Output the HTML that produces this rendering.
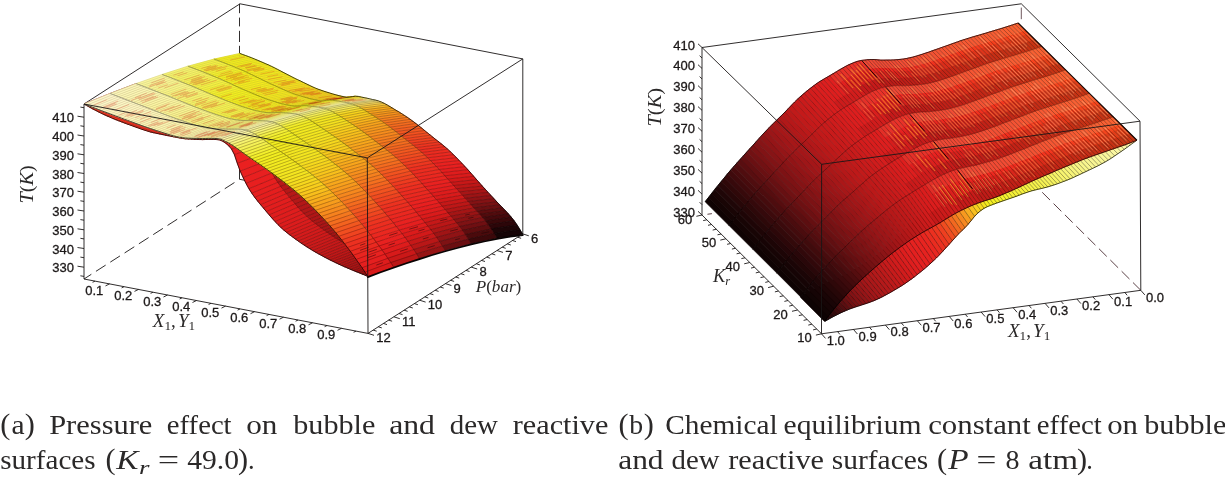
<!DOCTYPE html>
<html><head><meta charset="utf-8"><title>Reactive bubble and dew surfaces</title>
<style>
html,body{margin:0;padding:0;background:#fff}
body{width:1225px;height:479px;overflow:hidden}
svg{display:block}
.s{font-family:"Liberation Sans",sans-serif;font-size:13px;fill:#1c1818;stroke:#1c1818;stroke-width:.3px}
.m{font-family:"Liberation Serif",serif;font-style:italic;fill:#2b2929}
.r{font-family:"Liberation Serif",serif;fill:#2b2929}
</style></head><body>
<svg width="1225" height="479" viewBox="0 0 1225 479">
<g stroke="#1a1616" stroke-width=".9" fill="none">
<line x1="239.5" y1="179.3" x2="239.5" y2="168.8"/>
<line x1="239.5" y1="3.8" x2="239.5" y2="60.0" stroke-dasharray="9.4 4.4 8.8 4.4 11.2 3.8 12"/>
<line x1="239.5" y1="179.3" x2="84.0" y2="279.0" stroke-dasharray="0 6 11.5 5.5 11.5 5.5 11.5 5.5 11.5 5.5 11.5 5.5 11.5 5.5 11.5 5.5 11.5 5.5 11.5 5.5 11.5 5.5 11.5 5.5"/>
<line x1="239.5" y1="179.3" x2="522.8" y2="233.9" stroke-dasharray="7 5.5 19 5.5"/>
<line x1="84.0" y1="104.0" x2="240.0" y2="3.8"/>
<line x1="240.0" y1="3.8" x2="522.8" y2="58.9"/>
<line x1="522.8" y1="58.9" x2="522.8" y2="233.9"/>
<line x1="1021.3" y1="7.6" x2="1021.3" y2="19.2" stroke="#4a2c32" stroke-width=".8"/>
<g stroke="#4a2c32">
<line x1="1140.8" y1="290.3" x2="1021.3" y2="171.5" stroke-dasharray="11 5"/>
<line x1="702.0" y1="215.0" x2="1021.3" y2="171.5" stroke-dasharray="0 5.5 4.5 400"/>
</g>
<line x1="702.0" y1="47.5" x2="1021.3" y2="3.8"/>
<line x1="1021.3" y1="3.8" x2="1140.0" y2="121.2"/>
<line x1="1140.0" y1="121.2" x2="1140.8" y2="290.3"/>
</g>
<g fill="currentColor" stroke="currentColor" stroke-width=".7" stroke-linejoin="round">
<polygon points="110.0,93.5 112.9,95.1 138.9,85.2 136.0,83.6" color="#c02d1a"/>
<polygon points="112.9,95.1 115.8,96.7 141.8,86.8 138.9,85.2" color="#c02c1a"/>
<polygon points="115.8,96.7 118.7,98.3 144.7,88.3 141.8,86.8" color="#c02c1a"/>
<polygon points="118.7,98.3 121.6,99.8 147.5,89.9 144.7,88.3" color="#c02c1a"/>
<polygon points="121.6,99.8 124.4,101.3 150.4,91.3 147.5,89.9" color="#c02b1a"/>
<polygon points="124.4,101.3 127.3,102.7 153.3,92.7 150.4,91.3" color="#c02b1a"/>
<polygon points="127.3,102.7 130.2,104.1 156.2,94.1 153.3,92.7" color="#c02b1a"/>
<polygon points="130.2,104.1 133.1,105.4 159.1,95.4 156.2,94.1" color="#c02b1a"/>
<polygon points="133.1,105.4 136.0,106.7 162.0,96.7 159.1,95.4" color="#c02a1a"/>
<polygon points="136.0,106.7 138.9,107.9 164.9,98.0 162.0,96.7" color="#c02a1a"/>
<polygon points="138.9,107.9 141.8,109.1 167.8,99.2 164.9,98.0" color="#c02a1a"/>
<polygon points="141.8,109.1 144.7,110.3 170.7,100.5 167.8,99.2" color="#c0291a"/>
<polygon points="144.7,110.3 147.6,111.5 173.5,101.7 170.7,100.5" color="#c0291a"/>
<polygon points="147.6,111.5 150.5,112.7 176.4,102.9 173.5,101.7" color="#c0291a"/>
<polygon points="150.5,112.7 153.4,113.8 179.3,104.1 176.4,102.9" color="#bf291a"/>
<polygon points="153.4,113.8 156.2,114.9 182.2,105.3 179.3,104.1" color="#bf281a"/>
<polygon points="156.2,114.9 159.1,116.0 185.1,106.4 182.2,105.3" color="#bf281a"/>
<polygon points="159.1,116.0 162.0,117.1 188.0,107.6 185.1,106.4" color="#bf281a"/>
<polygon points="162.0,117.1 164.9,118.2 190.9,108.7 188.0,107.6" color="#bf271a"/>
<polygon points="164.9,118.2 167.8,119.2 193.8,109.8 190.9,108.7" color="#bf271a"/>
<polygon points="167.8,119.2 170.7,120.2 196.7,110.9 193.8,109.8" color="#bf271a"/>
<polygon points="170.7,120.2 173.6,121.2 199.6,111.9 196.7,110.9" color="#bf271a"/>
<polygon points="173.6,121.2 176.5,122.1 202.4,112.9 199.6,111.9" color="#bf261a"/>
<polygon points="176.5,122.1 179.4,122.9 205.3,113.7 202.4,112.9" color="#bf261a"/>
<polygon points="179.4,122.9 182.3,123.6 208.2,114.5 205.3,113.7" color="#bf261a"/>
<polygon points="182.3,123.6 185.2,124.2 211.1,115.2 208.2,114.5" color="#bf251a"/>
<polygon points="185.2,124.2 188.0,124.9 214.0,115.9 211.1,115.2" color="#bf251a"/>
<polygon points="188.0,124.9 190.9,125.5 216.9,116.6 214.0,115.9" color="#bf251a"/>
<polygon points="190.9,125.5 193.8,126.1 219.8,117.2 216.9,116.6" color="#bf251a"/>
<polygon points="193.8,126.1 196.7,126.7 222.7,117.8 219.8,117.2" color="#bf241a"/>
<polygon points="196.7,126.7 199.6,127.3 225.6,118.4 222.7,117.8" color="#bf241a"/>
<polygon points="199.6,127.3 202.5,127.9 228.5,119.0 225.6,118.4" color="#bf241a"/>
<polygon points="202.5,127.9 205.4,128.4 231.3,119.6 228.5,119.0" color="#bf231a"/>
<polygon points="205.4,128.4 208.3,129.0 234.2,120.2 231.3,119.6" color="#bf231a"/>
<polygon points="208.3,129.0 211.2,129.4 237.1,120.6 234.2,120.2" color="#bf231a"/>
<polygon points="211.2,129.4 214.1,129.6 240.0,121.0 237.1,120.6" color="#bf221a"/>
<polygon points="214.1,129.6 216.9,129.8 242.9,121.2 240.0,121.0" color="#bf221a"/>
<polygon points="216.9,129.8 219.8,129.9 245.8,121.3 242.9,121.2" color="#bf221a"/>
<polygon points="219.8,129.9 222.7,130.0 248.7,121.3 245.8,121.3" color="#bf221a"/>
<polygon points="222.7,130.0 225.6,130.0 251.6,121.3 248.7,121.3" color="#bf211a"/>
<polygon points="225.6,130.0 228.5,130.1 254.5,121.4 251.6,121.3" color="#bf211a"/>
<polygon points="228.5,130.1 231.4,130.2 257.4,121.5 254.5,121.4" color="#be211a"/>
<polygon points="231.4,130.2 234.3,130.2 260.2,121.6 257.4,121.5" color="#be201a"/>
<polygon points="234.3,130.2 237.2,130.2 263.1,121.7 260.2,121.6" color="#be201a"/>
<polygon points="237.2,130.2 240.1,130.3 266.0,121.9 263.1,121.7" color="#be201a"/>
<polygon points="240.1,130.3 243.0,130.6 268.9,122.2 266.0,121.9" color="#be1f1a"/>
<polygon points="243.0,130.6 245.9,131.0 271.8,122.7 268.9,122.2" color="#be1e1a"/>
<polygon points="245.9,131.0 248.7,132.2 274.7,123.9 271.8,122.7" color="#bd1e1a"/>
<polygon points="248.7,132.2 251.6,134.0 277.6,125.6 274.7,123.9" color="#bd1d1a"/>
<polygon points="251.6,134.0 254.5,136.5 280.5,128.0 277.6,125.6" color="#bd1c1a"/>
<polygon points="254.5,136.5 257.4,139.8 283.4,131.2 280.5,128.0" color="#bc1c1a"/>
<polygon points="257.4,139.8 260.3,145.2 286.3,136.4 283.4,131.2" color="#bc1b1a"/>
<polygon points="260.3,145.2 263.2,153.6 289.2,144.5 286.3,136.4" color="#bc1b1a"/>
<polygon points="263.2,153.6 266.1,161.1 292.1,151.7 289.2,144.5" color="#bb1a1a"/>
<polygon points="266.1,161.1 269.0,167.2 295.0,157.7 292.1,151.7" color="#bb1919"/>
<polygon points="269.0,167.2 271.9,173.0 297.9,163.2 295.0,157.7" color="#ba1919"/>
<polygon points="271.9,173.0 274.8,178.0 300.8,168.1 297.9,163.2" color="#b91919"/>
<polygon points="274.8,178.0 277.7,182.4 303.7,172.4 300.8,168.1" color="#b81919"/>
<polygon points="277.7,182.4 280.6,186.4 306.5,176.3 303.7,172.4" color="#b81919"/>
<polygon points="280.6,186.4 283.5,190.1 309.4,179.9 306.5,176.3" color="#b71818"/>
<polygon points="283.5,190.1 286.4,193.6 312.3,183.4 309.4,179.9" color="#b61818"/>
<polygon points="286.4,193.6 289.3,197.1 315.2,186.8 312.3,183.4" color="#b51818"/>
<polygon points="289.3,197.1 292.2,200.5 318.1,190.2 315.2,186.8" color="#b51818"/>
<polygon points="292.2,200.5 295.1,203.9 321.0,193.6 318.1,190.2" color="#b41818"/>
<polygon points="295.1,203.9 298.0,207.2 323.9,196.9 321.0,193.6" color="#b31717"/>
<polygon points="298.0,207.2 300.9,210.5 326.8,200.1 323.9,196.9" color="#b21717"/>
<polygon points="300.9,210.5 303.8,213.5 329.7,203.2 326.8,200.1" color="#b21717"/>
<polygon points="303.8,213.5 306.7,216.3 332.6,205.9 329.7,203.2" color="#b11717"/>
<polygon points="306.7,216.3 309.6,218.9 335.5,208.5 332.6,205.9" color="#b01616"/>
<polygon points="309.6,218.9 312.5,221.3 338.4,210.9 335.5,208.5" color="#af1616"/>
<polygon points="312.5,221.3 315.4,223.6 341.3,213.2 338.4,210.9" color="#ad1616"/>
<polygon points="315.4,223.6 318.3,225.8 344.2,215.5 341.3,213.2" color="#ac1616"/>
<polygon points="318.3,225.8 321.2,228.0 347.1,217.7 344.2,215.5" color="#aa1616"/>
<polygon points="321.2,228.0 324.1,230.1 350.0,219.8 347.1,217.7" color="#a91515"/>
<polygon points="324.1,230.1 327.0,232.2 352.9,222.0 350.0,219.8" color="#a71515"/>
<polygon points="327.0,232.2 329.9,234.2 355.8,224.1 352.9,222.0" color="#a51515"/>
<polygon points="329.9,234.2 332.8,236.2 358.7,226.1 355.8,224.1" color="#a41515"/>
<polygon points="332.8,236.2 335.7,238.1 361.6,228.1 358.7,226.1" color="#a21414"/>
<polygon points="335.7,238.1 338.6,239.9 364.5,230.0 361.6,228.1" color="#a11414"/>
<polygon points="338.6,239.9 341.5,241.7 367.4,231.9 364.5,230.0" color="#9f1414"/>
<polygon points="341.5,241.7 344.4,243.4 370.3,233.8 367.4,231.9" color="#9e1414"/>
<polygon points="344.4,243.4 347.3,245.1 373.2,235.5 370.3,233.8" color="#9c1414"/>
<polygon points="347.3,245.1 350.2,246.7 376.1,237.3 373.2,235.5" color="#9b1313"/>
<polygon points="350.2,246.7 353.1,248.3 378.9,238.9 376.1,237.3" color="#991313"/>
<polygon points="353.1,248.3 356.0,249.9 381.8,240.5 378.9,238.9" color="#971313"/>
<polygon points="356.0,249.9 358.9,251.4 384.7,242.1 381.8,240.5" color="#951212"/>
<polygon points="358.9,251.4 361.8,252.8 387.6,243.6 384.7,242.1" color="#931212"/>
<polygon points="361.8,252.8 364.7,254.2 390.5,245.0 387.6,243.6" color="#901111"/>
<polygon points="364.7,254.2 367.6,255.6 393.4,246.4 390.5,245.0" color="#8e1111"/>
<polygon points="367.6,255.6 370.5,256.9 396.3,247.7 393.4,246.4" color="#8c1111"/>
<polygon points="370.5,256.9 373.4,258.1 399.2,248.9 396.3,247.7" color="#8a1010"/>
<polygon points="373.4,258.1 376.3,259.4 402.1,250.1 399.2,248.9" color="#881010"/>
<polygon points="376.3,259.4 379.1,260.6 405.0,251.3 402.1,250.1" color="#860f0f"/>
<polygon points="379.1,260.6 382.0,261.8 407.9,252.6 405.0,251.3" color="#830f0f"/>
<polygon points="382.0,261.8 384.9,263.0 410.8,253.8 407.9,252.6" color="#810e0e"/>
<polygon points="384.9,263.0 387.8,264.3 413.7,255.2 410.8,253.8" color="#7f0e0e"/>
<polygon points="387.8,264.3 390.7,265.5 416.6,256.7 413.7,255.2" color="#7d0d0d"/>
<polygon points="390.7,265.5 393.6,267.1 419.5,258.5 416.6,256.7" color="#7b0d0d"/>
</g>
<path d="M110.0,93.5L136.0,83.6M112.9,95.1L138.9,85.2M115.8,96.7L141.8,86.8M118.7,98.3L144.7,88.3M121.6,99.8L147.5,89.9M124.4,101.3L150.4,91.3M127.3,102.7L153.3,92.7M130.2,104.1L156.2,94.1M133.1,105.4L159.1,95.4M136.0,106.7L162.0,96.7M138.9,107.9L164.9,98.0M141.8,109.1L167.8,99.2M144.7,110.3L170.7,100.5M147.6,111.5L173.5,101.7M150.5,112.7L176.4,102.9M153.4,113.8L179.3,104.1M156.2,114.9L182.2,105.3M159.1,116.0L185.1,106.4M162.0,117.1L188.0,107.6M164.9,118.2L190.9,108.7M167.8,119.2L193.8,109.8M170.7,120.2L196.7,110.9M173.6,121.2L199.6,111.9M176.5,122.1L202.4,112.9M179.4,122.9L205.3,113.7M182.3,123.6L208.2,114.5M185.2,124.2L211.1,115.2M188.0,124.9L214.0,115.9M190.9,125.5L216.9,116.6M193.8,126.1L219.8,117.2M196.7,126.7L222.7,117.8M199.6,127.3L225.6,118.4M202.5,127.9L228.5,119.0M205.4,128.4L231.3,119.6M208.3,129.0L234.2,120.2M211.2,129.4L237.1,120.6M214.1,129.6L240.0,121.0M216.9,129.8L242.9,121.2M219.8,129.9L245.8,121.3M222.7,130.0L248.7,121.3M225.6,130.0L251.6,121.3M228.5,130.1L254.5,121.4M231.4,130.2L257.4,121.5M234.3,130.2L260.2,121.6M237.2,130.2L263.1,121.7M240.1,130.3L266.0,121.9M243.0,130.6L268.9,122.2M245.9,131.0L271.8,122.7M248.7,132.2L274.7,123.9M251.6,134.0L277.6,125.6M254.5,136.5L280.5,128.0M257.4,139.8L283.4,131.2M260.3,145.2L286.3,136.4M263.2,153.6L289.2,144.5M266.1,161.1L292.1,151.7M269.0,167.2L295.0,157.7M271.9,173.0L297.9,163.2M274.8,178.0L300.8,168.1M277.7,182.4L303.7,172.4M280.6,186.4L306.5,176.3M283.5,190.1L309.4,179.9M286.4,193.6L312.3,183.4M289.3,197.1L315.2,186.8M292.2,200.5L318.1,190.2M295.1,203.9L321.0,193.6M298.0,207.2L323.9,196.9M300.9,210.5L326.8,200.1M303.8,213.5L329.7,203.2M306.7,216.3L332.6,205.9M309.6,218.9L335.5,208.5M312.5,221.3L338.4,210.9M315.4,223.6L341.3,213.2M318.3,225.8L344.2,215.5M321.2,228.0L347.1,217.7M324.1,230.1L350.0,219.8M327.0,232.2L352.9,222.0M329.9,234.2L355.8,224.1M332.8,236.2L358.7,226.1M335.7,238.1L361.6,228.1M338.6,239.9L364.5,230.0M341.5,241.7L367.4,231.9M344.4,243.4L370.3,233.8M347.3,245.1L373.2,235.5M350.2,246.7L376.1,237.3M353.1,248.3L378.9,238.9M356.0,249.9L381.8,240.5M358.9,251.4L384.7,242.1M361.8,252.8L387.6,243.6M364.7,254.2L390.5,245.0M367.6,255.6L393.4,246.4M370.5,256.9L396.3,247.7M373.4,258.1L399.2,248.9M376.3,259.4L402.1,250.1M379.1,260.6L405.0,251.3M382.0,261.8L407.9,252.6M384.9,263.0L410.8,253.8M387.8,264.3L413.7,255.2M390.7,265.5L416.6,256.7M393.6,267.1L419.5,258.5" fill="none" stroke="#000" stroke-opacity="0.60" stroke-width="0.40"/>
<path d="M136.0,83.6L138.9,85.2L141.8,86.8L144.7,88.3L147.5,89.9L150.4,91.3L153.3,92.7L156.2,94.1L159.1,95.4L162.0,96.7L164.9,98.0L167.8,99.2L170.7,100.5L173.5,101.7L176.4,102.9L179.3,104.1L182.2,105.3L185.1,106.4L188.0,107.6L190.9,108.7L193.8,109.8L196.7,110.9L199.6,111.9L202.4,112.9L205.3,113.7L208.2,114.5L211.1,115.2L214.0,115.9L216.9,116.6L219.8,117.2L222.7,117.8L225.6,118.4L228.5,119.0L231.3,119.6L234.2,120.2L237.1,120.6L240.0,121.0L242.9,121.2L245.8,121.3L248.7,121.3L251.6,121.3L254.5,121.4L257.4,121.5L260.2,121.6L263.1,121.7L266.0,121.9L268.9,122.2L271.8,122.7L274.7,123.9L277.6,125.6L280.5,128.0L283.4,131.2L286.3,136.4L289.2,144.5L292.1,151.7L295.0,157.7L297.9,163.2L300.8,168.1L303.7,172.4L306.5,176.3L309.4,179.9L312.3,183.4L315.2,186.8L318.1,190.2L321.0,193.6L323.9,196.9L326.8,200.1L329.7,203.2L332.6,205.9L335.5,208.5L338.4,210.9L341.3,213.2L344.2,215.5L347.1,217.7L350.0,219.8L352.9,222.0L355.8,224.1L358.7,226.1L361.6,228.1L364.5,230.0L367.4,231.9L370.3,233.8L373.2,235.5L376.1,237.3L378.9,238.9L381.8,240.5L384.7,242.1L387.6,243.6L390.5,245.0L393.4,246.4L396.3,247.7L399.2,248.9L402.1,250.1L405.0,251.3L407.9,252.6L410.8,253.8L413.7,255.2L416.6,256.7L419.5,258.5" fill="none" stroke="#000" stroke-opacity="0.85" stroke-width="0.85"/>
<path d="M110.0,93.5L112.9,95.1L115.8,96.7L118.7,98.3L121.6,99.8L124.4,101.3L127.3,102.7L130.2,104.1L133.1,105.4L136.0,106.7L138.9,107.9L141.8,109.1L144.7,110.3L147.6,111.5L150.5,112.7L153.4,113.8L156.2,114.9L159.1,116.0L162.0,117.1L164.9,118.2L167.8,119.2L170.7,120.2L173.6,121.2L176.5,122.1L179.4,122.9L182.3,123.6L185.2,124.2L188.0,124.9L190.9,125.5L193.8,126.1L196.7,126.7L199.6,127.3L202.5,127.9L205.4,128.4L208.3,129.0L211.2,129.4L214.1,129.6L216.9,129.8L219.8,129.9L222.7,130.0L225.6,130.0L228.5,130.1L231.4,130.2L234.3,130.2L237.2,130.2L240.1,130.3L243.0,130.6L245.9,131.0L248.7,132.2L251.6,134.0L254.5,136.5L257.4,139.8L260.3,145.2L263.2,153.6L266.1,161.1L269.0,167.2L271.9,173.0L274.8,178.0L277.7,182.4L280.6,186.4L283.5,190.1L286.4,193.6L289.3,197.1L292.2,200.5L295.1,203.9L298.0,207.2L300.9,210.5L303.8,213.5L306.7,216.3L309.6,218.9L312.5,221.3L315.4,223.6L318.3,225.8L321.2,228.0L324.1,230.1L327.0,232.2L329.9,234.2L332.8,236.2L335.7,238.1L338.6,239.9L341.5,241.7L344.4,243.4L347.3,245.1L350.2,246.7L353.1,248.3L356.0,249.9L358.9,251.4L361.8,252.8L364.7,254.2L367.6,255.6L370.5,256.9L373.4,258.1L376.3,259.4L379.1,260.6L382.0,261.8L384.9,263.0L387.8,264.3L390.7,265.5L393.6,267.1" fill="none" stroke="#000" stroke-opacity="0.65" stroke-width="0.45"/>
<g fill="currentColor" stroke="currentColor" stroke-width=".7" stroke-linejoin="round">
<polygon points="84.0,104.0 86.9,105.7 112.9,95.1 110.0,93.5" color="#f03820"/>
<polygon points="86.9,105.7 89.8,107.3 115.8,96.7 112.9,95.1" color="#f03720"/>
<polygon points="89.8,107.3 92.7,108.9 118.7,98.3 115.8,96.7" color="#f03720"/>
<polygon points="92.7,108.9 95.6,110.4 121.6,99.8 118.7,98.3" color="#f03720"/>
<polygon points="95.6,110.4 98.5,111.9 124.4,101.3 121.6,99.8" color="#f03620"/>
<polygon points="98.5,111.9 101.3,113.3 127.3,102.7 124.4,101.3" color="#f03620"/>
<polygon points="101.3,113.3 104.2,114.7 130.2,104.1 127.3,102.7" color="#f03620"/>
<polygon points="104.2,114.7 107.1,116.0 133.1,105.4 130.2,104.1" color="#f03520"/>
<polygon points="107.1,116.0 110.0,117.2 136.0,106.7 133.1,105.4" color="#f03520"/>
<polygon points="110.0,117.2 112.9,118.5 138.9,107.9 136.0,106.7" color="#f03520"/>
<polygon points="112.9,118.5 115.8,119.7 141.8,109.1 138.9,107.9" color="#f03420"/>
<polygon points="115.8,119.7 118.7,120.8 144.7,110.3 141.8,109.1" color="#ef3420"/>
<polygon points="118.7,120.8 121.6,121.9 147.6,111.5 144.7,110.3" color="#ef3320"/>
<polygon points="121.6,121.9 124.5,123.0 150.5,112.7 147.6,111.5" color="#ef3320"/>
<polygon points="124.5,123.0 127.4,124.1 153.4,113.8 150.5,112.7" color="#ef3320"/>
<polygon points="127.4,124.1 130.3,125.1 156.2,114.9 153.4,113.8" color="#ef3220"/>
<polygon points="130.3,125.1 133.2,126.2 159.1,116.0 156.2,114.9" color="#ef3220"/>
<polygon points="133.2,126.2 136.0,127.2 162.0,117.1 159.1,116.0" color="#ef3220"/>
<polygon points="136.0,127.2 138.9,128.2 164.9,118.2 162.0,117.1" color="#ef3120"/>
<polygon points="138.9,128.2 141.8,129.3 167.8,119.2 164.9,118.2" color="#ef3120"/>
<polygon points="141.8,129.3 144.7,130.2 170.7,120.2 167.8,119.2" color="#ef3120"/>
<polygon points="144.7,130.2 147.6,131.1 173.6,121.2 170.7,120.2" color="#ef3020"/>
<polygon points="147.6,131.1 150.5,132.0 176.5,122.1 173.6,121.2" color="#ef3020"/>
<polygon points="150.5,132.0 153.4,132.7 179.4,122.9 176.5,122.1" color="#ef2f20"/>
<polygon points="153.4,132.7 156.3,133.3 182.3,123.6 179.4,122.9" color="#ef2f20"/>
<polygon points="156.3,133.3 159.2,133.9 185.2,124.2 182.3,123.6" color="#ef2f20"/>
<polygon points="159.2,133.9 162.1,134.5 188.0,124.9 185.2,124.2" color="#ef2e20"/>
<polygon points="162.1,134.5 165.0,135.1 190.9,125.5 188.0,124.9" color="#ef2e20"/>
<polygon points="165.0,135.1 167.9,135.7 193.8,126.1 190.9,125.5" color="#ef2e20"/>
<polygon points="167.9,135.7 170.7,136.2 196.7,126.7 193.8,126.1" color="#ef2d20"/>
<polygon points="170.7,136.2 173.6,136.8 199.6,127.3 196.7,126.7" color="#ef2d20"/>
<polygon points="173.6,136.8 176.5,137.4 202.5,127.9 199.6,127.3" color="#ef2d20"/>
<polygon points="176.5,137.4 179.4,137.9 205.4,128.4 202.5,127.9" color="#ef2c20"/>
<polygon points="179.4,137.9 182.3,138.4 208.3,129.0 205.4,128.4" color="#ee2c20"/>
<polygon points="182.3,138.4 185.2,138.8 211.2,129.4 208.3,129.0" color="#ee2b20"/>
<polygon points="185.2,138.8 188.1,139.0 214.1,129.6 211.2,129.4" color="#ee2b20"/>
<polygon points="188.1,139.0 191.0,139.1 216.9,129.8 214.1,129.6" color="#ee2b20"/>
<polygon points="191.0,139.1 193.9,139.3 219.8,129.9 216.9,129.8" color="#ee2a20"/>
<polygon points="193.9,139.3 196.8,139.4 222.7,130.0 219.8,129.9" color="#ee2a20"/>
<polygon points="196.8,139.4 199.7,139.5 225.6,130.0 222.7,130.0" color="#ee2a20"/>
<polygon points="199.7,139.5 202.5,139.6 228.5,130.1 225.6,130.0" color="#ee2920"/>
<polygon points="202.5,139.6 205.4,139.5 231.4,130.2 228.5,130.1" color="#ee2920"/>
<polygon points="205.4,139.5 208.3,139.4 234.3,130.2 231.4,130.2" color="#ee2920"/>
<polygon points="208.3,139.4 211.2,139.4 237.2,130.2 234.3,130.2" color="#ee2820"/>
<polygon points="211.2,139.4 214.1,139.4 240.1,130.3 237.2,130.2" color="#ee2820"/>
<polygon points="214.1,139.4 217.0,139.6 243.0,130.6 240.1,130.3" color="#ed2720"/>
<polygon points="217.0,139.6 219.9,140.0 245.9,131.0 243.0,130.6" color="#ed2620"/>
<polygon points="219.9,140.0 222.8,141.3 248.7,132.2 245.9,131.0" color="#ed2520"/>
<polygon points="222.8,141.3 225.7,143.2 251.6,134.0 248.7,132.2" color="#ec2420"/>
<polygon points="225.7,143.2 228.6,145.7 254.5,136.5 251.6,134.0" color="#ec2420"/>
<polygon points="228.6,145.7 231.5,149.0 257.4,139.8 254.5,136.5" color="#eb2320"/>
<polygon points="231.5,149.0 234.4,154.6 260.3,145.2 257.4,139.8" color="#eb2220"/>
<polygon points="234.4,154.6 237.3,163.3 263.2,153.6 260.3,145.2" color="#eb2120"/>
<polygon points="237.3,163.3 240.2,171.1 266.1,161.1 263.2,153.6" color="#ea2020"/>
<polygon points="240.2,171.1 243.1,177.5 269.0,167.2 266.1,161.1" color="#e92020"/>
<polygon points="243.1,177.5 246.0,183.4 271.9,173.0 269.0,167.2" color="#e82020"/>
<polygon points="246.0,183.4 248.9,188.7 274.8,178.0 271.9,173.0" color="#e81f1f"/>
<polygon points="248.9,188.7 251.8,193.2 277.7,182.4 274.8,178.0" color="#e71f1f"/>
<polygon points="251.8,193.2 254.7,197.3 280.6,186.4 277.7,182.4" color="#e61f1f"/>
<polygon points="254.7,197.3 257.6,201.0 283.5,190.1 280.6,186.4" color="#e51e1e"/>
<polygon points="257.6,201.0 260.5,204.6 286.4,193.6 283.5,190.1" color="#e41e1e"/>
<polygon points="260.5,204.6 263.4,208.0 289.3,197.1 286.4,193.6" color="#e31e1e"/>
<polygon points="263.4,208.0 266.3,211.5 292.2,200.5 289.3,197.1" color="#e21e1e"/>
<polygon points="266.3,211.5 269.2,214.9 295.1,203.9 292.2,200.5" color="#e11d1d"/>
<polygon points="269.2,214.9 272.1,218.3 298.0,207.2 295.1,203.9" color="#e01d1d"/>
<polygon points="272.1,218.3 275.0,221.5 300.9,210.5 298.0,207.2" color="#df1d1d"/>
<polygon points="275.0,221.5 277.9,224.6 303.8,213.5 300.9,210.5" color="#de1d1d"/>
<polygon points="277.9,224.6 280.8,227.4 306.7,216.3 303.8,213.5" color="#dd1c1c"/>
<polygon points="280.8,227.4 283.7,230.0 309.6,218.9 306.7,216.3" color="#dc1c1c"/>
<polygon points="283.7,230.0 286.6,232.4 312.5,221.3 309.6,218.9" color="#da1c1c"/>
<polygon points="286.6,232.4 289.5,234.7 315.4,223.6 312.5,221.3" color="#d81b1b"/>
<polygon points="289.5,234.7 292.4,236.8 318.3,225.8 315.4,223.6" color="#d61b1b"/>
<polygon points="292.4,236.8 295.3,239.0 321.2,228.0 318.3,225.8" color="#d51b1b"/>
<polygon points="295.3,239.0 298.2,241.0 324.1,230.1 321.2,228.0" color="#d31b1b"/>
<polygon points="298.2,241.0 301.1,243.1 327.0,232.2 324.1,230.1" color="#d11a1a"/>
<polygon points="301.1,243.1 304.0,245.0 329.9,234.2 327.0,232.2" color="#cf1a1a"/>
<polygon points="304.0,245.0 306.9,246.9 332.8,236.2 329.9,234.2" color="#cd1a1a"/>
<polygon points="306.9,246.9 309.8,248.7 335.7,238.1 332.8,236.2" color="#cb1a1a"/>
<polygon points="309.8,248.7 312.7,250.5 338.6,239.9 335.7,238.1" color="#c91919"/>
<polygon points="312.7,250.5 315.6,252.2 341.5,241.7 338.6,239.9" color="#c71919"/>
<polygon points="315.6,252.2 318.5,253.8 344.4,243.4 341.5,241.7" color="#c51919"/>
<polygon points="318.5,253.8 321.4,255.4 347.3,245.1 344.4,243.4" color="#c31818"/>
<polygon points="321.4,255.4 324.3,257.0 350.2,246.7 347.3,245.1" color="#c21818"/>
<polygon points="324.3,257.0 327.2,258.5 353.1,248.3 350.2,246.7" color="#bf1818"/>
<polygon points="327.2,258.5 330.1,260.0 356.0,249.9 353.1,248.3" color="#bd1717"/>
<polygon points="330.1,260.0 333.0,261.4 358.9,251.4 356.0,249.9" color="#ba1717"/>
<polygon points="333.0,261.4 335.9,262.8 361.8,252.8 358.9,251.4" color="#b71616"/>
<polygon points="335.9,262.8 338.8,264.2 364.7,254.2 361.8,252.8" color="#b51616"/>
<polygon points="338.8,264.2 341.7,265.5 367.6,255.6 364.7,254.2" color="#b21515"/>
<polygon points="341.7,265.5 344.6,266.8 370.5,256.9 367.6,255.6" color="#af1515"/>
<polygon points="344.6,266.8 347.5,268.0 373.4,258.1 370.5,256.9" color="#ac1414"/>
<polygon points="347.5,268.0 350.4,269.3 376.3,259.4 373.4,258.1" color="#aa1414"/>
<polygon points="350.4,269.3 353.3,270.5 379.1,260.6 376.3,259.4" color="#a71313"/>
<polygon points="353.3,270.5 356.2,271.7 382.0,261.8 379.1,260.6" color="#a41212"/>
<polygon points="356.2,271.7 359.1,272.8 384.9,263.0 382.0,261.8" color="#a21212"/>
<polygon points="359.1,272.8 362.0,274.0 387.8,264.3 384.9,263.0" color="#9f1111"/>
<polygon points="362.0,274.0 364.9,275.1 390.7,265.5 387.8,264.3" color="#9c1111"/>
<polygon points="364.9,275.1 367.8,276.5 393.6,267.1 390.7,265.5" color="#991010"/>
</g>
<path d="M84.0,104.0L110.0,93.5M86.9,105.7L112.9,95.1M89.8,107.3L115.8,96.7M92.7,108.9L118.7,98.3M95.6,110.4L121.6,99.8M98.5,111.9L124.4,101.3M101.3,113.3L127.3,102.7M104.2,114.7L130.2,104.1M107.1,116.0L133.1,105.4M110.0,117.2L136.0,106.7M112.9,118.5L138.9,107.9M115.8,119.7L141.8,109.1M118.7,120.8L144.7,110.3M121.6,121.9L147.6,111.5M124.5,123.0L150.5,112.7M127.4,124.1L153.4,113.8M130.3,125.1L156.2,114.9M133.2,126.2L159.1,116.0M136.0,127.2L162.0,117.1M138.9,128.2L164.9,118.2M141.8,129.3L167.8,119.2M144.7,130.2L170.7,120.2M147.6,131.1L173.6,121.2M150.5,132.0L176.5,122.1M153.4,132.7L179.4,122.9M156.3,133.3L182.3,123.6M159.2,133.9L185.2,124.2M162.1,134.5L188.0,124.9M165.0,135.1L190.9,125.5M167.9,135.7L193.8,126.1M170.7,136.2L196.7,126.7M173.6,136.8L199.6,127.3M176.5,137.4L202.5,127.9M179.4,137.9L205.4,128.4M182.3,138.4L208.3,129.0M185.2,138.8L211.2,129.4M188.1,139.0L214.1,129.6M191.0,139.1L216.9,129.8M193.9,139.3L219.8,129.9M196.8,139.4L222.7,130.0M199.7,139.5L225.6,130.0M202.5,139.6L228.5,130.1M205.4,139.5L231.4,130.2M208.3,139.4L234.3,130.2M211.2,139.4L237.2,130.2M214.1,139.4L240.1,130.3M217.0,139.6L243.0,130.6M219.9,140.0L245.9,131.0M222.8,141.3L248.7,132.2M225.7,143.2L251.6,134.0M228.6,145.7L254.5,136.5M231.5,149.0L257.4,139.8M234.4,154.6L260.3,145.2M237.3,163.3L263.2,153.6M240.2,171.1L266.1,161.1M243.1,177.5L269.0,167.2M246.0,183.4L271.9,173.0M248.9,188.7L274.8,178.0M251.8,193.2L277.7,182.4M254.7,197.3L280.6,186.4M257.6,201.0L283.5,190.1M260.5,204.6L286.4,193.6M263.4,208.0L289.3,197.1M266.3,211.5L292.2,200.5M269.2,214.9L295.1,203.9M272.1,218.3L298.0,207.2M275.0,221.5L300.9,210.5M277.9,224.6L303.8,213.5M280.8,227.4L306.7,216.3M283.7,230.0L309.6,218.9M286.6,232.4L312.5,221.3M289.5,234.7L315.4,223.6M292.4,236.8L318.3,225.8M295.3,239.0L321.2,228.0M298.2,241.0L324.1,230.1M301.1,243.1L327.0,232.2M304.0,245.0L329.9,234.2M306.9,246.9L332.8,236.2M309.8,248.7L335.7,238.1M312.7,250.5L338.6,239.9M315.6,252.2L341.5,241.7M318.5,253.8L344.4,243.4M321.4,255.4L347.3,245.1M324.3,257.0L350.2,246.7M327.2,258.5L353.1,248.3M330.1,260.0L356.0,249.9M333.0,261.4L358.9,251.4M335.9,262.8L361.8,252.8M338.8,264.2L364.7,254.2M341.7,265.5L367.6,255.6M344.6,266.8L370.5,256.9M347.5,268.0L373.4,258.1M350.4,269.3L376.3,259.4M353.3,270.5L379.1,260.6M356.2,271.7L382.0,261.8M359.1,272.8L384.9,263.0M362.0,274.0L387.8,264.3M364.9,275.1L390.7,265.5M367.8,276.5L393.6,267.1" fill="none" stroke="#000" stroke-opacity="0.60" stroke-width="0.40"/>
<path d="M110.0,93.5L112.9,95.1L115.8,96.7L118.7,98.3L121.6,99.8L124.4,101.3L127.3,102.7L130.2,104.1L133.1,105.4L136.0,106.7L138.9,107.9L141.8,109.1L144.7,110.3L147.6,111.5L150.5,112.7L153.4,113.8L156.2,114.9L159.1,116.0L162.0,117.1L164.9,118.2L167.8,119.2L170.7,120.2L173.6,121.2L176.5,122.1L179.4,122.9L182.3,123.6L185.2,124.2L188.0,124.9L190.9,125.5L193.8,126.1L196.7,126.7L199.6,127.3L202.5,127.9L205.4,128.4L208.3,129.0L211.2,129.4L214.1,129.6L216.9,129.8L219.8,129.9L222.7,130.0L225.6,130.0L228.5,130.1L231.4,130.2L234.3,130.2L237.2,130.2L240.1,130.3L243.0,130.6L245.9,131.0L248.7,132.2L251.6,134.0L254.5,136.5L257.4,139.8L260.3,145.2L263.2,153.6L266.1,161.1L269.0,167.2L271.9,173.0L274.8,178.0L277.7,182.4L280.6,186.4L283.5,190.1L286.4,193.6L289.3,197.1L292.2,200.5L295.1,203.9L298.0,207.2L300.9,210.5L303.8,213.5L306.7,216.3L309.6,218.9L312.5,221.3L315.4,223.6L318.3,225.8L321.2,228.0L324.1,230.1L327.0,232.2L329.9,234.2L332.8,236.2L335.7,238.1L338.6,239.9L341.5,241.7L344.4,243.4L347.3,245.1L350.2,246.7L353.1,248.3L356.0,249.9L358.9,251.4L361.8,252.8L364.7,254.2L367.6,255.6L370.5,256.9L373.4,258.1L376.3,259.4L379.1,260.6L382.0,261.8L384.9,263.0L387.8,264.3L390.7,265.5L393.6,267.1" fill="none" stroke="#000" stroke-opacity="0.65" stroke-width="0.45"/>
<path d="M84.0,104.0L86.9,105.7L89.8,107.3L92.7,108.9L95.6,110.4L98.5,111.9L101.3,113.3L104.2,114.7L107.1,116.0L110.0,117.2L112.9,118.5L115.8,119.7L118.7,120.8L121.6,121.9L124.5,123.0L127.4,124.1L130.3,125.1L133.2,126.2L136.0,127.2L138.9,128.2L141.8,129.3L144.7,130.2L147.6,131.1L150.5,132.0L153.4,132.7L156.3,133.3L159.2,133.9L162.1,134.5L165.0,135.1L167.9,135.7L170.7,136.2L173.6,136.8L176.5,137.4L179.4,137.9L182.3,138.4L185.2,138.8L188.1,139.0L191.0,139.1L193.9,139.3L196.8,139.4L199.7,139.5L202.5,139.6L205.4,139.5L208.3,139.4L211.2,139.4L214.1,139.4L217.0,139.6L219.9,140.0L222.8,141.3L225.7,143.2L228.6,145.7L231.5,149.0L234.4,154.6L237.3,163.3L240.2,171.1L243.1,177.5L246.0,183.4L248.9,188.7L251.8,193.2L254.7,197.3L257.6,201.0L260.5,204.6L263.4,208.0L266.3,211.5L269.2,214.9L272.1,218.3L275.0,221.5L277.9,224.6L280.8,227.4L283.7,230.0L286.6,232.4L289.5,234.7L292.4,236.8L295.3,239.0L298.2,241.0L301.1,243.1L304.0,245.0L306.9,246.9L309.8,248.7L312.7,250.5L315.6,252.2L318.5,253.8L321.4,255.4L324.3,257.0L327.2,258.5L330.1,260.0L333.0,261.4L335.9,262.8L338.8,264.2L341.7,265.5L344.6,266.8L347.5,268.0L350.4,269.3L353.3,270.5L356.2,271.7L359.1,272.8L362.0,274.0L364.9,275.1L367.8,276.5" fill="none" stroke="#000" stroke-opacity="0.85" stroke-width="0.85"/>
<g fill="currentColor" stroke="currentColor" stroke-width=".7" stroke-linejoin="round">
<polygon points="213.9,59.1 216.8,60.1 242.7,54.5 239.9,53.4" color="#f2ed20"/>
<polygon points="216.8,60.1 219.7,61.2 245.6,55.5 242.7,54.5" color="#f2ed20"/>
<polygon points="219.7,61.2 222.6,62.3 248.5,56.6 245.6,55.5" color="#f2ed20"/>
<polygon points="222.6,62.3 225.5,63.4 251.4,57.7 248.5,56.6" color="#f2ec20"/>
<polygon points="225.5,63.4 228.3,64.6 254.3,58.9 251.4,57.7" color="#f2ec20"/>
<polygon points="228.3,64.6 231.2,65.7 257.2,60.1 254.3,58.9" color="#f2ec20"/>
<polygon points="231.2,65.7 234.1,66.9 260.1,61.3 257.2,60.1" color="#f3eb20"/>
<polygon points="234.1,66.9 237.0,68.1 262.9,62.5 260.1,61.3" color="#f3eb20"/>
<polygon points="237.0,68.1 239.9,69.3 265.8,63.8 262.9,62.5" color="#f3ea20"/>
<polygon points="239.9,69.3 242.8,70.5 268.7,65.0 265.8,63.8" color="#f3ea20"/>
<polygon points="242.8,70.5 245.7,71.8 271.6,66.4 268.7,65.0" color="#f3e920"/>
<polygon points="245.7,71.8 248.5,73.2 274.5,67.8 271.6,66.4" color="#f3e920"/>
<polygon points="248.5,73.2 251.4,74.6 277.4,69.3 274.5,67.8" color="#f3e820"/>
<polygon points="251.4,74.6 254.3,76.0 280.3,70.8 277.4,69.3" color="#f3e820"/>
<polygon points="254.3,76.0 257.2,77.4 283.1,72.3 280.3,70.8" color="#f3e720"/>
<polygon points="257.2,77.4 260.1,78.8 286.0,73.8 283.1,72.3" color="#f3e720"/>
<polygon points="260.1,78.8 263.0,80.2 288.9,75.3 286.0,73.8" color="#f4e620"/>
<polygon points="263.0,80.2 265.9,81.6 291.8,76.8 288.9,75.3" color="#f4e520"/>
<polygon points="265.9,81.6 268.8,83.0 294.7,78.3 291.8,76.8" color="#f4e520"/>
<polygon points="268.8,83.0 271.6,84.3 297.6,79.7 294.7,78.3" color="#f4e420"/>
<polygon points="271.6,84.3 274.5,85.6 300.5,81.0 297.6,79.7" color="#f4e320"/>
<polygon points="274.5,85.6 277.4,86.9 303.3,82.4 300.5,81.0" color="#f5e11f"/>
<polygon points="277.4,86.9 280.3,88.2 306.2,83.8 303.3,82.4" color="#f5df1f"/>
<polygon points="280.3,88.2 283.2,89.5 309.1,85.2 306.2,83.8" color="#f5dd1f"/>
<polygon points="283.2,89.5 286.1,90.8 312.0,86.6 309.1,85.2" color="#f5db1f"/>
<polygon points="286.1,90.8 289.0,92.0 314.9,87.9 312.0,86.6" color="#f6d91e"/>
<polygon points="289.0,92.0 291.8,93.1 317.8,89.1 314.9,87.9" color="#f6d81e"/>
<polygon points="291.8,93.1 294.7,94.2 320.7,90.1 317.8,89.1" color="#f6d61e"/>
<polygon points="294.7,94.2 297.6,95.1 323.5,91.1 320.7,90.1" color="#f7d51d"/>
<polygon points="297.6,95.1 300.5,96.0 326.4,92.0 323.5,91.1" color="#f7d41d"/>
<polygon points="300.5,96.0 303.4,96.9 329.3,92.9 326.4,92.0" color="#f7d31d"/>
<polygon points="303.4,96.9 306.3,97.7 332.2,93.8 329.3,92.9" color="#f7d21d"/>
<polygon points="306.3,97.7 309.2,98.5 335.1,94.6 332.2,93.8" color="#f7d21d"/>
<polygon points="309.2,98.5 312.1,99.2 338.0,95.4 335.1,94.6" color="#f7d11d"/>
<polygon points="312.1,99.2 315.0,99.8 340.9,96.1 338.0,95.4" color="#f7d11d"/>
<polygon points="315.0,99.8 317.8,100.4 343.8,96.7 340.9,96.1" color="#f7d11d"/>
<polygon points="317.8,100.4 320.7,100.8 346.6,97.2 343.8,96.7" color="#f7d11d"/>
<polygon points="320.7,100.8 323.6,100.7 349.5,97.0 346.6,97.2" color="#f7d21d"/>
<polygon points="323.6,100.7 326.5,100.3 352.4,96.6 349.5,97.0" color="#f7d41d"/>
<polygon points="326.5,100.3 329.4,100.1 355.3,96.2 352.4,96.6" color="#f6d61e"/>
<polygon points="329.4,100.1 332.3,100.2 358.2,96.4 355.3,96.2" color="#f6d81e"/>
<polygon points="332.3,100.2 335.2,100.7 361.1,97.0 358.2,96.4" color="#f6da26"/>
<polygon points="335.2,100.7 338.1,101.1 364.0,97.6 361.1,97.0" color="#f7df3e"/>
<polygon points="338.1,101.1 341.0,101.6 366.9,98.2 364.0,97.6" color="#f8e456"/>
<polygon points="341.0,101.6 343.8,102.1 369.7,98.8 366.9,98.2" color="#f9e86e"/>
<polygon points="343.8,102.1 346.7,102.6 372.6,99.5 369.7,98.8" color="#faec86"/>
<polygon points="346.7,102.6 349.6,103.2 375.5,100.1 372.6,99.5" color="#fbf19e"/>
<polygon points="349.6,103.2 352.5,104.1 378.4,100.9 375.5,100.1" color="#faeb88"/>
<polygon points="352.5,104.1 355.4,105.2 381.3,102.0 378.4,100.9" color="#fae270"/>
<polygon points="355.4,105.2 358.3,106.6 384.2,103.3 381.3,102.0" color="#f9d757"/>
<polygon points="358.3,106.6 361.2,108.2 387.1,104.9 384.2,103.3" color="#f9ca3f"/>
<polygon points="361.2,108.2 364.1,109.9 390.0,106.6 387.1,104.9" color="#f8b927"/>
<polygon points="364.1,109.9 366.9,111.7 392.8,108.3 390.0,106.6" color="#f8ac1c"/>
<polygon points="366.9,111.7 369.8,113.6 395.7,110.1 392.8,108.3" color="#f8a31c"/>
<polygon points="369.8,113.6 372.7,115.3 398.6,111.7 395.7,110.1" color="#f79b1d"/>
<polygon points="372.7,115.3 375.6,117.2 401.5,113.5 398.6,111.7" color="#f7931d"/>
<polygon points="375.6,117.2 378.5,119.1 404.4,115.4 401.5,113.5" color="#f78b1d"/>
<polygon points="378.5,119.1 381.4,121.0 407.3,117.3 404.4,115.4" color="#f6831e"/>
<polygon points="381.4,121.0 384.3,123.0 410.2,119.3 407.3,117.3" color="#f5791e"/>
<polygon points="384.3,123.0 387.2,125.1 413.1,121.4 410.2,119.3" color="#f5721f"/>
<polygon points="387.2,125.1 390.0,127.2 415.9,123.5 413.1,121.4" color="#f46c1f"/>
<polygon points="390.0,127.2 392.9,129.4 418.8,125.8 415.9,123.5" color="#f4661f"/>
<polygon points="392.9,129.4 395.8,131.6 421.7,128.1 418.8,125.8" color="#f35f1f"/>
<polygon points="395.8,131.6 398.7,134.0 424.6,130.5 421.7,128.1" color="#f25820"/>
<polygon points="398.7,134.0 401.6,136.3 427.5,132.9 424.6,130.5" color="#f25220"/>
<polygon points="401.6,136.3 404.5,138.6 430.4,135.2 427.5,132.9" color="#f14c20"/>
<polygon points="404.5,138.6 407.4,140.8 433.3,137.5 430.4,135.2" color="#f04720"/>
<polygon points="407.4,140.8 410.3,143.1 436.1,139.8 433.3,137.5" color="#ef4120"/>
<polygon points="410.3,143.1 413.2,145.3 439.0,142.0 436.1,139.8" color="#ee3c20"/>
<polygon points="413.2,145.3 416.0,147.6 441.9,144.3 439.0,142.0" color="#ed3620"/>
<polygon points="416.0,147.6 418.9,150.0 444.8,146.7 441.9,144.3" color="#ec3120"/>
<polygon points="418.9,150.0 421.8,152.5 447.7,149.2 444.8,146.7" color="#ec2e20"/>
<polygon points="421.8,152.5 424.7,155.1 450.6,151.9 447.7,149.2" color="#eb2c20"/>
<polygon points="424.7,155.1 427.6,157.8 453.5,154.7 450.6,151.9" color="#ea2a20"/>
<polygon points="427.6,157.8 430.5,160.6 456.4,157.6 453.5,154.7" color="#ea2720"/>
<polygon points="430.5,160.6 433.4,163.5 459.2,160.5 456.4,157.6" color="#e92520"/>
<polygon points="433.4,163.5 436.3,166.5 462.1,163.5 459.2,160.5" color="#e92220"/>
<polygon points="436.3,166.5 439.2,169.5 465.0,166.6 462.1,163.5" color="#e82020"/>
<polygon points="439.2,169.5 442.0,172.6 467.9,169.7 465.0,166.6" color="#e31e1e"/>
<polygon points="442.0,172.6 444.9,175.8 470.8,173.0 467.9,169.7" color="#df1d1d"/>
<polygon points="444.9,175.8 447.8,179.0 473.7,176.3 470.8,173.0" color="#da1b1b"/>
<polygon points="447.8,179.0 450.7,182.3 476.6,179.6 473.7,176.3" color="#d31919"/>
<polygon points="450.7,182.3 453.6,185.5 479.5,182.9 476.6,179.6" color="#c81818"/>
<polygon points="453.6,185.5 456.5,188.7 482.3,186.1 479.5,182.9" color="#be1717"/>
<polygon points="456.5,188.7 459.4,191.9 485.2,189.2 482.3,186.1" color="#b41616"/>
<polygon points="459.4,191.9 462.3,195.1 488.1,192.4 485.2,189.2" color="#a81516"/>
<polygon points="462.3,195.1 465.2,198.3 491.0,195.5 488.1,192.4" color="#9c1415"/>
<polygon points="465.2,198.3 468.1,201.5 493.9,198.6 491.0,195.5" color="#901315"/>
<polygon points="468.1,201.5 471.0,204.7 496.8,201.8 493.9,198.6" color="#841214"/>
<polygon points="471.0,204.7 473.8,207.9 499.7,204.8 496.8,201.8" color="#771113"/>
<polygon points="473.8,207.9 476.7,211.1 502.6,207.8 499.7,204.8" color="#6a0f11"/>
<polygon points="476.7,211.1 479.6,214.2 505.5,210.7 502.6,207.8" color="#5e0d0f"/>
<polygon points="479.6,214.2 482.5,217.5 508.3,213.8 505.5,210.7" color="#510b0d"/>
<polygon points="482.5,217.5 485.4,221.0 511.2,217.1 508.3,213.8" color="#45090c"/>
<polygon points="485.4,221.0 488.3,224.7 514.1,220.7 511.2,217.1" color="#39080a"/>
<polygon points="488.3,224.7 491.2,228.9 517.0,224.9 514.1,220.7" color="#2c0609"/>
<polygon points="491.2,228.9 494.1,233.5 519.9,229.5 517.0,224.9" color="#1d0507"/>
<polygon points="494.1,233.5 497.0,238.3 522.8,234.5 519.9,229.5" color="#160406"/>
</g>
<path d="M230.3,60.0L244.7,56.9M237.3,66.6L252.0,63.3M240.5,66.8L251.0,64.4M245.1,67.6L255.4,65.3M245.8,68.4L256.9,65.9M246.9,70.0L261.5,66.9M246.7,71.1L260.4,68.0M253.0,70.6L264.3,68.2M254.1,71.4L264.4,69.2M260.4,74.1L274.4,71.3M267.3,76.7L278.2,74.6M268.1,79.6L282.3,76.9M273.6,82.5L286.3,80.1M281.6,82.8L295.2,80.5M278.0,84.4L294.1,81.5M281.5,84.7L296.1,82.1M280.6,85.8L290.1,84.0M288.6,90.7L305.0,87.9M294.9,90.4L309.9,88.1M292.3,91.8L302.5,90.0M299.5,91.3L313.9,89.2M301.8,93.3L318.2,90.8M299.9,94.3L314.5,92.0M303.1,94.5L313.1,92.8M306.5,94.6L319.8,92.5M310.3,94.6L320.3,93.1M310.6,95.2L321.8,93.5M318.5,97.8L332.3,95.8M325.4,98.9L335.4,97.4M322.6,99.8L337.1,97.7M325.8,99.7L342.3,97.5M327.5,99.8L342.0,97.8M326.2,100.2L338.5,98.3M328.5,99.9L342.1,97.9M328.3,100.0L344.4,97.5M335.2,99.2L347.6,97.2M342.2,100.6L354.0,98.9M344.4,100.8L353.8,99.4M344.8,101.2L355.7,99.6M347.4,101.3L363.1,99.2M352.3,101.5L366.4,99.8" fill="none" stroke="#d82c18" stroke-opacity="0.90" stroke-width="0.30"/>
<path d="M213.9,59.1L239.9,53.4M216.8,60.1L242.7,54.5M219.7,61.2L245.6,55.5M222.6,62.3L248.5,56.6M225.5,63.4L251.4,57.7M228.3,64.6L254.3,58.9M231.2,65.7L257.2,60.1M234.1,66.9L260.1,61.3M237.0,68.1L262.9,62.5M239.9,69.3L265.8,63.8M242.8,70.5L268.7,65.0M245.7,71.8L271.6,66.4M248.5,73.2L274.5,67.8M251.4,74.6L277.4,69.3M254.3,76.0L280.3,70.8M257.2,77.4L283.1,72.3M260.1,78.8L286.0,73.8M263.0,80.2L288.9,75.3M265.9,81.6L291.8,76.8M268.8,83.0L294.7,78.3M271.6,84.3L297.6,79.7M274.5,85.6L300.5,81.0M277.4,86.9L303.3,82.4M280.3,88.2L306.2,83.8M283.2,89.5L309.1,85.2M286.1,90.8L312.0,86.6M289.0,92.0L314.9,87.9M291.8,93.1L317.8,89.1M294.7,94.2L320.7,90.1M297.6,95.1L323.5,91.1M300.5,96.0L326.4,92.0M303.4,96.9L329.3,92.9M306.3,97.7L332.2,93.8M309.2,98.5L335.1,94.6M312.1,99.2L338.0,95.4M315.0,99.8L340.9,96.1M317.8,100.4L343.8,96.7M320.7,100.8L346.6,97.2M323.6,100.7L349.5,97.0M326.5,100.3L352.4,96.6M329.4,100.1L355.3,96.2M332.3,100.2L358.2,96.4M335.2,100.7L361.1,97.0M338.1,101.1L364.0,97.6M341.0,101.6L366.9,98.2M343.8,102.1L369.7,98.8M346.7,102.6L372.6,99.5" fill="none" stroke="#000" stroke-opacity="0.30" stroke-width="0.30"/>
<path d="M349.6,103.2L375.5,100.1M352.5,104.1L378.4,100.9M355.4,105.2L381.3,102.0M358.3,106.6L384.2,103.3M361.2,108.2L387.1,104.9M364.1,109.9L390.0,106.6M366.9,111.7L392.8,108.3M369.8,113.6L395.7,110.1M372.7,115.3L398.6,111.7M375.6,117.2L401.5,113.5M378.5,119.1L404.4,115.4M381.4,121.0L407.3,117.3M384.3,123.0L410.2,119.3M387.2,125.1L413.1,121.4M390.0,127.2L415.9,123.5M392.9,129.4L418.8,125.8M395.8,131.6L421.7,128.1M398.7,134.0L424.6,130.5M401.6,136.3L427.5,132.9M404.5,138.6L430.4,135.2M407.4,140.8L433.3,137.5M410.3,143.1L436.1,139.8M413.2,145.3L439.0,142.0M416.0,147.6L441.9,144.3M418.9,150.0L444.8,146.7M421.8,152.5L447.7,149.2M424.7,155.1L450.6,151.9M427.6,157.8L453.5,154.7M430.5,160.6L456.4,157.6M433.4,163.5L459.2,160.5M436.3,166.5L462.1,163.5M439.2,169.5L465.0,166.6M442.0,172.6L467.9,169.7M444.9,175.8L470.8,173.0M447.8,179.0L473.7,176.3M450.7,182.3L476.6,179.6M453.6,185.5L479.5,182.9M456.5,188.7L482.3,186.1M459.4,191.9L485.2,189.2M462.3,195.1L488.1,192.4M465.2,198.3L491.0,195.5M468.1,201.5L493.9,198.6M471.0,204.7L496.8,201.8M473.8,207.9L499.7,204.8M476.7,211.1L502.6,207.8M479.6,214.2L505.5,210.7M482.5,217.5L508.3,213.8M485.4,221.0L511.2,217.1M488.3,224.7L514.1,220.7M491.2,228.9L517.0,224.9M494.1,233.5L519.9,229.5M497.0,238.3L522.8,234.5" fill="none" stroke="#000" stroke-opacity="0.60" stroke-width="0.40"/>
<path d="M239.9,53.4L242.7,54.5L245.6,55.5L248.5,56.6L251.4,57.7L254.3,58.9L257.2,60.1L260.1,61.3L262.9,62.5L265.8,63.8L268.7,65.0L271.6,66.4L274.5,67.8L277.4,69.3L280.3,70.8L283.1,72.3L286.0,73.8L288.9,75.3L291.8,76.8L294.7,78.3L297.6,79.7L300.5,81.0L303.3,82.4L306.2,83.8L309.1,85.2L312.0,86.6L314.9,87.9L317.8,89.1L320.7,90.1L323.5,91.1L326.4,92.0L329.3,92.9L332.2,93.8L335.1,94.6L338.0,95.4L340.9,96.1L343.8,96.7L346.6,97.2L349.5,97.0L352.4,96.6L355.3,96.2L358.2,96.4L361.1,97.0L364.0,97.6L366.9,98.2L369.7,98.8L372.6,99.5L375.5,100.1L378.4,100.9L381.3,102.0L384.2,103.3L387.1,104.9L390.0,106.6L392.8,108.3L395.7,110.1L398.6,111.7L401.5,113.5L404.4,115.4L407.3,117.3L410.2,119.3L413.1,121.4L415.9,123.5L418.8,125.8L421.7,128.1L424.6,130.5L427.5,132.9L430.4,135.2L433.3,137.5L436.1,139.8L439.0,142.0L441.9,144.3L444.8,146.7L447.7,149.2L450.6,151.9L453.5,154.7L456.4,157.6L459.2,160.5L462.1,163.5L465.0,166.6L467.9,169.7L470.8,173.0L473.7,176.3L476.6,179.6L479.5,182.9L482.3,186.1L485.2,189.2L488.1,192.4L491.0,195.5L493.9,198.6L496.8,201.8L499.7,204.8L502.6,207.8L505.5,210.7L508.3,213.8L511.2,217.1L514.1,220.7L517.0,224.9L519.9,229.5L522.8,234.5" fill="none" stroke="#000" stroke-opacity="0.85" stroke-width="0.85"/>
<path d="M213.9,59.1L216.8,60.1L219.7,61.2L222.6,62.3L225.5,63.4L228.3,64.6L231.2,65.7L234.1,66.9L237.0,68.1L239.9,69.3L242.8,70.5L245.7,71.8L248.5,73.2L251.4,74.6L254.3,76.0L257.2,77.4L260.1,78.8L263.0,80.2L265.9,81.6L268.8,83.0L271.6,84.3L274.5,85.6L277.4,86.9L280.3,88.2L283.2,89.5L286.1,90.8L289.0,92.0L291.8,93.1L294.7,94.2L297.6,95.1L300.5,96.0L303.4,96.9L306.3,97.7L309.2,98.5L312.1,99.2L315.0,99.8L317.8,100.4L320.7,100.8L323.6,100.7L326.5,100.3L329.4,100.1L332.3,100.2L335.2,100.7L338.1,101.1L341.0,101.6L343.8,102.1L346.7,102.6L349.6,103.2L352.5,104.1L355.4,105.2L358.3,106.6L361.2,108.2L364.1,109.9L366.9,111.7L369.8,113.6L372.7,115.3L375.6,117.2L378.5,119.1L381.4,121.0L384.3,123.0L387.2,125.1L390.0,127.2L392.9,129.4L395.8,131.6L398.7,134.0L401.6,136.3L404.5,138.6L407.4,140.8L410.3,143.1L413.2,145.3L416.0,147.6L418.9,150.0L421.8,152.5L424.7,155.1L427.6,157.8L430.5,160.6L433.4,163.5L436.3,166.5L439.2,169.5L442.0,172.6L444.9,175.8L447.8,179.0L450.7,182.3L453.6,185.5L456.5,188.7L459.4,191.9L462.3,195.1L465.2,198.3L468.1,201.5L471.0,204.7L473.8,207.9L476.7,211.1L479.6,214.2L482.5,217.5L485.4,221.0L488.3,224.7L491.2,228.9L494.1,233.5L497.0,238.3" fill="none" stroke="#000" stroke-opacity="0.65" stroke-width="0.45"/>
<g fill="currentColor" stroke="currentColor" stroke-width=".7" stroke-linejoin="round">
<polygon points="187.9,66.2 190.8,67.3 216.8,60.1 213.9,59.1" color="#f4f04a"/>
<polygon points="190.8,67.3 193.7,68.4 219.7,61.2 216.8,60.1" color="#f4f047"/>
<polygon points="193.7,68.4 196.6,69.5 222.6,62.3 219.7,61.2" color="#f4f044"/>
<polygon points="196.6,69.5 199.5,70.6 225.5,63.4 222.6,62.3" color="#f4f040"/>
<polygon points="199.5,70.6 202.4,71.7 228.3,64.6 225.5,63.4" color="#f4f03d"/>
<polygon points="202.4,71.7 205.3,72.9 231.2,65.7 228.3,64.6" color="#f3ef39"/>
<polygon points="205.3,72.9 208.2,74.0 234.1,66.9 231.2,65.7" color="#f3ef35"/>
<polygon points="208.2,74.0 211.0,75.2 237.0,68.1 234.1,66.9" color="#f3ef31"/>
<polygon points="211.0,75.2 213.9,76.4 239.9,69.3 237.0,68.1" color="#f3ef2d"/>
<polygon points="213.9,76.4 216.8,77.6 242.8,70.5 239.9,69.3" color="#f2ee29"/>
<polygon points="216.8,77.6 219.7,78.8 245.7,71.8 242.8,70.5" color="#f2ee24"/>
<polygon points="219.7,78.8 222.6,80.1 248.5,73.2 245.7,71.8" color="#f2ee20"/>
<polygon points="222.6,80.1 225.5,81.4 251.4,74.6 248.5,73.2" color="#f2ed20"/>
<polygon points="225.5,81.4 228.4,82.7 254.3,76.0 251.4,74.6" color="#f2ed20"/>
<polygon points="228.4,82.7 231.3,84.0 257.2,77.4 254.3,76.0" color="#f2ec20"/>
<polygon points="231.3,84.0 234.1,85.4 260.1,78.8 257.2,77.4" color="#f2ec20"/>
<polygon points="234.1,85.4 237.0,86.7 263.0,80.2 260.1,78.8" color="#f3eb20"/>
<polygon points="237.0,86.7 239.9,88.0 265.9,81.6 263.0,80.2" color="#f3eb20"/>
<polygon points="239.9,88.0 242.8,89.3 268.8,83.0 265.9,81.6" color="#f3ea20"/>
<polygon points="242.8,89.3 245.7,90.5 271.6,84.3 268.8,83.0" color="#f3ea20"/>
<polygon points="245.7,90.5 248.6,91.8 274.5,85.6 271.6,84.3" color="#f3e920"/>
<polygon points="248.6,91.8 251.5,93.0 277.4,86.9 274.5,85.6" color="#f3e920"/>
<polygon points="251.5,93.0 254.4,94.2 280.3,88.2 277.4,86.9" color="#f3e820"/>
<polygon points="254.4,94.2 257.2,95.4 283.2,89.5 280.3,88.2" color="#f3e820"/>
<polygon points="257.2,95.4 260.1,96.6 286.1,90.8 283.2,89.5" color="#f3e720"/>
<polygon points="260.1,96.6 263.0,97.8 289.0,92.0 286.1,90.8" color="#f3e720"/>
<polygon points="263.0,97.8 265.9,98.9 291.8,93.1 289.0,92.0" color="#f3e720"/>
<polygon points="265.9,98.9 268.8,99.9 294.7,94.2 291.8,93.1" color="#f4e620"/>
<polygon points="268.8,99.9 271.7,100.8 297.6,95.1 294.7,94.2" color="#f4e620"/>
<polygon points="271.7,100.8 274.6,101.7 300.5,96.0 297.6,95.1" color="#f4e620"/>
<polygon points="274.6,101.7 277.5,102.6 303.4,96.9 300.5,96.0" color="#f4e620"/>
<polygon points="277.5,102.6 280.4,103.4 306.3,97.7 303.4,96.9" color="#f4e520"/>
<polygon points="280.4,103.4 283.2,104.1 309.2,98.5 306.3,97.7" color="#f4e520"/>
<polygon points="283.2,104.1 286.1,104.8 312.1,99.2 309.2,98.5" color="#f4e520"/>
<polygon points="286.1,104.8 289.0,105.3 315.0,99.8 312.1,99.2" color="#f4e520"/>
<polygon points="289.0,105.3 291.9,105.8 317.8,100.4 315.0,99.8" color="#f4e520"/>
<polygon points="291.9,105.8 294.8,106.1 320.7,100.8 317.8,100.4" color="#f4e520"/>
<polygon points="294.8,106.1 297.7,106.0 323.6,100.7 320.7,100.8" color="#f4e520"/>
<polygon points="297.7,106.0 300.6,105.8 326.5,100.3 323.6,100.7" color="#f4e620"/>
<polygon points="300.6,105.8 303.5,105.6 329.4,100.1 326.5,100.3" color="#f4e620"/>
<polygon points="303.5,105.6 306.4,105.7 332.3,100.2 329.4,100.1" color="#f3e720"/>
<polygon points="306.4,105.7 309.2,106.1 335.2,100.7 332.3,100.2" color="#f4e828"/>
<polygon points="309.2,106.1 312.1,106.4 338.1,101.1 335.2,100.7" color="#f5eb40"/>
<polygon points="312.1,106.4 315.0,106.7 341.0,101.6 338.1,101.1" color="#f6ed58"/>
<polygon points="315.0,106.7 317.9,107.1 343.8,102.1 341.0,101.6" color="#f8f06f"/>
<polygon points="317.9,107.1 320.8,107.6 346.7,102.6 343.8,102.1" color="#f9f287"/>
<polygon points="320.8,107.6 323.7,108.1 349.6,103.2 346.7,102.6" color="#faf59f"/>
<polygon points="323.7,108.1 326.6,109.0 352.5,104.1 349.6,103.2" color="#f9f289"/>
<polygon points="326.6,109.0 329.5,110.2 355.4,105.2 352.5,104.1" color="#f8ef72"/>
<polygon points="329.5,110.2 332.4,111.7 358.3,106.6 355.4,105.2" color="#f7ea5a"/>
<polygon points="332.4,111.7 335.2,113.3 361.2,108.2 358.3,106.6" color="#f7e341"/>
<polygon points="335.2,113.3 338.1,115.1 364.1,109.9 361.2,108.2" color="#f6da29"/>
<polygon points="338.1,115.1 341.0,116.9 366.9,111.7 364.1,109.9" color="#f7d31d"/>
<polygon points="341.0,116.9 343.9,118.8 369.8,113.6 366.9,111.7" color="#f8cd1c"/>
<polygon points="343.9,118.8 346.8,120.7 372.7,115.3 369.8,113.6" color="#f8c61c"/>
<polygon points="346.8,120.7 349.7,122.6 375.6,117.2 372.7,115.3" color="#f8bd1c"/>
<polygon points="349.7,122.6 352.6,124.5 378.5,119.1 375.6,117.2" color="#f8b51c"/>
<polygon points="352.6,124.5 355.5,126.5 381.4,121.0 378.5,119.1" color="#f8ac1c"/>
<polygon points="355.5,126.5 358.4,128.4 384.3,123.0 381.4,121.0" color="#f8a41c"/>
<polygon points="358.4,128.4 361.2,130.5 387.2,125.1 384.3,123.0" color="#f79e1d"/>
<polygon points="361.2,130.5 364.1,132.5 390.0,127.2 387.2,125.1" color="#f7991d"/>
<polygon points="364.1,132.5 367.0,134.7 392.9,129.4 390.0,127.2" color="#f7931d"/>
<polygon points="367.0,134.7 369.9,136.9 395.8,131.6 392.9,129.4" color="#f78d1d"/>
<polygon points="369.9,136.9 372.8,139.2 398.7,134.0 395.8,131.6" color="#f6871e"/>
<polygon points="372.8,139.2 375.7,141.4 401.6,136.3 398.7,134.0" color="#f6811e"/>
<polygon points="375.7,141.4 378.6,143.7 404.5,138.6 401.6,136.3" color="#f57a1e"/>
<polygon points="378.6,143.7 381.5,145.9 407.4,140.8 404.5,138.6" color="#f5741f"/>
<polygon points="381.5,145.9 384.4,148.2 410.3,143.1 407.4,140.8" color="#f46d1f"/>
<polygon points="384.4,148.2 387.3,150.4 413.2,145.3 410.3,143.1" color="#f4661f"/>
<polygon points="387.3,150.4 390.2,152.7 416.0,147.6 413.2,145.3" color="#f3601f"/>
<polygon points="390.2,152.7 393.0,155.1 418.9,150.0 416.0,147.6" color="#f25920"/>
<polygon points="393.0,155.1 395.9,157.5 421.8,152.5 418.9,150.0" color="#f25220"/>
<polygon points="395.9,157.5 398.8,160.1 424.7,155.1 421.8,152.5" color="#f14c20"/>
<polygon points="398.8,160.1 401.7,162.8 427.6,157.8 424.7,155.1" color="#f04520"/>
<polygon points="401.7,162.8 404.6,165.5 430.5,160.6 427.6,157.8" color="#ee3e20"/>
<polygon points="404.6,165.5 407.5,168.3 433.4,163.5 430.5,160.6" color="#ed3720"/>
<polygon points="407.5,168.3 410.4,171.2 436.3,166.5 433.4,163.5" color="#ec3020"/>
<polygon points="410.4,171.2 413.3,174.2 439.2,169.5 436.3,166.5" color="#eb2d20"/>
<polygon points="413.3,174.2 416.2,177.3 442.0,172.6 439.2,169.5" color="#eb2b20"/>
<polygon points="416.2,177.3 419.1,180.4 444.9,175.8 442.0,172.6" color="#ea2820"/>
<polygon points="419.1,180.4 422.0,183.6 447.8,179.0 444.9,175.8" color="#e92520"/>
<polygon points="422.0,183.6 424.9,186.8 450.7,182.3 447.8,179.0" color="#e92220"/>
<polygon points="424.9,186.8 427.7,190.0 453.6,185.5 450.7,182.3" color="#e72020"/>
<polygon points="427.7,190.0 430.6,193.2 456.5,188.7 453.6,185.5" color="#e31e1e"/>
<polygon points="430.6,193.2 433.5,196.4 459.4,191.9 456.5,188.7" color="#de1c1c"/>
<polygon points="433.5,196.4 436.4,199.6 462.3,195.1 459.4,191.9" color="#da1b1b"/>
<polygon points="436.4,199.6 439.3,202.9 465.2,198.3 462.3,195.1" color="#d11919"/>
<polygon points="439.3,202.9 442.2,206.2 468.1,201.5 465.2,198.3" color="#c71818"/>
<polygon points="442.2,206.2 445.1,209.5 471.0,204.7 468.1,201.5" color="#bd1717"/>
<polygon points="445.1,209.5 448.0,212.9 473.8,207.9 471.0,204.7" color="#b21616"/>
<polygon points="448.0,212.9 450.9,216.2 476.7,211.1 473.8,207.9" color="#a51515"/>
<polygon points="450.9,216.2 453.8,219.5 479.6,214.2 476.7,211.1" color="#991415"/>
<polygon points="453.8,219.5 456.7,222.9 482.5,217.5 479.6,214.2" color="#8c1314"/>
<polygon points="456.7,222.9 459.6,226.5 485.4,221.0 482.5,217.5" color="#7f1214"/>
<polygon points="459.6,226.5 462.5,230.4 488.3,224.7 485.4,221.0" color="#6f0f12"/>
<polygon points="462.5,230.4 465.4,234.6 491.2,228.9 488.3,224.7" color="#5e0d0f"/>
<polygon points="465.4,234.6 468.3,239.1 494.1,233.5 491.2,228.9" color="#4b0a0c"/>
<polygon points="468.3,239.1 471.2,243.8 497.0,238.3 494.1,233.5" color="#3b080a"/>
</g>
<path d="M201.4,68.5L210.9,65.8M206.6,68.0L216.3,65.3M203.7,69.8L217.9,65.9M204.3,70.6L216.3,67.2M205.9,71.1L221.8,66.7M211.5,70.5L227.4,66.2M215.8,71.3L225.9,68.5M220.4,74.0L231.6,70.9M218.2,76.6L233.0,72.5M226.1,76.5L241.6,72.3M226.2,77.5L241.8,73.3M230.0,77.5L243.2,74.0M226.0,79.6L236.9,76.6M233.0,78.7L247.6,75.0M230.7,80.4L244.3,76.8M234.7,80.4L249.0,76.7M237.8,81.7L252.1,78.1M234.0,83.8L244.7,81.0M238.3,83.7L250.0,80.7M251.0,89.6L261.0,87.2M256.5,90.2L265.7,88.0M256.2,91.3L266.9,88.7M257.8,91.9L273.9,88.1M260.8,92.1L273.1,89.3M262.6,93.6L278.2,90.1M264.5,95.1L277.5,92.1M279.8,99.3L291.4,96.7M281.0,99.8L293.0,97.1M284.0,99.9L298.1,96.8M286.1,100.1L296.6,97.9M280.2,102.3L296.9,98.5M282.1,102.6L291.5,100.4M284.7,102.7L296.4,100.0M285.7,103.2L300.8,99.8M286.3,103.7L296.9,101.3M292.0,103.1L304.3,100.4M301.5,104.4L316.4,101.4M308.0,104.0L317.6,102.0M308.8,104.0L321.6,101.3M308.9,104.2L318.8,102.0M311.5,104.3L321.4,102.1M312.7,105.5L324.3,103.0M320.3,104.3L330.2,102.3M319.0,106.6L330.6,104.2" fill="none" stroke="#d82c18" stroke-opacity="0.90" stroke-width="0.30"/>
<path d="M465.2,215.1L469.7,214.2M468.3,218.3L473.5,217.3M481.5,233.4L489.2,231.8" fill="none" stroke="#120404" stroke-opacity="0.80" stroke-width="0.60"/>
<path d="M187.9,66.2L213.9,59.1M190.8,67.3L216.8,60.1M193.7,68.4L219.7,61.2M196.6,69.5L222.6,62.3M199.5,70.6L225.5,63.4M202.4,71.7L228.3,64.6M205.3,72.9L231.2,65.7M208.2,74.0L234.1,66.9M211.0,75.2L237.0,68.1M213.9,76.4L239.9,69.3M216.8,77.6L242.8,70.5M219.7,78.8L245.7,71.8M222.6,80.1L248.5,73.2M225.5,81.4L251.4,74.6M228.4,82.7L254.3,76.0M231.3,84.0L257.2,77.4M234.1,85.4L260.1,78.8M237.0,86.7L263.0,80.2M239.9,88.0L265.9,81.6M242.8,89.3L268.8,83.0M245.7,90.5L271.6,84.3M248.6,91.8L274.5,85.6M251.5,93.0L277.4,86.9M254.4,94.2L280.3,88.2M257.2,95.4L283.2,89.5M260.1,96.6L286.1,90.8M263.0,97.8L289.0,92.0M265.9,98.9L291.8,93.1M268.8,99.9L294.7,94.2M271.7,100.8L297.6,95.1M274.6,101.7L300.5,96.0M277.5,102.6L303.4,96.9M280.4,103.4L306.3,97.7M283.2,104.1L309.2,98.5M286.1,104.8L312.1,99.2M289.0,105.3L315.0,99.8M291.9,105.8L317.8,100.4M294.8,106.1L320.7,100.8M297.7,106.0L323.6,100.7M300.6,105.8L326.5,100.3M303.5,105.6L329.4,100.1M306.4,105.7L332.3,100.2M309.2,106.1L335.2,100.7M312.1,106.4L338.1,101.1M315.0,106.7L341.0,101.6M317.9,107.1L343.8,102.1M320.8,107.6L346.7,102.6" fill="none" stroke="#000" stroke-opacity="0.30" stroke-width="0.30"/>
<path d="M323.7,108.1L349.6,103.2M326.6,109.0L352.5,104.1M329.5,110.2L355.4,105.2M332.4,111.7L358.3,106.6M335.2,113.3L361.2,108.2M338.1,115.1L364.1,109.9M341.0,116.9L366.9,111.7M343.9,118.8L369.8,113.6M346.8,120.7L372.7,115.3M349.7,122.6L375.6,117.2M352.6,124.5L378.5,119.1M355.5,126.5L381.4,121.0M358.4,128.4L384.3,123.0M361.2,130.5L387.2,125.1M364.1,132.5L390.0,127.2M367.0,134.7L392.9,129.4M369.9,136.9L395.8,131.6M372.8,139.2L398.7,134.0M375.7,141.4L401.6,136.3M378.6,143.7L404.5,138.6M381.5,145.9L407.4,140.8M384.4,148.2L410.3,143.1M387.3,150.4L413.2,145.3M390.2,152.7L416.0,147.6M393.0,155.1L418.9,150.0M395.9,157.5L421.8,152.5M398.8,160.1L424.7,155.1M401.7,162.8L427.6,157.8M404.6,165.5L430.5,160.6M407.5,168.3L433.4,163.5M410.4,171.2L436.3,166.5M413.3,174.2L439.2,169.5M416.2,177.3L442.0,172.6M419.1,180.4L444.9,175.8M422.0,183.6L447.8,179.0M424.9,186.8L450.7,182.3M427.7,190.0L453.6,185.5M430.6,193.2L456.5,188.7M433.5,196.4L459.4,191.9M436.4,199.6L462.3,195.1M439.3,202.9L465.2,198.3M442.2,206.2L468.1,201.5M445.1,209.5L471.0,204.7M448.0,212.9L473.8,207.9M450.9,216.2L476.7,211.1M453.8,219.5L479.6,214.2M456.7,222.9L482.5,217.5M459.6,226.5L485.4,221.0M462.5,230.4L488.3,224.7M465.4,234.6L491.2,228.9M468.3,239.1L494.1,233.5M471.2,243.8L497.0,238.3" fill="none" stroke="#000" stroke-opacity="0.60" stroke-width="0.40"/>
<path d="M213.9,59.1L216.8,60.1L219.7,61.2L222.6,62.3L225.5,63.4L228.3,64.6L231.2,65.7L234.1,66.9L237.0,68.1L239.9,69.3L242.8,70.5L245.7,71.8L248.5,73.2L251.4,74.6L254.3,76.0L257.2,77.4L260.1,78.8L263.0,80.2L265.9,81.6L268.8,83.0L271.6,84.3L274.5,85.6L277.4,86.9L280.3,88.2L283.2,89.5L286.1,90.8L289.0,92.0L291.8,93.1L294.7,94.2L297.6,95.1L300.5,96.0L303.4,96.9L306.3,97.7L309.2,98.5L312.1,99.2L315.0,99.8L317.8,100.4L320.7,100.8L323.6,100.7L326.5,100.3L329.4,100.1L332.3,100.2L335.2,100.7L338.1,101.1L341.0,101.6L343.8,102.1L346.7,102.6L349.6,103.2L352.5,104.1L355.4,105.2L358.3,106.6L361.2,108.2L364.1,109.9L366.9,111.7L369.8,113.6L372.7,115.3L375.6,117.2L378.5,119.1L381.4,121.0L384.3,123.0L387.2,125.1L390.0,127.2L392.9,129.4L395.8,131.6L398.7,134.0L401.6,136.3L404.5,138.6L407.4,140.8L410.3,143.1L413.2,145.3L416.0,147.6L418.9,150.0L421.8,152.5L424.7,155.1L427.6,157.8L430.5,160.6L433.4,163.5L436.3,166.5L439.2,169.5L442.0,172.6L444.9,175.8L447.8,179.0L450.7,182.3L453.6,185.5L456.5,188.7L459.4,191.9L462.3,195.1L465.2,198.3L468.1,201.5L471.0,204.7L473.8,207.9L476.7,211.1L479.6,214.2L482.5,217.5L485.4,221.0L488.3,224.7L491.2,228.9L494.1,233.5L497.0,238.3" fill="none" stroke="#000" stroke-opacity="0.65" stroke-width="0.45"/>
<path d="M187.9,66.2L190.8,67.3L193.7,68.4L196.6,69.5L199.5,70.6L202.4,71.7L205.3,72.9L208.2,74.0L211.0,75.2L213.9,76.4L216.8,77.6L219.7,78.8L222.6,80.1L225.5,81.4L228.4,82.7L231.3,84.0L234.1,85.4L237.0,86.7L239.9,88.0L242.8,89.3L245.7,90.5L248.6,91.8L251.5,93.0L254.4,94.2L257.2,95.4L260.1,96.6L263.0,97.8L265.9,98.9L268.8,99.9L271.7,100.8L274.6,101.7L277.5,102.6L280.4,103.4L283.2,104.1L286.1,104.8L289.0,105.3L291.9,105.8L294.8,106.1L297.7,106.0L300.6,105.8L303.5,105.6L306.4,105.7L309.2,106.1L312.1,106.4L315.0,106.7L317.9,107.1L320.8,107.6L323.7,108.1L326.6,109.0L329.5,110.2L332.4,111.7L335.2,113.3L338.1,115.1L341.0,116.9L343.9,118.8L346.8,120.7L349.7,122.6L352.6,124.5L355.5,126.5L358.4,128.4L361.2,130.5L364.1,132.5L367.0,134.7L369.9,136.9L372.8,139.2L375.7,141.4L378.6,143.7L381.5,145.9L384.4,148.2L387.3,150.4L390.2,152.7L393.0,155.1L395.9,157.5L398.8,160.1L401.7,162.8L404.6,165.5L407.5,168.3L410.4,171.2L413.3,174.2L416.2,177.3L419.1,180.4L422.0,183.6L424.9,186.8L427.7,190.0L430.6,193.2L433.5,196.4L436.4,199.6L439.3,202.9L442.2,206.2L445.1,209.5L448.0,212.9L450.9,216.2L453.8,219.5L456.7,222.9L459.6,226.5L462.5,230.4L465.4,234.6L468.3,239.1L471.2,243.8" fill="none" stroke="#000" stroke-opacity="0.65" stroke-width="0.45"/>
<g fill="currentColor" stroke="currentColor" stroke-width=".7" stroke-linejoin="round">
<polygon points="162.0,74.5 164.9,75.6 190.8,67.3 187.9,66.2" color="#f7f371"/>
<polygon points="164.9,75.6 167.7,76.6 193.7,68.4 190.8,67.3" color="#f6f26e"/>
<polygon points="167.7,76.6 170.6,77.7 196.6,69.5 193.7,68.4" color="#f6f26a"/>
<polygon points="170.6,77.7 173.5,78.9 199.5,70.6 196.6,69.5" color="#f6f267"/>
<polygon points="173.5,78.9 176.4,80.0 202.4,71.7 199.5,70.6" color="#f6f264"/>
<polygon points="176.4,80.0 179.3,81.1 205.3,72.9 202.4,71.7" color="#f6f260"/>
<polygon points="179.3,81.1 182.2,82.3 208.2,74.0 205.3,72.9" color="#f5f15c"/>
<polygon points="182.2,82.3 185.1,83.4 211.0,75.2 208.2,74.0" color="#f5f158"/>
<polygon points="185.1,83.4 188.0,84.6 213.9,76.4 211.0,75.2" color="#f5f154"/>
<polygon points="188.0,84.6 190.9,85.7 216.8,77.6 213.9,76.4" color="#f5f150"/>
<polygon points="190.9,85.7 193.7,86.9 219.7,78.8 216.8,77.6" color="#f4f04c"/>
<polygon points="193.7,86.9 196.6,88.1 222.6,80.1 219.7,78.8" color="#f4f048"/>
<polygon points="196.6,88.1 199.5,89.4 225.5,81.4 222.6,80.1" color="#f4f044"/>
<polygon points="199.5,89.4 202.4,90.6 228.4,82.7 225.5,81.4" color="#f4f03f"/>
<polygon points="202.4,90.6 205.3,91.9 231.3,84.0 228.4,82.7" color="#f3ef3a"/>
<polygon points="205.3,91.9 208.2,93.1 234.1,85.4 231.3,84.0" color="#f3ef36"/>
<polygon points="208.2,93.1 211.1,94.4 237.0,86.7 234.1,85.4" color="#f3ef31"/>
<polygon points="211.1,94.4 214.0,95.6 239.9,88.0 237.0,86.7" color="#f3ef2c"/>
<polygon points="214.0,95.6 216.9,96.8 242.8,89.3 239.9,88.0" color="#f2ee28"/>
<polygon points="216.9,96.8 219.7,98.0 245.7,90.5 242.8,89.3" color="#f2ee23"/>
<polygon points="219.7,98.0 222.6,99.2 248.6,91.8 245.7,90.5" color="#f2ee20"/>
<polygon points="222.6,99.2 225.5,100.4 251.5,93.0 248.6,91.8" color="#f2ee20"/>
<polygon points="225.5,100.4 228.4,101.5 254.4,94.2 251.5,93.0" color="#f2ed20"/>
<polygon points="228.4,101.5 231.3,102.6 257.2,95.4 254.4,94.2" color="#f2ed20"/>
<polygon points="231.3,102.6 234.2,103.7 260.1,96.6 257.2,95.4" color="#f2ec20"/>
<polygon points="234.2,103.7 237.1,104.8 263.0,97.8 260.1,96.6" color="#f2ec20"/>
<polygon points="237.1,104.8 240.0,105.9 265.9,98.9 263.0,97.8" color="#f2ec20"/>
<polygon points="240.0,105.9 242.9,106.9 268.8,99.9 265.9,98.9" color="#f3eb20"/>
<polygon points="242.9,106.9 245.7,107.8 271.7,100.8 268.8,99.9" color="#f3eb20"/>
<polygon points="245.7,107.8 248.6,108.7 274.6,101.7 271.7,100.8" color="#f3eb20"/>
<polygon points="248.6,108.7 251.5,109.5 277.5,102.6 274.6,101.7" color="#f3ea20"/>
<polygon points="251.5,109.5 254.4,110.3 280.4,103.4 277.5,102.6" color="#f3ea20"/>
<polygon points="254.4,110.3 257.3,111.0 283.2,104.1 280.4,103.4" color="#f3ea20"/>
<polygon points="257.3,111.0 260.2,111.6 286.1,104.8 283.2,104.1" color="#f3ea20"/>
<polygon points="260.2,111.6 263.1,112.1 289.0,105.3 286.1,104.8" color="#f3ea20"/>
<polygon points="263.1,112.1 266.0,112.5 291.9,105.8 289.0,105.3" color="#f3ea20"/>
<polygon points="266.0,112.5 268.9,112.7 294.8,106.1 291.9,105.8" color="#f3ea20"/>
<polygon points="268.9,112.7 271.8,112.7 297.7,106.0 294.8,106.1" color="#f3eb20"/>
<polygon points="271.8,112.7 274.6,112.6 300.6,105.8 297.7,106.0" color="#f3eb20"/>
<polygon points="274.6,112.6 277.5,112.5 303.5,105.6 300.6,105.8" color="#f2ec20"/>
<polygon points="277.5,112.5 280.4,112.6 306.4,105.7 303.5,105.6" color="#f2ec20"/>
<polygon points="280.4,112.6 283.3,112.8 309.2,106.1 306.4,105.7" color="#f3ed28"/>
<polygon points="283.3,112.8 286.2,113.0 312.1,106.4 309.2,106.1" color="#f4ef40"/>
<polygon points="286.2,113.0 289.1,113.2 315.0,106.7 312.1,106.4" color="#f6f158"/>
<polygon points="289.1,113.2 292.0,113.5 317.9,107.1 315.0,106.7" color="#f7f36f"/>
<polygon points="292.0,113.5 294.9,113.9 320.8,107.6 317.9,107.1" color="#f9f487"/>
<polygon points="294.9,113.9 297.8,114.4 323.7,108.1 320.8,107.6" color="#faf69f"/>
<polygon points="297.8,114.4 300.6,115.4 326.6,109.0 323.7,108.1" color="#f9f489"/>
<polygon points="300.6,115.4 303.5,116.6 329.5,110.2 326.6,109.0" color="#f7f272"/>
<polygon points="303.5,116.6 306.4,118.1 332.4,111.7 329.5,110.2" color="#f6ef5a"/>
<polygon points="306.4,118.1 309.3,119.7 335.2,113.3 332.4,111.7" color="#f5ec42"/>
<polygon points="309.3,119.7 312.2,121.5 338.1,115.1 335.2,113.3" color="#f4e82a"/>
<polygon points="312.2,121.5 315.1,123.4 341.0,116.9 338.1,115.1" color="#f4e620"/>
<polygon points="315.1,123.4 318.0,125.4 343.9,118.8 341.0,116.9" color="#f4e420"/>
<polygon points="318.0,125.4 320.9,127.3 346.8,120.7 343.9,118.8" color="#f5e11f"/>
<polygon points="320.9,127.3 323.8,129.3 349.7,122.6 346.8,120.7" color="#f5dc1f"/>
<polygon points="323.8,129.3 326.7,131.2 352.6,124.5 349.7,122.6" color="#f6d61e"/>
<polygon points="326.7,131.2 329.5,133.2 355.5,126.5 352.6,124.5" color="#f7d11d"/>
<polygon points="329.5,133.2 332.4,135.2 358.4,128.4 355.5,126.5" color="#f8cc1c"/>
<polygon points="332.4,135.2 335.3,137.2 361.2,130.5 358.4,128.4" color="#f8c51c"/>
<polygon points="335.3,137.2 338.2,139.2 364.1,132.5 361.2,130.5" color="#f8c01c"/>
<polygon points="338.2,139.2 341.1,141.4 367.0,134.7 364.1,132.5" color="#f8ba1c"/>
<polygon points="341.1,141.4 344.0,143.5 369.9,136.9 367.0,134.7" color="#f8b31c"/>
<polygon points="344.0,143.5 346.9,145.7 372.8,139.2 369.9,136.9" color="#f8ad1c"/>
<polygon points="346.9,145.7 349.8,147.9 375.7,141.4 372.8,139.2" color="#f8a71c"/>
<polygon points="349.8,147.9 352.7,150.2 378.6,143.7 375.7,141.4" color="#f8a11c"/>
<polygon points="352.7,150.2 355.6,152.4 381.5,145.9 378.6,143.7" color="#f79b1d"/>
<polygon points="355.6,152.4 358.5,154.6 384.4,148.2 381.5,145.9" color="#f7951d"/>
<polygon points="358.5,154.6 361.4,156.9 387.3,150.4 384.4,148.2" color="#f78f1d"/>
<polygon points="361.4,156.9 364.2,159.1 390.2,152.7 387.3,150.4" color="#f6891e"/>
<polygon points="364.2,159.1 367.1,161.5 393.0,155.1 390.2,152.7" color="#f6831e"/>
<polygon points="367.1,161.5 370.0,163.9 395.9,157.5 393.0,155.1" color="#f67c1e"/>
<polygon points="370.0,163.9 372.9,166.4 398.8,160.1 395.9,157.5" color="#f5741f"/>
<polygon points="372.9,166.4 375.8,169.0 401.7,162.8 398.8,160.1" color="#f46c1f"/>
<polygon points="375.8,169.0 378.7,171.7 404.6,165.5 401.7,162.8" color="#f3641f"/>
<polygon points="378.7,171.7 381.6,174.5 407.5,168.3 404.6,165.5" color="#f35b20"/>
<polygon points="381.6,174.5 384.5,177.4 410.4,171.2 407.5,168.3" color="#f25320"/>
<polygon points="384.5,177.4 387.4,180.3 413.3,174.2 410.4,171.2" color="#f14b20"/>
<polygon points="387.4,180.3 390.3,183.3 416.2,177.3 413.3,174.2" color="#ef4320"/>
<polygon points="390.3,183.3 393.2,186.4 419.1,180.4 416.2,177.3" color="#ee3b20"/>
<polygon points="393.2,186.4 396.1,189.5 422.0,183.6 419.1,180.4" color="#ed3320"/>
<polygon points="396.1,189.5 399.0,192.7 424.9,186.8 422.0,183.6" color="#ec2e20"/>
<polygon points="399.0,192.7 401.9,195.9 427.7,190.0 424.9,186.8" color="#eb2b20"/>
<polygon points="401.9,195.9 404.8,199.1 430.6,193.2 427.7,190.0" color="#ea2920"/>
<polygon points="404.8,199.1 407.7,202.3 433.5,196.4 430.6,193.2" color="#e92620"/>
<polygon points="407.7,202.3 410.6,205.5 436.4,199.6 433.5,196.4" color="#e92320"/>
<polygon points="410.6,205.5 413.5,208.9 439.3,202.9 436.4,199.6" color="#e82020"/>
<polygon points="413.5,208.9 416.3,212.2 442.2,206.2 439.3,202.9" color="#e31e1e"/>
<polygon points="416.3,212.2 419.2,215.7 445.1,209.5 442.2,206.2" color="#df1d1d"/>
<polygon points="419.2,215.7 422.1,219.1 448.0,212.9 445.1,209.5" color="#da1b1b"/>
<polygon points="422.1,219.1 425.0,222.6 450.9,216.2 448.0,212.9" color="#d11919"/>
<polygon points="425.0,222.6 427.9,226.1 453.8,219.5 450.9,216.2" color="#c61818"/>
<polygon points="427.9,226.1 430.8,229.7 456.7,222.9 453.8,219.5" color="#bb1717"/>
<polygon points="430.8,229.7 433.7,233.4 459.6,226.5 456.7,222.9" color="#af1616"/>
<polygon points="433.7,233.4 436.6,237.3 462.5,230.4 459.6,226.5" color="#a01415"/>
<polygon points="436.6,237.3 439.5,241.5 465.4,234.6 462.5,230.4" color="#901315"/>
<polygon points="439.5,241.5 442.4,246.0 468.3,239.1 465.4,234.6" color="#7e1214"/>
<polygon points="442.4,246.0 445.3,250.6 471.2,243.8 468.3,239.1" color="#6a0e11"/>
</g>
<path d="M173.4,75.3L183.5,72.0M177.6,75.9L187.3,72.8M184.2,80.0L199.6,75.1M191.2,79.8L201.6,76.5M191.2,80.8L204.9,76.5M190.5,82.1L201.7,78.5M189.5,83.5L202.7,79.3M193.3,83.3L208.0,78.7M192.5,84.7L204.8,80.7M195.2,84.8L210.3,80.0M201.0,85.1L216.6,80.3M210.2,89.8L224.5,85.4M216.0,90.1L230.3,85.9M216.9,90.9L231.8,86.6M218.5,91.5L231.6,87.7M221.1,97.1L231.8,93.9M232.3,99.8L245.0,96.2M238.8,100.9L248.6,98.2M239.6,103.6L254.3,99.5M243.5,103.4L256.6,99.9M248.0,103.1L262.1,99.4M250.6,104.2L265.0,100.4M251.8,104.8L264.8,101.3M248.1,106.7L258.6,103.8M252.0,107.3L265.1,103.7M258.2,106.4L272.2,102.7M259.5,106.9L269.8,104.1M254.8,109.0L271.0,104.6M261.4,110.2L270.7,107.7M264.5,110.1L279.9,106.0M266.8,110.1L282.7,105.9M270.8,109.7L284.3,106.2M271.7,110.0L286.6,106.2M271.1,111.4L285.7,107.5M272.4,111.5L283.6,108.6M277.9,110.5L291.1,107.1M275.5,111.5L288.3,108.2M279.4,111.8L291.7,108.4M287.3,110.0L301.1,106.4M287.2,110.4L299.7,107.1M292.4,111.5L302.2,109.0M296.2,111.1L311.2,107.3M299.9,111.7L310.0,109.2" fill="none" stroke="#d82c18" stroke-opacity="0.90" stroke-width="0.30"/>
<path d="M440.2,220.7L447.3,219.0M450.1,231.2L457.9,229.2M455.1,239.8L459.8,238.6" fill="none" stroke="#120404" stroke-opacity="0.80" stroke-width="0.60"/>
<path d="M162.0,74.5L187.9,66.2M164.9,75.6L190.8,67.3M167.7,76.6L193.7,68.4M170.6,77.7L196.6,69.5M173.5,78.9L199.5,70.6M176.4,80.0L202.4,71.7M179.3,81.1L205.3,72.9M182.2,82.3L208.2,74.0M185.1,83.4L211.0,75.2M188.0,84.6L213.9,76.4M190.9,85.7L216.8,77.6M193.7,86.9L219.7,78.8M196.6,88.1L222.6,80.1M199.5,89.4L225.5,81.4M202.4,90.6L228.4,82.7M205.3,91.9L231.3,84.0M208.2,93.1L234.1,85.4M211.1,94.4L237.0,86.7M214.0,95.6L239.9,88.0M216.9,96.8L242.8,89.3M219.7,98.0L245.7,90.5M222.6,99.2L248.6,91.8M225.5,100.4L251.5,93.0M228.4,101.5L254.4,94.2M231.3,102.6L257.2,95.4M234.2,103.7L260.1,96.6M237.1,104.8L263.0,97.8M240.0,105.9L265.9,98.9M242.9,106.9L268.8,99.9M245.7,107.8L271.7,100.8M248.6,108.7L274.6,101.7M251.5,109.5L277.5,102.6M254.4,110.3L280.4,103.4M257.3,111.0L283.2,104.1M260.2,111.6L286.1,104.8M263.1,112.1L289.0,105.3M266.0,112.5L291.9,105.8M268.9,112.7L294.8,106.1M271.8,112.7L297.7,106.0M274.6,112.6L300.6,105.8M277.5,112.5L303.5,105.6M280.4,112.6L306.4,105.7M283.3,112.8L309.2,106.1M286.2,113.0L312.1,106.4M289.1,113.2L315.0,106.7M292.0,113.5L317.9,107.1M294.9,113.9L320.8,107.6" fill="none" stroke="#000" stroke-opacity="0.30" stroke-width="0.30"/>
<path d="M297.8,114.4L323.7,108.1M300.6,115.4L326.6,109.0M303.5,116.6L329.5,110.2M306.4,118.1L332.4,111.7M309.3,119.7L335.2,113.3M312.2,121.5L338.1,115.1M315.1,123.4L341.0,116.9M318.0,125.4L343.9,118.8M320.9,127.3L346.8,120.7M323.8,129.3L349.7,122.6M326.7,131.2L352.6,124.5M329.5,133.2L355.5,126.5M332.4,135.2L358.4,128.4M335.3,137.2L361.2,130.5M338.2,139.2L364.1,132.5M341.1,141.4L367.0,134.7M344.0,143.5L369.9,136.9M346.9,145.7L372.8,139.2M349.8,147.9L375.7,141.4M352.7,150.2L378.6,143.7M355.6,152.4L381.5,145.9M358.5,154.6L384.4,148.2M361.4,156.9L387.3,150.4M364.2,159.1L390.2,152.7M367.1,161.5L393.0,155.1M370.0,163.9L395.9,157.5M372.9,166.4L398.8,160.1M375.8,169.0L401.7,162.8M378.7,171.7L404.6,165.5M381.6,174.5L407.5,168.3M384.5,177.4L410.4,171.2M387.4,180.3L413.3,174.2M390.3,183.3L416.2,177.3M393.2,186.4L419.1,180.4M396.1,189.5L422.0,183.6M399.0,192.7L424.9,186.8M401.9,195.9L427.7,190.0M404.8,199.1L430.6,193.2M407.7,202.3L433.5,196.4M410.6,205.5L436.4,199.6M413.5,208.9L439.3,202.9M416.3,212.2L442.2,206.2M419.2,215.7L445.1,209.5M422.1,219.1L448.0,212.9M425.0,222.6L450.9,216.2M427.9,226.1L453.8,219.5M430.8,229.7L456.7,222.9M433.7,233.4L459.6,226.5M436.6,237.3L462.5,230.4M439.5,241.5L465.4,234.6M442.4,246.0L468.3,239.1M445.3,250.6L471.2,243.8" fill="none" stroke="#000" stroke-opacity="0.60" stroke-width="0.40"/>
<path d="M187.9,66.2L190.8,67.3L193.7,68.4L196.6,69.5L199.5,70.6L202.4,71.7L205.3,72.9L208.2,74.0L211.0,75.2L213.9,76.4L216.8,77.6L219.7,78.8L222.6,80.1L225.5,81.4L228.4,82.7L231.3,84.0L234.1,85.4L237.0,86.7L239.9,88.0L242.8,89.3L245.7,90.5L248.6,91.8L251.5,93.0L254.4,94.2L257.2,95.4L260.1,96.6L263.0,97.8L265.9,98.9L268.8,99.9L271.7,100.8L274.6,101.7L277.5,102.6L280.4,103.4L283.2,104.1L286.1,104.8L289.0,105.3L291.9,105.8L294.8,106.1L297.7,106.0L300.6,105.8L303.5,105.6L306.4,105.7L309.2,106.1L312.1,106.4L315.0,106.7L317.9,107.1L320.8,107.6L323.7,108.1L326.6,109.0L329.5,110.2L332.4,111.7L335.2,113.3L338.1,115.1L341.0,116.9L343.9,118.8L346.8,120.7L349.7,122.6L352.6,124.5L355.5,126.5L358.4,128.4L361.2,130.5L364.1,132.5L367.0,134.7L369.9,136.9L372.8,139.2L375.7,141.4L378.6,143.7L381.5,145.9L384.4,148.2L387.3,150.4L390.2,152.7L393.0,155.1L395.9,157.5L398.8,160.1L401.7,162.8L404.6,165.5L407.5,168.3L410.4,171.2L413.3,174.2L416.2,177.3L419.1,180.4L422.0,183.6L424.9,186.8L427.7,190.0L430.6,193.2L433.5,196.4L436.4,199.6L439.3,202.9L442.2,206.2L445.1,209.5L448.0,212.9L450.9,216.2L453.8,219.5L456.7,222.9L459.6,226.5L462.5,230.4L465.4,234.6L468.3,239.1L471.2,243.8" fill="none" stroke="#000" stroke-opacity="0.65" stroke-width="0.45"/>
<path d="M162.0,74.5L164.9,75.6L167.7,76.6L170.6,77.7L173.5,78.9L176.4,80.0L179.3,81.1L182.2,82.3L185.1,83.4L188.0,84.6L190.9,85.7L193.7,86.9L196.6,88.1L199.5,89.4L202.4,90.6L205.3,91.9L208.2,93.1L211.1,94.4L214.0,95.6L216.9,96.8L219.7,98.0L222.6,99.2L225.5,100.4L228.4,101.5L231.3,102.6L234.2,103.7L237.1,104.8L240.0,105.9L242.9,106.9L245.7,107.8L248.6,108.7L251.5,109.5L254.4,110.3L257.3,111.0L260.2,111.6L263.1,112.1L266.0,112.5L268.9,112.7L271.8,112.7L274.6,112.6L277.5,112.5L280.4,112.6L283.3,112.8L286.2,113.0L289.1,113.2L292.0,113.5L294.9,113.9L297.8,114.4L300.6,115.4L303.5,116.6L306.4,118.1L309.3,119.7L312.2,121.5L315.1,123.4L318.0,125.4L320.9,127.3L323.8,129.3L326.7,131.2L329.5,133.2L332.4,135.2L335.3,137.2L338.2,139.2L341.1,141.4L344.0,143.5L346.9,145.7L349.8,147.9L352.7,150.2L355.6,152.4L358.5,154.6L361.4,156.9L364.2,159.1L367.1,161.5L370.0,163.9L372.9,166.4L375.8,169.0L378.7,171.7L381.6,174.5L384.5,177.4L387.4,180.3L390.3,183.3L393.2,186.4L396.1,189.5L399.0,192.7L401.9,195.9L404.8,199.1L407.7,202.3L410.6,205.5L413.5,208.9L416.3,212.2L419.2,215.7L422.1,219.1L425.0,222.6L427.9,226.1L430.8,229.7L433.7,233.4L436.6,237.3L439.5,241.5L442.4,246.0L445.3,250.6" fill="none" stroke="#000" stroke-opacity="0.65" stroke-width="0.45"/>
<g fill="currentColor" stroke="currentColor" stroke-width=".7" stroke-linejoin="round">
<polygon points="136.0,83.6 138.9,84.7 164.9,75.6 162.0,74.5" color="#faf59c"/>
<polygon points="138.9,84.7 141.8,85.8 167.7,76.6 164.9,75.6" color="#f9f599"/>
<polygon points="141.8,85.8 144.7,86.9 170.6,77.7 167.7,76.6" color="#f9f597"/>
<polygon points="144.7,86.9 147.5,88.0 173.5,78.9 170.6,77.7" color="#f9f494"/>
<polygon points="147.5,88.0 150.4,89.2 176.4,80.0 173.5,78.9" color="#f9f491"/>
<polygon points="150.4,89.2 153.3,90.3 179.3,81.1 176.4,80.0" color="#f9f48e"/>
<polygon points="153.3,90.3 156.2,91.4 182.2,82.3 179.3,81.1" color="#f8f48c"/>
<polygon points="156.2,91.4 159.1,92.5 185.1,83.4 182.2,82.3" color="#f8f489"/>
<polygon points="159.1,92.5 162.0,93.7 188.0,84.6 185.1,83.4" color="#f8f386"/>
<polygon points="162.0,93.7 164.9,94.8 190.9,85.7 188.0,84.6" color="#f8f383"/>
<polygon points="164.9,94.8 167.8,95.9 193.7,86.9 190.9,85.7" color="#f8f380"/>
<polygon points="167.8,95.9 170.7,97.1 196.6,88.1 193.7,86.9" color="#f7f37d"/>
<polygon points="170.7,97.1 173.5,98.3 199.5,89.4 196.6,88.1" color="#f7f37a"/>
<polygon points="173.5,98.3 176.4,99.5 202.4,90.6 199.5,89.4" color="#f7f276"/>
<polygon points="176.4,99.5 179.3,100.6 205.3,91.9 202.4,90.6" color="#f7f273"/>
<polygon points="179.3,100.6 182.2,101.8 208.2,93.1 205.3,91.9" color="#f7f26f"/>
<polygon points="182.2,101.8 185.1,103.0 211.1,94.4 208.2,93.1" color="#f6f26c"/>
<polygon points="185.1,103.0 188.0,104.2 214.0,95.6 211.1,94.4" color="#f6f269"/>
<polygon points="188.0,104.2 190.9,105.3 216.9,96.8 214.0,95.6" color="#f6f165"/>
<polygon points="190.9,105.3 193.8,106.5 219.7,98.0 216.9,96.8" color="#f6f162"/>
<polygon points="193.8,106.5 196.7,107.6 222.6,99.2 219.7,98.0" color="#f6f15f"/>
<polygon points="196.7,107.6 199.6,108.7 225.5,100.4 222.6,99.2" color="#f6f15c"/>
<polygon points="199.6,108.7 202.4,109.8 228.4,101.5 225.5,100.4" color="#f5f159"/>
<polygon points="202.4,109.8 205.3,110.8 231.3,102.6 228.4,101.5" color="#f5f156"/>
<polygon points="205.3,110.8 208.2,111.9 234.2,103.7 231.3,102.6" color="#f5f053"/>
<polygon points="208.2,111.9 211.1,112.9 237.1,104.8 234.2,103.7" color="#f5f050"/>
<polygon points="211.1,112.9 214.0,113.9 240.0,105.9 237.1,104.8" color="#f5f04e"/>
<polygon points="214.0,113.9 216.9,114.9 242.9,106.9 240.0,105.9" color="#f5f04b"/>
<polygon points="216.9,114.9 219.8,115.8 245.7,107.8 242.9,106.9" color="#f4f049"/>
<polygon points="219.8,115.8 222.7,116.7 248.6,108.7 245.7,107.8" color="#f4f048"/>
<polygon points="222.7,116.7 225.6,117.5 251.5,109.5 248.6,108.7" color="#f4f046"/>
<polygon points="225.6,117.5 228.5,118.3 254.4,110.3 251.5,109.5" color="#f4f045"/>
<polygon points="228.5,118.3 231.3,119.0 257.3,111.0 254.4,110.3" color="#f4f044"/>
<polygon points="231.3,119.0 234.2,119.5 260.2,111.6 257.3,111.0" color="#f4f043"/>
<polygon points="234.2,119.5 237.1,120.0 263.1,112.1 260.2,111.6" color="#f4f043"/>
<polygon points="237.1,120.0 240.0,120.3 266.0,112.5 263.1,112.1" color="#f4f044"/>
<polygon points="240.0,120.3 242.9,120.5 268.9,112.7 266.0,112.5" color="#f4f046"/>
<polygon points="242.9,120.5 245.8,120.5 271.8,112.7 268.9,112.7" color="#f4f048"/>
<polygon points="245.8,120.5 248.7,120.4 274.6,112.6 271.8,112.7" color="#f5f04a"/>
<polygon points="248.7,120.4 251.6,120.4 277.5,112.5 274.6,112.6" color="#f4f04a"/>
<polygon points="251.6,120.4 254.5,120.5 280.4,112.6 277.5,112.5" color="#f4f049"/>
<polygon points="254.5,120.5 257.4,120.6 283.3,112.8 280.4,112.6" color="#f5f04e"/>
<polygon points="257.4,120.6 260.2,120.7 286.2,113.0 283.3,112.8" color="#f6f25f"/>
<polygon points="260.2,120.7 263.1,120.8 289.1,113.2 286.2,113.0" color="#f7f370"/>
<polygon points="263.1,120.8 266.0,121.0 292.0,113.5 289.1,113.2" color="#f8f481"/>
<polygon points="266.0,121.0 268.9,121.3 294.9,113.9 292.0,113.5" color="#f9f692"/>
<polygon points="268.9,121.3 271.8,121.8 297.8,114.4 294.9,113.9" color="#faf7a4"/>
<polygon points="271.8,121.8 274.7,122.8 300.6,115.4 297.8,114.4" color="#f9f691"/>
<polygon points="274.7,122.8 277.6,124.1 303.5,116.6 300.6,115.4" color="#f8f479"/>
<polygon points="277.6,124.1 280.5,125.6 306.4,118.1 303.5,116.6" color="#f6f25e"/>
<polygon points="280.5,125.6 283.4,127.3 309.3,119.7 306.4,118.1" color="#f4f042"/>
<polygon points="283.4,127.3 286.3,129.1 312.2,121.5 309.3,119.7" color="#f3ed2a"/>
<polygon points="286.3,129.1 289.2,131.0 315.1,123.4 312.2,121.5" color="#f3eb20"/>
<polygon points="289.2,131.0 292.0,133.0 318.0,125.4 315.1,123.4" color="#f3ea20"/>
<polygon points="292.0,133.0 294.9,135.0 320.9,127.3 318.0,125.4" color="#f3e920"/>
<polygon points="294.9,135.0 297.8,137.0 323.8,129.3 320.9,127.3" color="#f3e820"/>
<polygon points="297.8,137.0 300.7,139.0 326.7,131.2 323.8,129.3" color="#f4e620"/>
<polygon points="300.7,139.0 303.6,141.0 329.5,133.2 326.7,131.2" color="#f4e520"/>
<polygon points="303.6,141.0 306.5,143.0 332.4,135.2 329.5,133.2" color="#f4e320"/>
<polygon points="306.5,143.0 309.4,145.0 335.3,137.2 332.4,135.2" color="#f5df1f"/>
<polygon points="309.4,145.0 312.3,147.0 338.2,139.2 335.3,137.2" color="#f5dc1f"/>
<polygon points="312.3,147.0 315.2,149.1 341.1,141.4 338.2,139.2" color="#f6d81e"/>
<polygon points="315.2,149.1 318.1,151.2 344.0,143.5 341.1,141.4" color="#f7d41d"/>
<polygon points="318.1,151.2 321.0,153.3 346.9,145.7 344.0,143.5" color="#f7d01d"/>
<polygon points="321.0,153.3 323.9,155.5 349.8,147.9 346.9,145.7" color="#f8cb1c"/>
<polygon points="323.9,155.5 326.8,157.7 352.7,150.2 349.8,147.9" color="#f8c51c"/>
<polygon points="326.8,157.7 329.7,159.9 355.6,152.4 352.7,150.2" color="#f8be1c"/>
<polygon points="329.7,159.9 332.5,162.1 358.5,154.6 355.6,152.4" color="#f8b81c"/>
<polygon points="332.5,162.1 335.4,164.4 361.4,156.9 358.5,154.6" color="#f8b21c"/>
<polygon points="335.4,164.4 338.3,166.6 364.2,159.1 361.4,156.9" color="#f8ab1c"/>
<polygon points="338.3,166.6 341.2,169.0 367.1,161.5 364.2,159.1" color="#f8a51c"/>
<polygon points="341.2,169.0 344.1,171.4 370.0,163.9 367.1,161.5" color="#f89e1c"/>
<polygon points="344.1,171.4 347.0,173.9 372.9,166.4 370.0,163.9" color="#f7971d"/>
<polygon points="347.0,173.9 349.9,176.4 375.8,169.0 372.9,166.4" color="#f7901d"/>
<polygon points="349.9,176.4 352.8,179.1 378.7,171.7 375.8,169.0" color="#f6891e"/>
<polygon points="352.8,179.1 355.7,181.8 381.6,174.5 378.7,171.7" color="#f6811e"/>
<polygon points="355.7,181.8 358.6,184.6 384.5,177.4 381.6,174.5" color="#f5791e"/>
<polygon points="358.6,184.6 361.5,187.5 387.4,180.3 384.5,177.4" color="#f5701f"/>
<polygon points="361.5,187.5 364.4,190.5 390.3,183.3 387.4,180.3" color="#f4661f"/>
<polygon points="364.4,190.5 367.3,193.5 393.2,186.4 390.3,183.3" color="#f35d20"/>
<polygon points="367.3,193.5 370.2,196.6 396.1,189.5 393.2,186.4" color="#f25320"/>
<polygon points="370.2,196.6 373.1,199.8 399.0,192.7 396.1,189.5" color="#f04b20"/>
<polygon points="373.1,199.8 376.0,202.9 401.9,195.9 399.0,192.7" color="#ef4320"/>
<polygon points="376.0,202.9 378.9,206.1 404.8,199.1 401.9,195.9" color="#ee3a20"/>
<polygon points="378.9,206.1 381.8,209.3 407.7,202.3 404.8,199.1" color="#ec3220"/>
<polygon points="381.8,209.3 384.7,212.6 410.6,205.5 407.7,202.3" color="#eb2e20"/>
<polygon points="384.7,212.6 387.6,216.0 413.5,208.9 410.6,205.5" color="#eb2b20"/>
<polygon points="387.6,216.0 390.5,219.4 416.3,212.2 413.5,208.9" color="#ea2820"/>
<polygon points="390.5,219.4 393.4,222.9 419.2,215.7 416.3,212.2" color="#e92520"/>
<polygon points="393.4,222.9 396.3,226.5 422.1,219.1 419.2,215.7" color="#e82220"/>
<polygon points="396.3,226.5 399.2,230.1 425.0,222.6 422.1,219.1" color="#e51f1f"/>
<polygon points="399.2,230.1 402.1,233.7 427.9,226.1 425.0,222.6" color="#e01d1d"/>
<polygon points="402.1,233.7 405.0,237.4 430.8,229.7 427.9,226.1" color="#db1b1b"/>
<polygon points="405.0,237.4 407.9,241.3 433.7,233.4 430.8,229.7" color="#d31919"/>
<polygon points="407.9,241.3 410.8,245.3 436.6,237.3 433.7,233.4" color="#c61818"/>
<polygon points="410.8,245.3 413.7,249.5 439.5,241.5 436.6,237.3" color="#b91717"/>
<polygon points="413.7,249.5 416.6,253.9 442.4,246.0 439.5,241.5" color="#a81516"/>
<polygon points="416.6,253.9 419.5,258.5 445.3,250.6 442.4,246.0" color="#961415"/>
</g>
<path d="M151.2,83.0L164.7,78.2M149.7,85.6L165.1,80.2M148.7,87.1L163.8,81.7M156.2,85.4L166.4,81.8M158.3,87.9L167.7,84.6M164.4,87.9L178.4,83.0M170.9,94.3L186.3,88.9M171.8,96.2L185.7,91.3M174.8,96.2L188.1,91.6M179.9,95.5L189.5,92.2M182.9,95.5L195.0,91.4M177.5,98.5L187.3,95.1M185.3,96.9L197.6,92.7M186.2,97.7L197.9,93.7M192.3,101.1L202.1,97.8M196.0,102.0L208.8,97.8M195.0,104.4L207.2,100.4M194.8,105.6L205.9,101.9M201.2,105.5L216.5,100.6M202.5,107.2L218.9,101.9M201.8,108.4L217.4,103.4M204.7,108.5L216.9,104.6M210.7,107.6L225.1,103.0M221.6,112.9L234.6,108.9M224.6,112.9L235.6,109.5M227.2,113.0L237.6,109.8M230.8,116.3L244.0,112.2M230.8,117.1L243.4,113.2M233.1,117.2L244.7,113.6M235.4,117.3L250.1,112.8M239.8,117.4L255.3,112.7M238.4,118.6L248.3,115.5M246.2,118.1L261.9,113.4M248.6,118.9L264.2,114.3M254.0,117.7L265.0,114.5M248.6,119.8L258.3,116.8M253.7,118.6L267.4,114.5M256.7,119.0L272.4,114.2M258.1,119.0L274.9,113.9M259.0,119.3L271.4,115.5M265.8,117.7L279.5,113.6M266.5,118.0L280.9,113.7" fill="none" stroke="#d82c18" stroke-opacity="0.90" stroke-width="0.30"/>
<path d="M409.3,229.2L418.0,226.7M418.4,231.0L424.6,229.2M422.9,239.0L428.6,237.3M427.5,247.8L434.7,245.6" fill="none" stroke="#120404" stroke-opacity="0.80" stroke-width="0.60"/>
<path d="M136.0,83.6L162.0,74.5M138.9,84.7L164.9,75.6M141.8,85.8L167.7,76.6M144.7,86.9L170.6,77.7M147.5,88.0L173.5,78.9M150.4,89.2L176.4,80.0M153.3,90.3L179.3,81.1M156.2,91.4L182.2,82.3M159.1,92.5L185.1,83.4M162.0,93.7L188.0,84.6M164.9,94.8L190.9,85.7M167.8,95.9L193.7,86.9M170.7,97.1L196.6,88.1M173.5,98.3L199.5,89.4M176.4,99.5L202.4,90.6M179.3,100.6L205.3,91.9M182.2,101.8L208.2,93.1M185.1,103.0L211.1,94.4M188.0,104.2L214.0,95.6M190.9,105.3L216.9,96.8M193.8,106.5L219.7,98.0M196.7,107.6L222.6,99.2M199.6,108.7L225.5,100.4M202.4,109.8L228.4,101.5M205.3,110.8L231.3,102.6M208.2,111.9L234.2,103.7M211.1,112.9L237.1,104.8M214.0,113.9L240.0,105.9M216.9,114.9L242.9,106.9M219.8,115.8L245.7,107.8M222.7,116.7L248.6,108.7M225.6,117.5L251.5,109.5M228.5,118.3L254.4,110.3M231.3,119.0L257.3,111.0M234.2,119.5L260.2,111.6M237.1,120.0L263.1,112.1M240.0,120.3L266.0,112.5M242.9,120.5L268.9,112.7M245.8,120.5L271.8,112.7M248.7,120.4L274.6,112.6M251.6,120.4L277.5,112.5M254.5,120.5L280.4,112.6M257.4,120.6L283.3,112.8M260.2,120.7L286.2,113.0M263.1,120.8L289.1,113.2M266.0,121.0L292.0,113.5M268.9,121.3L294.9,113.9" fill="none" stroke="#000" stroke-opacity="0.30" stroke-width="0.30"/>
<path d="M271.8,121.8L297.8,114.4M274.7,122.8L300.6,115.4M277.6,124.1L303.5,116.6M280.5,125.6L306.4,118.1M283.4,127.3L309.3,119.7M286.3,129.1L312.2,121.5M289.2,131.0L315.1,123.4M292.0,133.0L318.0,125.4M294.9,135.0L320.9,127.3M297.8,137.0L323.8,129.3M300.7,139.0L326.7,131.2M303.6,141.0L329.5,133.2M306.5,143.0L332.4,135.2M309.4,145.0L335.3,137.2M312.3,147.0L338.2,139.2M315.2,149.1L341.1,141.4M318.1,151.2L344.0,143.5M321.0,153.3L346.9,145.7M323.9,155.5L349.8,147.9M326.8,157.7L352.7,150.2M329.7,159.9L355.6,152.4M332.5,162.1L358.5,154.6M335.4,164.4L361.4,156.9M338.3,166.6L364.2,159.1M341.2,169.0L367.1,161.5M344.1,171.4L370.0,163.9M347.0,173.9L372.9,166.4M349.9,176.4L375.8,169.0M352.8,179.1L378.7,171.7M355.7,181.8L381.6,174.5M358.6,184.6L384.5,177.4M361.5,187.5L387.4,180.3M364.4,190.5L390.3,183.3M367.3,193.5L393.2,186.4M370.2,196.6L396.1,189.5M373.1,199.8L399.0,192.7M376.0,202.9L401.9,195.9M378.9,206.1L404.8,199.1M381.8,209.3L407.7,202.3M384.7,212.6L410.6,205.5M387.6,216.0L413.5,208.9M390.5,219.4L416.3,212.2M393.4,222.9L419.2,215.7M396.3,226.5L422.1,219.1M399.2,230.1L425.0,222.6M402.1,233.7L427.9,226.1M405.0,237.4L430.8,229.7M407.9,241.3L433.7,233.4M410.8,245.3L436.6,237.3M413.7,249.5L439.5,241.5M416.6,253.9L442.4,246.0M419.5,258.5L445.3,250.6" fill="none" stroke="#000" stroke-opacity="0.60" stroke-width="0.40"/>
<path d="M162.0,74.5L164.9,75.6L167.7,76.6L170.6,77.7L173.5,78.9L176.4,80.0L179.3,81.1L182.2,82.3L185.1,83.4L188.0,84.6L190.9,85.7L193.7,86.9L196.6,88.1L199.5,89.4L202.4,90.6L205.3,91.9L208.2,93.1L211.1,94.4L214.0,95.6L216.9,96.8L219.7,98.0L222.6,99.2L225.5,100.4L228.4,101.5L231.3,102.6L234.2,103.7L237.1,104.8L240.0,105.9L242.9,106.9L245.7,107.8L248.6,108.7L251.5,109.5L254.4,110.3L257.3,111.0L260.2,111.6L263.1,112.1L266.0,112.5L268.9,112.7L271.8,112.7L274.6,112.6L277.5,112.5L280.4,112.6L283.3,112.8L286.2,113.0L289.1,113.2L292.0,113.5L294.9,113.9L297.8,114.4L300.6,115.4L303.5,116.6L306.4,118.1L309.3,119.7L312.2,121.5L315.1,123.4L318.0,125.4L320.9,127.3L323.8,129.3L326.7,131.2L329.5,133.2L332.4,135.2L335.3,137.2L338.2,139.2L341.1,141.4L344.0,143.5L346.9,145.7L349.8,147.9L352.7,150.2L355.6,152.4L358.5,154.6L361.4,156.9L364.2,159.1L367.1,161.5L370.0,163.9L372.9,166.4L375.8,169.0L378.7,171.7L381.6,174.5L384.5,177.4L387.4,180.3L390.3,183.3L393.2,186.4L396.1,189.5L399.0,192.7L401.9,195.9L404.8,199.1L407.7,202.3L410.6,205.5L413.5,208.9L416.3,212.2L419.2,215.7L422.1,219.1L425.0,222.6L427.9,226.1L430.8,229.7L433.7,233.4L436.6,237.3L439.5,241.5L442.4,246.0L445.3,250.6" fill="none" stroke="#000" stroke-opacity="0.65" stroke-width="0.45"/>
<path d="M136.0,83.6L138.9,84.7L141.8,85.8L144.7,86.9L147.5,88.0L150.4,89.2L153.3,90.3L156.2,91.4L159.1,92.5L162.0,93.7L164.9,94.8L167.8,95.9L170.7,97.1L173.5,98.3L176.4,99.5L179.3,100.6L182.2,101.8L185.1,103.0L188.0,104.2L190.9,105.3L193.8,106.5L196.7,107.6L199.6,108.7L202.4,109.8L205.3,110.8L208.2,111.9L211.1,112.9L214.0,113.9L216.9,114.9L219.8,115.8L222.7,116.7L225.6,117.5L228.5,118.3L231.3,119.0L234.2,119.5L237.1,120.0L240.0,120.3L242.9,120.5L245.8,120.5L248.7,120.4L251.6,120.4L254.5,120.5L257.4,120.6L260.2,120.7L263.1,120.8L266.0,121.0L268.9,121.3L271.8,121.8L274.7,122.8L277.6,124.1L280.5,125.6L283.4,127.3L286.3,129.1L289.2,131.0L292.0,133.0L294.9,135.0L297.8,137.0L300.7,139.0L303.6,141.0L306.5,143.0L309.4,145.0L312.3,147.0L315.2,149.1L318.1,151.2L321.0,153.3L323.9,155.5L326.8,157.7L329.7,159.9L332.5,162.1L335.4,164.4L338.3,166.6L341.2,169.0L344.1,171.4L347.0,173.9L349.9,176.4L352.8,179.1L355.7,181.8L358.6,184.6L361.5,187.5L364.4,190.5L367.3,193.5L370.2,196.6L373.1,199.8L376.0,202.9L378.9,206.1L381.8,209.3L384.7,212.6L387.6,216.0L390.5,219.4L393.4,222.9L396.3,226.5L399.2,230.1L402.1,233.7L405.0,237.4L407.9,241.3L410.8,245.3L413.7,249.5L416.6,253.9L419.5,258.5" fill="none" stroke="#000" stroke-opacity="0.65" stroke-width="0.45"/>
<g fill="currentColor" stroke="currentColor" stroke-width=".7" stroke-linejoin="round">
<polygon points="110.0,93.5 112.9,94.6 138.9,84.7 136.0,83.6" color="#fbf6b9"/>
<polygon points="112.9,94.6 115.8,95.7 141.8,85.8 138.9,84.7" color="#fbf6b8"/>
<polygon points="115.8,95.7 118.7,96.8 144.7,86.9 141.8,85.8" color="#fbf6b6"/>
<polygon points="118.7,96.8 121.6,97.9 147.5,88.0 144.7,86.9" color="#fbf6b5"/>
<polygon points="121.6,97.9 124.4,99.1 150.4,89.2 147.5,88.0" color="#fbf6b3"/>
<polygon points="124.4,99.1 127.3,100.2 153.3,90.3 150.4,89.2" color="#fbf6b1"/>
<polygon points="127.3,100.2 130.2,101.3 156.2,91.4 153.3,90.3" color="#fbf6af"/>
<polygon points="130.2,101.3 133.1,102.4 159.1,92.5 156.2,91.4" color="#fbf5ad"/>
<polygon points="133.1,102.4 136.0,103.5 162.0,93.7 159.1,92.5" color="#faf5ab"/>
<polygon points="136.0,103.5 138.9,104.6 164.9,94.8 162.0,93.7" color="#faf5a9"/>
<polygon points="138.9,104.6 141.8,105.7 167.8,95.9 164.9,94.8" color="#faf5a7"/>
<polygon points="141.8,105.7 144.7,106.8 170.7,97.1 167.8,95.9" color="#faf5a5"/>
<polygon points="144.7,106.8 147.6,107.9 173.5,98.3 170.7,97.1" color="#faf5a3"/>
<polygon points="147.6,107.9 150.5,109.1 176.4,99.5 173.5,98.3" color="#faf5a1"/>
<polygon points="150.5,109.1 153.4,110.2 179.3,100.6 176.4,99.5" color="#faf49f"/>
<polygon points="153.4,110.2 156.2,111.3 182.2,101.8 179.3,100.6" color="#f9f49d"/>
<polygon points="156.2,111.3 159.1,112.4 185.1,103.0 182.2,101.8" color="#f9f49a"/>
<polygon points="159.1,112.4 162.0,113.5 188.0,104.2 185.1,103.0" color="#f9f498"/>
<polygon points="162.0,113.5 164.9,114.6 190.9,105.3 188.0,104.2" color="#f9f496"/>
<polygon points="164.9,114.6 167.8,115.7 193.8,106.5 190.9,105.3" color="#f9f494"/>
<polygon points="167.8,115.7 170.7,116.8 196.7,107.6 193.8,106.5" color="#f9f492"/>
<polygon points="170.7,116.8 173.6,117.8 199.6,108.7 196.7,107.6" color="#f9f390"/>
<polygon points="173.6,117.8 176.5,118.9 202.4,109.8 199.6,108.7" color="#f9f38e"/>
<polygon points="176.5,118.9 179.4,119.9 205.3,110.8 202.4,109.8" color="#f8f38c"/>
<polygon points="179.4,119.9 182.3,120.8 208.2,111.9 205.3,110.8" color="#f8f38b"/>
<polygon points="182.3,120.8 185.1,121.8 211.1,112.9 208.2,111.9" color="#f8f389"/>
<polygon points="185.1,121.8 188.0,122.8 214.0,113.9 211.1,112.9" color="#f8f387"/>
<polygon points="188.0,122.8 190.9,123.8 216.9,114.9 214.0,113.9" color="#f8f386"/>
<polygon points="190.9,123.8 193.8,124.7 219.8,115.8 216.9,114.9" color="#f8f384"/>
<polygon points="193.8,124.7 196.7,125.6 222.7,116.7 219.8,115.8" color="#f8f383"/>
<polygon points="196.7,125.6 199.6,126.4 225.6,117.5 222.7,116.7" color="#f8f382"/>
<polygon points="199.6,126.4 202.5,127.1 228.5,118.3 225.6,117.5" color="#f8f381"/>
<polygon points="202.5,127.1 205.4,127.8 231.3,119.0 228.5,118.3" color="#f8f380"/>
<polygon points="205.4,127.8 208.3,128.3 234.2,119.5 231.3,119.0" color="#f8f380"/>
<polygon points="208.3,128.3 211.2,128.6 237.1,120.0 234.2,119.5" color="#f8f380"/>
<polygon points="211.2,128.6 214.1,128.9 240.0,120.3 237.1,120.0" color="#f8f381"/>
<polygon points="214.1,128.9 216.9,129.0 242.9,120.5 240.0,120.3" color="#f8f382"/>
<polygon points="216.9,129.0 219.8,129.1 245.8,120.5 242.9,120.5" color="#f8f384"/>
<polygon points="219.8,129.1 222.7,129.0 248.7,120.4 245.8,120.5" color="#f8f384"/>
<polygon points="222.7,129.0 225.6,129.1 251.6,120.4 248.7,120.4" color="#f8f380"/>
<polygon points="225.6,129.1 228.5,129.2 254.5,120.5 251.6,120.4" color="#f7f37c"/>
<polygon points="228.5,129.2 231.4,129.2 257.4,120.6 254.5,120.5" color="#f7f37b"/>
<polygon points="231.4,129.2 234.3,129.2 260.2,120.7 257.4,120.6" color="#f8f483"/>
<polygon points="234.3,129.2 237.2,129.2 263.1,120.8 260.2,120.7" color="#f8f58c"/>
<polygon points="237.2,129.2 240.1,129.3 266.0,121.0 263.1,120.8" color="#f9f696"/>
<polygon points="240.1,129.3 243.0,129.6 268.9,121.3 266.0,121.0" color="#faf6a0"/>
<polygon points="243.0,129.6 245.9,130.1 271.8,121.8 268.9,121.3" color="#fbf7ad"/>
<polygon points="245.9,130.1 248.7,131.1 274.7,122.8 271.8,121.8" color="#faf69f"/>
<polygon points="248.7,131.1 251.6,132.4 277.6,124.1 274.7,122.8" color="#f9f58e"/>
<polygon points="251.6,132.4 254.5,133.9 280.5,125.6 277.6,124.1" color="#f7f47a"/>
<polygon points="254.5,133.9 257.4,135.6 283.4,127.3 280.5,125.6" color="#f6f263"/>
<polygon points="257.4,135.6 260.3,137.5 286.3,129.1 283.4,127.3" color="#f4f049"/>
<polygon points="260.3,137.5 263.2,139.5 289.2,131.0 286.3,129.1" color="#f3ef36"/>
<polygon points="263.2,139.5 266.1,141.5 292.0,133.0 289.2,131.0" color="#f3ef2b"/>
<polygon points="266.1,141.5 269.0,143.6 294.9,135.0 292.0,133.0" color="#f2ee20"/>
<polygon points="269.0,143.6 271.9,145.6 297.8,137.0 294.9,135.0" color="#f2ed20"/>
<polygon points="271.9,145.6 274.8,147.6 300.7,139.0 297.8,137.0" color="#f2ec20"/>
<polygon points="274.8,147.6 277.7,149.6 303.6,141.0 300.7,139.0" color="#f3ea20"/>
<polygon points="277.7,149.6 280.6,151.6 306.5,143.0 303.6,141.0" color="#f3e920"/>
<polygon points="280.6,151.6 283.5,153.6 309.4,145.0 306.5,143.0" color="#f3e820"/>
<polygon points="283.5,153.6 286.4,155.6 312.3,147.0 309.4,145.0" color="#f3e720"/>
<polygon points="286.4,155.6 289.2,157.6 315.2,149.1 312.3,147.0" color="#f4e620"/>
<polygon points="289.2,157.6 292.1,159.7 318.1,151.2 315.2,149.1" color="#f4e520"/>
<polygon points="292.1,159.7 295.0,161.8 321.0,153.3 318.1,151.2" color="#f4e420"/>
<polygon points="295.0,161.8 297.9,163.9 323.9,155.5 321.0,153.3" color="#f4e120"/>
<polygon points="297.9,163.9 300.8,166.1 326.8,157.7 323.9,155.5" color="#f5dd1f"/>
<polygon points="300.8,166.1 303.7,168.3 329.7,159.9 326.8,157.7" color="#f6d91e"/>
<polygon points="303.7,168.3 306.6,170.5 332.5,162.1 329.7,159.9" color="#f7d51d"/>
<polygon points="306.6,170.5 309.5,172.7 335.4,164.4 332.5,162.1" color="#f7d01d"/>
<polygon points="309.5,172.7 312.4,175.0 338.3,166.6 335.4,164.4" color="#f8cc1c"/>
<polygon points="312.4,175.0 315.3,177.3 341.2,169.0 338.3,166.6" color="#f8c61c"/>
<polygon points="315.3,177.3 318.2,179.7 344.1,171.4 341.2,169.0" color="#f8bf1c"/>
<polygon points="318.2,179.7 321.1,182.1 347.0,173.9 344.1,171.4" color="#f8b71c"/>
<polygon points="321.1,182.1 324.0,184.7 349.9,176.4 347.0,173.9" color="#f8b01c"/>
<polygon points="324.0,184.7 326.9,187.3 352.8,179.1 349.9,176.4" color="#f8a81c"/>
<polygon points="326.9,187.3 329.8,190.0 355.7,181.8 352.8,179.1" color="#f8a11c"/>
<polygon points="329.8,190.0 332.7,192.8 358.6,184.6 355.7,181.8" color="#f7991d"/>
<polygon points="332.7,192.8 335.6,195.6 361.5,187.5 358.6,184.6" color="#f7911d"/>
<polygon points="335.6,195.6 338.5,198.5 364.4,190.5 361.5,187.5" color="#f6881e"/>
<polygon points="338.5,198.5 341.4,201.5 367.3,193.5 364.4,190.5" color="#f6801e"/>
<polygon points="341.4,201.5 344.3,204.6 370.2,196.6 367.3,193.5" color="#f5761e"/>
<polygon points="344.3,204.6 347.2,207.7 373.1,199.8 370.2,196.6" color="#f46c1f"/>
<polygon points="347.2,207.7 350.1,210.8 376.0,202.9 373.1,199.8" color="#f3621f"/>
<polygon points="350.1,210.8 353.0,214.0 378.9,206.1 376.0,202.9" color="#f25820"/>
<polygon points="353.0,214.0 355.9,217.2 381.8,209.3 378.9,206.1" color="#f14f20"/>
<polygon points="355.9,217.2 358.8,220.6 384.7,212.6 381.8,209.3" color="#f04620"/>
<polygon points="358.8,220.6 361.7,224.0 387.6,216.0 384.7,212.6" color="#ee3d20"/>
<polygon points="361.7,224.0 364.6,227.5 390.5,219.4 387.6,216.0" color="#ed3420"/>
<polygon points="364.6,227.5 367.5,231.1 393.4,222.9 390.5,219.4" color="#ec2e20"/>
<polygon points="367.5,231.1 370.4,234.7 396.3,226.5 393.4,222.9" color="#eb2b20"/>
<polygon points="370.4,234.7 373.3,238.4 399.2,230.1 396.3,226.5" color="#ea2820"/>
<polygon points="373.3,238.4 376.2,242.2 402.1,233.7 399.2,230.1" color="#e92420"/>
<polygon points="376.2,242.2 379.1,246.0 405.0,237.4 402.1,233.7" color="#e82120"/>
<polygon points="379.1,246.0 382.0,250.0 407.9,241.3 405.0,237.4" color="#e41e1e"/>
<polygon points="382.0,250.0 384.9,254.1 410.8,245.3 407.9,241.3" color="#de1c1c"/>
<polygon points="384.9,254.1 387.8,258.3 413.7,249.5 410.8,245.3" color="#d81a1a"/>
<polygon points="387.8,258.3 390.7,262.6 416.6,253.9 413.7,249.5" color="#ca1818"/>
<polygon points="390.7,262.6 393.6,267.1 419.5,258.5 416.6,253.9" color="#bb1717"/>
</g>
<path d="M135.0,97.7L146.8,93.2M131.1,100.4L141.1,96.5M138.2,98.7L153.8,92.8M138.9,99.6L155.2,93.4M140.7,101.1L153.7,96.2M144.9,100.6L156.1,96.4M141.8,102.9L158.0,96.8M156.0,108.6L169.5,103.6M155.7,109.9L166.7,105.7M160.2,111.4L174.5,106.2M164.3,111.0L180.8,105.0M168.7,111.6L184.8,105.8M179.2,116.3L195.2,110.7M183.4,116.9L199.6,111.2M181.8,118.5L195.9,113.5M181.9,119.5L192.6,115.7M188.2,118.2L201.9,113.5M185.7,120.1L196.3,116.4M191.0,121.3L203.2,117.0M196.8,120.2L210.5,115.6M192.3,122.8L203.7,118.8M202.8,123.9L214.7,119.8M208.4,126.3L223.9,121.0M212.5,126.4L223.2,122.8M217.0,125.6L230.0,121.3M219.9,126.0L230.3,122.5M218.6,127.6L229.3,124.0M226.0,127.2L240.0,122.5M227.1,127.3L243.6,121.8M238.7,126.4L253.1,121.7M240.7,126.3L252.9,122.3M240.1,127.0L252.3,123.0M238.8,127.9L250.0,124.2M245.6,126.1L256.4,122.6" fill="none" stroke="#d82c18" stroke-opacity="0.90" stroke-width="0.30"/>
<path d="M389.2,235.5L397.6,232.8M388.6,245.2L394.9,243.1M400.1,251.4L407.8,248.8" fill="none" stroke="#120404" stroke-opacity="0.80" stroke-width="0.60"/>
<path d="M110.0,93.5L136.0,83.6M112.9,94.6L138.9,84.7M115.8,95.7L141.8,85.8M118.7,96.8L144.7,86.9M121.6,97.9L147.5,88.0M124.4,99.1L150.4,89.2M127.3,100.2L153.3,90.3M130.2,101.3L156.2,91.4M133.1,102.4L159.1,92.5M136.0,103.5L162.0,93.7M138.9,104.6L164.9,94.8M141.8,105.7L167.8,95.9M144.7,106.8L170.7,97.1M147.6,107.9L173.5,98.3M150.5,109.1L176.4,99.5M153.4,110.2L179.3,100.6M156.2,111.3L182.2,101.8M159.1,112.4L185.1,103.0M162.0,113.5L188.0,104.2M164.9,114.6L190.9,105.3M167.8,115.7L193.8,106.5M170.7,116.8L196.7,107.6M173.6,117.8L199.6,108.7M176.5,118.9L202.4,109.8M179.4,119.9L205.3,110.8M182.3,120.8L208.2,111.9M185.1,121.8L211.1,112.9M188.0,122.8L214.0,113.9M190.9,123.8L216.9,114.9M193.8,124.7L219.8,115.8M196.7,125.6L222.7,116.7M199.6,126.4L225.6,117.5M202.5,127.1L228.5,118.3M205.4,127.8L231.3,119.0M208.3,128.3L234.2,119.5M211.2,128.6L237.1,120.0M214.1,128.9L240.0,120.3M216.9,129.0L242.9,120.5M219.8,129.1L245.8,120.5M222.7,129.0L248.7,120.4M225.6,129.1L251.6,120.4M228.5,129.2L254.5,120.5M231.4,129.2L257.4,120.6M234.3,129.2L260.2,120.7M237.2,129.2L263.1,120.8M240.1,129.3L266.0,121.0M243.0,129.6L268.9,121.3" fill="none" stroke="#000" stroke-opacity="0.30" stroke-width="0.30"/>
<path d="M245.9,130.1L271.8,121.8M248.7,131.1L274.7,122.8M251.6,132.4L277.6,124.1M254.5,133.9L280.5,125.6M257.4,135.6L283.4,127.3M260.3,137.5L286.3,129.1M263.2,139.5L289.2,131.0M266.1,141.5L292.0,133.0M269.0,143.6L294.9,135.0M271.9,145.6L297.8,137.0M274.8,147.6L300.7,139.0M277.7,149.6L303.6,141.0M280.6,151.6L306.5,143.0M283.5,153.6L309.4,145.0M286.4,155.6L312.3,147.0M289.2,157.6L315.2,149.1M292.1,159.7L318.1,151.2M295.0,161.8L321.0,153.3M297.9,163.9L323.9,155.5M300.8,166.1L326.8,157.7M303.7,168.3L329.7,159.9M306.6,170.5L332.5,162.1M309.5,172.7L335.4,164.4M312.4,175.0L338.3,166.6M315.3,177.3L341.2,169.0M318.2,179.7L344.1,171.4M321.1,182.1L347.0,173.9M324.0,184.7L349.9,176.4M326.9,187.3L352.8,179.1M329.8,190.0L355.7,181.8M332.7,192.8L358.6,184.6M335.6,195.6L361.5,187.5M338.5,198.5L364.4,190.5M341.4,201.5L367.3,193.5M344.3,204.6L370.2,196.6M347.2,207.7L373.1,199.8M350.1,210.8L376.0,202.9M353.0,214.0L378.9,206.1M355.9,217.2L381.8,209.3M358.8,220.6L384.7,212.6M361.7,224.0L387.6,216.0M364.6,227.5L390.5,219.4M367.5,231.1L393.4,222.9M370.4,234.7L396.3,226.5M373.3,238.4L399.2,230.1M376.2,242.2L402.1,233.7M379.1,246.0L405.0,237.4M382.0,250.0L407.9,241.3M384.9,254.1L410.8,245.3M387.8,258.3L413.7,249.5M390.7,262.6L416.6,253.9M393.6,267.1L419.5,258.5" fill="none" stroke="#000" stroke-opacity="0.60" stroke-width="0.40"/>
<path d="M136.0,83.6L138.9,84.7L141.8,85.8L144.7,86.9L147.5,88.0L150.4,89.2L153.3,90.3L156.2,91.4L159.1,92.5L162.0,93.7L164.9,94.8L167.8,95.9L170.7,97.1L173.5,98.3L176.4,99.5L179.3,100.6L182.2,101.8L185.1,103.0L188.0,104.2L190.9,105.3L193.8,106.5L196.7,107.6L199.6,108.7L202.4,109.8L205.3,110.8L208.2,111.9L211.1,112.9L214.0,113.9L216.9,114.9L219.8,115.8L222.7,116.7L225.6,117.5L228.5,118.3L231.3,119.0L234.2,119.5L237.1,120.0L240.0,120.3L242.9,120.5L245.8,120.5L248.7,120.4L251.6,120.4L254.5,120.5L257.4,120.6L260.2,120.7L263.1,120.8L266.0,121.0L268.9,121.3L271.8,121.8L274.7,122.8L277.6,124.1L280.5,125.6L283.4,127.3L286.3,129.1L289.2,131.0L292.0,133.0L294.9,135.0L297.8,137.0L300.7,139.0L303.6,141.0L306.5,143.0L309.4,145.0L312.3,147.0L315.2,149.1L318.1,151.2L321.0,153.3L323.9,155.5L326.8,157.7L329.7,159.9L332.5,162.1L335.4,164.4L338.3,166.6L341.2,169.0L344.1,171.4L347.0,173.9L349.9,176.4L352.8,179.1L355.7,181.8L358.6,184.6L361.5,187.5L364.4,190.5L367.3,193.5L370.2,196.6L373.1,199.8L376.0,202.9L378.9,206.1L381.8,209.3L384.7,212.6L387.6,216.0L390.5,219.4L393.4,222.9L396.3,226.5L399.2,230.1L402.1,233.7L405.0,237.4L407.9,241.3L410.8,245.3L413.7,249.5L416.6,253.9L419.5,258.5" fill="none" stroke="#000" stroke-opacity="0.65" stroke-width="0.45"/>
<path d="M110.0,93.5L112.9,94.6L115.8,95.7L118.7,96.8L121.6,97.9L124.4,99.1L127.3,100.2L130.2,101.3L133.1,102.4L136.0,103.5L138.9,104.6L141.8,105.7L144.7,106.8L147.6,107.9L150.5,109.1L153.4,110.2L156.2,111.3L159.1,112.4L162.0,113.5L164.9,114.6L167.8,115.7L170.7,116.8L173.6,117.8L176.5,118.9L179.4,119.9L182.3,120.8L185.1,121.8L188.0,122.8L190.9,123.8L193.8,124.7L196.7,125.6L199.6,126.4L202.5,127.1L205.4,127.8L208.3,128.3L211.2,128.6L214.1,128.9L216.9,129.0L219.8,129.1L222.7,129.0L225.6,129.1L228.5,129.2L231.4,129.2L234.3,129.2L237.2,129.2L240.1,129.3L243.0,129.6L245.9,130.1L248.7,131.1L251.6,132.4L254.5,133.9L257.4,135.6L260.3,137.5L263.2,139.5L266.1,141.5L269.0,143.6L271.9,145.6L274.8,147.6L277.7,149.6L280.6,151.6L283.5,153.6L286.4,155.6L289.2,157.6L292.1,159.7L295.0,161.8L297.9,163.9L300.8,166.1L303.7,168.3L306.6,170.5L309.5,172.7L312.4,175.0L315.3,177.3L318.2,179.7L321.1,182.1L324.0,184.7L326.9,187.3L329.8,190.0L332.7,192.8L335.6,195.6L338.5,198.5L341.4,201.5L344.3,204.6L347.2,207.7L350.1,210.8L353.0,214.0L355.9,217.2L358.8,220.6L361.7,224.0L364.6,227.5L367.5,231.1L370.4,234.7L373.3,238.4L376.2,242.2L379.1,246.0L382.0,250.0L384.9,254.1L387.8,258.3L390.7,262.6L393.6,267.1" fill="none" stroke="#000" stroke-opacity="0.65" stroke-width="0.45"/>
<g fill="currentColor" stroke="currentColor" stroke-width=".7" stroke-linejoin="round">
<polygon points="84.0,104.0 86.9,105.1 112.9,94.6 110.0,93.5" color="#fcf7c9"/>
<polygon points="86.9,105.1 89.8,106.2 115.8,95.7 112.9,94.6" color="#fcf6c8"/>
<polygon points="89.8,106.2 92.7,107.3 118.7,96.8 115.8,95.7" color="#fcf6c7"/>
<polygon points="92.7,107.3 95.6,108.4 121.6,97.9 118.7,96.8" color="#fcf6c7"/>
<polygon points="95.6,108.4 98.5,109.5 124.4,99.1 121.6,97.9" color="#fcf6c6"/>
<polygon points="98.5,109.5 101.3,110.6 127.3,100.2 124.4,99.1" color="#fcf6c5"/>
<polygon points="101.3,110.6 104.2,111.7 130.2,101.3 127.3,100.2" color="#fcf6c4"/>
<polygon points="104.2,111.7 107.1,112.8 133.1,102.4 130.2,101.3" color="#fcf6c3"/>
<polygon points="107.1,112.8 110.0,113.9 136.0,103.5 133.1,102.4" color="#fcf6c2"/>
<polygon points="110.0,113.9 112.9,115.0 138.9,104.6 136.0,103.5" color="#fcf6c1"/>
<polygon points="112.9,115.0 115.8,116.1 141.8,105.7 138.9,104.6" color="#fcf6c0"/>
<polygon points="115.8,116.1 118.7,117.1 144.7,106.8 141.8,105.7" color="#fcf6bf"/>
<polygon points="118.7,117.1 121.6,118.2 147.6,107.9 144.7,106.8" color="#fcf6be"/>
<polygon points="121.6,118.2 124.5,119.3 150.5,109.1 147.6,107.9" color="#fcf6bd"/>
<polygon points="124.5,119.3 127.4,120.3 153.4,110.2 150.5,109.1" color="#fcf6bc"/>
<polygon points="127.4,120.3 130.3,121.4 156.2,111.3 153.4,110.2" color="#fbf6bb"/>
<polygon points="130.3,121.4 133.2,122.4 159.1,112.4 156.2,111.3" color="#fbf5b9"/>
<polygon points="133.2,122.4 136.0,123.5 162.0,113.5 159.1,112.4" color="#fbf5b8"/>
<polygon points="136.0,123.5 138.9,124.5 164.9,114.6 162.0,113.5" color="#fbf5b7"/>
<polygon points="138.9,124.5 141.8,125.6 167.8,115.7 164.9,114.6" color="#fbf5b6"/>
<polygon points="141.8,125.6 144.7,126.6 170.7,116.8 167.8,115.7" color="#fbf5b5"/>
<polygon points="144.7,126.6 147.6,127.6 173.6,117.8 170.7,116.8" color="#fbf5b4"/>
<polygon points="147.6,127.6 150.5,128.6 176.5,118.9 173.6,117.8" color="#fbf5b3"/>
<polygon points="150.5,128.6 153.4,129.5 179.4,119.9 176.5,118.9" color="#fbf5b2"/>
<polygon points="153.4,129.5 156.3,130.5 182.3,120.8 179.4,119.9" color="#fbf5b1"/>
<polygon points="156.3,130.5 159.2,131.4 185.1,121.8 182.3,120.8" color="#fbf5b0"/>
<polygon points="159.2,131.4 162.1,132.4 188.0,122.8 185.1,121.8" color="#fbf5af"/>
<polygon points="162.1,132.4 165.0,133.3 190.9,123.8 188.0,122.8" color="#fbf5ae"/>
<polygon points="165.0,133.3 167.9,134.2 193.8,124.7 190.9,123.8" color="#fbf5ae"/>
<polygon points="167.9,134.2 170.7,135.1 196.7,125.6 193.8,124.7" color="#faf5ad"/>
<polygon points="170.7,135.1 173.6,135.9 199.6,126.4 196.7,125.6" color="#faf5ac"/>
<polygon points="173.6,135.9 176.5,136.6 202.5,127.1 199.6,126.4" color="#faf4ac"/>
<polygon points="176.5,136.6 179.4,137.2 205.4,127.8 202.5,127.1" color="#faf4ab"/>
<polygon points="179.4,137.2 182.3,137.7 208.3,128.3 205.4,127.8" color="#faf4ab"/>
<polygon points="182.3,137.7 185.2,138.0 211.2,128.6 208.3,128.3" color="#faf4ac"/>
<polygon points="185.2,138.0 188.1,138.2 214.1,128.9 211.2,128.6" color="#faf5ac"/>
<polygon points="188.1,138.2 191.0,138.3 216.9,129.0 214.1,128.9" color="#faf5ad"/>
<polygon points="191.0,138.3 193.9,138.4 219.8,129.1 216.9,129.0" color="#fbf5ae"/>
<polygon points="193.9,138.4 196.8,138.4 222.7,129.0 219.8,129.1" color="#faf5ad"/>
<polygon points="196.8,138.4 199.7,138.5 225.6,129.1 222.7,129.0" color="#faf4a6"/>
<polygon points="199.7,138.5 202.5,138.6 228.5,129.2 225.6,129.1" color="#faf4a0"/>
<polygon points="202.5,138.6 205.4,138.5 231.4,129.2 228.5,129.2" color="#f9f49c"/>
<polygon points="205.4,138.5 208.3,138.4 234.3,129.2 231.4,129.2" color="#faf59e"/>
<polygon points="208.3,138.4 211.2,138.4 237.2,129.2 234.3,129.2" color="#faf6a1"/>
<polygon points="211.2,138.4 214.1,138.4 240.1,129.3 237.2,129.2" color="#faf7a6"/>
<polygon points="214.1,138.4 217.0,138.6 243.0,129.6 240.1,129.3" color="#fbf7ac"/>
<polygon points="217.0,138.6 219.9,139.0 245.9,130.1 243.0,129.6" color="#fbf8b4"/>
<polygon points="219.9,139.0 222.8,140.1 248.7,131.1 245.9,130.1" color="#fbf7ab"/>
<polygon points="222.8,140.1 225.7,141.5 251.6,132.4 248.7,131.1" color="#faf6a0"/>
<polygon points="225.7,141.5 228.6,143.0 254.5,133.9 251.6,132.4" color="#f9f592"/>
<polygon points="228.6,143.0 231.5,144.7 257.4,135.6 254.5,133.9" color="#f8f482"/>
<polygon points="231.5,144.7 234.4,146.6 260.3,137.5 257.4,135.6" color="#f6f36f"/>
<polygon points="234.4,146.6 237.2,148.6 263.2,139.5 260.3,137.5" color="#f6f260"/>
<polygon points="237.2,148.6 240.1,150.7 266.1,141.5 263.2,139.5" color="#f5f156"/>
<polygon points="240.1,150.7 243.0,152.8 269.0,143.6 266.1,141.5" color="#f4f04c"/>
<polygon points="243.0,152.8 245.9,154.9 271.9,145.6 269.0,143.6" color="#f4f041"/>
<polygon points="245.9,154.9 248.8,156.9 274.8,147.6 271.9,145.6" color="#f3ef37"/>
<polygon points="248.8,156.9 251.7,158.9 277.7,149.6 274.8,147.6" color="#f3ef2d"/>
<polygon points="251.7,158.9 254.6,160.9 280.6,151.6 277.7,149.6" color="#f2ee24"/>
<polygon points="254.6,160.9 257.5,162.9 283.5,153.6 280.6,151.6" color="#f2ed20"/>
<polygon points="257.5,162.9 260.4,164.8 286.4,155.6 283.5,153.6" color="#f2ec20"/>
<polygon points="260.4,164.8 263.3,166.9 289.2,157.6 286.4,155.6" color="#f3eb20"/>
<polygon points="263.3,166.9 266.2,168.9 292.1,159.7 289.2,157.6" color="#f3ea20"/>
<polygon points="266.2,168.9 269.1,171.0 295.0,161.8 292.1,159.7" color="#f3e920"/>
<polygon points="269.1,171.0 272.0,173.1 297.9,163.9 295.0,161.8" color="#f3e820"/>
<polygon points="272.0,173.1 274.9,175.2 300.8,166.1 297.9,163.9" color="#f3e720"/>
<polygon points="274.9,175.2 277.8,177.4 303.7,168.3 300.8,166.1" color="#f4e620"/>
<polygon points="277.8,177.4 280.7,179.6 306.6,170.5 303.7,168.3" color="#f4e520"/>
<polygon points="280.7,179.6 283.6,181.8 309.5,172.7 306.6,170.5" color="#f4e420"/>
<polygon points="283.6,181.8 286.5,184.1 312.4,175.0 309.5,172.7" color="#f5e01f"/>
<polygon points="286.5,184.1 289.4,186.4 315.3,177.3 312.4,175.0" color="#f5dc1f"/>
<polygon points="289.4,186.4 292.3,188.7 318.2,179.7 315.3,177.3" color="#f6d71e"/>
<polygon points="292.3,188.7 295.2,191.1 321.1,182.1 318.2,179.7" color="#f7d21d"/>
<polygon points="295.2,191.1 298.1,193.6 324.0,184.7 321.1,182.1" color="#f8ce1c"/>
<polygon points="298.1,193.6 301.0,196.2 326.9,187.3 324.0,184.7" color="#f8c71c"/>
<polygon points="301.0,196.2 303.9,198.9 329.8,190.0 326.9,187.3" color="#f8bf1c"/>
<polygon points="303.9,198.9 306.8,201.6 332.7,192.8 329.8,190.0" color="#f8b61c"/>
<polygon points="306.8,201.6 309.7,204.4 335.6,195.6 332.7,192.8" color="#f8ae1c"/>
<polygon points="309.7,204.4 312.6,207.3 338.5,198.5 335.6,195.6" color="#f8a51c"/>
<polygon points="312.6,207.3 315.5,210.3 341.4,201.5 338.5,198.5" color="#f79d1d"/>
<polygon points="315.5,210.3 318.4,213.3 344.3,204.6 341.4,201.5" color="#f7941d"/>
<polygon points="318.4,213.3 321.3,216.4 347.2,207.7 344.3,204.6" color="#f78b1d"/>
<polygon points="321.3,216.4 324.2,219.5 350.1,210.8 347.2,207.7" color="#f6821e"/>
<polygon points="324.2,219.5 327.1,222.7 353.0,214.0 350.1,210.8" color="#f5781e"/>
<polygon points="327.1,222.7 330.0,225.9 355.9,217.2 353.0,214.0" color="#f46e1f"/>
<polygon points="330.0,225.9 332.9,229.3 358.8,220.6 355.9,217.2" color="#f3631f"/>
<polygon points="332.9,229.3 335.8,232.7 361.7,224.0 358.8,220.6" color="#f25820"/>
<polygon points="335.8,232.7 338.7,236.3 364.6,227.5 361.7,224.0" color="#f14e20"/>
<polygon points="338.7,236.3 341.6,239.9 367.5,231.1 364.6,227.5" color="#ef4420"/>
<polygon points="341.6,239.9 344.5,243.7 370.4,234.7 367.5,231.1" color="#ee3a20"/>
<polygon points="344.5,243.7 347.4,247.5 373.3,238.4 370.4,234.7" color="#ec3020"/>
<polygon points="347.4,247.5 350.3,251.3 376.2,242.2 373.3,238.4" color="#eb2d20"/>
<polygon points="350.3,251.3 353.2,255.3 379.1,246.0 376.2,242.2" color="#ea2920"/>
<polygon points="353.2,255.3 356.1,259.4 382.0,250.0 379.1,246.0" color="#e92520"/>
<polygon points="356.1,259.4 359.0,263.5 384.9,254.1 382.0,250.0" color="#e82220"/>
<polygon points="359.0,263.5 362.0,267.7 387.8,258.3 384.9,254.1" color="#e51f1f"/>
<polygon points="362.0,267.7 364.9,272.1 390.7,262.6 387.8,258.3" color="#de1c1c"/>
<polygon points="364.9,272.1 367.8,276.5 393.6,267.1 390.7,262.6" color="#d81a1a"/>
</g>
<path d="M94.0,105.1L106.8,99.8M103.2,107.0L118.1,101.0M103.0,108.2L115.4,103.2M105.9,108.2L116.8,103.8M114.4,110.4L129.1,104.5M118.4,115.6L127.7,111.8M126.5,114.6L136.9,110.4M124.7,116.4L134.3,112.5M127.3,116.5L143.8,110.0M130.6,116.3L143.3,111.3M135.3,117.7L151.0,111.6M140.2,119.1L151.2,114.9M139.9,122.5L151.3,118.1M151.1,122.5L161.7,118.5M147.8,125.9L158.1,122.0M149.7,126.3L159.3,122.6M153.4,125.9L162.9,122.3M157.4,125.4L172.6,119.7M166.6,128.1L175.7,124.7M170.6,129.6L181.1,125.8M171.2,130.5L183.0,126.1M169.7,132.0L180.2,128.1M170.3,132.8L185.6,127.2M170.3,133.8L180.5,130.0M173.0,133.8L184.9,129.3M180.1,133.0L189.7,129.5M182.1,133.2L196.9,127.8M179.8,134.9L190.1,131.1M180.5,136.4L191.2,132.4M195.6,135.7L206.9,131.7M194.1,136.9L209.9,131.2M196.9,137.5L208.2,133.4M198.5,137.5L215.1,131.5M203.8,136.1L215.3,131.9M207.4,135.3L221.0,130.4M207.9,135.7L223.0,130.3M211.0,136.2L226.9,130.5M210.9,137.2L225.7,131.9M215.7,137.0L228.8,132.4M221.0,136.2L235.0,131.3M224.5,135.6L234.3,132.2" fill="none" stroke="#d82c18" stroke-opacity="0.90" stroke-width="0.30"/>
<path d="M360.1,245.4L365.3,243.5M360.1,250.3L368.8,247.2M368.6,252.2L376.8,249.3M367.9,257.6L375.9,254.7M376.3,265.1L382.9,262.7" fill="none" stroke="#120404" stroke-opacity="0.80" stroke-width="0.60"/>
<path d="M84.0,104.0L110.0,93.5M86.9,105.1L112.9,94.6M89.8,106.2L115.8,95.7M92.7,107.3L118.7,96.8M95.6,108.4L121.6,97.9M98.5,109.5L124.4,99.1M101.3,110.6L127.3,100.2M104.2,111.7L130.2,101.3M107.1,112.8L133.1,102.4M110.0,113.9L136.0,103.5M112.9,115.0L138.9,104.6M115.8,116.1L141.8,105.7M118.7,117.1L144.7,106.8M121.6,118.2L147.6,107.9M124.5,119.3L150.5,109.1M127.4,120.3L153.4,110.2M130.3,121.4L156.2,111.3M133.2,122.4L159.1,112.4M136.0,123.5L162.0,113.5M138.9,124.5L164.9,114.6M141.8,125.6L167.8,115.7M144.7,126.6L170.7,116.8M147.6,127.6L173.6,117.8M150.5,128.6L176.5,118.9M153.4,129.5L179.4,119.9M156.3,130.5L182.3,120.8M159.2,131.4L185.1,121.8M162.1,132.4L188.0,122.8M165.0,133.3L190.9,123.8M167.9,134.2L193.8,124.7M170.7,135.1L196.7,125.6M173.6,135.9L199.6,126.4M176.5,136.6L202.5,127.1M179.4,137.2L205.4,127.8M182.3,137.7L208.3,128.3M185.2,138.0L211.2,128.6M188.1,138.2L214.1,128.9M191.0,138.3L216.9,129.0M193.9,138.4L219.8,129.1M196.8,138.4L222.7,129.0M199.7,138.5L225.6,129.1M202.5,138.6L228.5,129.2M205.4,138.5L231.4,129.2M208.3,138.4L234.3,129.2M211.2,138.4L237.2,129.2M214.1,138.4L240.1,129.3M217.0,138.6L243.0,129.6" fill="none" stroke="#000" stroke-opacity="0.30" stroke-width="0.30"/>
<path d="M219.9,139.0L245.9,130.1M222.8,140.1L248.7,131.1M225.7,141.5L251.6,132.4M228.6,143.0L254.5,133.9M231.5,144.7L257.4,135.6M234.4,146.6L260.3,137.5M237.2,148.6L263.2,139.5M240.1,150.7L266.1,141.5M243.0,152.8L269.0,143.6M245.9,154.9L271.9,145.6M248.8,156.9L274.8,147.6M251.7,158.9L277.7,149.6M254.6,160.9L280.6,151.6M257.5,162.9L283.5,153.6M260.4,164.8L286.4,155.6M263.3,166.9L289.2,157.6M266.2,168.9L292.1,159.7M269.1,171.0L295.0,161.8M272.0,173.1L297.9,163.9M274.9,175.2L300.8,166.1M277.8,177.4L303.7,168.3M280.7,179.6L306.6,170.5M283.6,181.8L309.5,172.7M286.5,184.1L312.4,175.0M289.4,186.4L315.3,177.3M292.3,188.7L318.2,179.7M295.2,191.1L321.1,182.1M298.1,193.6L324.0,184.7M301.0,196.2L326.9,187.3M303.9,198.9L329.8,190.0M306.8,201.6L332.7,192.8M309.7,204.4L335.6,195.6M312.6,207.3L338.5,198.5M315.5,210.3L341.4,201.5M318.4,213.3L344.3,204.6M321.3,216.4L347.2,207.7M324.2,219.5L350.1,210.8M327.1,222.7L353.0,214.0M330.0,225.9L355.9,217.2M332.9,229.3L358.8,220.6M335.8,232.7L361.7,224.0M338.7,236.3L364.6,227.5M341.6,239.9L367.5,231.1M344.5,243.7L370.4,234.7M347.4,247.5L373.3,238.4M350.3,251.3L376.2,242.2M353.2,255.3L379.1,246.0M356.1,259.4L382.0,250.0M359.0,263.5L384.9,254.1M362.0,267.7L387.8,258.3M364.9,272.1L390.7,262.6M367.8,276.5L393.6,267.1" fill="none" stroke="#000" stroke-opacity="0.60" stroke-width="0.40"/>
<path d="M110.0,93.5L112.9,94.6L115.8,95.7L118.7,96.8L121.6,97.9L124.4,99.1L127.3,100.2L130.2,101.3L133.1,102.4L136.0,103.5L138.9,104.6L141.8,105.7L144.7,106.8L147.6,107.9L150.5,109.1L153.4,110.2L156.2,111.3L159.1,112.4L162.0,113.5L164.9,114.6L167.8,115.7L170.7,116.8L173.6,117.8L176.5,118.9L179.4,119.9L182.3,120.8L185.1,121.8L188.0,122.8L190.9,123.8L193.8,124.7L196.7,125.6L199.6,126.4L202.5,127.1L205.4,127.8L208.3,128.3L211.2,128.6L214.1,128.9L216.9,129.0L219.8,129.1L222.7,129.0L225.6,129.1L228.5,129.2L231.4,129.2L234.3,129.2L237.2,129.2L240.1,129.3L243.0,129.6L245.9,130.1L248.7,131.1L251.6,132.4L254.5,133.9L257.4,135.6L260.3,137.5L263.2,139.5L266.1,141.5L269.0,143.6L271.9,145.6L274.8,147.6L277.7,149.6L280.6,151.6L283.5,153.6L286.4,155.6L289.2,157.6L292.1,159.7L295.0,161.8L297.9,163.9L300.8,166.1L303.7,168.3L306.6,170.5L309.5,172.7L312.4,175.0L315.3,177.3L318.2,179.7L321.1,182.1L324.0,184.7L326.9,187.3L329.8,190.0L332.7,192.8L335.6,195.6L338.5,198.5L341.4,201.5L344.3,204.6L347.2,207.7L350.1,210.8L353.0,214.0L355.9,217.2L358.8,220.6L361.7,224.0L364.6,227.5L367.5,231.1L370.4,234.7L373.3,238.4L376.2,242.2L379.1,246.0L382.0,250.0L384.9,254.1L387.8,258.3L390.7,262.6L393.6,267.1" fill="none" stroke="#000" stroke-opacity="0.65" stroke-width="0.45"/>
<path d="M84.0,104.0L86.9,105.1L89.8,106.2L92.7,107.3L95.6,108.4L98.5,109.5L101.3,110.6L104.2,111.7L107.1,112.8L110.0,113.9L112.9,115.0L115.8,116.1L118.7,117.1L121.6,118.2L124.5,119.3L127.4,120.3L130.3,121.4L133.2,122.4L136.0,123.5L138.9,124.5L141.8,125.6L144.7,126.6L147.6,127.6L150.5,128.6L153.4,129.5L156.3,130.5L159.2,131.4L162.1,132.4L165.0,133.3L167.9,134.2L170.7,135.1L173.6,135.9L176.5,136.6L179.4,137.2L182.3,137.7L185.2,138.0L188.1,138.2L191.0,138.3L193.9,138.4L196.8,138.4L199.7,138.5L202.5,138.6L205.4,138.5L208.3,138.4L211.2,138.4L214.1,138.4L217.0,138.6L219.9,139.0L222.8,140.1L225.7,141.5L228.6,143.0L231.5,144.7L234.4,146.6L237.2,148.6L240.1,150.7L243.0,152.8L245.9,154.9L248.8,156.9L251.7,158.9L254.6,160.9L257.5,162.9L260.4,164.8L263.3,166.9L266.2,168.9L269.1,171.0L272.0,173.1L274.9,175.2L277.8,177.4L280.7,179.6L283.6,181.8L286.5,184.1L289.4,186.4L292.3,188.7L295.2,191.1L298.1,193.6L301.0,196.2L303.9,198.9L306.8,201.6L309.7,204.4L312.6,207.3L315.5,210.3L318.4,213.3L321.3,216.4L324.2,219.5L327.1,222.7L330.0,225.9L332.9,229.3L335.8,232.7L338.7,236.3L341.6,239.9L344.5,243.7L347.4,247.5L350.3,251.3L353.2,255.3L356.1,259.4L359.0,263.5L362.0,267.7L364.9,272.1L367.8,276.5" fill="none" stroke="#000" stroke-opacity="0.85" stroke-width="0.85"/>
<path d="M367.8,276.5L380.7,271.7L393.6,267.1L406.6,262.7L419.5,258.5L432.4,254.4L445.3,250.6L458.3,247.1L471.2,243.8L484.1,240.9L497.0,238.3L509.9,236.1L522.8,234.5" fill="none" stroke="#0a0404" stroke-width="1.7" stroke-linecap="round" transform="translate(0,0.6)"/>
<g fill="currentColor" stroke="currentColor" stroke-width=".7" stroke-linejoin="round">
<polygon points="824.7,321.4 827.9,319.6 804.0,295.5 800.8,297.4" color="#190506"/>
<polygon points="827.9,319.6 831.1,317.8 807.2,293.5 804.0,295.5" color="#220608"/>
<polygon points="831.1,317.8 834.3,316.1 810.4,291.6 807.2,293.5" color="#2b080a"/>
<polygon points="834.3,316.1 837.5,314.5 813.6,289.8 810.4,291.6" color="#34090b"/>
<polygon points="837.5,314.5 840.7,312.9 816.8,288.1 813.6,289.8" color="#3d0b0d"/>
<polygon points="840.7,312.9 843.9,311.4 820.0,286.4 816.8,288.1" color="#470c0e"/>
<polygon points="843.9,311.4 847.0,310.1 823.1,284.7 820.0,286.4" color="#520d0f"/>
<polygon points="847.0,310.1 850.2,308.8 826.3,283.2 823.1,284.7" color="#5c0e10"/>
<polygon points="850.2,308.8 853.4,307.7 829.5,281.7 826.3,283.2" color="#660f11"/>
<polygon points="853.4,307.7 856.6,306.6 832.7,280.3 829.5,281.7" color="#711012"/>
<polygon points="856.6,306.6 859.8,305.6 835.9,279.0 832.7,280.3" color="#7b1113"/>
<polygon points="859.8,305.6 863.0,304.5 839.1,277.6 835.9,279.0" color="#831214"/>
<polygon points="863.0,304.5 866.2,303.5 842.3,276.2 839.1,277.6" color="#8a1315"/>
<polygon points="866.2,303.5 869.4,302.4 845.5,274.8 842.3,276.2" color="#901416"/>
<polygon points="869.4,302.4 872.6,301.2 848.7,273.2 845.5,274.8" color="#961517"/>
<polygon points="872.6,301.2 875.8,299.9 851.9,271.5 848.7,273.2" color="#9d1618"/>
<polygon points="875.8,299.9 879.0,298.4 855.1,269.6 851.9,271.5" color="#a21618"/>
<polygon points="879.0,298.4 882.2,296.9 858.3,267.7 855.1,269.6" color="#a71719"/>
<polygon points="882.2,296.9 885.3,295.2 861.4,265.7 858.3,267.7" color="#ab1819"/>
<polygon points="885.3,295.2 888.5,293.5 864.6,263.6 861.4,265.7" color="#af1919"/>
<polygon points="888.5,293.5 891.7,291.7 867.8,261.5 864.6,263.6" color="#b4191a"/>
<polygon points="891.7,291.7 894.9,289.8 871.0,259.3 867.8,261.5" color="#b81a1a"/>
<polygon points="894.9,289.8 898.1,287.9 874.2,257.1 871.0,259.3" color="#bd1a1a"/>
<polygon points="898.1,287.9 901.3,286.0 877.4,254.9 874.2,257.1" color="#c21b1b"/>
<polygon points="901.3,286.0 904.5,283.9 880.6,252.4 877.4,254.9" color="#c71b1b"/>
<polygon points="904.5,283.9 907.7,281.7 883.8,249.8 880.6,252.4" color="#cc1b1b"/>
<polygon points="907.7,281.7 910.9,279.4 887.0,247.1 883.8,249.8" color="#d11c1c"/>
<polygon points="910.9,279.4 914.1,277.1 890.2,244.2 887.0,247.1" color="#d61c1c"/>
<polygon points="914.1,277.1 917.2,274.6 893.3,241.4 890.2,244.2" color="#da1e1e"/>
<polygon points="917.2,274.6 920.4,272.1 896.5,238.6 893.3,241.4" color="#de1e1e"/>
<polygon points="920.4,272.1 923.6,269.5 899.7,235.6 896.5,238.6" color="#e22020"/>
<polygon points="923.6,269.5 926.8,266.8 902.9,232.6 899.7,235.6" color="#e42020"/>
<polygon points="926.8,266.8 930.0,263.9 906.1,229.6 902.9,232.6" color="#e62220"/>
<polygon points="930.0,263.9 933.2,261.0 909.3,226.5 906.1,229.6" color="#e62220"/>
<polygon points="933.2,261.0 936.4,258.0 912.5,223.3 909.3,226.5" color="#e82420"/>
<polygon points="936.4,258.0 939.6,254.7 915.7,220.1 912.5,223.3" color="#e92620"/>
<polygon points="939.6,254.7 942.7,251.4 918.8,216.8 915.7,220.1" color="#ea2c20"/>
<polygon points="942.7,251.4 945.9,247.9 922.0,213.4 918.8,216.8" color="#ec3020"/>
<polygon points="945.9,247.9 949.1,244.4 925.2,210.1 922.0,213.4" color="#ed3620"/>
<polygon points="949.1,244.4 952.3,240.8 928.4,206.6 925.2,210.1" color="#ef3f20"/>
<polygon points="952.3,240.8 955.5,237.2 931.6,203.1 928.4,206.6" color="#f04c20"/>
<polygon points="955.5,237.2 958.7,233.8 934.8,199.6 931.6,203.1" color="#f15920"/>
<polygon points="958.7,233.8 961.8,230.7 938.0,196.6 934.8,199.6" color="#f36820"/>
<polygon points="961.8,230.7 965.0,227.7 941.1,193.5 938.0,196.6" color="#f57820"/>
<polygon points="965.0,227.7 968.2,224.2 944.3,190.1 941.1,193.5" color="#f78820"/>
<polygon points="968.2,224.2 971.4,220.3 947.5,186.4 944.3,190.1" color="#f89920"/>
<polygon points="971.4,220.3 974.6,216.3 950.7,182.5 947.5,186.4" color="#f8ac20"/>
<polygon points="974.6,216.3 977.8,213.1 953.9,179.5 950.7,182.5" color="#f8bf20"/>
<polygon points="977.8,213.1 980.9,210.5 957.1,177.2 953.9,179.5" color="#f8cd20"/>
<polygon points="980.9,210.5 984.1,208.3 960.3,175.4 957.1,177.2" color="#f7d720"/>
<polygon points="984.1,208.3 987.3,206.7 963.4,174.1 960.3,175.4" color="#f6e120"/>
<polygon points="987.3,206.7 990.5,205.4 966.6,173.1 963.4,174.1" color="#f5eb20"/>
<polygon points="990.5,205.4 993.7,204.2 969.8,172.4 966.6,173.1" color="#f5f021"/>
<polygon points="993.7,204.2 996.9,203.0 973.0,171.7 969.8,172.4" color="#f5f024"/>
<polygon points="996.9,203.0 1000.1,201.9 976.2,171.2 973.0,171.7" color="#f5f027"/>
<polygon points="1000.1,201.9 1003.2,200.8 979.4,170.5 976.2,171.2" color="#f5f02a"/>
<polygon points="1003.2,200.8 1006.4,199.7 982.6,169.9 979.4,170.5" color="#f5f12d"/>
<polygon points="1006.4,199.7 1009.6,198.6 985.8,169.3 982.6,169.9" color="#f5f130"/>
<polygon points="1009.6,198.6 1012.8,197.5 988.9,168.7 985.8,169.3" color="#f5f132"/>
<polygon points="1012.8,197.5 1016.0,196.4 992.1,168.0 988.9,168.7" color="#f5f135"/>
<polygon points="1016.0,196.4 1019.2,195.2 995.3,167.3 992.1,168.0" color="#f6f138"/>
<polygon points="1019.2,195.2 1022.3,194.0 998.5,166.5 995.3,167.3" color="#f6f13b"/>
<polygon points="1022.3,194.0 1025.5,192.9 1001.7,165.7 998.5,166.5" color="#f6f13e"/>
<polygon points="1025.5,192.9 1028.7,191.8 1004.9,164.9 1001.7,165.7" color="#f6f140"/>
<polygon points="1028.7,191.8 1031.9,190.8 1008.1,164.2 1004.9,164.9" color="#f6f143"/>
<polygon points="1031.9,190.8 1035.1,190.0 1011.3,163.5 1008.1,164.2" color="#f6f246"/>
<polygon points="1035.1,190.0 1038.3,189.2 1014.4,162.9 1011.3,163.5" color="#f6f249"/>
<polygon points="1038.3,189.2 1041.5,188.5 1017.6,162.2 1014.4,162.9" color="#f6f24c"/>
<polygon points="1041.5,188.5 1044.6,187.7 1020.8,161.6 1017.6,162.2" color="#f6f24f"/>
<polygon points="1044.6,187.7 1047.8,186.9 1024.0,160.8 1020.8,161.6" color="#f6f252"/>
<polygon points="1047.8,186.9 1051.0,185.9 1027.2,160.0 1024.0,160.8" color="#f6f256"/>
<polygon points="1051.0,185.9 1054.2,184.9 1030.4,159.0 1027.2,160.0" color="#f6f25b"/>
<polygon points="1054.2,184.9 1057.4,183.8 1033.6,158.0 1030.4,159.0" color="#f6f35f"/>
<polygon points="1057.4,183.8 1060.6,182.6 1036.7,156.9 1033.6,158.0" color="#f7f363"/>
<polygon points="1060.6,182.6 1063.8,181.4 1039.9,155.7 1036.7,156.9" color="#f7f367"/>
<polygon points="1063.8,181.4 1066.9,180.2 1043.1,154.6 1039.9,155.7" color="#f7f36c"/>
<polygon points="1066.9,180.2 1070.1,178.9 1046.3,153.3 1043.1,154.6" color="#f7f470"/>
<polygon points="1070.1,178.9 1073.3,177.5 1049.5,152.0 1046.3,153.3" color="#f7f474"/>
<polygon points="1073.3,177.5 1076.5,176.0 1052.7,150.6 1049.5,152.0" color="#f7f479"/>
<polygon points="1076.5,176.0 1079.7,174.5 1055.9,149.2 1052.7,150.6" color="#f7f47d"/>
<polygon points="1079.7,174.5 1082.9,173.0 1059.0,147.8 1055.9,149.2" color="#f8f481"/>
<polygon points="1082.9,173.0 1086.0,171.5 1062.2,146.3 1059.0,147.8" color="#f8f485"/>
<polygon points="1086.0,171.5 1089.2,170.0 1065.4,144.9 1062.2,146.3" color="#f8f58a"/>
<polygon points="1089.2,170.0 1092.4,168.5 1068.6,143.5 1065.4,144.9" color="#f8f58e"/>
<polygon points="1092.4,168.5 1095.6,167.0 1071.8,142.1 1068.6,143.5" color="#f8f591"/>
<polygon points="1095.6,167.0 1098.8,165.4 1075.0,140.6 1071.8,142.1" color="#f8f593"/>
<polygon points="1098.8,165.4 1101.9,163.7 1078.1,139.0 1075.0,140.6" color="#f8f695"/>
<polygon points="1101.9,163.7 1105.1,162.0 1081.3,137.4 1078.1,139.0" color="#f9f697"/>
<polygon points="1105.1,162.0 1108.3,160.1 1084.5,135.6 1081.3,137.4" color="#f9f69a"/>
<polygon points="1108.3,160.1 1111.5,158.1 1087.7,133.7 1084.5,135.6" color="#f9f69c"/>
<polygon points="1111.5,158.1 1114.7,155.9 1090.9,131.7 1087.7,133.7" color="#f9f69e"/>
<polygon points="1114.7,155.9 1117.8,153.8 1094.1,129.6 1090.9,131.7" color="#faf6a0"/>
<polygon points="1117.8,153.8 1121.0,151.6 1097.2,127.6 1094.1,129.6" color="#faf7a2"/>
<polygon points="1121.0,151.6 1124.2,149.4 1100.4,125.5 1097.2,127.6" color="#faf7a4"/>
<polygon points="1124.2,149.4 1127.4,147.1 1103.6,123.4 1100.4,125.5" color="#faf7a6"/>
<polygon points="1127.4,147.1 1130.5,144.8 1106.8,121.2 1103.6,123.4" color="#faf7a9"/>
<polygon points="1130.5,144.8 1133.7,142.5 1110.0,119.0 1106.8,121.2" color="#faf8ab"/>
<polygon points="1133.7,142.5 1136.9,140.2 1113.1,116.8 1110.0,119.0" color="#fbf8ad"/>
</g>
<path d="M824.7,321.4L800.8,297.4M827.9,319.6L804.0,295.5M831.1,317.8L807.2,293.5M834.3,316.1L810.4,291.6M837.5,314.5L813.6,289.8M840.7,312.9L816.8,288.1M843.9,311.4L820.0,286.4M847.0,310.1L823.1,284.7M850.2,308.8L826.3,283.2M853.4,307.7L829.5,281.7M856.6,306.6L832.7,280.3M859.8,305.6L835.9,279.0M863.0,304.5L839.1,277.6M866.2,303.5L842.3,276.2M869.4,302.4L845.5,274.8M872.6,301.2L848.7,273.2M875.8,299.9L851.9,271.5M879.0,298.4L855.1,269.6M882.2,296.9L858.3,267.7M885.3,295.2L861.4,265.7M888.5,293.5L864.6,263.6M891.7,291.7L867.8,261.5M894.9,289.8L871.0,259.3M898.1,287.9L874.2,257.1M901.3,286.0L877.4,254.9M904.5,283.9L880.6,252.4M907.7,281.7L883.8,249.8M910.9,279.4L887.0,247.1M914.1,277.1L890.2,244.2M917.2,274.6L893.3,241.4M920.4,272.1L896.5,238.6M923.6,269.5L899.7,235.6M926.8,266.8L902.9,232.6M930.0,263.9L906.1,229.6M933.2,261.0L909.3,226.5M936.4,258.0L912.5,223.3M939.6,254.7L915.7,220.1M942.7,251.4L918.8,216.8M945.9,247.9L922.0,213.4M949.1,244.4L925.2,210.1M952.3,240.8L928.4,206.6M955.5,237.2L931.6,203.1M958.7,233.8L934.8,199.6M961.8,230.7L938.0,196.6M965.0,227.7L941.1,193.5M968.2,224.2L944.3,190.1M971.4,220.3L947.5,186.4M974.6,216.3L950.7,182.5M977.8,213.1L953.9,179.5M980.9,210.5L957.1,177.2M984.1,208.3L960.3,175.4M987.3,206.7L963.4,174.1M990.5,205.4L966.6,173.1M993.7,204.2L969.8,172.4M996.9,203.0L973.0,171.7M1000.1,201.9L976.2,171.2M1003.2,200.8L979.4,170.5M1006.4,199.7L982.6,169.9M1009.6,198.6L985.8,169.3M1012.8,197.5L988.9,168.7M1016.0,196.4L992.1,168.0M1019.2,195.2L995.3,167.3M1022.3,194.0L998.5,166.5M1025.5,192.9L1001.7,165.7M1028.7,191.8L1004.9,164.9M1031.9,190.8L1008.1,164.2M1035.1,190.0L1011.3,163.5M1038.3,189.2L1014.4,162.9M1041.5,188.5L1017.6,162.2M1044.6,187.7L1020.8,161.6M1047.8,186.9L1024.0,160.8M1051.0,185.9L1027.2,160.0M1054.2,184.9L1030.4,159.0M1057.4,183.8L1033.6,158.0M1060.6,182.6L1036.7,156.9M1063.8,181.4L1039.9,155.7M1066.9,180.2L1043.1,154.6M1070.1,178.9L1046.3,153.3M1073.3,177.5L1049.5,152.0M1076.5,176.0L1052.7,150.6M1079.7,174.5L1055.9,149.2M1082.9,173.0L1059.0,147.8M1086.0,171.5L1062.2,146.3M1089.2,170.0L1065.4,144.9M1092.4,168.5L1068.6,143.5M1095.6,167.0L1071.8,142.1M1098.8,165.4L1075.0,140.6M1101.9,163.7L1078.1,139.0M1105.1,162.0L1081.3,137.4M1108.3,160.1L1084.5,135.6M1111.5,158.1L1087.7,133.7M1114.7,155.9L1090.9,131.7M1117.8,153.8L1094.1,129.6M1121.0,151.6L1097.2,127.6M1124.2,149.4L1100.4,125.5M1127.4,147.1L1103.6,123.4M1130.5,144.8L1106.8,121.2M1133.7,142.5L1110.0,119.0M1136.9,140.2L1113.1,116.8" fill="none" stroke="#000" stroke-opacity="0.70" stroke-width="0.50"/>
<path d="M800.8,297.4L804.0,295.5L807.2,293.5L810.4,291.6L813.6,289.8L816.8,288.1L820.0,286.4L823.1,284.7L826.3,283.2L829.5,281.7L832.7,280.3L835.9,279.0L839.1,277.6L842.3,276.2L845.5,274.8L848.7,273.2L851.9,271.5L855.1,269.6L858.3,267.7L861.4,265.7L864.6,263.6L867.8,261.5L871.0,259.3L874.2,257.1L877.4,254.9L880.6,252.4L883.8,249.8L887.0,247.1L890.2,244.2L893.3,241.4L896.5,238.6L899.7,235.6L902.9,232.6L906.1,229.6L909.3,226.5L912.5,223.3L915.7,220.1L918.8,216.8L922.0,213.4L925.2,210.1L928.4,206.6L931.6,203.1L934.8,199.6L938.0,196.6L941.1,193.5L944.3,190.1L947.5,186.4L950.7,182.5L953.9,179.5L957.1,177.2L960.3,175.4L963.4,174.1L966.6,173.1L969.8,172.4L973.0,171.7L976.2,171.2L979.4,170.5L982.6,169.9L985.8,169.3L988.9,168.7L992.1,168.0L995.3,167.3L998.5,166.5L1001.7,165.7L1004.9,164.9L1008.1,164.2L1011.3,163.5L1014.4,162.9L1017.6,162.2L1020.8,161.6L1024.0,160.8L1027.2,160.0L1030.4,159.0L1033.6,158.0L1036.7,156.9L1039.9,155.7L1043.1,154.6L1046.3,153.3L1049.5,152.0L1052.7,150.6L1055.9,149.2L1059.0,147.8L1062.2,146.3L1065.4,144.9L1068.6,143.5L1071.8,142.1L1075.0,140.6L1078.1,139.0L1081.3,137.4L1084.5,135.6L1087.7,133.7L1090.9,131.7L1094.1,129.6L1097.2,127.6L1100.4,125.5L1103.6,123.4L1106.8,121.2L1110.0,119.0L1113.1,116.8" fill="none" stroke="#000" stroke-opacity="0.85" stroke-width="0.85"/>
<path d="M824.7,321.4L827.9,319.6L831.1,317.8L834.3,316.1L837.5,314.5L840.7,312.9L843.9,311.4L847.0,310.1L850.2,308.8L853.4,307.7L856.6,306.6L859.8,305.6L863.0,304.5L866.2,303.5L869.4,302.4L872.6,301.2L875.8,299.9L879.0,298.4L882.2,296.9L885.3,295.2L888.5,293.5L891.7,291.7L894.9,289.8L898.1,287.9L901.3,286.0L904.5,283.9L907.7,281.7L910.9,279.4L914.1,277.1L917.2,274.6L920.4,272.1L923.6,269.5L926.8,266.8L930.0,263.9L933.2,261.0L936.4,258.0L939.6,254.7L942.7,251.4L945.9,247.9L949.1,244.4L952.3,240.8L955.5,237.2L958.7,233.8L961.8,230.7L965.0,227.7L968.2,224.2L971.4,220.3L974.6,216.3L977.8,213.1L980.9,210.5L984.1,208.3L987.3,206.7L990.5,205.4L993.7,204.2L996.9,203.0L1000.1,201.9L1003.2,200.8L1006.4,199.7L1009.6,198.6L1012.8,197.5L1016.0,196.4L1019.2,195.2L1022.3,194.0L1025.5,192.9L1028.7,191.8L1031.9,190.8L1035.1,190.0L1038.3,189.2L1041.5,188.5L1044.6,187.7L1047.8,186.9L1051.0,185.9L1054.2,184.9L1057.4,183.8L1060.6,182.6L1063.8,181.4L1066.9,180.2L1070.1,178.9L1073.3,177.5L1076.5,176.0L1079.7,174.5L1082.9,173.0L1086.0,171.5L1089.2,170.0L1092.4,168.5L1095.6,167.0L1098.8,165.4L1101.9,163.7L1105.1,162.0L1108.3,160.1L1111.5,158.1L1114.7,155.9L1117.8,153.8L1121.0,151.6L1124.2,149.4L1127.4,147.1L1130.5,144.8L1133.7,142.5L1136.9,140.2" fill="none" stroke="#000" stroke-opacity="0.85" stroke-width="0.85"/>
<g fill="currentColor" stroke="currentColor" stroke-width=".7" stroke-linejoin="round">
<polygon points="729.1,225.5 732.3,221.4 708.4,197.6 705.2,201.7" color="#0f0303"/>
<polygon points="732.3,221.4 735.5,217.2 711.6,193.5 708.4,197.6" color="#140404"/>
<polygon points="735.5,217.2 738.7,213.2 714.8,189.4 711.6,193.5" color="#190505"/>
<polygon points="738.7,213.2 741.9,209.2 718.0,185.4 714.8,189.4" color="#1f0607"/>
<polygon points="741.9,209.2 745.1,205.3 721.2,181.5 718.0,185.4" color="#270708"/>
<polygon points="745.1,205.3 748.3,201.5 724.4,177.7 721.2,181.5" color="#2f0809"/>
<polygon points="748.3,201.5 751.4,197.7 727.5,173.8 724.4,177.7" color="#37090b"/>
<polygon points="751.4,197.7 754.6,194.0 730.7,170.1 727.5,173.8" color="#3f0a0c"/>
<polygon points="754.6,194.0 757.8,190.4 733.9,166.4 730.7,170.1" color="#470b0d"/>
<polygon points="757.8,190.4 761.0,186.8 737.1,162.8 733.9,166.4" color="#500d0f"/>
<polygon points="761.0,186.8 764.2,183.3 740.3,159.2 737.1,162.8" color="#590e10"/>
<polygon points="764.2,183.3 767.4,179.8 743.5,155.7 740.3,159.2" color="#610f11"/>
<polygon points="767.4,179.8 770.6,176.4 746.7,152.1 743.5,155.7" color="#6a1012"/>
<polygon points="770.6,176.4 773.8,172.9 749.9,148.6 746.7,152.1" color="#721113"/>
<polygon points="773.8,172.9 777.0,169.5 753.1,145.1 749.9,148.6" color="#7a1214"/>
<polygon points="777.0,169.5 780.2,166.0 756.3,141.5 753.1,145.1" color="#811315"/>
<polygon points="780.2,166.0 783.4,162.5 759.5,137.9 756.3,141.5" color="#871416"/>
<polygon points="783.4,162.5 786.6,159.1 762.7,134.4 759.5,137.9" color="#8e1416"/>
<polygon points="786.6,159.1 789.8,155.8 765.9,131.0 762.7,134.4" color="#951517"/>
<polygon points="789.8,155.8 792.9,152.6 769.1,127.7 765.9,131.0" color="#9b1618"/>
<polygon points="792.9,152.6 796.1,149.5 772.2,124.5 769.1,127.7" color="#a11618"/>
<polygon points="796.1,149.5 799.3,146.4 775.4,121.4 772.2,124.5" color="#a61718"/>
<polygon points="799.3,146.4 802.5,143.4 778.6,118.3 775.4,121.4" color="#ac1719"/>
<polygon points="802.5,143.4 805.7,140.4 781.8,115.2 778.6,118.3" color="#b11819"/>
<polygon points="805.7,140.4 808.9,137.3 785.0,112.0 781.8,115.2" color="#b61819"/>
<polygon points="808.9,137.3 812.1,134.1 788.2,108.7 785.0,112.0" color="#bb1919"/>
<polygon points="812.1,134.1 815.3,130.9 791.4,105.3 788.2,108.7" color="#c01a1a"/>
<polygon points="815.3,130.9 818.5,127.8 794.6,102.0 791.4,105.3" color="#c41a1a"/>
<polygon points="818.5,127.8 821.7,124.8 797.8,98.9 794.6,102.0" color="#c71b1b"/>
<polygon points="821.7,124.8 824.9,122.0 801.0,96.0 797.8,98.9" color="#ca1b1b"/>
<polygon points="824.9,122.0 828.1,119.4 804.2,93.3 801.0,96.0" color="#cd1c1c"/>
<polygon points="828.1,119.4 831.2,116.9 807.4,90.6 804.2,93.3" color="#d11c1c"/>
<polygon points="831.2,116.9 834.4,114.4 810.6,88.1 807.4,90.6" color="#d41d1d"/>
<polygon points="834.4,114.4 837.6,112.1 813.8,85.7 810.6,88.1" color="#d71d1d"/>
<polygon points="837.6,112.1 840.8,109.9 816.9,83.4 813.8,85.7" color="#da1e1e"/>
<polygon points="840.8,109.9 844.0,107.9 820.1,81.3 816.9,83.4" color="#dc1e1e"/>
<polygon points="844.0,107.9 847.2,105.9 823.3,79.4 820.1,81.3" color="#dd1e1e"/>
<polygon points="847.2,105.9 850.4,104.0 826.5,77.5 823.3,79.4" color="#df1f1e"/>
<polygon points="850.4,104.0 853.6,102.2 829.7,75.7 826.5,77.5" color="#e01f1f"/>
<polygon points="853.6,102.2 856.8,100.3 832.9,73.8 829.7,75.7" color="#e1201f"/>
<polygon points="856.8,100.3 860.0,98.3 836.1,71.9 832.9,73.8" color="#e2201f"/>
<polygon points="860.0,98.3 863.2,96.4 839.3,69.9 836.1,71.9" color="#e4211f"/>
<polygon points="863.2,96.4 866.3,94.6 842.5,68.1 839.3,69.9" color="#e5211f"/>
<polygon points="866.3,94.6 869.5,92.8 845.7,66.3 842.5,68.1" color="#e62120"/>
<polygon points="869.5,92.8 872.7,91.3 848.9,64.7 845.7,66.3" color="#e72220"/>
<polygon points="872.7,91.3 875.9,89.9 852.1,63.3 848.9,64.7" color="#e82220"/>
<polygon points="875.9,89.9 879.1,88.6 855.3,62.0 852.1,63.3" color="#e92320"/>
<polygon points="879.1,88.6 882.3,87.6 858.5,61.0 855.3,62.0" color="#e92320"/>
<polygon points="882.3,87.6 885.5,86.9 861.6,60.4 858.5,61.0" color="#ea2420"/>
<polygon points="885.5,86.9 888.7,86.5 864.8,60.0 861.6,60.4" color="#ea2520"/>
<polygon points="888.7,86.5 891.9,86.1 868.0,59.7 864.8,60.0" color="#ea2520"/>
<polygon points="891.9,86.1 895.1,85.7 871.2,59.5 868.0,59.7" color="#eb2620"/>
<polygon points="895.1,85.7 898.3,85.6 874.4,59.5 871.2,59.5" color="#eb261f"/>
<polygon points="898.3,85.6 901.5,85.7 877.6,59.8 874.4,59.5" color="#ec271f"/>
<polygon points="901.5,85.7 904.6,85.8 880.8,60.1 877.6,59.8" color="#ec271f"/>
<polygon points="904.6,85.8 907.8,85.6 884.0,60.1 880.8,60.1" color="#ed281f"/>
<polygon points="907.8,85.6 911.0,85.4 887.2,60.0 884.0,60.1" color="#ed281f"/>
<polygon points="911.0,85.4 914.2,85.2 890.4,60.0 887.2,60.0" color="#ed291f"/>
<polygon points="914.2,85.2 917.4,85.0 893.6,59.9 890.4,60.0" color="#ee2a1f"/>
<polygon points="917.4,85.0 920.6,84.6 896.8,59.7 893.6,59.9" color="#ee2a1f"/>
<polygon points="920.6,84.6 923.8,84.2 900.0,59.4 896.8,59.7" color="#ee2b1f"/>
<polygon points="923.8,84.2 927.0,83.7 903.2,59.0 900.0,59.4" color="#ef2c1f"/>
<polygon points="927.0,83.7 930.2,83.0 906.4,58.5 903.2,59.0" color="#ef2d1f"/>
<polygon points="930.2,83.0 933.4,82.2 909.5,57.8 906.4,58.5" color="#ef2d1f"/>
<polygon points="933.4,82.2 936.6,81.4 912.7,57.1 909.5,57.8" color="#f02e1f"/>
<polygon points="936.6,81.4 939.8,80.5 915.9,56.2 912.7,57.1" color="#f02f1f"/>
<polygon points="939.8,80.5 942.9,79.4 919.1,55.2 915.9,56.2" color="#f0301f"/>
<polygon points="942.9,79.4 946.1,78.4 922.3,54.2 919.1,55.2" color="#f1311f"/>
<polygon points="946.1,78.4 949.3,77.3 925.5,53.1 922.3,54.2" color="#f1311e"/>
<polygon points="949.3,77.3 952.5,76.2 928.7,52.1 925.5,53.1" color="#f1321e"/>
<polygon points="952.5,76.2 955.7,75.0 931.9,50.9 928.7,52.1" color="#f1331e"/>
<polygon points="955.7,75.0 958.9,73.8 935.1,49.8 931.9,50.9" color="#f2341e"/>
<polygon points="958.9,73.8 962.1,72.7 938.3,48.7 935.1,49.8" color="#f2351e"/>
<polygon points="962.1,72.7 965.3,71.5 941.5,47.5 938.3,48.7" color="#f2351e"/>
<polygon points="965.3,71.5 968.5,70.4 944.7,46.4 941.5,47.5" color="#f3361e"/>
<polygon points="968.5,70.4 971.7,69.2 947.9,45.3 944.7,46.4" color="#f3371e"/>
<polygon points="971.7,69.2 974.9,68.0 951.1,44.1 947.9,45.3" color="#f3381e"/>
<polygon points="974.9,68.0 978.0,66.9 954.2,43.0 951.1,44.1" color="#f4391e"/>
<polygon points="978.0,66.9 981.2,65.7 957.4,41.9 954.2,43.0" color="#f43a1e"/>
<polygon points="981.2,65.7 984.4,64.6 960.6,40.7 957.4,41.9" color="#f43a1e"/>
<polygon points="984.4,64.6 987.6,63.5 963.8,39.7 960.6,40.7" color="#f43b1e"/>
<polygon points="987.6,63.5 990.8,62.4 967.0,38.7 963.8,39.7" color="#f53c1e"/>
<polygon points="990.8,62.4 994.0,61.4 970.2,37.7 967.0,38.7" color="#f53c1e"/>
<polygon points="994.0,61.4 997.2,60.5 973.4,36.7 970.2,37.7" color="#f53d1e"/>
<polygon points="997.2,60.5 1000.4,59.5 976.6,35.8 973.4,36.7" color="#f53e1d"/>
<polygon points="1000.4,59.5 1003.6,58.6 979.8,34.9 976.6,35.8" color="#f53f1d"/>
<polygon points="1003.6,58.6 1006.8,57.6 983.0,33.9 979.8,34.9" color="#f63f1d"/>
<polygon points="1006.8,57.6 1010.0,56.6 986.2,33.0 983.0,33.9" color="#f6401d"/>
<polygon points="1010.0,56.6 1013.1,55.7 989.4,32.0 986.2,33.0" color="#f6411d"/>
<polygon points="1013.1,55.7 1016.3,54.7 992.6,31.1 989.4,32.0" color="#f6411d"/>
<polygon points="1016.3,54.7 1019.5,53.7 995.8,30.1 992.6,31.1" color="#f6421d"/>
<polygon points="1019.5,53.7 1022.7,52.8 998.9,29.2 995.8,30.1" color="#f7431d"/>
<polygon points="1022.7,52.8 1025.9,51.8 1002.1,28.2 998.9,29.2" color="#f7431d"/>
<polygon points="1025.9,51.8 1029.1,50.8 1005.3,27.2 1002.1,28.2" color="#f7441d"/>
<polygon points="1029.1,50.8 1032.3,49.7 1008.5,26.2 1005.3,27.2" color="#f7451c"/>
<polygon points="1032.3,49.7 1035.5,48.7 1011.7,25.2 1008.5,26.2" color="#f7461c"/>
<polygon points="1035.5,48.7 1038.7,47.6 1014.9,24.1 1011.7,25.2" color="#f8461c"/>
<polygon points="1038.7,47.6 1041.9,46.5 1018.1,23.0 1014.9,24.1" color="#f8471c"/>
</g>
<polygon points="840.8,109.9 844.0,107.9 847.2,105.9 850.4,104.0 853.6,102.2 856.8,100.3 860.0,98.3 863.2,96.4 866.3,94.6 869.5,92.8 872.7,91.3 875.9,89.9 879.1,88.6 882.3,87.6 885.5,86.9 888.7,86.5 891.9,86.1 895.1,85.7 898.3,85.6 901.5,85.7 904.6,85.8 907.8,85.6 911.0,85.4 914.2,85.2 917.4,85.0 920.6,84.6 923.8,84.2 927.0,83.7 930.2,83.0 933.4,82.2 936.6,81.4 939.8,80.5 942.9,79.4 946.1,78.4 949.3,77.3 952.5,76.2 955.7,75.0 958.9,73.8 962.1,72.7 965.3,71.5 968.5,70.4 971.7,69.2 974.9,68.0 978.0,66.9 981.2,65.7 984.4,64.6 987.6,63.5 990.8,62.4 994.0,61.4 997.2,60.5 1000.4,59.5 1003.6,58.6 1006.8,57.6 1010.0,56.6 1013.1,55.7 1016.3,54.7 1019.5,53.7 1022.7,52.8 1025.9,51.8 1029.1,50.8 1032.3,49.7 1035.5,48.7 1038.7,47.6 1041.9,46.5 1034.7,39.4 1031.5,40.5 1028.4,41.6 1025.2,42.7 1022.0,43.7 1018.8,44.7 1015.6,45.7 1012.4,46.7 1009.2,47.6 1006.0,48.6 1002.8,49.5 999.6,50.5 996.4,51.4 993.2,52.4 990.1,53.3 986.9,54.3 983.7,55.3 980.5,56.3 977.3,57.4 974.1,58.6 970.9,59.7 967.7,60.9 964.5,62.0 961.3,63.2 958.1,64.3 954.9,65.5 951.8,66.6 948.6,67.8 945.4,68.9 942.2,70.0 939.0,71.1 935.8,72.2 932.6,73.2 929.4,74.1 926.2,74.9 923.0,75.6 919.8,76.3 916.6,76.8 913.5,77.1 910.3,77.4 907.1,77.6 903.9,77.8 900.7,78.0 897.5,78.1 894.3,78.0 891.1,77.8 887.9,77.8 884.7,78.1 881.5,78.5 878.3,78.9 875.1,79.6 872.0,80.6 868.8,81.9 865.6,83.2 862.4,84.8 859.2,86.6 856.0,88.4 852.8,90.4 849.6,92.3 846.4,94.2 843.2,96.1 840.0,97.9 836.8,99.9 833.7,101.9" fill="#300000" fill-opacity="0.09"/>
<polygon points="866.3,94.6 869.5,92.8 872.7,91.3 875.9,89.9 879.1,88.6 882.3,87.6 885.5,86.9 888.7,86.5 891.9,86.1 895.1,85.7 898.3,85.6 901.5,85.7 904.6,85.8 907.8,85.6 911.0,85.4 914.2,85.2 917.4,85.0 920.6,84.6 923.8,84.2 927.0,83.7 930.2,83.0 933.4,82.2 936.6,81.4 939.8,80.5 942.9,79.4 946.1,78.4 949.3,77.3 952.5,76.2 955.7,75.0 958.9,73.8 962.1,72.7 965.3,71.5 968.5,70.4 971.7,69.2 974.9,68.0 978.0,66.9 981.2,65.7 984.4,64.6 987.6,63.5 990.8,62.4 994.0,61.4 997.2,60.5 1000.4,59.5 1003.6,58.6 1006.8,57.6 1010.0,56.6 1013.1,55.7 1016.3,54.7 1019.5,53.7 1022.7,52.8 1025.9,51.8 1029.1,50.8 1032.3,49.7 1035.5,48.7 1038.7,47.6 1041.9,46.5 1034.7,39.4 1031.5,40.5 1028.4,41.6 1025.2,42.7 1022.0,43.7 1018.8,44.7 1015.6,45.7 1012.4,46.7 1009.2,47.6 1006.0,48.6 1002.8,49.5 999.6,50.5 996.4,51.4 993.2,52.4 990.1,53.3 986.9,54.3 983.7,55.3 980.5,56.3 977.3,57.4 974.1,58.6 970.9,59.7 967.7,60.9 964.5,62.0 961.3,63.2 958.1,64.3 954.9,65.5 951.8,66.6 948.6,67.8 945.4,68.9 942.2,70.0 939.0,71.1 935.8,72.2 932.6,73.2 929.4,74.1 926.2,74.9 923.0,75.6 919.8,76.3 916.6,76.8 913.5,77.1 910.3,77.4 907.1,77.6 903.9,77.8 900.7,78.0 897.5,78.1 894.3,78.0 891.1,77.8 887.9,77.8 884.7,78.1 881.5,78.5 878.3,78.9 875.1,79.6 872.0,80.6 868.8,81.9 865.6,83.2 862.4,84.8 859.2,86.6" fill="#300000" fill-opacity="0.10"/>
<polygon points="885.5,86.9 888.7,86.5 891.9,86.1 895.1,85.7 898.3,85.6 901.5,85.7 904.6,85.8 907.8,85.6 911.0,85.4 914.2,85.2 917.4,85.0 920.6,84.6 923.8,84.2 927.0,83.7 930.2,83.0 933.4,82.2 936.6,81.4 939.8,80.5 942.9,79.4 946.1,78.4 949.3,77.3 952.5,76.2 955.7,75.0 958.9,73.8 962.1,72.7 965.3,71.5 968.5,70.4 971.7,69.2 974.9,68.0 978.0,66.9 981.2,65.7 984.4,64.6 987.6,63.5 990.8,62.4 994.0,61.4 997.2,60.5 1000.4,59.5 1003.6,58.6 1006.8,57.6 1010.0,56.6 1013.1,55.7 1016.3,54.7 1019.5,53.7 1022.7,52.8 1025.9,51.8 1029.1,50.8 1032.3,49.7 1035.5,48.7 1038.7,47.6 1041.9,46.5 1034.7,39.4 1031.5,40.5 1028.4,41.6 1025.2,42.7 1022.0,43.7 1018.8,44.7 1015.6,45.7 1012.4,46.7 1009.2,47.6 1006.0,48.6 1002.8,49.5 999.6,50.5 996.4,51.4 993.2,52.4 990.1,53.3 986.9,54.3 983.7,55.3 980.5,56.3 977.3,57.4 974.1,58.6 970.9,59.7 967.7,60.9 964.5,62.0 961.3,63.2 958.1,64.3 954.9,65.5 951.8,66.6 948.6,67.8 945.4,68.9 942.2,70.0 939.0,71.1 935.8,72.2 932.6,73.2 929.4,74.1 926.2,74.9 923.0,75.6 919.8,76.3 916.6,76.8 913.5,77.1 910.3,77.4 907.1,77.6 903.9,77.8 900.7,78.0 897.5,78.1 894.3,78.0 891.1,77.8 887.9,77.8 884.7,78.1 881.5,78.5 878.3,78.9" fill="#300000" fill-opacity="0.06"/>
<polygon points="846.4,94.2 849.6,92.3 852.8,90.4 856.0,88.4 859.2,86.6 862.4,84.8 865.6,83.2 868.8,81.9 872.0,80.6 875.1,79.6 878.3,78.9 881.5,78.5 884.7,78.1 887.9,77.8 891.1,77.8 894.3,78.0 897.5,78.1 900.7,78.0 903.9,77.8 907.1,77.6 910.3,77.4 913.5,77.1 916.6,76.8 919.8,76.3 923.0,75.6 926.2,74.9 929.4,74.1 932.6,73.2 935.8,72.2 939.0,71.1 942.2,70.0 945.4,68.9 948.6,67.8 951.8,66.6 954.9,65.5 958.1,64.3 961.3,63.2 964.5,62.0 967.7,60.9 970.9,59.7 974.1,58.6 977.3,57.4 980.5,56.3 983.7,55.3 986.9,54.3 990.1,53.3 993.2,52.4 996.4,51.4 999.6,50.5 1002.8,49.5 1006.0,48.6 1009.2,47.6 1012.4,46.7 1015.6,45.7 1018.8,44.7 1022.0,43.7 1025.2,42.7 1028.4,41.6 1031.5,40.5 1034.7,39.4 1028.8,33.5 1025.6,34.7 1022.4,35.7 1019.2,36.8 1016.0,37.8 1012.8,38.8 1009.6,39.8 1006.5,40.8 1003.3,41.7 1000.1,42.7 996.9,43.6 993.7,44.6 990.5,45.5 987.3,46.5 984.1,47.4 980.9,48.4 977.7,49.4 974.5,50.4 971.3,51.5 968.1,52.6 965.0,53.7 961.8,54.9 958.6,56.0 955.4,57.2 952.2,58.3 949.0,59.5 945.8,60.6 942.6,61.8 939.4,62.9 936.2,64.0 933.0,65.1 929.8,66.1 926.7,67.1 923.5,68.0 920.3,68.8 917.1,69.5 913.9,70.1 910.7,70.6 907.5,70.9 904.3,71.1 901.1,71.3 897.9,71.5 894.7,71.6 891.5,71.6 888.3,71.5 885.1,71.2 882.0,71.3 878.8,71.6 875.6,71.9 872.4,72.3 869.2,72.9 866.0,74.0 862.8,75.3 859.6,76.6 856.4,78.2 853.2,80.0 850.0,81.8 846.8,83.7 843.7,85.7 840.5,87.6" fill="#300000" fill-opacity="0.05"/>
<polygon points="878.3,78.9 881.5,78.5 884.7,78.1 887.9,77.8 891.1,77.8 894.3,78.0 897.5,78.1 900.7,78.0 903.9,77.8 907.1,77.6 910.3,77.4 913.5,77.1 916.6,76.8 919.8,76.3 923.0,75.6 926.2,74.9 929.4,74.1 932.6,73.2 935.8,72.2 939.0,71.1 942.2,70.0 945.4,68.9 948.6,67.8 951.8,66.6 954.9,65.5 958.1,64.3 961.3,63.2 964.5,62.0 967.7,60.9 970.9,59.7 974.1,58.6 977.3,57.4 980.5,56.3 983.7,55.3 986.9,54.3 990.1,53.3 993.2,52.4 996.4,51.4 999.6,50.5 1002.8,49.5 1006.0,48.6 1009.2,47.6 1012.4,46.7 1015.6,45.7 1018.8,44.7 1022.0,43.7 1025.2,42.7 1028.4,41.6 1031.5,40.5 1034.7,39.4 1028.8,33.5 1025.6,34.7 1022.4,35.7 1019.2,36.8 1016.0,37.8 1012.8,38.8 1009.6,39.8 1006.5,40.8 1003.3,41.7 1000.1,42.7 996.9,43.6 993.7,44.6 990.5,45.5 987.3,46.5 984.1,47.4 980.9,48.4 977.7,49.4 974.5,50.4 971.3,51.5 968.1,52.6 965.0,53.7 961.8,54.9 958.6,56.0 955.4,57.2 952.2,58.3 949.0,59.5 945.8,60.6 942.6,61.8 939.4,62.9 936.2,64.0 933.0,65.1 929.8,66.1 926.7,67.1 923.5,68.0 920.3,68.8 917.1,69.5 913.9,70.1 910.7,70.6 907.5,70.9 904.3,71.1 901.1,71.3 897.9,71.5 894.7,71.6 891.5,71.6 888.3,71.5 885.1,71.2 882.0,71.3 878.8,71.6 875.6,71.9 872.4,72.3" fill="#300000" fill-opacity="0.06"/>
<polygon points="837.4,84.1 840.5,82.3 843.7,80.3 846.9,78.4 850.1,76.5 853.3,74.7 856.5,73.1 859.7,71.8 862.9,70.5 866.1,69.5 869.3,68.9 872.5,68.5 875.7,68.1 878.9,67.9 882.1,67.9 885.2,68.1 888.4,68.3 891.6,68.2 894.8,68.2 898.0,68.0 901.2,67.9 904.4,67.7 907.6,67.3 910.8,66.9 914.0,66.3 917.2,65.6 920.4,64.8 923.6,64.0 926.7,63.0 929.9,61.9 933.1,60.9 936.3,59.8 939.5,58.6 942.7,57.5 945.9,56.3 949.1,55.2 952.3,54.1 955.5,52.9 958.7,51.8 961.9,50.6 965.1,49.5 968.2,48.4 971.4,47.3 974.6,46.3 977.8,45.3 981.0,44.3 984.2,43.4 987.4,42.4 990.6,41.5 993.8,40.5 997.0,39.6 1000.2,38.6 1003.4,37.7 1006.6,36.7 1009.7,35.8 1012.9,34.8 1016.1,33.7 1019.3,32.7 1022.5,31.6 1025.7,30.5 1018.1,23.0 1014.9,24.1 1011.7,25.2 1008.5,26.2 1005.3,27.2 1002.1,28.2 998.9,29.2 995.8,30.1 992.6,31.1 989.4,32.0 986.2,33.0 983.0,33.9 979.8,34.9 976.6,35.8 973.4,36.7 970.2,37.7 967.0,38.7 963.8,39.7 960.6,40.7 957.4,41.9 954.2,43.0 951.1,44.1 947.9,45.3 944.7,46.4 941.5,47.5 938.3,48.7 935.1,49.8 931.9,50.9 928.7,52.1 925.5,53.1 922.3,54.2 919.1,55.2 915.9,56.2 912.7,57.1 909.5,57.8 906.4,58.5 903.2,59.0 900.0,59.4 896.8,59.7 893.6,59.9 890.4,60.0 887.2,60.0 884.0,60.1 880.8,60.1 877.6,59.8 874.4,59.5 871.2,59.5 868.0,59.7 864.8,60.0 861.6,60.4 858.5,61.0 855.3,62.0 852.1,63.3 848.9,64.7 845.7,66.3 842.5,68.1 839.3,69.9 836.1,71.9 832.9,73.8 829.7,75.7" fill="#ffc080" fill-opacity="0.10"/>
<polygon points="869.3,68.9 872.5,68.5 875.7,68.1 878.9,67.9 882.1,67.9 885.2,68.1 888.4,68.3 891.6,68.2 894.8,68.2 898.0,68.0 901.2,67.9 904.4,67.7 907.6,67.3 910.8,66.9 914.0,66.3 917.2,65.6 920.4,64.8 923.6,64.0 926.7,63.0 929.9,61.9 933.1,60.9 936.3,59.8 939.5,58.6 942.7,57.5 945.9,56.3 949.1,55.2 952.3,54.1 955.5,52.9 958.7,51.8 961.9,50.6 965.1,49.5 968.2,48.4 971.4,47.3 974.6,46.3 977.8,45.3 981.0,44.3 984.2,43.4 987.4,42.4 990.6,41.5 993.8,40.5 997.0,39.6 1000.2,38.6 1003.4,37.7 1006.6,36.7 1009.7,35.8 1012.9,34.8 1016.1,33.7 1019.3,32.7 1022.5,31.6 1025.7,30.5 1018.1,23.0 1014.9,24.1 1011.7,25.2 1008.5,26.2 1005.3,27.2 1002.1,28.2 998.9,29.2 995.8,30.1 992.6,31.1 989.4,32.0 986.2,33.0 983.0,33.9 979.8,34.9 976.6,35.8 973.4,36.7 970.2,37.7 967.0,38.7 963.8,39.7 960.6,40.7 957.4,41.9 954.2,43.0 951.1,44.1 947.9,45.3 944.7,46.4 941.5,47.5 938.3,48.7 935.1,49.8 931.9,50.9 928.7,52.1 925.5,53.1 922.3,54.2 919.1,55.2 915.9,56.2 912.7,57.1 909.5,57.8 906.4,58.5 903.2,59.0 900.0,59.4 896.8,59.7 893.6,59.9 890.4,60.0 887.2,60.0 884.0,60.1 880.8,60.1 877.6,59.8 874.4,59.5 871.2,59.5 868.0,59.7 864.8,60.0 861.6,60.4" fill="#ffc080" fill-opacity="0.14"/>
<path d="M848.5,93.8L836.8,80.8M884.2,83.5L875.1,73.3M888.5,80.4L880.0,71.0M894.9,80.2L885.6,70.0M898.7,81.0L890.3,71.9M904.3,76.5L894.0,65.5M908.7,77.6L897.0,65.3M919.7,81.8L911.5,73.2M917.1,75.3L908.5,66.4M922.9,77.5L907.1,61.1M926.4,77.1L917.6,68.0M927.0,73.7L914.1,60.4M936.9,79.7L925.1,67.7M934.5,73.0L921.0,59.3M939.8,74.1L923.1,57.2M942.9,68.6L928.8,54.3M953.1,65.8L942.1,54.7M958.4,66.7L946.6,54.9M959.9,63.9L952.3,56.3M964.8,64.5L949.6,49.2M972.0,67.4L963.0,58.3M973.9,60.5L958.9,45.5" fill="none" stroke="#e8c060" stroke-opacity="0.75" stroke-width="0.55"/>
<path d="M853.2,88.0L840.7,74.1M861.3,91.6L850.6,79.8M861.0,86.0L850.8,74.6M862.4,82.2L850.8,69.3M869.8,85.5L856.0,70.1M868.2,78.8L856.9,66.3M873.3,79.8L859.4,64.3M880.1,82.9L868.9,70.5" fill="none" stroke="#f0d830" stroke-opacity="0.90" stroke-width="0.60"/>
<path d="M975.4,57.7L962.6,44.9M987.4,61.2L976.3,50.0M990.5,51.7L982.4,43.6M993.8,50.9L979.4,36.5M1003.8,56.7L992.2,45.2M1005.0,49.6L995.3,40.0M1011.2,51.7L1003.8,44.3M1013.8,50.1L997.6,34.1M1019.4,51.6L1011.2,43.4M1021.4,49.4L1009.4,37.5M1025.6,49.4L1012.2,36.1M1027.0,46.6L1014.1,33.8M1027.0,42.4L1017.4,32.9M1038.5,45.3L1026.7,33.6" fill="none" stroke="#f4d8a0" stroke-opacity="0.75" stroke-width="0.55"/>
<path d="M729.1,225.5L705.2,201.7M732.3,221.4L708.4,197.6M735.5,217.2L711.6,193.5M738.7,213.2L714.8,189.4M741.9,209.2L718.0,185.4M745.1,205.3L721.2,181.5M748.3,201.5L724.4,177.7M751.4,197.7L727.5,173.8M754.6,194.0L730.7,170.1M757.8,190.4L733.9,166.4M761.0,186.8L737.1,162.8M764.2,183.3L740.3,159.2M767.4,179.8L743.5,155.7M770.6,176.4L746.7,152.1M773.8,172.9L749.9,148.6M777.0,169.5L753.1,145.1M780.2,166.0L756.3,141.5M783.4,162.5L759.5,137.9M786.6,159.1L762.7,134.4M789.8,155.8L765.9,131.0M792.9,152.6L769.1,127.7M796.1,149.5L772.2,124.5M799.3,146.4L775.4,121.4M802.5,143.4L778.6,118.3M805.7,140.4L781.8,115.2M808.9,137.3L785.0,112.0M812.1,134.1L788.2,108.7M815.3,130.9L791.4,105.3M818.5,127.8L794.6,102.0" fill="none" stroke="#000" stroke-opacity="0.50" stroke-width="0.35"/>
<path d="M821.7,124.8L797.8,98.9M824.9,122.0L801.0,96.0M828.1,119.4L804.2,93.3M831.2,116.9L807.4,90.6M834.4,114.4L810.6,88.1M837.6,112.1L813.8,85.7M840.8,109.9L816.9,83.4M844.0,107.9L820.1,81.3M847.2,105.9L823.3,79.4M850.4,104.0L826.5,77.5M853.6,102.2L829.7,75.7M856.8,100.3L832.9,73.8" fill="none" stroke="#000" stroke-opacity="0.60" stroke-width="0.45"/>
<path d="M860.0,98.3L836.1,71.9M863.2,96.4L839.3,69.9M866.3,94.6L842.5,68.1M869.5,92.8L845.7,66.3M872.7,91.3L848.9,64.7M875.9,89.9L852.1,63.3M879.1,88.6L855.3,62.0M882.3,87.6L858.5,61.0M885.5,86.9L861.6,60.4M888.7,86.5L864.8,60.0M891.9,86.1L868.0,59.7M895.1,85.7L871.2,59.5M898.3,85.6L874.4,59.5M901.5,85.7L877.6,59.8M904.6,85.8L880.8,60.1M907.8,85.6L884.0,60.1M911.0,85.4L887.2,60.0M914.2,85.2L890.4,60.0M917.4,85.0L893.6,59.9M920.6,84.6L896.8,59.7M923.8,84.2L900.0,59.4M927.0,83.7L903.2,59.0M930.2,83.0L906.4,58.5M933.4,82.2L909.5,57.8M936.6,81.4L912.7,57.1M939.8,80.5L915.9,56.2M942.9,79.4L919.1,55.2M946.1,78.4L922.3,54.2M949.3,77.3L925.5,53.1M952.5,76.2L928.7,52.1M955.7,75.0L931.9,50.9M958.9,73.8L935.1,49.8M962.1,72.7L938.3,48.7M965.3,71.5L941.5,47.5M968.5,70.4L944.7,46.4M971.7,69.2L947.9,45.3M974.9,68.0L951.1,44.1M978.0,66.9L954.2,43.0M981.2,65.7L957.4,41.9M984.4,64.6L960.6,40.7M987.6,63.5L963.8,39.7M990.8,62.4L967.0,38.7M994.0,61.4L970.2,37.7M997.2,60.5L973.4,36.7M1000.4,59.5L976.6,35.8M1003.6,58.6L979.8,34.9M1006.8,57.6L983.0,33.9M1010.0,56.6L986.2,33.0M1013.1,55.7L989.4,32.0M1016.3,54.7L992.6,31.1M1019.5,53.7L995.8,30.1M1022.7,52.8L998.9,29.2M1025.9,51.8L1002.1,28.2M1029.1,50.8L1005.3,27.2M1032.3,49.7L1008.5,26.2M1035.5,48.7L1011.7,25.2M1038.7,47.6L1014.9,24.1M1041.9,46.5L1018.1,23.0" fill="none" stroke="#000" stroke-opacity="0.60" stroke-width="0.50"/>
<path d="M877.1,77.6L862.1,60.9" fill="none" stroke="#000" stroke-opacity="0.80" stroke-width="1.00"/>
<path d="M705.2,201.7L708.4,197.6L711.6,193.5L714.8,189.4L718.0,185.4L721.2,181.5L724.4,177.7L727.5,173.8L730.7,170.1L733.9,166.4L737.1,162.8L740.3,159.2L743.5,155.7L746.7,152.1L749.9,148.6L753.1,145.1L756.3,141.5L759.5,137.9L762.7,134.4L765.9,131.0L769.1,127.7L772.2,124.5L775.4,121.4L778.6,118.3L781.8,115.2L785.0,112.0L788.2,108.7L791.4,105.3L794.6,102.0L797.8,98.9L801.0,96.0L804.2,93.3L807.4,90.6L810.6,88.1L813.8,85.7L816.9,83.4L820.1,81.3L823.3,79.4L826.5,77.5L829.7,75.7L832.9,73.8L836.1,71.9L839.3,69.9L842.5,68.1L845.7,66.3L848.9,64.7L852.1,63.3L855.3,62.0L858.5,61.0L861.6,60.4L864.8,60.0L868.0,59.7L871.2,59.5L874.4,59.5L877.6,59.8L880.8,60.1L884.0,60.1L887.2,60.0L890.4,60.0L893.6,59.9L896.8,59.7L900.0,59.4L903.2,59.0L906.4,58.5L909.5,57.8L912.7,57.1L915.9,56.2L919.1,55.2L922.3,54.2L925.5,53.1L928.7,52.1L931.9,50.9L935.1,49.8L938.3,48.7L941.5,47.5L944.7,46.4L947.9,45.3L951.1,44.1L954.2,43.0L957.4,41.9L960.6,40.7L963.8,39.7L967.0,38.7L970.2,37.7L973.4,36.7L976.6,35.8L979.8,34.9L983.0,33.9L986.2,33.0L989.4,32.0L992.6,31.1L995.8,30.1L998.9,29.2L1002.1,28.2L1005.3,27.2L1008.5,26.2L1011.7,25.2L1014.9,24.1L1018.1,23.0" fill="none" stroke="#000" stroke-opacity="0.85" stroke-width="0.85"/>
<path d="M729.1,225.5L732.3,221.4L735.5,217.2L738.7,213.2L741.9,209.2L745.1,205.3L748.3,201.5L751.4,197.7L754.6,194.0L757.8,190.4L761.0,186.8L764.2,183.3L767.4,179.8L770.6,176.4L773.8,172.9L777.0,169.5L780.2,166.0L783.4,162.5L786.6,159.1L789.8,155.8L792.9,152.6L796.1,149.5L799.3,146.4L802.5,143.4L805.7,140.4L808.9,137.3L812.1,134.1L815.3,130.9L818.5,127.8L821.7,124.8L824.9,122.0L828.1,119.4L831.2,116.9L834.4,114.4L837.6,112.1L840.8,109.9L844.0,107.9L847.2,105.9L850.4,104.0L853.6,102.2L856.8,100.3L860.0,98.3L863.2,96.4L866.3,94.6L869.5,92.8L872.7,91.3L875.9,89.9L879.1,88.6L882.3,87.6L885.5,86.9L888.7,86.5L891.9,86.1L895.1,85.7L898.3,85.6L901.5,85.7L904.6,85.8L907.8,85.6L911.0,85.4L914.2,85.2L917.4,85.0L920.6,84.6L923.8,84.2L927.0,83.7L930.2,83.0L933.4,82.2L936.6,81.4L939.8,80.5L942.9,79.4L946.1,78.4L949.3,77.3L952.5,76.2L955.7,75.0L958.9,73.8L962.1,72.7L965.3,71.5L968.5,70.4L971.7,69.2L974.9,68.0L978.0,66.9L981.2,65.7L984.4,64.6L987.6,63.5L990.8,62.4L994.0,61.4L997.2,60.5L1000.4,59.5L1003.6,58.6L1006.8,57.6L1010.0,56.6L1013.1,55.7L1016.3,54.7L1019.5,53.7L1022.7,52.8L1025.9,51.8L1029.1,50.8L1032.3,49.7L1035.5,48.7L1038.7,47.6L1041.9,46.5" fill="none" stroke="#000" stroke-opacity="0.65" stroke-width="0.45"/>
<g fill="currentColor" stroke="currentColor" stroke-width=".7" stroke-linejoin="round">
<polygon points="753.0,249.3 756.2,245.1 732.3,221.4 729.1,225.5" color="#0f0303"/>
<polygon points="756.2,245.1 759.4,241.0 735.5,217.2 732.3,221.4" color="#140404"/>
<polygon points="759.4,241.0 762.6,237.0 738.7,213.2 735.5,217.2" color="#180505"/>
<polygon points="762.6,237.0 765.8,233.0 741.9,209.2 738.7,213.2" color="#1e0506"/>
<polygon points="765.8,233.0 769.0,229.2 745.1,205.3 741.9,209.2" color="#260708"/>
<polygon points="769.0,229.2 772.2,225.4 748.3,201.5 745.1,205.3" color="#2d0809"/>
<polygon points="772.2,225.4 775.3,221.6 751.4,197.7 748.3,201.5" color="#35090b"/>
<polygon points="775.3,221.6 778.5,218.0 754.6,194.0 751.4,197.7" color="#3d0a0c"/>
<polygon points="778.5,218.0 781.7,214.4 757.8,190.4 754.6,194.0" color="#450b0d"/>
<polygon points="781.7,214.4 784.9,210.9 761.0,186.8 757.8,190.4" color="#4e0c0e"/>
<polygon points="784.9,210.9 788.1,207.4 764.2,183.3 761.0,186.8" color="#560d0f"/>
<polygon points="788.1,207.4 791.3,204.0 767.4,179.8 764.2,183.3" color="#5f0f11"/>
<polygon points="791.3,204.0 794.5,200.7 770.6,176.4 767.4,179.8" color="#671012"/>
<polygon points="794.5,200.7 797.7,197.3 773.8,172.9 770.6,176.4" color="#701113"/>
<polygon points="797.7,197.3 800.9,194.0 777.0,169.5 773.8,172.9" color="#781214"/>
<polygon points="800.9,194.0 804.1,190.6 780.2,166.0 777.0,169.5" color="#7e1214"/>
<polygon points="804.1,190.6 807.3,187.2 783.4,162.5 780.2,166.0" color="#851315"/>
<polygon points="807.3,187.2 810.5,183.9 786.6,159.1 783.4,162.5" color="#8b1416"/>
<polygon points="810.5,183.9 813.6,180.7 789.8,155.8 786.6,159.1" color="#921416"/>
<polygon points="813.6,180.7 816.8,177.6 792.9,152.6 789.8,155.8" color="#981517"/>
<polygon points="816.8,177.6 820.0,174.6 796.1,149.5 792.9,152.6" color="#9e1618"/>
<polygon points="820.0,174.6 823.2,171.6 799.3,146.4 796.1,149.5" color="#a41618"/>
<polygon points="823.2,171.6 826.4,168.7 802.5,143.4 799.3,146.4" color="#a91718"/>
<polygon points="826.4,168.7 829.6,165.8 805.7,140.4 802.5,143.4" color="#ae1719"/>
<polygon points="829.6,165.8 832.8,162.8 808.9,137.3 805.7,140.4" color="#b31819"/>
<polygon points="832.8,162.8 836.0,159.8 812.1,134.1 808.9,137.3" color="#b81919"/>
<polygon points="836.0,159.8 839.2,156.8 815.3,130.9 812.1,134.1" color="#bd1919"/>
<polygon points="839.2,156.8 842.4,153.8 818.5,127.8 815.3,130.9" color="#c11a1a"/>
<polygon points="842.4,153.8 845.6,151.0 821.7,124.8 818.5,127.8" color="#c51a1a"/>
<polygon points="845.6,151.0 848.7,148.3 824.9,122.0 821.7,124.8" color="#c81b1b"/>
<polygon points="848.7,148.3 851.9,145.8 828.1,119.4 824.9,122.0" color="#cb1b1b"/>
<polygon points="851.9,145.8 855.1,143.4 831.2,116.9 828.1,119.4" color="#cf1c1c"/>
<polygon points="855.1,143.4 858.3,141.1 834.4,114.4 831.2,116.9" color="#d21c1c"/>
<polygon points="858.3,141.1 861.5,138.8 837.6,112.1 834.4,114.4" color="#d51d1d"/>
<polygon points="861.5,138.8 864.7,136.7 840.8,109.9 837.6,112.1" color="#d81d1d"/>
<polygon points="864.7,136.7 867.9,134.7 844.0,107.9 840.8,109.9" color="#db1e1e"/>
<polygon points="867.9,134.7 871.1,132.8 847.2,105.9 844.0,107.9" color="#dc1e1e"/>
<polygon points="871.1,132.8 874.3,130.9 850.4,104.0 847.2,105.9" color="#de1e1e"/>
<polygon points="874.3,130.9 877.4,129.0 853.6,102.2 850.4,104.0" color="#df1f1e"/>
<polygon points="877.4,129.0 880.6,127.1 856.8,100.3 853.6,102.2" color="#e11f1f"/>
<polygon points="880.6,127.1 883.8,125.2 860.0,98.3 856.8,100.3" color="#e2201f"/>
<polygon points="883.8,125.2 887.0,123.3 863.2,96.4 860.0,98.3" color="#e3201f"/>
<polygon points="887.0,123.3 890.2,121.5 866.3,94.6 863.2,96.4" color="#e5211f"/>
<polygon points="890.2,121.5 893.4,119.8 869.5,92.8 866.3,94.6" color="#e62120"/>
<polygon points="893.4,119.8 896.6,118.2 872.7,91.3 869.5,92.8" color="#e72220"/>
<polygon points="896.6,118.2 899.8,116.8 875.9,89.9 872.7,91.3" color="#e82220"/>
<polygon points="899.8,116.8 903.0,115.6 879.1,88.6 875.9,89.9" color="#e92320"/>
<polygon points="903.0,115.6 906.2,114.5 882.3,87.6 879.1,88.6" color="#e92320"/>
<polygon points="906.2,114.5 909.3,113.7 885.5,86.9 882.3,87.6" color="#ea2420"/>
<polygon points="909.3,113.7 912.5,113.2 888.7,86.5 885.5,86.9" color="#ea2420"/>
<polygon points="912.5,113.2 915.7,112.7 891.9,86.1 888.7,86.5" color="#eb2520"/>
<polygon points="915.7,112.7 918.9,112.3 895.1,85.7 891.9,86.1" color="#eb2620"/>
<polygon points="918.9,112.3 922.1,112.0 898.3,85.6 895.1,85.7" color="#ec2620"/>
<polygon points="922.1,112.0 925.3,111.9 901.5,85.7 898.3,85.6" color="#ec2720"/>
<polygon points="925.3,111.9 928.5,111.8 904.6,85.8 901.5,85.7" color="#ec271f"/>
<polygon points="928.5,111.8 931.7,111.4 907.8,85.6 904.6,85.8" color="#ed281f"/>
<polygon points="931.7,111.4 934.9,111.1 911.0,85.4 907.8,85.6" color="#ed281f"/>
<polygon points="934.9,111.1 938.1,110.7 914.2,85.2 911.0,85.4" color="#ee291f"/>
<polygon points="938.1,110.7 941.2,110.2 917.4,85.0 914.2,85.2" color="#ee291f"/>
<polygon points="941.2,110.2 944.4,109.7 920.6,84.6 917.4,85.0" color="#ee2a1f"/>
<polygon points="944.4,109.7 947.6,109.1 923.8,84.2 920.6,84.6" color="#ef2b1f"/>
<polygon points="947.6,109.1 950.8,108.4 927.0,83.7 923.8,84.2" color="#ef2c1f"/>
<polygon points="950.8,108.4 954.0,107.6 930.2,83.0 927.0,83.7" color="#ef2c1f"/>
<polygon points="954.0,107.6 957.2,106.7 933.4,82.2 930.2,83.0" color="#ef2d1f"/>
<polygon points="957.2,106.7 960.4,105.8 936.6,81.4 933.4,82.2" color="#f02e1f"/>
<polygon points="960.4,105.8 963.6,104.8 939.8,80.5 936.6,81.4" color="#f02f1f"/>
<polygon points="963.6,104.8 966.8,103.7 942.9,79.4 939.8,80.5" color="#f02f1f"/>
<polygon points="966.8,103.7 970.0,102.6 946.1,78.4 942.9,79.4" color="#f0301f"/>
<polygon points="970.0,102.6 973.1,101.5 949.3,77.3 946.1,78.4" color="#f1311e"/>
<polygon points="973.1,101.5 976.3,100.3 952.5,76.2 949.3,77.3" color="#f1321e"/>
<polygon points="976.3,100.3 979.5,99.1 955.7,75.0 952.5,76.2" color="#f1331e"/>
<polygon points="979.5,99.1 982.7,97.9 958.9,73.8 955.7,75.0" color="#f2331e"/>
<polygon points="982.7,97.9 985.9,96.7 962.1,72.7 958.9,73.8" color="#f2341e"/>
<polygon points="985.9,96.7 989.1,95.5 965.3,71.5 962.1,72.7" color="#f2351e"/>
<polygon points="989.1,95.5 992.3,94.3 968.5,70.4 965.3,71.5" color="#f3361e"/>
<polygon points="992.3,94.3 995.5,93.2 971.7,69.2 968.5,70.4" color="#f3371e"/>
<polygon points="995.5,93.2 998.7,92.0 974.9,68.0 971.7,69.2" color="#f3381e"/>
<polygon points="998.7,92.0 1001.8,90.8 978.0,66.9 974.9,68.0" color="#f4381e"/>
<polygon points="1001.8,90.8 1005.0,89.6 981.2,65.7 978.0,66.9" color="#f4391e"/>
<polygon points="1005.0,89.6 1008.2,88.5 984.4,64.6 981.2,65.7" color="#f43a1e"/>
<polygon points="1008.2,88.5 1011.4,87.3 987.6,63.5 984.4,64.6" color="#f43b1e"/>
<polygon points="1011.4,87.3 1014.6,86.3 990.8,62.4 987.6,63.5" color="#f53c1e"/>
<polygon points="1014.6,86.3 1017.8,85.2 994.0,61.4 990.8,62.4" color="#f53c1e"/>
<polygon points="1017.8,85.2 1021.0,84.2 997.2,60.5 994.0,61.4" color="#f53d1e"/>
<polygon points="1021.0,84.2 1024.2,83.2 1000.4,59.5 997.2,60.5" color="#f53e1e"/>
<polygon points="1024.2,83.2 1027.4,82.3 1003.6,58.6 1000.4,59.5" color="#f53f1d"/>
<polygon points="1027.4,82.3 1030.5,81.3 1006.8,57.6 1003.6,58.6" color="#f63f1d"/>
<polygon points="1030.5,81.3 1033.7,80.3 1010.0,56.6 1006.8,57.6" color="#f6401d"/>
<polygon points="1033.7,80.3 1036.9,79.3 1013.1,55.7 1010.0,56.6" color="#f6411d"/>
<polygon points="1036.9,79.3 1040.1,78.3 1016.3,54.7 1013.1,55.7" color="#f6411d"/>
<polygon points="1040.1,78.3 1043.3,77.4 1019.5,53.7 1016.3,54.7" color="#f6421d"/>
<polygon points="1043.3,77.4 1046.5,76.4 1022.7,52.8 1019.5,53.7" color="#f7431d"/>
<polygon points="1046.5,76.4 1049.7,75.4 1025.9,51.8 1022.7,52.8" color="#f7431d"/>
<polygon points="1049.7,75.4 1052.9,74.3 1029.1,50.8 1025.9,51.8" color="#f7441d"/>
<polygon points="1052.9,74.3 1056.1,73.3 1032.3,49.7 1029.1,50.8" color="#f7451c"/>
<polygon points="1056.1,73.3 1059.2,72.2 1035.5,48.7 1032.3,49.7" color="#f7461c"/>
<polygon points="1059.2,72.2 1062.4,71.1 1038.7,47.6 1035.5,48.7" color="#f8461c"/>
<polygon points="1062.4,71.1 1065.6,69.9 1041.9,46.5 1038.7,47.6" color="#f8471c"/>
</g>
<polygon points="864.7,136.7 867.9,134.7 871.1,132.8 874.3,130.9 877.4,129.0 880.6,127.1 883.8,125.2 887.0,123.3 890.2,121.5 893.4,119.8 896.6,118.2 899.8,116.8 903.0,115.6 906.2,114.5 909.3,113.7 912.5,113.2 915.7,112.7 918.9,112.3 922.1,112.0 925.3,111.9 928.5,111.8 931.7,111.4 934.9,111.1 938.1,110.7 941.2,110.2 944.4,109.7 947.6,109.1 950.8,108.4 954.0,107.6 957.2,106.7 960.4,105.8 963.6,104.8 966.8,103.7 970.0,102.6 973.1,101.5 976.3,100.3 979.5,99.1 982.7,97.9 985.9,96.7 989.1,95.5 992.3,94.3 995.5,93.2 998.7,92.0 1001.8,90.8 1005.0,89.6 1008.2,88.5 1011.4,87.3 1014.6,86.3 1017.8,85.2 1021.0,84.2 1024.2,83.2 1027.4,82.3 1030.5,81.3 1033.7,80.3 1036.9,79.3 1040.1,78.3 1043.3,77.4 1046.5,76.4 1049.7,75.4 1052.9,74.3 1056.1,73.3 1059.2,72.2 1062.4,71.1 1065.6,69.9 1058.5,62.9 1055.3,64.0 1052.1,65.1 1048.9,66.2 1045.7,67.3 1042.6,68.3 1039.4,69.3 1036.2,70.3 1033.0,71.2 1029.8,72.2 1026.6,73.2 1023.4,74.2 1020.2,75.2 1017.0,76.1 1013.8,77.1 1010.7,78.1 1007.5,79.1 1004.3,80.2 1001.1,81.3 997.9,82.4 994.7,83.6 991.5,84.8 988.3,86.0 985.1,87.1 981.9,88.3 978.8,89.5 975.6,90.7 972.4,91.9 969.2,93.1 966.0,94.2 962.8,95.3 959.6,96.4 956.4,97.5 953.2,98.5 950.0,99.4 946.9,100.2 943.7,101.0 940.5,101.6 937.3,102.2 934.1,102.6 930.9,103.0 927.7,103.4 924.5,103.7 921.3,104.0 918.1,104.0 915.0,104.1 911.8,104.3 908.6,104.7 905.4,105.1 902.2,105.6 899.0,106.4 895.8,107.4 892.6,108.7 889.4,110.1 886.2,111.6 883.0,113.4 879.9,115.2 876.7,117.1 873.5,119.0 870.3,120.9 867.1,122.8 863.9,124.7 860.7,126.6 857.5,128.6" fill="#300000" fill-opacity="0.09"/>
<polygon points="890.2,121.5 893.4,119.8 896.6,118.2 899.8,116.8 903.0,115.6 906.2,114.5 909.3,113.7 912.5,113.2 915.7,112.7 918.9,112.3 922.1,112.0 925.3,111.9 928.5,111.8 931.7,111.4 934.9,111.1 938.1,110.7 941.2,110.2 944.4,109.7 947.6,109.1 950.8,108.4 954.0,107.6 957.2,106.7 960.4,105.8 963.6,104.8 966.8,103.7 970.0,102.6 973.1,101.5 976.3,100.3 979.5,99.1 982.7,97.9 985.9,96.7 989.1,95.5 992.3,94.3 995.5,93.2 998.7,92.0 1001.8,90.8 1005.0,89.6 1008.2,88.5 1011.4,87.3 1014.6,86.3 1017.8,85.2 1021.0,84.2 1024.2,83.2 1027.4,82.3 1030.5,81.3 1033.7,80.3 1036.9,79.3 1040.1,78.3 1043.3,77.4 1046.5,76.4 1049.7,75.4 1052.9,74.3 1056.1,73.3 1059.2,72.2 1062.4,71.1 1065.6,69.9 1058.5,62.9 1055.3,64.0 1052.1,65.1 1048.9,66.2 1045.7,67.3 1042.6,68.3 1039.4,69.3 1036.2,70.3 1033.0,71.2 1029.8,72.2 1026.6,73.2 1023.4,74.2 1020.2,75.2 1017.0,76.1 1013.8,77.1 1010.7,78.1 1007.5,79.1 1004.3,80.2 1001.1,81.3 997.9,82.4 994.7,83.6 991.5,84.8 988.3,86.0 985.1,87.1 981.9,88.3 978.8,89.5 975.6,90.7 972.4,91.9 969.2,93.1 966.0,94.2 962.8,95.3 959.6,96.4 956.4,97.5 953.2,98.5 950.0,99.4 946.9,100.2 943.7,101.0 940.5,101.6 937.3,102.2 934.1,102.6 930.9,103.0 927.7,103.4 924.5,103.7 921.3,104.0 918.1,104.0 915.0,104.1 911.8,104.3 908.6,104.7 905.4,105.1 902.2,105.6 899.0,106.4 895.8,107.4 892.6,108.7 889.4,110.1 886.2,111.6 883.0,113.4" fill="#300000" fill-opacity="0.10"/>
<polygon points="909.3,113.7 912.5,113.2 915.7,112.7 918.9,112.3 922.1,112.0 925.3,111.9 928.5,111.8 931.7,111.4 934.9,111.1 938.1,110.7 941.2,110.2 944.4,109.7 947.6,109.1 950.8,108.4 954.0,107.6 957.2,106.7 960.4,105.8 963.6,104.8 966.8,103.7 970.0,102.6 973.1,101.5 976.3,100.3 979.5,99.1 982.7,97.9 985.9,96.7 989.1,95.5 992.3,94.3 995.5,93.2 998.7,92.0 1001.8,90.8 1005.0,89.6 1008.2,88.5 1011.4,87.3 1014.6,86.3 1017.8,85.2 1021.0,84.2 1024.2,83.2 1027.4,82.3 1030.5,81.3 1033.7,80.3 1036.9,79.3 1040.1,78.3 1043.3,77.4 1046.5,76.4 1049.7,75.4 1052.9,74.3 1056.1,73.3 1059.2,72.2 1062.4,71.1 1065.6,69.9 1058.5,62.9 1055.3,64.0 1052.1,65.1 1048.9,66.2 1045.7,67.3 1042.6,68.3 1039.4,69.3 1036.2,70.3 1033.0,71.2 1029.8,72.2 1026.6,73.2 1023.4,74.2 1020.2,75.2 1017.0,76.1 1013.8,77.1 1010.7,78.1 1007.5,79.1 1004.3,80.2 1001.1,81.3 997.9,82.4 994.7,83.6 991.5,84.8 988.3,86.0 985.1,87.1 981.9,88.3 978.8,89.5 975.6,90.7 972.4,91.9 969.2,93.1 966.0,94.2 962.8,95.3 959.6,96.4 956.4,97.5 953.2,98.5 950.0,99.4 946.9,100.2 943.7,101.0 940.5,101.6 937.3,102.2 934.1,102.6 930.9,103.0 927.7,103.4 924.5,103.7 921.3,104.0 918.1,104.0 915.0,104.1 911.8,104.3 908.6,104.7 905.4,105.1 902.2,105.6" fill="#300000" fill-opacity="0.06"/>
<polygon points="870.3,120.9 873.5,119.0 876.7,117.1 879.9,115.2 883.0,113.4 886.2,111.6 889.4,110.1 892.6,108.7 895.8,107.4 899.0,106.4 902.2,105.6 905.4,105.1 908.6,104.7 911.8,104.3 915.0,104.1 918.1,104.0 921.3,104.0 924.5,103.7 927.7,103.4 930.9,103.0 934.1,102.6 937.3,102.2 940.5,101.6 943.7,101.0 946.9,100.2 950.0,99.4 953.2,98.5 956.4,97.5 959.6,96.4 962.8,95.3 966.0,94.2 969.2,93.1 972.4,91.9 975.6,90.7 978.8,89.5 981.9,88.3 985.1,87.1 988.3,86.0 991.5,84.8 994.7,83.6 997.9,82.4 1001.1,81.3 1004.3,80.2 1007.5,79.1 1010.7,78.1 1013.8,77.1 1017.0,76.1 1020.2,75.2 1023.4,74.2 1026.6,73.2 1029.8,72.2 1033.0,71.2 1036.2,70.3 1039.4,69.3 1042.6,68.3 1045.7,67.3 1048.9,66.2 1052.1,65.1 1055.3,64.0 1058.5,62.9 1052.6,57.0 1049.4,58.1 1046.2,59.2 1043.0,60.3 1039.8,61.4 1036.6,62.4 1033.4,63.4 1030.2,64.4 1027.0,65.3 1023.8,66.3 1020.7,67.3 1017.5,68.3 1014.3,69.2 1011.1,70.2 1007.9,71.2 1004.7,72.1 1001.5,73.2 998.3,74.2 995.1,75.3 991.9,76.5 988.8,77.6 985.6,78.8 982.4,80.0 979.2,81.1 976.0,82.3 972.8,83.5 969.6,84.7 966.4,85.9 963.2,87.0 960.0,88.1 956.9,89.3 953.7,90.4 950.5,91.4 947.3,92.4 944.1,93.2 940.9,94.1 937.7,94.8 934.5,95.4 931.3,95.9 928.1,96.3 924.9,96.6 921.8,96.9 918.6,97.2 915.4,97.5 912.2,97.5 909.0,97.5 905.8,97.6 902.6,98.0 899.4,98.4 896.2,98.9 893.0,99.6 889.8,100.7 886.7,102.0 883.5,103.3 880.3,104.9 877.1,106.7 873.9,108.5 870.7,110.4 867.5,112.3 864.3,114.2" fill="#300000" fill-opacity="0.05"/>
<polygon points="902.2,105.6 905.4,105.1 908.6,104.7 911.8,104.3 915.0,104.1 918.1,104.0 921.3,104.0 924.5,103.7 927.7,103.4 930.9,103.0 934.1,102.6 937.3,102.2 940.5,101.6 943.7,101.0 946.9,100.2 950.0,99.4 953.2,98.5 956.4,97.5 959.6,96.4 962.8,95.3 966.0,94.2 969.2,93.1 972.4,91.9 975.6,90.7 978.8,89.5 981.9,88.3 985.1,87.1 988.3,86.0 991.5,84.8 994.7,83.6 997.9,82.4 1001.1,81.3 1004.3,80.2 1007.5,79.1 1010.7,78.1 1013.8,77.1 1017.0,76.1 1020.2,75.2 1023.4,74.2 1026.6,73.2 1029.8,72.2 1033.0,71.2 1036.2,70.3 1039.4,69.3 1042.6,68.3 1045.7,67.3 1048.9,66.2 1052.1,65.1 1055.3,64.0 1058.5,62.9 1052.6,57.0 1049.4,58.1 1046.2,59.2 1043.0,60.3 1039.8,61.4 1036.6,62.4 1033.4,63.4 1030.2,64.4 1027.0,65.3 1023.8,66.3 1020.7,67.3 1017.5,68.3 1014.3,69.2 1011.1,70.2 1007.9,71.2 1004.7,72.1 1001.5,73.2 998.3,74.2 995.1,75.3 991.9,76.5 988.8,77.6 985.6,78.8 982.4,80.0 979.2,81.1 976.0,82.3 972.8,83.5 969.6,84.7 966.4,85.9 963.2,87.0 960.0,88.1 956.9,89.3 953.7,90.4 950.5,91.4 947.3,92.4 944.1,93.2 940.9,94.1 937.7,94.8 934.5,95.4 931.3,95.9 928.1,96.3 924.9,96.6 921.8,96.9 918.6,97.2 915.4,97.5 912.2,97.5 909.0,97.5 905.8,97.6 902.6,98.0 899.4,98.4 896.2,98.9" fill="#300000" fill-opacity="0.06"/>
<polygon points="861.2,110.7 864.4,108.8 867.6,106.9 870.8,105.0 874.0,103.2 877.2,101.4 880.4,99.8 883.6,98.5 886.7,97.2 889.9,96.1 893.1,95.5 896.3,95.0 899.5,94.6 902.7,94.2 905.9,94.0 909.1,94.1 912.3,94.1 915.5,93.9 918.7,93.6 921.8,93.3 925.0,93.0 928.2,92.6 931.4,92.2 934.6,91.6 937.8,90.9 941.0,90.1 944.2,89.2 947.4,88.3 950.6,87.2 953.8,86.1 956.9,85.0 960.1,83.9 963.3,82.7 966.5,81.5 969.7,80.4 972.9,79.2 976.1,78.0 979.3,76.9 982.5,75.7 985.7,74.5 988.9,73.4 992.0,72.2 995.2,71.1 998.4,70.1 1001.6,69.0 1004.8,68.1 1008.0,67.1 1011.2,66.1 1014.4,65.2 1017.6,64.2 1020.8,63.2 1023.9,62.3 1027.1,61.3 1030.3,60.3 1033.5,59.3 1036.7,58.3 1039.9,57.3 1043.1,56.2 1046.3,55.1 1049.5,54.0 1041.9,46.5 1038.7,47.6 1035.5,48.7 1032.3,49.7 1029.1,50.8 1025.9,51.8 1022.7,52.8 1019.5,53.7 1016.3,54.7 1013.1,55.7 1010.0,56.6 1006.8,57.6 1003.6,58.6 1000.4,59.5 997.2,60.5 994.0,61.4 990.8,62.4 987.6,63.5 984.4,64.6 981.2,65.7 978.0,66.9 974.9,68.0 971.7,69.2 968.5,70.4 965.3,71.5 962.1,72.7 958.9,73.8 955.7,75.0 952.5,76.2 949.3,77.3 946.1,78.4 942.9,79.4 939.8,80.5 936.6,81.4 933.4,82.2 930.2,83.0 927.0,83.7 923.8,84.2 920.6,84.6 917.4,85.0 914.2,85.2 911.0,85.4 907.8,85.6 904.6,85.8 901.5,85.7 898.3,85.6 895.1,85.7 891.9,86.1 888.7,86.5 885.5,86.9 882.3,87.6 879.1,88.6 875.9,89.9 872.7,91.3 869.5,92.8 866.3,94.6 863.2,96.4 860.0,98.3 856.8,100.3 853.6,102.2" fill="#ffc080" fill-opacity="0.10"/>
<polygon points="893.1,95.5 896.3,95.0 899.5,94.6 902.7,94.2 905.9,94.0 909.1,94.1 912.3,94.1 915.5,93.9 918.7,93.6 921.8,93.3 925.0,93.0 928.2,92.6 931.4,92.2 934.6,91.6 937.8,90.9 941.0,90.1 944.2,89.2 947.4,88.3 950.6,87.2 953.8,86.1 956.9,85.0 960.1,83.9 963.3,82.7 966.5,81.5 969.7,80.4 972.9,79.2 976.1,78.0 979.3,76.9 982.5,75.7 985.7,74.5 988.9,73.4 992.0,72.2 995.2,71.1 998.4,70.1 1001.6,69.0 1004.8,68.1 1008.0,67.1 1011.2,66.1 1014.4,65.2 1017.6,64.2 1020.8,63.2 1023.9,62.3 1027.1,61.3 1030.3,60.3 1033.5,59.3 1036.7,58.3 1039.9,57.3 1043.1,56.2 1046.3,55.1 1049.5,54.0 1041.9,46.5 1038.7,47.6 1035.5,48.7 1032.3,49.7 1029.1,50.8 1025.9,51.8 1022.7,52.8 1019.5,53.7 1016.3,54.7 1013.1,55.7 1010.0,56.6 1006.8,57.6 1003.6,58.6 1000.4,59.5 997.2,60.5 994.0,61.4 990.8,62.4 987.6,63.5 984.4,64.6 981.2,65.7 978.0,66.9 974.9,68.0 971.7,69.2 968.5,70.4 965.3,71.5 962.1,72.7 958.9,73.8 955.7,75.0 952.5,76.2 949.3,77.3 946.1,78.4 942.9,79.4 939.8,80.5 936.6,81.4 933.4,82.2 930.2,83.0 927.0,83.7 923.8,84.2 920.6,84.6 917.4,85.0 914.2,85.2 911.0,85.4 907.8,85.6 904.6,85.8 901.5,85.7 898.3,85.6 895.1,85.7 891.9,86.1 888.7,86.5 885.5,86.9" fill="#ffc080" fill-opacity="0.14"/>
<path d="M871.7,119.7L863.3,110.3M874.2,117.0L861.2,102.5M904.2,105.8L889.9,89.8M913.6,108.3L902.5,95.9M916.2,107.3L902.1,91.7M920.0,107.9L908.4,95.1M920.1,104.4L907.2,90.3M927.3,104.8L911.3,87.6M934.4,108.6L921.4,94.8M935.3,101.9L928.1,94.4M939.5,102.6L931.4,94.0M941.9,101.1L928.5,87.2M945.3,100.6L935.8,90.8M947.8,99.2L936.7,87.7M957.2,104.6L943.0,90.0M955.9,99.1L939.3,82.2M961.1,100.1L953.9,92.8M960.2,94.9L949.1,83.6M969.0,99.4L958.4,88.7M971.7,93.4L959.4,81.0M972.9,90.2L958.5,75.6M987.9,92.1L973.1,77.2M991.8,91.7L975.3,75.1M993.8,89.2L977.3,72.7M994.2,85.3L982.2,73.2M1000.8,87.5L992.9,79.6" fill="none" stroke="#e8c060" stroke-opacity="0.75" stroke-width="0.55"/>
<path d="M881.4,114.2L872.1,103.7M885.8,113.8L876.8,103.7M889.5,112.7L877.0,98.6M890.6,108.9L881.3,98.4M897.3,111.5L883.2,95.7M900.4,110.3L886.4,94.5M898.6,103.8L886.1,89.7" fill="none" stroke="#f0d830" stroke-opacity="0.90" stroke-width="0.60"/>
<path d="M999.7,82.1L992.2,74.5M1007.4,85.5L994.9,72.9M1008.3,82.1L1000.6,74.3M1010.4,79.9L994.0,63.5M1016.5,81.9L1007.2,72.5M1019.5,80.7L1004.4,65.6M1023.9,80.9L1009.5,66.5M1026.2,79.0L1017.8,70.7M1029.4,78.0L1019.9,68.6M1032.2,76.7L1019.6,64.2M1036.3,76.6L1023.7,64.1M1035.2,71.3L1021.7,57.9M1043.0,75.0L1027.9,60.0M1047.0,70.7L1031.4,55.1M1049.8,69.2L1037.8,57.3M1054.5,65.4L1044.3,55.2M1057.9,64.4L1045.4,52.1" fill="none" stroke="#f4d8a0" stroke-opacity="0.75" stroke-width="0.55"/>
<path d="M753.0,249.3L729.1,225.5M756.2,245.1L732.3,221.4M759.4,241.0L735.5,217.2M762.6,237.0L738.7,213.2M765.8,233.0L741.9,209.2M769.0,229.2L745.1,205.3M772.2,225.4L748.3,201.5M775.3,221.6L751.4,197.7M778.5,218.0L754.6,194.0M781.7,214.4L757.8,190.4M784.9,210.9L761.0,186.8M788.1,207.4L764.2,183.3M791.3,204.0L767.4,179.8M794.5,200.7L770.6,176.4M797.7,197.3L773.8,172.9M800.9,194.0L777.0,169.5M804.1,190.6L780.2,166.0M807.3,187.2L783.4,162.5M810.5,183.9L786.6,159.1M813.6,180.7L789.8,155.8M816.8,177.6L792.9,152.6M820.0,174.6L796.1,149.5M823.2,171.6L799.3,146.4M826.4,168.7L802.5,143.4M829.6,165.8L805.7,140.4M832.8,162.8L808.9,137.3M836.0,159.8L812.1,134.1M839.2,156.8L815.3,130.9M842.4,153.8L818.5,127.8" fill="none" stroke="#000" stroke-opacity="0.50" stroke-width="0.35"/>
<path d="M845.6,151.0L821.7,124.8M848.7,148.3L824.9,122.0M851.9,145.8L828.1,119.4M855.1,143.4L831.2,116.9M858.3,141.1L834.4,114.4M861.5,138.8L837.6,112.1M864.7,136.7L840.8,109.9M867.9,134.7L844.0,107.9M871.1,132.8L847.2,105.9M874.3,130.9L850.4,104.0M877.4,129.0L853.6,102.2M880.6,127.1L856.8,100.3" fill="none" stroke="#000" stroke-opacity="0.60" stroke-width="0.45"/>
<path d="M883.8,125.2L860.0,98.3M887.0,123.3L863.2,96.4M890.2,121.5L866.3,94.6M893.4,119.8L869.5,92.8M896.6,118.2L872.7,91.3M899.8,116.8L875.9,89.9M903.0,115.6L879.1,88.6M906.2,114.5L882.3,87.6M909.3,113.7L885.5,86.9M912.5,113.2L888.7,86.5M915.7,112.7L891.9,86.1M918.9,112.3L895.1,85.7M922.1,112.0L898.3,85.6M925.3,111.9L901.5,85.7M928.5,111.8L904.6,85.8M931.7,111.4L907.8,85.6M934.9,111.1L911.0,85.4M938.1,110.7L914.2,85.2M941.2,110.2L917.4,85.0M944.4,109.7L920.6,84.6M947.6,109.1L923.8,84.2M950.8,108.4L927.0,83.7M954.0,107.6L930.2,83.0M957.2,106.7L933.4,82.2M960.4,105.8L936.6,81.4M963.6,104.8L939.8,80.5M966.8,103.7L942.9,79.4M970.0,102.6L946.1,78.4M973.1,101.5L949.3,77.3M976.3,100.3L952.5,76.2M979.5,99.1L955.7,75.0M982.7,97.9L958.9,73.8M985.9,96.7L962.1,72.7M989.1,95.5L965.3,71.5M992.3,94.3L968.5,70.4M995.5,93.2L971.7,69.2M998.7,92.0L974.9,68.0M1001.8,90.8L978.0,66.9M1005.0,89.6L981.2,65.7M1008.2,88.5L984.4,64.6M1011.4,87.3L987.6,63.5M1014.6,86.3L990.8,62.4M1017.8,85.2L994.0,61.4M1021.0,84.2L997.2,60.5M1024.2,83.2L1000.4,59.5M1027.4,82.3L1003.6,58.6M1030.5,81.3L1006.8,57.6M1033.7,80.3L1010.0,56.6M1036.9,79.3L1013.1,55.7M1040.1,78.3L1016.3,54.7M1043.3,77.4L1019.5,53.7M1046.5,76.4L1022.7,52.8M1049.7,75.4L1025.9,51.8M1052.9,74.3L1029.1,50.8M1056.1,73.3L1032.3,49.7M1059.2,72.2L1035.5,48.7M1062.4,71.1L1038.7,47.6M1065.6,69.9L1041.9,46.5" fill="none" stroke="#000" stroke-opacity="0.60" stroke-width="0.50"/>
<path d="M901.0,104.3L886.0,87.4" fill="none" stroke="#000" stroke-opacity="0.80" stroke-width="1.00"/>
<path d="M729.1,225.5L732.3,221.4L735.5,217.2L738.7,213.2L741.9,209.2L745.1,205.3L748.3,201.5L751.4,197.7L754.6,194.0L757.8,190.4L761.0,186.8L764.2,183.3L767.4,179.8L770.6,176.4L773.8,172.9L777.0,169.5L780.2,166.0L783.4,162.5L786.6,159.1L789.8,155.8L792.9,152.6L796.1,149.5L799.3,146.4L802.5,143.4L805.7,140.4L808.9,137.3L812.1,134.1L815.3,130.9L818.5,127.8L821.7,124.8L824.9,122.0L828.1,119.4L831.2,116.9L834.4,114.4L837.6,112.1L840.8,109.9L844.0,107.9L847.2,105.9L850.4,104.0L853.6,102.2L856.8,100.3L860.0,98.3L863.2,96.4L866.3,94.6L869.5,92.8L872.7,91.3L875.9,89.9L879.1,88.6L882.3,87.6L885.5,86.9L888.7,86.5L891.9,86.1L895.1,85.7L898.3,85.6L901.5,85.7L904.6,85.8L907.8,85.6L911.0,85.4L914.2,85.2L917.4,85.0L920.6,84.6L923.8,84.2L927.0,83.7L930.2,83.0L933.4,82.2L936.6,81.4L939.8,80.5L942.9,79.4L946.1,78.4L949.3,77.3L952.5,76.2L955.7,75.0L958.9,73.8L962.1,72.7L965.3,71.5L968.5,70.4L971.7,69.2L974.9,68.0L978.0,66.9L981.2,65.7L984.4,64.6L987.6,63.5L990.8,62.4L994.0,61.4L997.2,60.5L1000.4,59.5L1003.6,58.6L1006.8,57.6L1010.0,56.6L1013.1,55.7L1016.3,54.7L1019.5,53.7L1022.7,52.8L1025.9,51.8L1029.1,50.8L1032.3,49.7L1035.5,48.7L1038.7,47.6L1041.9,46.5" fill="none" stroke="#000" stroke-opacity="0.65" stroke-width="0.45"/>
<path d="M753.0,249.3L756.2,245.1L759.4,241.0L762.6,237.0L765.8,233.0L769.0,229.2L772.2,225.4L775.3,221.6L778.5,218.0L781.7,214.4L784.9,210.9L788.1,207.4L791.3,204.0L794.5,200.7L797.7,197.3L800.9,194.0L804.1,190.6L807.3,187.2L810.5,183.9L813.6,180.7L816.8,177.6L820.0,174.6L823.2,171.6L826.4,168.7L829.6,165.8L832.8,162.8L836.0,159.8L839.2,156.8L842.4,153.8L845.6,151.0L848.7,148.3L851.9,145.8L855.1,143.4L858.3,141.1L861.5,138.8L864.7,136.7L867.9,134.7L871.1,132.8L874.3,130.9L877.4,129.0L880.6,127.1L883.8,125.2L887.0,123.3L890.2,121.5L893.4,119.8L896.6,118.2L899.8,116.8L903.0,115.6L906.2,114.5L909.3,113.7L912.5,113.2L915.7,112.7L918.9,112.3L922.1,112.0L925.3,111.9L928.5,111.8L931.7,111.4L934.9,111.1L938.1,110.7L941.2,110.2L944.4,109.7L947.6,109.1L950.8,108.4L954.0,107.6L957.2,106.7L960.4,105.8L963.6,104.8L966.8,103.7L970.0,102.6L973.1,101.5L976.3,100.3L979.5,99.1L982.7,97.9L985.9,96.7L989.1,95.5L992.3,94.3L995.5,93.2L998.7,92.0L1001.8,90.8L1005.0,89.6L1008.2,88.5L1011.4,87.3L1014.6,86.3L1017.8,85.2L1021.0,84.2L1024.2,83.2L1027.4,82.3L1030.5,81.3L1033.7,80.3L1036.9,79.3L1040.1,78.3L1043.3,77.4L1046.5,76.4L1049.7,75.4L1052.9,74.3L1056.1,73.3L1059.2,72.2L1062.4,71.1L1065.6,69.9" fill="none" stroke="#000" stroke-opacity="0.65" stroke-width="0.45"/>
<g fill="currentColor" stroke="currentColor" stroke-width=".7" stroke-linejoin="round">
<polygon points="776.9,273.1 780.1,268.9 756.2,245.1 753.0,249.3" color="#0f0303"/>
<polygon points="780.1,268.9 783.3,264.8 759.4,241.0 756.2,245.1" color="#130404"/>
<polygon points="783.3,264.8 786.5,260.8 762.6,237.0 759.4,241.0" color="#170405"/>
<polygon points="786.5,260.8 789.7,256.9 765.8,233.0 762.6,237.0" color="#1d0506"/>
<polygon points="789.7,256.9 792.9,253.0 769.0,229.2 765.8,233.0" color="#240608"/>
<polygon points="792.9,253.0 796.1,249.3 772.2,225.4 769.0,229.2" color="#2c0709"/>
<polygon points="796.1,249.3 799.2,245.6 775.3,221.6 772.2,225.4" color="#33090a"/>
<polygon points="799.2,245.6 802.4,242.0 778.5,218.0 775.3,221.6" color="#3b0a0c"/>
<polygon points="802.4,242.0 805.6,238.5 781.7,214.4 778.5,218.0" color="#430b0d"/>
<polygon points="805.6,238.5 808.8,235.0 784.9,210.9 781.7,214.4" color="#4b0c0e"/>
<polygon points="808.8,235.0 812.0,231.7 788.1,207.4 784.9,210.9" color="#540d0f"/>
<polygon points="812.0,231.7 815.2,228.4 791.3,204.0 788.1,207.4" color="#5c0e10"/>
<polygon points="815.2,228.4 818.4,225.1 794.5,200.7 791.3,204.0" color="#650f11"/>
<polygon points="818.4,225.1 821.6,221.8 797.7,197.3 794.5,200.7" color="#6d1012"/>
<polygon points="821.6,221.8 824.8,218.6 800.9,194.0 797.7,197.3" color="#751113"/>
<polygon points="824.8,218.6 828.0,215.3 804.1,190.6 800.9,194.0" color="#7c1214"/>
<polygon points="828.0,215.3 831.2,212.1 807.3,187.2 804.1,190.6" color="#821315"/>
<polygon points="831.2,212.1 834.3,208.9 810.5,183.9 807.3,187.2" color="#881315"/>
<polygon points="834.3,208.9 837.5,205.8 813.6,180.7 810.5,183.9" color="#8f1416"/>
<polygon points="837.5,205.8 840.7,202.8 816.8,177.6 813.6,180.7" color="#951517"/>
<polygon points="840.7,202.8 843.9,199.9 820.0,174.6 816.8,177.6" color="#9b1517"/>
<polygon points="843.9,199.9 847.1,197.1 823.2,171.6 820.0,174.6" color="#a01618"/>
<polygon points="847.1,197.1 850.3,194.3 826.4,168.7 823.2,171.6" color="#a61718"/>
<polygon points="850.3,194.3 853.5,191.5 829.6,165.8 826.4,168.7" color="#ab1718"/>
<polygon points="853.5,191.5 856.7,188.7 832.8,162.8 829.6,165.8" color="#b01818"/>
<polygon points="856.7,188.7 859.9,185.8 836.0,159.8 832.8,162.8" color="#b51819"/>
<polygon points="859.9,185.8 863.1,183.0 839.2,156.8 836.0,159.8" color="#ba1919"/>
<polygon points="863.1,183.0 866.2,180.2 842.4,153.8 839.2,156.8" color="#be1919"/>
<polygon points="866.2,180.2 869.4,177.5 845.6,151.0 842.4,153.8" color="#c21a1a"/>
<polygon points="869.4,177.5 872.6,175.0 848.7,148.3 845.6,151.0" color="#c61a1a"/>
<polygon points="872.6,175.0 875.8,172.7 851.9,145.8 848.7,148.3" color="#c91b1b"/>
<polygon points="875.8,172.7 879.0,170.4 855.1,143.4 851.9,145.8" color="#cc1b1b"/>
<polygon points="879.0,170.4 882.2,168.2 858.3,141.1 855.1,143.4" color="#d01c1c"/>
<polygon points="882.2,168.2 885.4,166.1 861.5,138.8 858.3,141.1" color="#d31c1c"/>
<polygon points="885.4,166.1 888.6,164.0 864.7,136.7 861.5,138.8" color="#d61d1d"/>
<polygon points="888.6,164.0 891.8,162.0 867.9,134.7 864.7,136.7" color="#d91d1d"/>
<polygon points="891.8,162.0 894.9,160.1 871.1,132.8 867.9,134.7" color="#db1e1d"/>
<polygon points="894.9,160.1 898.1,158.2 874.3,130.9 871.1,132.8" color="#dd1e1e"/>
<polygon points="898.1,158.2 901.3,156.3 877.4,129.0 874.3,130.9" color="#de1f1e"/>
<polygon points="901.3,156.3 904.5,154.4 880.6,127.1 877.4,129.0" color="#e01f1e"/>
<polygon points="904.5,154.4 907.7,152.5 883.8,125.2 880.6,127.1" color="#e1201f"/>
<polygon points="907.7,152.5 910.9,150.6 887.0,123.3 883.8,125.2" color="#e3201f"/>
<polygon points="910.9,150.6 914.1,148.9 890.2,121.5 887.0,123.3" color="#e4211f"/>
<polygon points="914.1,148.9 917.3,147.2 893.4,119.8 890.2,121.5" color="#e62120"/>
<polygon points="917.3,147.2 920.4,145.7 896.6,118.2 893.4,119.8" color="#e72220"/>
<polygon points="920.4,145.7 923.6,144.3 899.8,116.8 896.6,118.2" color="#e82220"/>
<polygon points="923.6,144.3 926.8,143.0 903.0,115.6 899.8,116.8" color="#e92320"/>
<polygon points="926.8,143.0 930.0,141.9 906.2,114.5 903.0,115.6" color="#e92320"/>
<polygon points="930.0,141.9 933.2,141.1 909.3,113.7 906.2,114.5" color="#ea2420"/>
<polygon points="933.2,141.1 936.4,140.4 912.5,113.2 909.3,113.7" color="#ea2420"/>
<polygon points="936.4,140.4 939.6,139.8 915.7,112.7 912.5,113.2" color="#eb2520"/>
<polygon points="939.6,139.8 942.8,139.3 918.9,112.3 915.7,112.7" color="#eb2520"/>
<polygon points="942.8,139.3 946.0,138.8 922.1,112.0 918.9,112.3" color="#ec2620"/>
<polygon points="946.0,138.8 949.1,138.5 925.3,111.9 922.1,112.0" color="#ec2620"/>
<polygon points="949.1,138.5 952.3,138.1 928.5,111.8 925.3,111.9" color="#ed2720"/>
<polygon points="952.3,138.1 955.5,137.6 931.7,111.4 928.5,111.8" color="#ed281f"/>
<polygon points="955.5,137.6 958.7,137.0 934.9,111.1 931.7,111.4" color="#ed281f"/>
<polygon points="958.7,137.0 961.9,136.4 938.1,110.7 934.9,111.1" color="#ee291f"/>
<polygon points="961.9,136.4 965.1,135.7 941.2,110.2 938.1,110.7" color="#ee291f"/>
<polygon points="965.1,135.7 968.3,135.0 944.4,109.7 941.2,110.2" color="#ee2a1f"/>
<polygon points="968.3,135.0 971.5,134.3 947.6,109.1 944.4,109.7" color="#ef2b1f"/>
<polygon points="971.5,134.3 974.7,133.4 950.8,108.4 947.6,109.1" color="#ef2b1f"/>
<polygon points="974.7,133.4 977.8,132.4 954.0,107.6 950.8,108.4" color="#ef2c1f"/>
<polygon points="977.8,132.4 981.0,131.4 957.2,106.7 954.0,107.6" color="#ef2d1f"/>
<polygon points="981.0,131.4 984.2,130.4 960.4,105.8 957.2,106.7" color="#f02d1f"/>
<polygon points="984.2,130.4 987.4,129.3 963.6,104.8 960.4,105.8" color="#f02e1f"/>
<polygon points="987.4,129.3 990.6,128.1 966.8,103.7 963.6,104.8" color="#f02f1f"/>
<polygon points="990.6,128.1 993.8,126.9 970.0,102.6 966.8,103.7" color="#f0301e"/>
<polygon points="993.8,126.9 997.0,125.8 973.1,101.5 970.0,102.6" color="#f1301e"/>
<polygon points="997.0,125.8 1000.2,124.6 976.3,100.3 973.1,101.5" color="#f1311e"/>
<polygon points="1000.2,124.6 1003.3,123.3 979.5,99.1 976.3,100.3" color="#f1321e"/>
<polygon points="1003.3,123.3 1006.5,122.1 982.7,97.9 979.5,99.1" color="#f1331e"/>
<polygon points="1006.5,122.1 1009.7,120.9 985.9,96.7 982.7,97.9" color="#f2341e"/>
<polygon points="1009.7,120.9 1012.9,119.6 989.1,95.5 985.9,96.7" color="#f2351e"/>
<polygon points="1012.9,119.6 1016.1,118.4 992.3,94.3 989.1,95.5" color="#f2361e"/>
<polygon points="1016.1,118.4 1019.3,117.2 995.5,93.2 992.3,94.3" color="#f3361e"/>
<polygon points="1019.3,117.2 1022.5,116.0 998.7,92.0 995.5,93.2" color="#f3371e"/>
<polygon points="1022.5,116.0 1025.6,114.8 1001.8,90.8 998.7,92.0" color="#f3381e"/>
<polygon points="1025.6,114.8 1028.8,113.6 1005.0,89.6 1001.8,90.8" color="#f4391e"/>
<polygon points="1028.8,113.6 1032.0,112.4 1008.2,88.5 1005.0,89.6" color="#f43a1e"/>
<polygon points="1032.0,112.4 1035.2,111.2 1011.4,87.3 1008.2,88.5" color="#f43b1e"/>
<polygon points="1035.2,111.2 1038.4,110.1 1014.6,86.3 1011.4,87.3" color="#f53c1e"/>
<polygon points="1038.4,110.1 1041.6,109.1 1017.8,85.2 1014.6,86.3" color="#f53c1e"/>
<polygon points="1041.6,109.1 1044.8,108.0 1021.0,84.2 1017.8,85.2" color="#f53d1e"/>
<polygon points="1044.8,108.0 1048.0,107.0 1024.2,83.2 1021.0,84.2" color="#f53e1e"/>
<polygon points="1048.0,107.0 1051.1,106.0 1027.4,82.3 1024.2,83.2" color="#f63f1e"/>
<polygon points="1051.1,106.0 1054.3,105.0 1030.5,81.3 1027.4,82.3" color="#f63f1d"/>
<polygon points="1054.3,105.0 1057.5,104.0 1033.7,80.3 1030.5,81.3" color="#f6401d"/>
<polygon points="1057.5,104.0 1060.7,103.0 1036.9,79.3 1033.7,80.3" color="#f6411d"/>
<polygon points="1060.7,103.0 1063.9,102.0 1040.1,78.3 1036.9,79.3" color="#f6411d"/>
<polygon points="1063.9,102.0 1067.1,101.0 1043.3,77.4 1040.1,78.3" color="#f6421d"/>
<polygon points="1067.1,101.0 1070.3,100.0 1046.5,76.4 1043.3,77.4" color="#f7431d"/>
<polygon points="1070.3,100.0 1073.5,98.9 1049.7,75.4 1046.5,76.4" color="#f7441d"/>
<polygon points="1073.5,98.9 1076.6,97.9 1052.9,74.3 1049.7,75.4" color="#f7441d"/>
<polygon points="1076.6,97.9 1079.8,96.8 1056.1,73.3 1052.9,74.3" color="#f7451d"/>
<polygon points="1079.8,96.8 1083.0,95.7 1059.2,72.2 1056.1,73.3" color="#f7461c"/>
<polygon points="1083.0,95.7 1086.2,94.5 1062.4,71.1 1059.2,72.2" color="#f8461c"/>
<polygon points="1086.2,94.5 1089.4,93.4 1065.6,69.9 1062.4,71.1" color="#f8471c"/>
</g>
<polygon points="888.6,164.0 891.8,162.0 894.9,160.1 898.1,158.2 901.3,156.3 904.5,154.4 907.7,152.5 910.9,150.6 914.1,148.9 917.3,147.2 920.4,145.7 923.6,144.3 926.8,143.0 930.0,141.9 933.2,141.1 936.4,140.4 939.6,139.8 942.8,139.3 946.0,138.8 949.1,138.5 952.3,138.1 955.5,137.6 958.7,137.0 961.9,136.4 965.1,135.7 968.3,135.0 971.5,134.3 974.7,133.4 977.8,132.4 981.0,131.4 984.2,130.4 987.4,129.3 990.6,128.1 993.8,126.9 997.0,125.8 1000.2,124.6 1003.3,123.3 1006.5,122.1 1009.7,120.9 1012.9,119.6 1016.1,118.4 1019.3,117.2 1022.5,116.0 1025.6,114.8 1028.8,113.6 1032.0,112.4 1035.2,111.2 1038.4,110.1 1041.6,109.1 1044.8,108.0 1048.0,107.0 1051.1,106.0 1054.3,105.0 1057.5,104.0 1060.7,103.0 1063.9,102.0 1067.1,101.0 1070.3,100.0 1073.5,98.9 1076.6,97.9 1079.8,96.8 1083.0,95.7 1086.2,94.5 1089.4,93.4 1082.3,86.4 1079.1,87.5 1075.9,88.6 1072.7,89.7 1069.5,90.8 1066.3,91.9 1063.1,92.9 1059.9,93.9 1056.8,94.9 1053.6,95.9 1050.4,96.9 1047.2,97.9 1044.0,98.9 1040.8,99.9 1037.6,100.9 1034.4,101.9 1031.3,103.0 1028.1,104.1 1024.9,105.2 1021.7,106.4 1018.5,107.6 1015.3,108.8 1012.1,110.0 1008.9,111.2 1005.8,112.4 1002.6,113.6 999.4,114.8 996.2,116.1 993.0,117.3 989.8,118.5 986.6,119.6 983.4,120.8 980.3,121.9 977.1,123.0 973.9,124.0 970.7,125.0 967.5,125.9 964.3,126.7 961.1,127.4 957.9,128.0 954.7,128.6 951.6,129.2 948.4,129.7 945.2,130.2 942.0,130.5 938.8,130.7 935.6,131.1 932.4,131.6 929.2,132.2 926.0,132.8 922.9,133.6 919.7,134.7 916.5,136.0 913.3,137.3 910.1,138.9 906.9,140.6 903.7,142.4 900.5,144.2 897.3,146.1 894.2,148.0 891.0,149.9 887.8,151.8 884.6,153.8 881.4,155.8" fill="#300000" fill-opacity="0.09"/>
<polygon points="914.1,148.9 917.3,147.2 920.4,145.7 923.6,144.3 926.8,143.0 930.0,141.9 933.2,141.1 936.4,140.4 939.6,139.8 942.8,139.3 946.0,138.8 949.1,138.5 952.3,138.1 955.5,137.6 958.7,137.0 961.9,136.4 965.1,135.7 968.3,135.0 971.5,134.3 974.7,133.4 977.8,132.4 981.0,131.4 984.2,130.4 987.4,129.3 990.6,128.1 993.8,126.9 997.0,125.8 1000.2,124.6 1003.3,123.3 1006.5,122.1 1009.7,120.9 1012.9,119.6 1016.1,118.4 1019.3,117.2 1022.5,116.0 1025.6,114.8 1028.8,113.6 1032.0,112.4 1035.2,111.2 1038.4,110.1 1041.6,109.1 1044.8,108.0 1048.0,107.0 1051.1,106.0 1054.3,105.0 1057.5,104.0 1060.7,103.0 1063.9,102.0 1067.1,101.0 1070.3,100.0 1073.5,98.9 1076.6,97.9 1079.8,96.8 1083.0,95.7 1086.2,94.5 1089.4,93.4 1082.3,86.4 1079.1,87.5 1075.9,88.6 1072.7,89.7 1069.5,90.8 1066.3,91.9 1063.1,92.9 1059.9,93.9 1056.8,94.9 1053.6,95.9 1050.4,96.9 1047.2,97.9 1044.0,98.9 1040.8,99.9 1037.6,100.9 1034.4,101.9 1031.3,103.0 1028.1,104.1 1024.9,105.2 1021.7,106.4 1018.5,107.6 1015.3,108.8 1012.1,110.0 1008.9,111.2 1005.8,112.4 1002.6,113.6 999.4,114.8 996.2,116.1 993.0,117.3 989.8,118.5 986.6,119.6 983.4,120.8 980.3,121.9 977.1,123.0 973.9,124.0 970.7,125.0 967.5,125.9 964.3,126.7 961.1,127.4 957.9,128.0 954.7,128.6 951.6,129.2 948.4,129.7 945.2,130.2 942.0,130.5 938.8,130.7 935.6,131.1 932.4,131.6 929.2,132.2 926.0,132.8 922.9,133.6 919.7,134.7 916.5,136.0 913.3,137.3 910.1,138.9 906.9,140.6" fill="#300000" fill-opacity="0.10"/>
<polygon points="933.2,141.1 936.4,140.4 939.6,139.8 942.8,139.3 946.0,138.8 949.1,138.5 952.3,138.1 955.5,137.6 958.7,137.0 961.9,136.4 965.1,135.7 968.3,135.0 971.5,134.3 974.7,133.4 977.8,132.4 981.0,131.4 984.2,130.4 987.4,129.3 990.6,128.1 993.8,126.9 997.0,125.8 1000.2,124.6 1003.3,123.3 1006.5,122.1 1009.7,120.9 1012.9,119.6 1016.1,118.4 1019.3,117.2 1022.5,116.0 1025.6,114.8 1028.8,113.6 1032.0,112.4 1035.2,111.2 1038.4,110.1 1041.6,109.1 1044.8,108.0 1048.0,107.0 1051.1,106.0 1054.3,105.0 1057.5,104.0 1060.7,103.0 1063.9,102.0 1067.1,101.0 1070.3,100.0 1073.5,98.9 1076.6,97.9 1079.8,96.8 1083.0,95.7 1086.2,94.5 1089.4,93.4 1082.3,86.4 1079.1,87.5 1075.9,88.6 1072.7,89.7 1069.5,90.8 1066.3,91.9 1063.1,92.9 1059.9,93.9 1056.8,94.9 1053.6,95.9 1050.4,96.9 1047.2,97.9 1044.0,98.9 1040.8,99.9 1037.6,100.9 1034.4,101.9 1031.3,103.0 1028.1,104.1 1024.9,105.2 1021.7,106.4 1018.5,107.6 1015.3,108.8 1012.1,110.0 1008.9,111.2 1005.8,112.4 1002.6,113.6 999.4,114.8 996.2,116.1 993.0,117.3 989.8,118.5 986.6,119.6 983.4,120.8 980.3,121.9 977.1,123.0 973.9,124.0 970.7,125.0 967.5,125.9 964.3,126.7 961.1,127.4 957.9,128.0 954.7,128.6 951.6,129.2 948.4,129.7 945.2,130.2 942.0,130.5 938.8,130.7 935.6,131.1 932.4,131.6 929.2,132.2 926.0,132.8" fill="#300000" fill-opacity="0.06"/>
<polygon points="894.2,148.0 897.3,146.1 900.5,144.2 903.7,142.4 906.9,140.6 910.1,138.9 913.3,137.3 916.5,136.0 919.7,134.7 922.9,133.6 926.0,132.8 929.2,132.2 932.4,131.6 935.6,131.1 938.8,130.7 942.0,130.5 945.2,130.2 948.4,129.7 951.6,129.2 954.7,128.6 957.9,128.0 961.1,127.4 964.3,126.7 967.5,125.9 970.7,125.0 973.9,124.0 977.1,123.0 980.3,121.9 983.4,120.8 986.6,119.6 989.8,118.5 993.0,117.3 996.2,116.1 999.4,114.8 1002.6,113.6 1005.8,112.4 1008.9,111.2 1012.1,110.0 1015.3,108.8 1018.5,107.6 1021.7,106.4 1024.9,105.2 1028.1,104.1 1031.3,103.0 1034.4,101.9 1037.6,100.9 1040.8,99.9 1044.0,98.9 1047.2,97.9 1050.4,96.9 1053.6,95.9 1056.8,94.9 1059.9,93.9 1063.1,92.9 1066.3,91.9 1069.5,90.8 1072.7,89.7 1075.9,88.6 1079.1,87.5 1082.3,86.4 1076.3,80.5 1073.1,81.6 1069.9,82.8 1066.8,83.9 1063.6,84.9 1060.4,86.0 1057.2,87.0 1054.0,88.0 1050.8,89.0 1047.6,90.0 1044.4,91.0 1041.3,92.0 1038.1,93.0 1034.9,93.9 1031.7,94.9 1028.5,95.9 1025.3,97.0 1022.1,98.1 1018.9,99.2 1015.7,100.4 1012.6,101.6 1009.4,102.8 1006.2,104.0 1003.0,105.2 999.8,106.4 996.6,107.6 993.4,108.8 990.2,110.0 987.1,111.2 983.9,112.4 980.7,113.5 977.5,114.7 974.3,115.8 971.1,116.8 967.9,117.8 964.7,118.8 961.5,119.6 958.4,120.4 955.2,121.1 952.0,121.7 948.8,122.2 945.6,122.7 942.4,123.2 939.2,123.6 936.0,123.8 932.8,124.0 929.6,124.4 926.5,124.9 923.3,125.4 920.1,126.0 916.9,126.7 913.7,127.8 910.5,129.1 907.3,130.5 904.1,132.0 900.9,133.8 897.8,135.5 894.6,137.4 891.4,139.3 888.2,141.2" fill="#300000" fill-opacity="0.05"/>
<polygon points="926.0,132.8 929.2,132.2 932.4,131.6 935.6,131.1 938.8,130.7 942.0,130.5 945.2,130.2 948.4,129.7 951.6,129.2 954.7,128.6 957.9,128.0 961.1,127.4 964.3,126.7 967.5,125.9 970.7,125.0 973.9,124.0 977.1,123.0 980.3,121.9 983.4,120.8 986.6,119.6 989.8,118.5 993.0,117.3 996.2,116.1 999.4,114.8 1002.6,113.6 1005.8,112.4 1008.9,111.2 1012.1,110.0 1015.3,108.8 1018.5,107.6 1021.7,106.4 1024.9,105.2 1028.1,104.1 1031.3,103.0 1034.4,101.9 1037.6,100.9 1040.8,99.9 1044.0,98.9 1047.2,97.9 1050.4,96.9 1053.6,95.9 1056.8,94.9 1059.9,93.9 1063.1,92.9 1066.3,91.9 1069.5,90.8 1072.7,89.7 1075.9,88.6 1079.1,87.5 1082.3,86.4 1076.3,80.5 1073.1,81.6 1069.9,82.8 1066.8,83.9 1063.6,84.9 1060.4,86.0 1057.2,87.0 1054.0,88.0 1050.8,89.0 1047.6,90.0 1044.4,91.0 1041.3,92.0 1038.1,93.0 1034.9,93.9 1031.7,94.9 1028.5,95.9 1025.3,97.0 1022.1,98.1 1018.9,99.2 1015.7,100.4 1012.6,101.6 1009.4,102.8 1006.2,104.0 1003.0,105.2 999.8,106.4 996.6,107.6 993.4,108.8 990.2,110.0 987.1,111.2 983.9,112.4 980.7,113.5 977.5,114.7 974.3,115.8 971.1,116.8 967.9,117.8 964.7,118.8 961.5,119.6 958.4,120.4 955.2,121.1 952.0,121.7 948.8,122.2 945.6,122.7 942.4,123.2 939.2,123.6 936.0,123.8 932.8,124.0 929.6,124.4 926.5,124.9 923.3,125.4 920.1,126.0" fill="#300000" fill-opacity="0.06"/>
<polygon points="885.1,137.6 888.3,135.7 891.5,133.8 894.7,132.0 897.8,130.2 901.0,128.5 904.2,126.9 907.4,125.6 910.6,124.3 913.8,123.2 917.0,122.4 920.2,121.9 923.4,121.3 926.5,120.9 929.7,120.5 932.9,120.4 936.1,120.2 939.3,119.8 942.5,119.3 945.7,118.8 948.9,118.3 952.1,117.8 955.3,117.1 958.4,116.4 961.6,115.5 964.8,114.6 968.0,113.7 971.2,112.6 974.4,111.5 977.6,110.4 980.8,109.2 984.0,108.1 987.1,106.9 990.3,105.7 993.5,104.4 996.7,103.2 999.9,102.0 1003.1,100.8 1006.3,99.6 1009.5,98.4 1012.7,97.3 1015.8,96.1 1019.0,95.0 1022.2,93.9 1025.4,92.9 1028.6,91.8 1031.8,90.9 1035.0,89.9 1038.2,88.9 1041.3,87.9 1044.5,86.9 1047.7,85.9 1050.9,84.9 1054.1,83.9 1057.3,82.9 1060.5,81.9 1063.7,80.8 1066.9,79.7 1070.0,78.6 1073.2,77.4 1065.6,69.9 1062.4,71.1 1059.2,72.2 1056.1,73.3 1052.9,74.3 1049.7,75.4 1046.5,76.4 1043.3,77.4 1040.1,78.3 1036.9,79.3 1033.7,80.3 1030.5,81.3 1027.4,82.3 1024.2,83.2 1021.0,84.2 1017.8,85.2 1014.6,86.3 1011.4,87.3 1008.2,88.5 1005.0,89.6 1001.8,90.8 998.7,92.0 995.5,93.2 992.3,94.3 989.1,95.5 985.9,96.7 982.7,97.9 979.5,99.1 976.3,100.3 973.1,101.5 970.0,102.6 966.8,103.7 963.6,104.8 960.4,105.8 957.2,106.7 954.0,107.6 950.8,108.4 947.6,109.1 944.4,109.7 941.2,110.2 938.1,110.7 934.9,111.1 931.7,111.4 928.5,111.8 925.3,111.9 922.1,112.0 918.9,112.3 915.7,112.7 912.5,113.2 909.3,113.7 906.2,114.5 903.0,115.6 899.8,116.8 896.6,118.2 893.4,119.8 890.2,121.5 887.0,123.3 883.8,125.2 880.6,127.1 877.4,129.0" fill="#ffc080" fill-opacity="0.10"/>
<polygon points="917.0,122.4 920.2,121.9 923.4,121.3 926.5,120.9 929.7,120.5 932.9,120.4 936.1,120.2 939.3,119.8 942.5,119.3 945.7,118.8 948.9,118.3 952.1,117.8 955.3,117.1 958.4,116.4 961.6,115.5 964.8,114.6 968.0,113.7 971.2,112.6 974.4,111.5 977.6,110.4 980.8,109.2 984.0,108.1 987.1,106.9 990.3,105.7 993.5,104.4 996.7,103.2 999.9,102.0 1003.1,100.8 1006.3,99.6 1009.5,98.4 1012.7,97.3 1015.8,96.1 1019.0,95.0 1022.2,93.9 1025.4,92.9 1028.6,91.8 1031.8,90.9 1035.0,89.9 1038.2,88.9 1041.3,87.9 1044.5,86.9 1047.7,85.9 1050.9,84.9 1054.1,83.9 1057.3,82.9 1060.5,81.9 1063.7,80.8 1066.9,79.7 1070.0,78.6 1073.2,77.4 1065.6,69.9 1062.4,71.1 1059.2,72.2 1056.1,73.3 1052.9,74.3 1049.7,75.4 1046.5,76.4 1043.3,77.4 1040.1,78.3 1036.9,79.3 1033.7,80.3 1030.5,81.3 1027.4,82.3 1024.2,83.2 1021.0,84.2 1017.8,85.2 1014.6,86.3 1011.4,87.3 1008.2,88.5 1005.0,89.6 1001.8,90.8 998.7,92.0 995.5,93.2 992.3,94.3 989.1,95.5 985.9,96.7 982.7,97.9 979.5,99.1 976.3,100.3 973.1,101.5 970.0,102.6 966.8,103.7 963.6,104.8 960.4,105.8 957.2,106.7 954.0,107.6 950.8,108.4 947.6,109.1 944.4,109.7 941.2,110.2 938.1,110.7 934.9,111.1 931.7,111.4 928.5,111.8 925.3,111.9 922.1,112.0 918.9,112.3 915.7,112.7 912.5,113.2 909.3,113.7" fill="#ffc080" fill-opacity="0.14"/>
<path d="M902.2,149.0L887.0,131.6M935.7,137.5L921.6,121.5M935.7,133.3L919.9,115.4M941.2,135.5L928.0,120.5M943.0,133.5L926.6,115.2M949.0,136.4L938.2,124.3M945.8,128.8L934.9,116.9M955.0,130.9L946.3,121.5M961.4,133.8L947.9,119.3M958.5,126.6L948.1,115.6M964.5,128.9L950.0,113.6M967.1,127.6L956.5,116.4M970.7,127.1L954.1,109.8M974.6,126.9L958.2,109.9M975.2,123.2L960.6,108.1M979.7,123.5L966.0,109.5M981.4,121.0L973.5,112.8M993.5,124.4L983.2,113.9M999.6,121.7L986.3,108.3M1000.0,117.7L985.3,102.8M1003.3,116.6L996.1,109.3M1007.4,116.2L997.2,105.9M1006.9,111.4L993.9,98.2M1014.6,114.6L1004.1,104.0M1018.9,114.6L1003.8,99.3M1020.9,112.2L1004.3,95.5M1020.6,107.5L1005.3,92.1" fill="none" stroke="#e8c060" stroke-opacity="0.75" stroke-width="0.55"/>
<path d="M904.8,146.4L893.4,133.3M903.8,139.7L890.0,124.0M913.2,145.1L904.4,135.0M916.9,138.9L906.7,127.3M918.1,135.3L904.1,119.3M925.1,138.6L914.2,126.0M926.9,136.0L912.8,119.8" fill="none" stroke="#f0d830" stroke-opacity="0.90" stroke-width="0.60"/>
<path d="M1028.1,110.7L1020.0,102.5M1026.0,104.1L1011.0,89.1M1033.0,106.8L1018.9,92.7M1033.4,103.0L1019.0,88.6M1038.4,99.6L1031.1,92.3M1045.9,102.9L1030.8,87.8M1049.0,101.8L1033.1,85.9M1049.4,98.0L1034.5,83.1M1054.5,98.9L1043.1,87.5M1059.5,99.7L1045.2,85.5M1059.2,95.2L1050.3,86.4M1063.6,95.4L1049.0,80.9M1067.2,94.8L1058.8,86.5M1073.4,96.7L1065.4,88.8M1074.1,93.3L1060.2,79.5M1076.0,90.9L1066.2,81.2M1081.3,91.8L1066.5,77.2" fill="none" stroke="#f4d8a0" stroke-opacity="0.75" stroke-width="0.55"/>
<path d="M776.9,273.1L753.0,249.3M780.1,268.9L756.2,245.1M783.3,264.8L759.4,241.0M786.5,260.8L762.6,237.0M789.7,256.9L765.8,233.0M792.9,253.0L769.0,229.2M796.1,249.3L772.2,225.4M799.2,245.6L775.3,221.6M802.4,242.0L778.5,218.0M805.6,238.5L781.7,214.4M808.8,235.0L784.9,210.9M812.0,231.7L788.1,207.4M815.2,228.4L791.3,204.0M818.4,225.1L794.5,200.7M821.6,221.8L797.7,197.3M824.8,218.6L800.9,194.0M828.0,215.3L804.1,190.6M831.2,212.1L807.3,187.2M834.3,208.9L810.5,183.9M837.5,205.8L813.6,180.7M840.7,202.8L816.8,177.6M843.9,199.9L820.0,174.6M847.1,197.1L823.2,171.6M850.3,194.3L826.4,168.7M853.5,191.5L829.6,165.8M856.7,188.7L832.8,162.8M859.9,185.8L836.0,159.8M863.1,183.0L839.2,156.8M866.2,180.2L842.4,153.8" fill="none" stroke="#000" stroke-opacity="0.50" stroke-width="0.35"/>
<path d="M869.4,177.5L845.6,151.0M872.6,175.0L848.7,148.3M875.8,172.7L851.9,145.8M879.0,170.4L855.1,143.4M882.2,168.2L858.3,141.1M885.4,166.1L861.5,138.8M888.6,164.0L864.7,136.7M891.8,162.0L867.9,134.7M894.9,160.1L871.1,132.8M898.1,158.2L874.3,130.9M901.3,156.3L877.4,129.0M904.5,154.4L880.6,127.1" fill="none" stroke="#000" stroke-opacity="0.60" stroke-width="0.45"/>
<path d="M907.7,152.5L883.8,125.2M910.9,150.6L887.0,123.3M914.1,148.9L890.2,121.5M917.3,147.2L893.4,119.8M920.4,145.7L896.6,118.2M923.6,144.3L899.8,116.8M926.8,143.0L903.0,115.6M930.0,141.9L906.2,114.5M933.2,141.1L909.3,113.7M936.4,140.4L912.5,113.2M939.6,139.8L915.7,112.7M942.8,139.3L918.9,112.3M946.0,138.8L922.1,112.0M949.1,138.5L925.3,111.9M952.3,138.1L928.5,111.8M955.5,137.6L931.7,111.4M958.7,137.0L934.9,111.1M961.9,136.4L938.1,110.7M965.1,135.7L941.2,110.2M968.3,135.0L944.4,109.7M971.5,134.3L947.6,109.1M974.7,133.4L950.8,108.4M977.8,132.4L954.0,107.6M981.0,131.4L957.2,106.7M984.2,130.4L960.4,105.8M987.4,129.3L963.6,104.8M990.6,128.1L966.8,103.7M993.8,126.9L970.0,102.6M997.0,125.8L973.1,101.5M1000.2,124.6L976.3,100.3M1003.3,123.3L979.5,99.1M1006.5,122.1L982.7,97.9M1009.7,120.9L985.9,96.7M1012.9,119.6L989.1,95.5M1016.1,118.4L992.3,94.3M1019.3,117.2L995.5,93.2M1022.5,116.0L998.7,92.0M1025.6,114.8L1001.8,90.8M1028.8,113.6L1005.0,89.6M1032.0,112.4L1008.2,88.5M1035.2,111.2L1011.4,87.3M1038.4,110.1L1014.6,86.3M1041.6,109.1L1017.8,85.2M1044.8,108.0L1021.0,84.2M1048.0,107.0L1024.2,83.2M1051.1,106.0L1027.4,82.3M1054.3,105.0L1030.5,81.3M1057.5,104.0L1033.7,80.3M1060.7,103.0L1036.9,79.3M1063.9,102.0L1040.1,78.3M1067.1,101.0L1043.3,77.4M1070.3,100.0L1046.5,76.4M1073.5,98.9L1049.7,75.4M1076.6,97.9L1052.9,74.3M1079.8,96.8L1056.1,73.3M1083.0,95.7L1059.2,72.2M1086.2,94.5L1062.4,71.1M1089.4,93.4L1065.6,69.9" fill="none" stroke="#000" stroke-opacity="0.60" stroke-width="0.50"/>
<path d="M924.8,131.4L909.8,114.3" fill="none" stroke="#000" stroke-opacity="0.80" stroke-width="1.00"/>
<path d="M753.0,249.3L756.2,245.1L759.4,241.0L762.6,237.0L765.8,233.0L769.0,229.2L772.2,225.4L775.3,221.6L778.5,218.0L781.7,214.4L784.9,210.9L788.1,207.4L791.3,204.0L794.5,200.7L797.7,197.3L800.9,194.0L804.1,190.6L807.3,187.2L810.5,183.9L813.6,180.7L816.8,177.6L820.0,174.6L823.2,171.6L826.4,168.7L829.6,165.8L832.8,162.8L836.0,159.8L839.2,156.8L842.4,153.8L845.6,151.0L848.7,148.3L851.9,145.8L855.1,143.4L858.3,141.1L861.5,138.8L864.7,136.7L867.9,134.7L871.1,132.8L874.3,130.9L877.4,129.0L880.6,127.1L883.8,125.2L887.0,123.3L890.2,121.5L893.4,119.8L896.6,118.2L899.8,116.8L903.0,115.6L906.2,114.5L909.3,113.7L912.5,113.2L915.7,112.7L918.9,112.3L922.1,112.0L925.3,111.9L928.5,111.8L931.7,111.4L934.9,111.1L938.1,110.7L941.2,110.2L944.4,109.7L947.6,109.1L950.8,108.4L954.0,107.6L957.2,106.7L960.4,105.8L963.6,104.8L966.8,103.7L970.0,102.6L973.1,101.5L976.3,100.3L979.5,99.1L982.7,97.9L985.9,96.7L989.1,95.5L992.3,94.3L995.5,93.2L998.7,92.0L1001.8,90.8L1005.0,89.6L1008.2,88.5L1011.4,87.3L1014.6,86.3L1017.8,85.2L1021.0,84.2L1024.2,83.2L1027.4,82.3L1030.5,81.3L1033.7,80.3L1036.9,79.3L1040.1,78.3L1043.3,77.4L1046.5,76.4L1049.7,75.4L1052.9,74.3L1056.1,73.3L1059.2,72.2L1062.4,71.1L1065.6,69.9" fill="none" stroke="#000" stroke-opacity="0.65" stroke-width="0.45"/>
<path d="M776.9,273.1L780.1,268.9L783.3,264.8L786.5,260.8L789.7,256.9L792.9,253.0L796.1,249.3L799.2,245.6L802.4,242.0L805.6,238.5L808.8,235.0L812.0,231.7L815.2,228.4L818.4,225.1L821.6,221.8L824.8,218.6L828.0,215.3L831.2,212.1L834.3,208.9L837.5,205.8L840.7,202.8L843.9,199.9L847.1,197.1L850.3,194.3L853.5,191.5L856.7,188.7L859.9,185.8L863.1,183.0L866.2,180.2L869.4,177.5L872.6,175.0L875.8,172.7L879.0,170.4L882.2,168.2L885.4,166.1L888.6,164.0L891.8,162.0L894.9,160.1L898.1,158.2L901.3,156.3L904.5,154.4L907.7,152.5L910.9,150.6L914.1,148.9L917.3,147.2L920.4,145.7L923.6,144.3L926.8,143.0L930.0,141.9L933.2,141.1L936.4,140.4L939.6,139.8L942.8,139.3L946.0,138.8L949.1,138.5L952.3,138.1L955.5,137.6L958.7,137.0L961.9,136.4L965.1,135.7L968.3,135.0L971.5,134.3L974.7,133.4L977.8,132.4L981.0,131.4L984.2,130.4L987.4,129.3L990.6,128.1L993.8,126.9L997.0,125.8L1000.2,124.6L1003.3,123.3L1006.5,122.1L1009.7,120.9L1012.9,119.6L1016.1,118.4L1019.3,117.2L1022.5,116.0L1025.6,114.8L1028.8,113.6L1032.0,112.4L1035.2,111.2L1038.4,110.1L1041.6,109.1L1044.8,108.0L1048.0,107.0L1051.1,106.0L1054.3,105.0L1057.5,104.0L1060.7,103.0L1063.9,102.0L1067.1,101.0L1070.3,100.0L1073.5,98.9L1076.6,97.9L1079.8,96.8L1083.0,95.7L1086.2,94.5L1089.4,93.4" fill="none" stroke="#000" stroke-opacity="0.65" stroke-width="0.45"/>
<g fill="currentColor" stroke="currentColor" stroke-width=".7" stroke-linejoin="round">
<polygon points="800.8,297.0 804.0,292.8 780.1,268.9 776.9,273.1" color="#0e0303"/>
<polygon points="804.0,292.8 807.2,288.7 783.3,264.8 780.1,268.9" color="#120404"/>
<polygon points="807.2,288.7 810.4,284.7 786.5,260.8 783.3,264.8" color="#160405"/>
<polygon points="810.4,284.7 813.6,280.7 789.7,256.9 786.5,260.8" color="#1b0506"/>
<polygon points="813.6,280.7 816.8,276.9 792.9,253.0 789.7,256.9" color="#220607"/>
<polygon points="816.8,276.9 820.0,273.2 796.1,249.3 792.9,253.0" color="#290709"/>
<polygon points="820.0,273.2 823.1,269.6 799.2,245.6 796.1,249.3" color="#31080a"/>
<polygon points="823.1,269.6 826.3,266.1 802.4,242.0 799.2,245.6" color="#38090b"/>
<polygon points="826.3,266.1 829.5,262.6 805.6,238.5 802.4,242.0" color="#400b0c"/>
<polygon points="829.5,262.6 832.7,259.3 808.8,235.0 805.6,238.5" color="#480c0e"/>
<polygon points="832.7,259.3 835.9,256.0 812.0,231.7 808.8,235.0" color="#510d0f"/>
<polygon points="835.9,256.0 839.1,252.8 815.2,228.4 812.0,231.7" color="#590e10"/>
<polygon points="839.1,252.8 842.3,249.7 818.4,225.1 815.2,228.4" color="#610f11"/>
<polygon points="842.3,249.7 845.5,246.6 821.6,221.8 818.4,225.1" color="#6a1012"/>
<polygon points="845.5,246.6 848.7,243.4 824.8,218.6 821.6,221.8" color="#711113"/>
<polygon points="848.7,243.4 851.9,240.4 828.0,215.3 824.8,218.6" color="#781214"/>
<polygon points="851.9,240.4 855.1,237.3 831.2,212.1 828.0,215.3" color="#7f1214"/>
<polygon points="855.1,237.3 858.2,234.3 834.3,208.9 831.2,212.1" color="#851315"/>
<polygon points="858.2,234.3 861.4,231.3 837.5,205.8 834.3,208.9" color="#8b1416"/>
<polygon points="861.4,231.3 864.6,228.5 840.7,202.8 837.5,205.8" color="#921416"/>
<polygon points="864.6,228.5 867.8,225.7 843.9,199.9 840.7,202.8" color="#971517"/>
<polygon points="867.8,225.7 871.0,223.0 847.1,197.1 843.9,199.9" color="#9d1617"/>
<polygon points="871.0,223.0 874.2,220.3 850.3,194.3 847.1,197.1" color="#a21618"/>
<polygon points="874.2,220.3 877.4,217.7 853.5,191.5 850.3,194.3" color="#a71718"/>
<polygon points="877.4,217.7 880.6,215.0 856.7,188.7 853.5,191.5" color="#ac1718"/>
<polygon points="880.6,215.0 883.8,212.4 859.9,185.8 856.7,188.7" color="#b11818"/>
<polygon points="883.8,212.4 886.9,209.8 863.1,183.0 859.9,185.8" color="#b61819"/>
<polygon points="886.9,209.8 890.1,207.3 866.2,180.2 863.1,183.0" color="#bb1919"/>
<polygon points="890.1,207.3 893.3,204.8 869.4,177.5 866.2,180.2" color="#bf1919"/>
<polygon points="893.3,204.8 896.5,202.5 872.6,175.0 869.4,177.5" color="#c21a1a"/>
<polygon points="896.5,202.5 899.7,200.3 875.8,172.7 872.6,175.0" color="#c61a1a"/>
<polygon points="899.7,200.3 902.9,198.2 879.0,170.4 875.8,172.7" color="#ca1b1b"/>
<polygon points="902.9,198.2 906.1,196.2 882.2,168.2 879.0,170.4" color="#cd1b1b"/>
<polygon points="906.1,196.2 909.3,194.2 885.4,166.1 882.2,168.2" color="#d11c1c"/>
<polygon points="909.3,194.2 912.4,192.2 888.6,164.0 885.4,166.1" color="#d41c1c"/>
<polygon points="912.4,192.2 915.6,190.3 891.8,162.0 888.6,164.0" color="#d71d1d"/>
<polygon points="915.6,190.3 918.8,188.4 894.9,160.1 891.8,162.0" color="#da1d1d"/>
<polygon points="918.8,188.4 922.0,186.4 898.1,158.2 894.9,160.1" color="#dc1e1d"/>
<polygon points="922.0,186.4 925.2,184.5 901.3,156.3 898.1,158.2" color="#de1e1e"/>
<polygon points="925.2,184.5 928.4,182.6 904.5,154.4 901.3,156.3" color="#df1f1e"/>
<polygon points="928.4,182.6 931.6,180.7 907.7,152.5 904.5,154.4" color="#e11f1e"/>
<polygon points="931.6,180.7 934.7,178.9 910.9,150.6 907.7,152.5" color="#e2201f"/>
<polygon points="934.7,178.9 937.9,177.2 914.1,148.9 910.9,150.6" color="#e4211f"/>
<polygon points="937.9,177.2 941.1,175.6 917.3,147.2 914.1,148.9" color="#e6211f"/>
<polygon points="941.1,175.6 944.3,174.1 920.4,145.7 917.3,147.2" color="#e72220"/>
<polygon points="944.3,174.1 947.5,172.7 923.6,144.3 920.4,145.7" color="#e82220"/>
<polygon points="947.5,172.7 950.7,171.4 926.8,143.0 923.6,144.3" color="#e92320"/>
<polygon points="950.7,171.4 953.9,170.3 930.0,141.9 926.8,143.0" color="#e92320"/>
<polygon points="953.9,170.3 957.1,169.3 933.2,141.1 930.0,141.9" color="#ea2420"/>
<polygon points="957.1,169.3 960.2,168.6 936.4,140.4 933.2,141.1" color="#ea2420"/>
<polygon points="960.2,168.6 963.4,167.8 939.6,139.8 936.4,140.4" color="#eb2520"/>
<polygon points="963.4,167.8 966.6,167.1 942.8,139.3 939.6,139.8" color="#ec2520"/>
<polygon points="966.6,167.1 969.8,166.4 946.0,138.8 942.8,139.3" color="#ec2620"/>
<polygon points="969.8,166.4 973.0,165.8 949.1,138.5 946.0,138.8" color="#ed2620"/>
<polygon points="973.0,165.8 976.2,165.2 952.3,138.1 949.1,138.5" color="#ed2720"/>
<polygon points="976.2,165.2 979.4,164.3 955.5,137.6 952.3,138.1" color="#ed2720"/>
<polygon points="979.4,164.3 982.6,163.5 958.7,137.0 955.5,137.6" color="#ee281f"/>
<polygon points="982.6,163.5 985.7,162.6 961.9,136.4 958.7,137.0" color="#ee281f"/>
<polygon points="985.7,162.6 988.9,161.7 965.1,135.7 961.9,136.4" color="#ee291f"/>
<polygon points="988.9,161.7 992.1,160.8 968.3,135.0 965.1,135.7" color="#ee2a1f"/>
<polygon points="992.1,160.8 995.3,159.8 971.5,134.3 968.3,135.0" color="#ef2a1f"/>
<polygon points="995.3,159.8 998.5,158.7 974.7,133.4 971.5,134.3" color="#ef2b1f"/>
<polygon points="998.5,158.7 1001.7,157.6 977.8,132.4 974.7,133.4" color="#ef2c1f"/>
<polygon points="1001.7,157.6 1004.9,156.4 981.0,131.4 977.8,132.4" color="#ef2c1f"/>
<polygon points="1004.9,156.4 1008.0,155.2 984.2,130.4 981.0,131.4" color="#f02d1f"/>
<polygon points="1008.0,155.2 1011.2,154.0 987.4,129.3 984.2,130.4" color="#f02e1f"/>
<polygon points="1011.2,154.0 1014.4,152.7 990.6,128.1 987.4,129.3" color="#f02e1e"/>
<polygon points="1014.4,152.7 1017.6,151.5 993.8,126.9 990.6,128.1" color="#f02f1e"/>
<polygon points="1017.6,151.5 1020.8,150.2 997.0,125.8 993.8,126.9" color="#f0301e"/>
<polygon points="1020.8,150.2 1024.0,149.0 1000.2,124.6 997.0,125.8" color="#f1301e"/>
<polygon points="1024.0,149.0 1027.2,147.7 1003.3,123.3 1000.2,124.6" color="#f1311e"/>
<polygon points="1027.2,147.7 1030.3,146.4 1006.5,122.1 1003.3,123.3" color="#f1321e"/>
<polygon points="1030.3,146.4 1033.5,145.1 1009.7,120.9 1006.5,122.1" color="#f2331e"/>
<polygon points="1033.5,145.1 1036.7,143.9 1012.9,119.6 1009.7,120.9" color="#f2341e"/>
<polygon points="1036.7,143.9 1039.9,142.6 1016.1,118.4 1012.9,119.6" color="#f2351e"/>
<polygon points="1039.9,142.6 1043.1,141.3 1019.3,117.2 1016.1,118.4" color="#f3361e"/>
<polygon points="1043.1,141.3 1046.3,140.1 1022.5,116.0 1019.3,117.2" color="#f3371e"/>
<polygon points="1046.3,140.1 1049.5,138.8 1025.6,114.8 1022.5,116.0" color="#f3381e"/>
<polygon points="1049.5,138.8 1052.6,137.6 1028.8,113.6 1025.6,114.8" color="#f4391e"/>
<polygon points="1052.6,137.6 1055.8,136.4 1032.0,112.4 1028.8,113.6" color="#f43a1e"/>
<polygon points="1055.8,136.4 1059.0,135.2 1035.2,111.2 1032.0,112.4" color="#f43b1e"/>
<polygon points="1059.0,135.2 1062.2,134.1 1038.4,110.1 1035.2,111.2" color="#f53c1e"/>
<polygon points="1062.2,134.1 1065.4,133.0 1041.6,109.1 1038.4,110.1" color="#f53c1e"/>
<polygon points="1065.4,133.0 1068.6,131.9 1044.8,108.0 1041.6,109.1" color="#f53d1e"/>
<polygon points="1068.6,131.9 1071.7,130.9 1048.0,107.0 1044.8,108.0" color="#f63e1e"/>
<polygon points="1071.7,130.9 1074.9,129.8 1051.1,106.0 1048.0,107.0" color="#f63f1e"/>
<polygon points="1074.9,129.8 1078.1,128.8 1054.3,105.0 1051.1,106.0" color="#f63f1d"/>
<polygon points="1078.1,128.8 1081.3,127.7 1057.5,104.0 1054.3,105.0" color="#f6401d"/>
<polygon points="1081.3,127.7 1084.5,126.7 1060.7,103.0 1057.5,104.0" color="#f6411d"/>
<polygon points="1084.5,126.7 1087.7,125.7 1063.9,102.0 1060.7,103.0" color="#f6421d"/>
<polygon points="1087.7,125.7 1090.9,124.6 1067.1,101.0 1063.9,102.0" color="#f7421d"/>
<polygon points="1090.9,124.6 1094.0,123.6 1070.3,100.0 1067.1,101.0" color="#f7431d"/>
<polygon points="1094.0,123.6 1097.2,122.5 1073.5,98.9 1070.3,100.0" color="#f7441d"/>
<polygon points="1097.2,122.5 1100.4,121.4 1076.6,97.9 1073.5,98.9" color="#f7441d"/>
<polygon points="1100.4,121.4 1103.6,120.3 1079.8,96.8 1076.6,97.9" color="#f7451d"/>
<polygon points="1103.6,120.3 1106.8,119.2 1083.0,95.7 1079.8,96.8" color="#f7461c"/>
<polygon points="1106.8,119.2 1110.0,118.0 1086.2,94.5 1083.0,95.7" color="#f8461c"/>
<polygon points="1110.0,118.0 1113.1,116.8 1089.4,93.4 1086.2,94.5" color="#f8471c"/>
</g>
<polygon points="912.4,192.2 915.6,190.3 918.8,188.4 922.0,186.4 925.2,184.5 928.4,182.6 931.6,180.7 934.7,178.9 937.9,177.2 941.1,175.6 944.3,174.1 947.5,172.7 950.7,171.4 953.9,170.3 957.1,169.3 960.2,168.6 963.4,167.8 966.6,167.1 969.8,166.4 973.0,165.8 976.2,165.2 979.4,164.3 982.6,163.5 985.7,162.6 988.9,161.7 992.1,160.8 995.3,159.8 998.5,158.7 1001.7,157.6 1004.9,156.4 1008.0,155.2 1011.2,154.0 1014.4,152.7 1017.6,151.5 1020.8,150.2 1024.0,149.0 1027.2,147.7 1030.3,146.4 1033.5,145.1 1036.7,143.9 1039.9,142.6 1043.1,141.3 1046.3,140.1 1049.5,138.8 1052.6,137.6 1055.8,136.4 1059.0,135.2 1062.2,134.1 1065.4,133.0 1068.6,131.9 1071.7,130.9 1074.9,129.8 1078.1,128.8 1081.3,127.7 1084.5,126.7 1087.7,125.7 1090.9,124.6 1094.0,123.6 1097.2,122.5 1100.4,121.4 1103.6,120.3 1106.8,119.2 1110.0,118.0 1113.1,116.8 1106.0,109.8 1102.8,111.0 1099.6,112.1 1096.5,113.3 1093.3,114.4 1090.1,115.5 1086.9,116.5 1083.7,117.5 1080.5,118.6 1077.4,119.6 1074.2,120.6 1071.0,121.7 1067.8,122.7 1064.6,123.7 1061.4,124.7 1058.2,125.8 1055.1,126.9 1051.9,128.0 1048.7,129.2 1045.5,130.4 1042.3,131.6 1039.1,132.8 1035.9,134.1 1032.8,135.3 1029.6,136.6 1026.4,137.8 1023.2,139.1 1020.0,140.4 1016.8,141.6 1013.6,142.9 1010.5,144.1 1007.3,145.3 1004.1,146.5 1000.9,147.7 997.7,148.8 994.5,150.0 991.3,151.0 988.1,152.1 985.0,153.0 981.8,153.8 978.6,154.7 975.4,155.5 972.2,156.2 969.0,156.9 965.8,157.5 962.6,158.0 959.5,158.6 956.3,159.3 953.1,160.0 949.9,160.7 946.7,161.6 943.5,162.7 940.3,164.0 937.1,165.4 934.0,166.9 930.8,168.6 927.6,170.3 924.4,172.1 921.2,174.0 918.0,175.9 914.8,177.8 911.7,179.7 908.5,181.7 905.3,183.6" fill="#300000" fill-opacity="0.09"/>
<polygon points="937.9,177.2 941.1,175.6 944.3,174.1 947.5,172.7 950.7,171.4 953.9,170.3 957.1,169.3 960.2,168.6 963.4,167.8 966.6,167.1 969.8,166.4 973.0,165.8 976.2,165.2 979.4,164.3 982.6,163.5 985.7,162.6 988.9,161.7 992.1,160.8 995.3,159.8 998.5,158.7 1001.7,157.6 1004.9,156.4 1008.0,155.2 1011.2,154.0 1014.4,152.7 1017.6,151.5 1020.8,150.2 1024.0,149.0 1027.2,147.7 1030.3,146.4 1033.5,145.1 1036.7,143.9 1039.9,142.6 1043.1,141.3 1046.3,140.1 1049.5,138.8 1052.6,137.6 1055.8,136.4 1059.0,135.2 1062.2,134.1 1065.4,133.0 1068.6,131.9 1071.7,130.9 1074.9,129.8 1078.1,128.8 1081.3,127.7 1084.5,126.7 1087.7,125.7 1090.9,124.6 1094.0,123.6 1097.2,122.5 1100.4,121.4 1103.6,120.3 1106.8,119.2 1110.0,118.0 1113.1,116.8 1106.0,109.8 1102.8,111.0 1099.6,112.1 1096.5,113.3 1093.3,114.4 1090.1,115.5 1086.9,116.5 1083.7,117.5 1080.5,118.6 1077.4,119.6 1074.2,120.6 1071.0,121.7 1067.8,122.7 1064.6,123.7 1061.4,124.7 1058.2,125.8 1055.1,126.9 1051.9,128.0 1048.7,129.2 1045.5,130.4 1042.3,131.6 1039.1,132.8 1035.9,134.1 1032.8,135.3 1029.6,136.6 1026.4,137.8 1023.2,139.1 1020.0,140.4 1016.8,141.6 1013.6,142.9 1010.5,144.1 1007.3,145.3 1004.1,146.5 1000.9,147.7 997.7,148.8 994.5,150.0 991.3,151.0 988.1,152.1 985.0,153.0 981.8,153.8 978.6,154.7 975.4,155.5 972.2,156.2 969.0,156.9 965.8,157.5 962.6,158.0 959.5,158.6 956.3,159.3 953.1,160.0 949.9,160.7 946.7,161.6 943.5,162.7 940.3,164.0 937.1,165.4 934.0,166.9 930.8,168.6" fill="#300000" fill-opacity="0.10"/>
<polygon points="957.1,169.3 960.2,168.6 963.4,167.8 966.6,167.1 969.8,166.4 973.0,165.8 976.2,165.2 979.4,164.3 982.6,163.5 985.7,162.6 988.9,161.7 992.1,160.8 995.3,159.8 998.5,158.7 1001.7,157.6 1004.9,156.4 1008.0,155.2 1011.2,154.0 1014.4,152.7 1017.6,151.5 1020.8,150.2 1024.0,149.0 1027.2,147.7 1030.3,146.4 1033.5,145.1 1036.7,143.9 1039.9,142.6 1043.1,141.3 1046.3,140.1 1049.5,138.8 1052.6,137.6 1055.8,136.4 1059.0,135.2 1062.2,134.1 1065.4,133.0 1068.6,131.9 1071.7,130.9 1074.9,129.8 1078.1,128.8 1081.3,127.7 1084.5,126.7 1087.7,125.7 1090.9,124.6 1094.0,123.6 1097.2,122.5 1100.4,121.4 1103.6,120.3 1106.8,119.2 1110.0,118.0 1113.1,116.8 1106.0,109.8 1102.8,111.0 1099.6,112.1 1096.5,113.3 1093.3,114.4 1090.1,115.5 1086.9,116.5 1083.7,117.5 1080.5,118.6 1077.4,119.6 1074.2,120.6 1071.0,121.7 1067.8,122.7 1064.6,123.7 1061.4,124.7 1058.2,125.8 1055.1,126.9 1051.9,128.0 1048.7,129.2 1045.5,130.4 1042.3,131.6 1039.1,132.8 1035.9,134.1 1032.8,135.3 1029.6,136.6 1026.4,137.8 1023.2,139.1 1020.0,140.4 1016.8,141.6 1013.6,142.9 1010.5,144.1 1007.3,145.3 1004.1,146.5 1000.9,147.7 997.7,148.8 994.5,150.0 991.3,151.0 988.1,152.1 985.0,153.0 981.8,153.8 978.6,154.7 975.4,155.5 972.2,156.2 969.0,156.9 965.8,157.5 962.6,158.0 959.5,158.6 956.3,159.3 953.1,160.0 949.9,160.7" fill="#300000" fill-opacity="0.06"/>
<polygon points="918.0,175.9 921.2,174.0 924.4,172.1 927.6,170.3 930.8,168.6 934.0,166.9 937.1,165.4 940.3,164.0 943.5,162.7 946.7,161.6 949.9,160.7 953.1,160.0 956.3,159.3 959.5,158.6 962.6,158.0 965.8,157.5 969.0,156.9 972.2,156.2 975.4,155.5 978.6,154.7 981.8,153.8 985.0,153.0 988.1,152.1 991.3,151.0 994.5,150.0 997.7,148.8 1000.9,147.7 1004.1,146.5 1007.3,145.3 1010.5,144.1 1013.6,142.9 1016.8,141.6 1020.0,140.4 1023.2,139.1 1026.4,137.8 1029.6,136.6 1032.8,135.3 1035.9,134.1 1039.1,132.8 1042.3,131.6 1045.5,130.4 1048.7,129.2 1051.9,128.0 1055.1,126.9 1058.2,125.8 1061.4,124.7 1064.6,123.7 1067.8,122.7 1071.0,121.7 1074.2,120.6 1077.4,119.6 1080.5,118.6 1083.7,117.5 1086.9,116.5 1090.1,115.5 1093.3,114.4 1096.5,113.3 1099.6,112.1 1102.8,111.0 1106.0,109.8 1100.1,103.9 1096.9,105.1 1093.7,106.3 1090.5,107.4 1087.3,108.5 1084.1,109.6 1081.0,110.6 1077.8,111.6 1074.6,112.6 1071.4,113.7 1068.2,114.7 1065.0,115.7 1061.8,116.7 1058.7,117.7 1055.5,118.8 1052.3,119.8 1049.1,120.9 1045.9,122.0 1042.7,123.2 1039.5,124.4 1036.4,125.6 1033.2,126.8 1030.0,128.0 1026.8,129.3 1023.6,130.5 1020.4,131.8 1017.2,133.0 1014.1,134.3 1010.9,135.5 1007.7,136.7 1004.5,138.0 1001.3,139.2 998.1,140.4 994.9,141.5 991.7,142.6 988.6,143.7 985.4,144.7 982.2,145.7 979.0,146.5 975.8,147.3 972.6,148.1 969.4,148.8 966.2,149.5 963.1,150.2 959.9,150.7 956.7,151.1 953.5,151.7 950.3,152.3 947.1,152.9 943.9,153.6 940.7,154.5 937.6,155.6 934.4,156.9 931.2,158.3 928.0,159.8 924.8,161.5 921.6,163.2 918.4,165.0 915.2,166.9 912.1,168.8" fill="#300000" fill-opacity="0.05"/>
<polygon points="949.9,160.7 953.1,160.0 956.3,159.3 959.5,158.6 962.6,158.0 965.8,157.5 969.0,156.9 972.2,156.2 975.4,155.5 978.6,154.7 981.8,153.8 985.0,153.0 988.1,152.1 991.3,151.0 994.5,150.0 997.7,148.8 1000.9,147.7 1004.1,146.5 1007.3,145.3 1010.5,144.1 1013.6,142.9 1016.8,141.6 1020.0,140.4 1023.2,139.1 1026.4,137.8 1029.6,136.6 1032.8,135.3 1035.9,134.1 1039.1,132.8 1042.3,131.6 1045.5,130.4 1048.7,129.2 1051.9,128.0 1055.1,126.9 1058.2,125.8 1061.4,124.7 1064.6,123.7 1067.8,122.7 1071.0,121.7 1074.2,120.6 1077.4,119.6 1080.5,118.6 1083.7,117.5 1086.9,116.5 1090.1,115.5 1093.3,114.4 1096.5,113.3 1099.6,112.1 1102.8,111.0 1106.0,109.8 1100.1,103.9 1096.9,105.1 1093.7,106.3 1090.5,107.4 1087.3,108.5 1084.1,109.6 1081.0,110.6 1077.8,111.6 1074.6,112.6 1071.4,113.7 1068.2,114.7 1065.0,115.7 1061.8,116.7 1058.7,117.7 1055.5,118.8 1052.3,119.8 1049.1,120.9 1045.9,122.0 1042.7,123.2 1039.5,124.4 1036.4,125.6 1033.2,126.8 1030.0,128.0 1026.8,129.3 1023.6,130.5 1020.4,131.8 1017.2,133.0 1014.1,134.3 1010.9,135.5 1007.7,136.7 1004.5,138.0 1001.3,139.2 998.1,140.4 994.9,141.5 991.7,142.6 988.6,143.7 985.4,144.7 982.2,145.7 979.0,146.5 975.8,147.3 972.6,148.1 969.4,148.8 966.2,149.5 963.1,150.2 959.9,150.7 956.7,151.1 953.5,151.7 950.3,152.3 947.1,152.9 943.9,153.6" fill="#300000" fill-opacity="0.06"/>
<polygon points="909.0,165.2 912.1,163.3 915.3,161.4 918.5,159.5 921.7,157.8 924.9,156.1 928.1,154.6 931.3,153.2 934.5,152.0 937.6,150.8 940.8,150.0 944.0,149.3 947.2,148.7 950.4,148.1 953.6,147.6 956.8,147.1 960.0,146.7 963.1,146.1 966.3,145.4 969.5,144.7 972.7,144.0 975.9,143.2 979.1,142.4 982.3,141.4 985.5,140.4 988.7,139.4 991.8,138.3 995.0,137.2 998.2,136.0 1001.4,134.8 1004.6,133.6 1007.8,132.3 1011.0,131.1 1014.1,129.9 1017.3,128.6 1020.5,127.4 1023.7,126.1 1026.9,124.9 1030.1,123.7 1033.3,122.4 1036.5,121.2 1039.6,120.0 1042.8,118.9 1046.0,117.8 1049.2,116.7 1052.4,115.7 1055.6,114.6 1058.8,113.6 1061.9,112.6 1065.1,111.6 1068.3,110.6 1071.5,109.6 1074.7,108.5 1077.9,107.5 1081.1,106.5 1084.2,105.4 1087.4,104.3 1090.6,103.2 1093.8,102.1 1097.0,100.9 1089.4,93.4 1086.2,94.5 1083.0,95.7 1079.8,96.8 1076.6,97.9 1073.5,98.9 1070.3,100.0 1067.1,101.0 1063.9,102.0 1060.7,103.0 1057.5,104.0 1054.3,105.0 1051.1,106.0 1048.0,107.0 1044.8,108.0 1041.6,109.1 1038.4,110.1 1035.2,111.2 1032.0,112.4 1028.8,113.6 1025.6,114.8 1022.5,116.0 1019.3,117.2 1016.1,118.4 1012.9,119.6 1009.7,120.9 1006.5,122.1 1003.3,123.3 1000.2,124.6 997.0,125.8 993.8,126.9 990.6,128.1 987.4,129.3 984.2,130.4 981.0,131.4 977.8,132.4 974.7,133.4 971.5,134.3 968.3,135.0 965.1,135.7 961.9,136.4 958.7,137.0 955.5,137.6 952.3,138.1 949.1,138.5 946.0,138.8 942.8,139.3 939.6,139.8 936.4,140.4 933.2,141.1 930.0,141.9 926.8,143.0 923.6,144.3 920.4,145.7 917.3,147.2 914.1,148.9 910.9,150.6 907.7,152.5 904.5,154.4 901.3,156.3" fill="#ffc080" fill-opacity="0.10"/>
<polygon points="940.8,150.0 944.0,149.3 947.2,148.7 950.4,148.1 953.6,147.6 956.8,147.1 960.0,146.7 963.1,146.1 966.3,145.4 969.5,144.7 972.7,144.0 975.9,143.2 979.1,142.4 982.3,141.4 985.5,140.4 988.7,139.4 991.8,138.3 995.0,137.2 998.2,136.0 1001.4,134.8 1004.6,133.6 1007.8,132.3 1011.0,131.1 1014.1,129.9 1017.3,128.6 1020.5,127.4 1023.7,126.1 1026.9,124.9 1030.1,123.7 1033.3,122.4 1036.5,121.2 1039.6,120.0 1042.8,118.9 1046.0,117.8 1049.2,116.7 1052.4,115.7 1055.6,114.6 1058.8,113.6 1061.9,112.6 1065.1,111.6 1068.3,110.6 1071.5,109.6 1074.7,108.5 1077.9,107.5 1081.1,106.5 1084.2,105.4 1087.4,104.3 1090.6,103.2 1093.8,102.1 1097.0,100.9 1089.4,93.4 1086.2,94.5 1083.0,95.7 1079.8,96.8 1076.6,97.9 1073.5,98.9 1070.3,100.0 1067.1,101.0 1063.9,102.0 1060.7,103.0 1057.5,104.0 1054.3,105.0 1051.1,106.0 1048.0,107.0 1044.8,108.0 1041.6,109.1 1038.4,110.1 1035.2,111.2 1032.0,112.4 1028.8,113.6 1025.6,114.8 1022.5,116.0 1019.3,117.2 1016.1,118.4 1012.9,119.6 1009.7,120.9 1006.5,122.1 1003.3,123.3 1000.2,124.6 997.0,125.8 993.8,126.9 990.6,128.1 987.4,129.3 984.2,130.4 981.0,131.4 977.8,132.4 974.7,133.4 971.5,134.3 968.3,135.0 965.1,135.7 961.9,136.4 958.7,137.0 955.5,137.6 952.3,138.1 949.1,138.5 946.0,138.8 942.8,139.3 939.6,139.8 936.4,140.4 933.2,141.1" fill="#ffc080" fill-opacity="0.14"/>
<path d="M921.7,171.7L913.4,161.9M959.9,165.8L946.5,150.1M973.3,164.0L964.8,154.3M972.6,158.8L963.1,148.1M979.6,162.4L969.1,150.6M979.0,153.0L964.7,137.3M988.5,159.0L977.2,146.7M991.2,157.5L982.4,148.0M992.8,154.8L980.7,141.9M998.1,156.0L989.4,146.8M995.3,148.5L984.8,137.5M1002.9,147.5L991.8,136.0M1009.6,145.5L1000.1,135.7M1019.6,142.2L1012.1,134.5M1020.9,139.0L1013.2,131.1M1030.2,144.0L1014.3,127.7M1030.4,139.6L1020.6,129.6M1038.1,138.6L1022.8,123.0M1043.2,139.2L1032.2,128.0M1043.9,135.5L1032.3,123.7M1044.2,131.3L1035.6,122.6" fill="none" stroke="#e8c060" stroke-opacity="0.75" stroke-width="0.55"/>
<path d="M927.5,167.4L916.3,154.3M935.1,171.0L924.8,158.8M946.6,168.9L937.9,158.6M947.2,159.8L932.8,142.8" fill="none" stroke="#f0d830" stroke-opacity="0.90" stroke-width="0.60"/>
<path d="M1051.5,134.3L1043.4,126.0M1055.8,134.2L1045.4,123.6M1056.3,130.3L1045.3,119.2M1057.8,127.5L1044.5,114.2M1059.5,124.9L1047.2,112.6M1068.1,129.3L1058.2,119.4M1076.5,125.1L1061.7,110.2M1077.5,121.8L1061.4,105.8M1079.9,120.1L1066.9,107.1M1084.9,120.8L1072.1,108.1M1084.7,116.4L1073.9,105.7M1093.2,120.6L1082.7,110.2M1095.0,118.2L1086.9,110.1M1096.4,115.3L1082.2,101.3M1098.4,113.1L1087.8,102.6M1106.8,117.0L1095.4,105.7M1108.0,114.0L1100.2,106.2" fill="none" stroke="#f4d8a0" stroke-opacity="0.75" stroke-width="0.55"/>
<path d="M800.8,297.0L776.9,273.1M804.0,292.8L780.1,268.9M807.2,288.7L783.3,264.8M810.4,284.7L786.5,260.8M813.6,280.7L789.7,256.9M816.8,276.9L792.9,253.0M820.0,273.2L796.1,249.3M823.1,269.6L799.2,245.6M826.3,266.1L802.4,242.0M829.5,262.6L805.6,238.5M832.7,259.3L808.8,235.0M835.9,256.0L812.0,231.7M839.1,252.8L815.2,228.4M842.3,249.7L818.4,225.1M845.5,246.6L821.6,221.8M848.7,243.4L824.8,218.6M851.9,240.4L828.0,215.3M855.1,237.3L831.2,212.1M858.2,234.3L834.3,208.9M861.4,231.3L837.5,205.8M864.6,228.5L840.7,202.8M867.8,225.7L843.9,199.9M871.0,223.0L847.1,197.1M874.2,220.3L850.3,194.3M877.4,217.7L853.5,191.5M880.6,215.0L856.7,188.7M883.8,212.4L859.9,185.8M886.9,209.8L863.1,183.0M890.1,207.3L866.2,180.2" fill="none" stroke="#000" stroke-opacity="0.50" stroke-width="0.35"/>
<path d="M893.3,204.8L869.4,177.5M896.5,202.5L872.6,175.0M899.7,200.3L875.8,172.7M902.9,198.2L879.0,170.4M906.1,196.2L882.2,168.2M909.3,194.2L885.4,166.1M912.4,192.2L888.6,164.0M915.6,190.3L891.8,162.0M918.8,188.4L894.9,160.1M922.0,186.4L898.1,158.2M925.2,184.5L901.3,156.3M928.4,182.6L904.5,154.4" fill="none" stroke="#000" stroke-opacity="0.60" stroke-width="0.45"/>
<path d="M931.6,180.7L907.7,152.5M934.7,178.9L910.9,150.6M937.9,177.2L914.1,148.9M941.1,175.6L917.3,147.2M944.3,174.1L920.4,145.7M947.5,172.7L923.6,144.3M950.7,171.4L926.8,143.0M953.9,170.3L930.0,141.9M957.1,169.3L933.2,141.1M960.2,168.6L936.4,140.4M963.4,167.8L939.6,139.8M966.6,167.1L942.8,139.3M969.8,166.4L946.0,138.8M973.0,165.8L949.1,138.5M976.2,165.2L952.3,138.1M979.4,164.3L955.5,137.6M982.6,163.5L958.7,137.0M985.7,162.6L961.9,136.4M988.9,161.7L965.1,135.7M992.1,160.8L968.3,135.0M995.3,159.8L971.5,134.3M998.5,158.7L974.7,133.4M1001.7,157.6L977.8,132.4M1004.9,156.4L981.0,131.4M1008.0,155.2L984.2,130.4M1011.2,154.0L987.4,129.3M1014.4,152.7L990.6,128.1M1017.6,151.5L993.8,126.9M1020.8,150.2L997.0,125.8M1024.0,149.0L1000.2,124.6M1027.2,147.7L1003.3,123.3M1030.3,146.4L1006.5,122.1M1033.5,145.1L1009.7,120.9M1036.7,143.9L1012.9,119.6M1039.9,142.6L1016.1,118.4M1043.1,141.3L1019.3,117.2M1046.3,140.1L1022.5,116.0M1049.5,138.8L1025.6,114.8M1052.6,137.6L1028.8,113.6M1055.8,136.4L1032.0,112.4M1059.0,135.2L1035.2,111.2M1062.2,134.1L1038.4,110.1M1065.4,133.0L1041.6,109.1M1068.6,131.9L1044.8,108.0M1071.7,130.9L1048.0,107.0M1074.9,129.8L1051.1,106.0M1078.1,128.8L1054.3,105.0M1081.3,127.7L1057.5,104.0M1084.5,126.7L1060.7,103.0M1087.7,125.7L1063.9,102.0M1090.9,124.6L1067.1,101.0M1094.0,123.6L1070.3,100.0M1097.2,122.5L1073.5,98.9M1100.4,121.4L1076.6,97.9M1103.6,120.3L1079.8,96.8M1106.8,119.2L1083.0,95.7M1110.0,118.0L1086.2,94.5M1113.1,116.8L1089.4,93.4" fill="none" stroke="#000" stroke-opacity="0.60" stroke-width="0.50"/>
<path d="M948.7,159.3L933.7,141.6" fill="none" stroke="#000" stroke-opacity="0.80" stroke-width="1.00"/>
<path d="M776.9,273.1L780.1,268.9L783.3,264.8L786.5,260.8L789.7,256.9L792.9,253.0L796.1,249.3L799.2,245.6L802.4,242.0L805.6,238.5L808.8,235.0L812.0,231.7L815.2,228.4L818.4,225.1L821.6,221.8L824.8,218.6L828.0,215.3L831.2,212.1L834.3,208.9L837.5,205.8L840.7,202.8L843.9,199.9L847.1,197.1L850.3,194.3L853.5,191.5L856.7,188.7L859.9,185.8L863.1,183.0L866.2,180.2L869.4,177.5L872.6,175.0L875.8,172.7L879.0,170.4L882.2,168.2L885.4,166.1L888.6,164.0L891.8,162.0L894.9,160.1L898.1,158.2L901.3,156.3L904.5,154.4L907.7,152.5L910.9,150.6L914.1,148.9L917.3,147.2L920.4,145.7L923.6,144.3L926.8,143.0L930.0,141.9L933.2,141.1L936.4,140.4L939.6,139.8L942.8,139.3L946.0,138.8L949.1,138.5L952.3,138.1L955.5,137.6L958.7,137.0L961.9,136.4L965.1,135.7L968.3,135.0L971.5,134.3L974.7,133.4L977.8,132.4L981.0,131.4L984.2,130.4L987.4,129.3L990.6,128.1L993.8,126.9L997.0,125.8L1000.2,124.6L1003.3,123.3L1006.5,122.1L1009.7,120.9L1012.9,119.6L1016.1,118.4L1019.3,117.2L1022.5,116.0L1025.6,114.8L1028.8,113.6L1032.0,112.4L1035.2,111.2L1038.4,110.1L1041.6,109.1L1044.8,108.0L1048.0,107.0L1051.1,106.0L1054.3,105.0L1057.5,104.0L1060.7,103.0L1063.9,102.0L1067.1,101.0L1070.3,100.0L1073.5,98.9L1076.6,97.9L1079.8,96.8L1083.0,95.7L1086.2,94.5L1089.4,93.4" fill="none" stroke="#000" stroke-opacity="0.65" stroke-width="0.45"/>
<path d="M800.8,297.0L804.0,292.8L807.2,288.7L810.4,284.7L813.6,280.7L816.8,276.9L820.0,273.2L823.1,269.6L826.3,266.1L829.5,262.6L832.7,259.3L835.9,256.0L839.1,252.8L842.3,249.7L845.5,246.6L848.7,243.4L851.9,240.4L855.1,237.3L858.2,234.3L861.4,231.3L864.6,228.5L867.8,225.7L871.0,223.0L874.2,220.3L877.4,217.7L880.6,215.0L883.8,212.4L886.9,209.8L890.1,207.3L893.3,204.8L896.5,202.5L899.7,200.3L902.9,198.2L906.1,196.2L909.3,194.2L912.4,192.2L915.6,190.3L918.8,188.4L922.0,186.4L925.2,184.5L928.4,182.6L931.6,180.7L934.7,178.9L937.9,177.2L941.1,175.6L944.3,174.1L947.5,172.7L950.7,171.4L953.9,170.3L957.1,169.3L960.2,168.6L963.4,167.8L966.6,167.1L969.8,166.4L973.0,165.8L976.2,165.2L979.4,164.3L982.6,163.5L985.7,162.6L988.9,161.7L992.1,160.8L995.3,159.8L998.5,158.7L1001.7,157.6L1004.9,156.4L1008.0,155.2L1011.2,154.0L1014.4,152.7L1017.6,151.5L1020.8,150.2L1024.0,149.0L1027.2,147.7L1030.3,146.4L1033.5,145.1L1036.7,143.9L1039.9,142.6L1043.1,141.3L1046.3,140.1L1049.5,138.8L1052.6,137.6L1055.8,136.4L1059.0,135.2L1062.2,134.1L1065.4,133.0L1068.6,131.9L1071.7,130.9L1074.9,129.8L1078.1,128.8L1081.3,127.7L1084.5,126.7L1087.7,125.7L1090.9,124.6L1094.0,123.6L1097.2,122.5L1100.4,121.4L1103.6,120.3L1106.8,119.2L1110.0,118.0L1113.1,116.8" fill="none" stroke="#000" stroke-opacity="0.65" stroke-width="0.45"/>
<g fill="currentColor" stroke="currentColor" stroke-width=".7" stroke-linejoin="round">
<polygon points="824.7,320.9 827.9,316.7 804.0,292.8 800.8,297.0" color="#0d0303"/>
<polygon points="827.9,316.7 831.1,312.6 807.2,288.7 804.0,292.8" color="#110404"/>
<polygon points="831.1,312.6 834.3,308.6 810.4,284.7 807.2,288.7" color="#150405"/>
<polygon points="834.3,308.6 837.5,304.8 813.6,280.7 810.4,284.7" color="#190506"/>
<polygon points="837.5,304.8 840.7,301.0 816.8,276.9 813.6,280.7" color="#1f0607"/>
<polygon points="840.7,301.0 843.9,297.4 820.0,273.2 816.8,276.9" color="#260708"/>
<polygon points="843.9,297.4 847.1,293.9 823.1,269.6 820.0,273.2" color="#2e0809"/>
<polygon points="847.1,293.9 850.2,290.6 826.3,266.1 823.1,269.6" color="#35090b"/>
<polygon points="850.2,290.6 853.4,287.3 829.5,262.6 826.3,266.1" color="#3c0a0c"/>
<polygon points="853.4,287.3 856.6,284.2 832.7,259.3 829.5,262.6" color="#440b0d"/>
<polygon points="856.6,284.2 859.8,281.1 835.9,256.0 832.7,259.3" color="#4c0c0e"/>
<polygon points="859.8,281.1 863.0,278.1 839.1,252.8 835.9,256.0" color="#550d0f"/>
<polygon points="863.0,278.1 866.2,275.2 842.3,249.7 839.1,252.8" color="#5d0e10"/>
<polygon points="866.2,275.2 869.4,272.3 845.5,246.6 842.3,249.7" color="#650f11"/>
<polygon points="869.4,272.3 872.6,269.5 848.7,243.4 845.5,246.6" color="#6d1012"/>
<polygon points="872.6,269.5 875.8,266.7 851.9,240.4 848.7,243.4" color="#741113"/>
<polygon points="875.8,266.7 879.0,264.0 855.1,237.3 851.9,240.4" color="#7a1214"/>
<polygon points="879.0,264.0 882.1,261.3 858.2,234.3 855.1,237.3" color="#801214"/>
<polygon points="882.1,261.3 885.3,258.7 861.4,231.3 858.2,234.3" color="#861315"/>
<polygon points="885.3,258.7 888.5,256.1 864.6,228.5 861.4,231.3" color="#8c1416"/>
<polygon points="888.5,256.1 891.7,253.5 867.8,225.7 864.6,228.5" color="#921416"/>
<polygon points="891.7,253.5 894.9,251.1 871.0,223.0 867.8,225.7" color="#981517"/>
<polygon points="894.9,251.1 898.1,248.7 874.2,220.3 871.0,223.0" color="#9d1517"/>
<polygon points="898.1,248.7 901.3,246.3 877.4,217.7 874.2,220.3" color="#a21617"/>
<polygon points="901.3,246.3 904.5,244.1 880.6,215.0 877.4,217.7" color="#a71617"/>
<polygon points="904.5,244.1 907.6,241.9 883.8,212.4 880.6,215.0" color="#ac1718"/>
<polygon points="907.6,241.9 910.8,239.7 886.9,209.8 883.8,212.4" color="#b11718"/>
<polygon points="910.8,239.7 914.0,237.7 890.1,207.3 886.9,209.8" color="#b61818"/>
<polygon points="914.0,237.7 917.2,235.7 893.3,204.8 890.1,207.3" color="#ba1919"/>
<polygon points="917.2,235.7 920.4,233.7 896.5,202.5 893.3,204.8" color="#be1919"/>
<polygon points="920.4,233.7 923.6,231.8 899.7,200.3 896.5,202.5" color="#c21a1a"/>
<polygon points="923.6,231.8 926.8,230.1 902.9,198.2 899.7,200.3" color="#c61a1a"/>
<polygon points="926.8,230.1 930.0,228.3 906.1,196.2 902.9,198.2" color="#ca1b1b"/>
<polygon points="930.0,228.3 933.1,226.6 909.3,194.2 906.1,196.2" color="#cd1b1b"/>
<polygon points="933.1,226.6 936.3,224.8 912.4,192.2 909.3,194.2" color="#d11c1c"/>
<polygon points="936.3,224.8 939.5,223.0 915.6,190.3 912.4,192.2" color="#d51c1c"/>
<polygon points="939.5,223.0 942.7,221.1 918.8,188.4 915.6,190.3" color="#d81c1c"/>
<polygon points="942.7,221.1 945.9,219.1 922.0,186.4 918.8,188.4" color="#db1d1d"/>
<polygon points="945.9,219.1 949.1,217.1 925.2,184.5 922.0,186.4" color="#dc1e1d"/>
<polygon points="949.1,217.1 952.3,215.2 928.4,182.6 925.2,184.5" color="#de1e1e"/>
<polygon points="952.3,215.2 955.4,213.4 931.6,180.7 928.4,182.6" color="#e01f1e"/>
<polygon points="955.4,213.4 958.6,211.7 934.7,178.9 931.6,180.7" color="#e2201f"/>
<polygon points="958.6,211.7 961.8,210.1 937.9,177.2 934.7,178.9" color="#e4201f"/>
<polygon points="961.8,210.1 965.0,208.6 941.1,175.6 937.9,177.2" color="#e5211f"/>
<polygon points="965.0,208.6 968.2,207.1 944.3,174.1 941.1,175.6" color="#e72220"/>
<polygon points="968.2,207.1 971.4,205.7 947.5,172.7 944.3,174.1" color="#e82220"/>
<polygon points="971.4,205.7 974.6,204.4 950.7,171.4 947.5,172.7" color="#e92320"/>
<polygon points="974.6,204.4 977.7,203.2 953.9,170.3 950.7,171.4" color="#ea2320"/>
<polygon points="977.7,203.2 980.9,202.1 957.1,169.3 953.9,170.3" color="#ea2420"/>
<polygon points="980.9,202.1 984.1,201.0 960.2,168.6 957.1,169.3" color="#eb2420"/>
<polygon points="984.1,201.0 987.3,200.0 963.4,167.8 960.2,168.6" color="#eb2520"/>
<polygon points="987.3,200.0 990.5,199.0 966.6,167.1 963.4,167.8" color="#ec2520"/>
<polygon points="990.5,199.0 993.7,197.9 969.8,166.4 966.6,167.1" color="#ed2620"/>
<polygon points="993.7,197.9 996.9,196.7 973.0,165.8 969.8,166.4" color="#ed2620"/>
<polygon points="996.9,196.7 1000.0,195.5 976.2,165.2 973.0,165.8" color="#ee2720"/>
<polygon points="1000.0,195.5 1003.2,194.2 979.4,164.3 976.2,165.2" color="#ee2720"/>
<polygon points="1003.2,194.2 1006.4,192.8 982.6,163.5 979.4,164.3" color="#ee2820"/>
<polygon points="1006.4,192.8 1009.6,191.5 985.7,162.6 982.6,163.5" color="#ee281f"/>
<polygon points="1009.6,191.5 1012.8,190.1 988.9,161.7 985.7,162.6" color="#ee291f"/>
<polygon points="1012.8,190.1 1016.0,188.6 992.1,160.8 988.9,161.7" color="#ef291f"/>
<polygon points="1016.0,188.6 1019.1,187.2 995.3,159.8 992.1,160.8" color="#ef2a1f"/>
<polygon points="1019.1,187.2 1022.3,185.7 998.5,158.7 995.3,159.8" color="#ef2b1f"/>
<polygon points="1022.3,185.7 1025.5,184.2 1001.7,157.6 998.5,158.7" color="#ef2b1f"/>
<polygon points="1025.5,184.2 1028.7,182.7 1004.9,156.4 1001.7,157.6" color="#ef2c1f"/>
<polygon points="1028.7,182.7 1031.9,181.2 1008.0,155.2 1004.9,156.4" color="#ef2c1f"/>
<polygon points="1031.9,181.2 1035.1,179.8 1011.2,154.0 1008.0,155.2" color="#f02d1f"/>
<polygon points="1035.1,179.8 1038.2,178.4 1014.4,152.7 1011.2,154.0" color="#f02e1e"/>
<polygon points="1038.2,178.4 1041.4,177.0 1017.6,151.5 1014.4,152.7" color="#f02e1e"/>
<polygon points="1041.4,177.0 1044.6,175.6 1020.8,150.2 1017.6,151.5" color="#f02f1e"/>
<polygon points="1044.6,175.6 1047.8,174.3 1024.0,149.0 1020.8,150.2" color="#f0301e"/>
<polygon points="1047.8,174.3 1051.0,172.9 1027.2,147.7 1024.0,149.0" color="#f1311e"/>
<polygon points="1051.0,172.9 1054.2,171.5 1030.3,146.4 1027.2,147.7" color="#f1321e"/>
<polygon points="1054.2,171.5 1057.3,170.1 1033.5,145.1 1030.3,146.4" color="#f2331e"/>
<polygon points="1057.3,170.1 1060.5,168.8 1036.7,143.9 1033.5,145.1" color="#f2341e"/>
<polygon points="1060.5,168.8 1063.7,167.4 1039.9,142.6 1036.7,143.9" color="#f2351e"/>
<polygon points="1063.7,167.4 1066.9,166.1 1043.1,141.3 1039.9,142.6" color="#f3361e"/>
<polygon points="1066.9,166.1 1070.1,164.8 1046.3,140.1 1043.1,141.3" color="#f3371e"/>
<polygon points="1070.1,164.8 1073.3,163.5 1049.5,138.8 1046.3,140.1" color="#f3381e"/>
<polygon points="1073.3,163.5 1076.4,162.2 1052.6,137.6 1049.5,138.8" color="#f4391e"/>
<polygon points="1076.4,162.2 1079.6,160.9 1055.8,136.4 1052.6,137.6" color="#f4391e"/>
<polygon points="1079.6,160.9 1082.8,159.6 1059.0,135.2 1055.8,136.4" color="#f53a1e"/>
<polygon points="1082.8,159.6 1086.0,158.4 1062.2,134.1 1059.0,135.2" color="#f53b1e"/>
<polygon points="1086.0,158.4 1089.2,157.2 1065.4,133.0 1062.2,134.1" color="#f53c1e"/>
<polygon points="1089.2,157.2 1092.4,156.1 1068.6,131.9 1065.4,133.0" color="#f63d1e"/>
<polygon points="1092.4,156.1 1095.5,155.0 1071.7,130.9 1068.6,131.9" color="#f63e1e"/>
<polygon points="1095.5,155.0 1098.7,153.9 1074.9,129.8 1071.7,130.9" color="#f63f1e"/>
<polygon points="1098.7,153.9 1101.9,152.8 1078.1,128.8 1074.9,129.8" color="#f6401e"/>
<polygon points="1101.9,152.8 1105.1,151.7 1081.3,127.7 1078.1,128.8" color="#f6401d"/>
<polygon points="1105.1,151.7 1108.3,150.6 1084.5,126.7 1081.3,127.7" color="#f6411d"/>
<polygon points="1108.3,150.6 1111.4,149.5 1087.7,125.7 1084.5,126.7" color="#f7421d"/>
<polygon points="1111.4,149.5 1114.6,148.4 1090.9,124.6 1087.7,125.7" color="#f7421d"/>
<polygon points="1114.6,148.4 1117.8,147.3 1094.0,123.6 1090.9,124.6" color="#f7431d"/>
<polygon points="1117.8,147.3 1121.0,146.2 1097.2,122.5 1094.0,123.6" color="#f7441d"/>
<polygon points="1121.0,146.2 1124.2,145.1 1100.4,121.4 1097.2,122.5" color="#f7441d"/>
<polygon points="1124.2,145.1 1127.4,143.9 1103.6,120.3 1100.4,121.4" color="#f7451d"/>
<polygon points="1127.4,143.9 1130.5,142.7 1106.8,119.2 1103.6,120.3" color="#f7461c"/>
<polygon points="1130.5,142.7 1133.7,141.5 1110.0,118.0 1106.8,119.2" color="#f8461c"/>
<polygon points="1133.7,141.5 1136.9,140.2 1113.1,116.8 1110.0,118.0" color="#f8471c"/>
</g>
<polygon points="936.3,224.8 939.5,223.0 942.7,221.1 945.9,219.1 949.1,217.1 952.3,215.2 955.4,213.4 958.6,211.7 961.8,210.1 965.0,208.6 968.2,207.1 971.4,205.7 974.6,204.4 977.7,203.2 980.9,202.1 984.1,201.0 987.3,200.0 990.5,199.0 993.7,197.9 996.9,196.7 1000.0,195.5 1003.2,194.2 1006.4,192.8 1009.6,191.5 1012.8,190.1 1016.0,188.6 1019.1,187.2 1022.3,185.7 1025.5,184.2 1028.7,182.7 1031.9,181.2 1035.1,179.8 1038.2,178.4 1041.4,177.0 1044.6,175.6 1047.8,174.3 1051.0,172.9 1054.2,171.5 1057.3,170.1 1060.5,168.8 1063.7,167.4 1066.9,166.1 1070.1,164.8 1073.3,163.5 1076.4,162.2 1079.6,160.9 1082.8,159.6 1086.0,158.4 1089.2,157.2 1092.4,156.1 1095.5,155.0 1098.7,153.9 1101.9,152.8 1105.1,151.7 1108.3,150.6 1111.4,149.5 1114.6,148.4 1117.8,147.3 1121.0,146.2 1124.2,145.1 1127.4,143.9 1130.5,142.7 1133.7,141.5 1136.9,140.2 1129.8,133.2 1126.6,134.4 1123.4,135.6 1120.2,136.8 1117.0,138.0 1113.9,139.1 1110.7,140.2 1107.5,141.2 1104.3,142.3 1101.1,143.4 1097.9,144.4 1094.8,145.5 1091.6,146.6 1088.4,147.6 1085.2,148.7 1082.0,149.8 1078.8,151.0 1075.7,152.1 1072.5,153.4 1069.3,154.6 1066.1,155.9 1062.9,157.2 1059.7,158.4 1056.6,159.7 1053.4,161.0 1050.2,162.4 1047.0,163.7 1043.8,165.0 1040.6,166.3 1037.5,167.7 1034.3,169.0 1031.1,170.3 1027.9,171.6 1024.7,172.9 1021.5,174.3 1018.4,175.6 1015.2,176.9 1012.0,178.2 1008.8,179.5 1005.6,180.7 1002.4,181.8 999.2,183.0 996.1,184.1 992.9,185.1 989.7,186.1 986.5,187.0 983.3,187.9 980.1,188.8 976.9,189.6 973.8,190.5 970.6,191.6 967.4,192.7 964.2,194.0 961.0,195.4 957.8,196.9 954.6,198.5 951.5,200.1 948.3,201.9 945.1,203.7 941.9,205.6 938.7,207.6 935.5,209.6 932.3,211.5 929.2,213.4" fill="#300000" fill-opacity="0.09"/>
<polygon points="961.8,210.1 965.0,208.6 968.2,207.1 971.4,205.7 974.6,204.4 977.7,203.2 980.9,202.1 984.1,201.0 987.3,200.0 990.5,199.0 993.7,197.9 996.9,196.7 1000.0,195.5 1003.2,194.2 1006.4,192.8 1009.6,191.5 1012.8,190.1 1016.0,188.6 1019.1,187.2 1022.3,185.7 1025.5,184.2 1028.7,182.7 1031.9,181.2 1035.1,179.8 1038.2,178.4 1041.4,177.0 1044.6,175.6 1047.8,174.3 1051.0,172.9 1054.2,171.5 1057.3,170.1 1060.5,168.8 1063.7,167.4 1066.9,166.1 1070.1,164.8 1073.3,163.5 1076.4,162.2 1079.6,160.9 1082.8,159.6 1086.0,158.4 1089.2,157.2 1092.4,156.1 1095.5,155.0 1098.7,153.9 1101.9,152.8 1105.1,151.7 1108.3,150.6 1111.4,149.5 1114.6,148.4 1117.8,147.3 1121.0,146.2 1124.2,145.1 1127.4,143.9 1130.5,142.7 1133.7,141.5 1136.9,140.2 1129.8,133.2 1126.6,134.4 1123.4,135.6 1120.2,136.8 1117.0,138.0 1113.9,139.1 1110.7,140.2 1107.5,141.2 1104.3,142.3 1101.1,143.4 1097.9,144.4 1094.8,145.5 1091.6,146.6 1088.4,147.6 1085.2,148.7 1082.0,149.8 1078.8,151.0 1075.7,152.1 1072.5,153.4 1069.3,154.6 1066.1,155.9 1062.9,157.2 1059.7,158.4 1056.6,159.7 1053.4,161.0 1050.2,162.4 1047.0,163.7 1043.8,165.0 1040.6,166.3 1037.5,167.7 1034.3,169.0 1031.1,170.3 1027.9,171.6 1024.7,172.9 1021.5,174.3 1018.4,175.6 1015.2,176.9 1012.0,178.2 1008.8,179.5 1005.6,180.7 1002.4,181.8 999.2,183.0 996.1,184.1 992.9,185.1 989.7,186.1 986.5,187.0 983.3,187.9 980.1,188.8 976.9,189.6 973.8,190.5 970.6,191.6 967.4,192.7 964.2,194.0 961.0,195.4 957.8,196.9 954.6,198.5" fill="#300000" fill-opacity="0.10"/>
<polygon points="980.9,202.1 984.1,201.0 987.3,200.0 990.5,199.0 993.7,197.9 996.9,196.7 1000.0,195.5 1003.2,194.2 1006.4,192.8 1009.6,191.5 1012.8,190.1 1016.0,188.6 1019.1,187.2 1022.3,185.7 1025.5,184.2 1028.7,182.7 1031.9,181.2 1035.1,179.8 1038.2,178.4 1041.4,177.0 1044.6,175.6 1047.8,174.3 1051.0,172.9 1054.2,171.5 1057.3,170.1 1060.5,168.8 1063.7,167.4 1066.9,166.1 1070.1,164.8 1073.3,163.5 1076.4,162.2 1079.6,160.9 1082.8,159.6 1086.0,158.4 1089.2,157.2 1092.4,156.1 1095.5,155.0 1098.7,153.9 1101.9,152.8 1105.1,151.7 1108.3,150.6 1111.4,149.5 1114.6,148.4 1117.8,147.3 1121.0,146.2 1124.2,145.1 1127.4,143.9 1130.5,142.7 1133.7,141.5 1136.9,140.2 1129.8,133.2 1126.6,134.4 1123.4,135.6 1120.2,136.8 1117.0,138.0 1113.9,139.1 1110.7,140.2 1107.5,141.2 1104.3,142.3 1101.1,143.4 1097.9,144.4 1094.8,145.5 1091.6,146.6 1088.4,147.6 1085.2,148.7 1082.0,149.8 1078.8,151.0 1075.7,152.1 1072.5,153.4 1069.3,154.6 1066.1,155.9 1062.9,157.2 1059.7,158.4 1056.6,159.7 1053.4,161.0 1050.2,162.4 1047.0,163.7 1043.8,165.0 1040.6,166.3 1037.5,167.7 1034.3,169.0 1031.1,170.3 1027.9,171.6 1024.7,172.9 1021.5,174.3 1018.4,175.6 1015.2,176.9 1012.0,178.2 1008.8,179.5 1005.6,180.7 1002.4,181.8 999.2,183.0 996.1,184.1 992.9,185.1 989.7,186.1 986.5,187.0 983.3,187.9 980.1,188.8 976.9,189.6 973.8,190.5" fill="#300000" fill-opacity="0.06"/>
<polygon points="941.9,205.6 945.1,203.7 948.3,201.9 951.5,200.1 954.6,198.5 957.8,196.9 961.0,195.4 964.2,194.0 967.4,192.7 970.6,191.6 973.8,190.5 976.9,189.6 980.1,188.8 983.3,187.9 986.5,187.0 989.7,186.1 992.9,185.1 996.1,184.1 999.2,183.0 1002.4,181.8 1005.6,180.7 1008.8,179.5 1012.0,178.2 1015.2,176.9 1018.4,175.6 1021.5,174.3 1024.7,172.9 1027.9,171.6 1031.1,170.3 1034.3,169.0 1037.5,167.7 1040.6,166.3 1043.8,165.0 1047.0,163.7 1050.2,162.4 1053.4,161.0 1056.6,159.7 1059.7,158.4 1062.9,157.2 1066.1,155.9 1069.3,154.6 1072.5,153.4 1075.7,152.1 1078.8,151.0 1082.0,149.8 1085.2,148.7 1088.4,147.6 1091.6,146.6 1094.8,145.5 1097.9,144.4 1101.1,143.4 1104.3,142.3 1107.5,141.2 1110.7,140.2 1113.9,139.1 1117.0,138.0 1120.2,136.8 1123.4,135.6 1126.6,134.4 1129.8,133.2 1123.8,127.4 1120.7,128.6 1117.5,129.8 1114.3,130.9 1111.1,132.1 1107.9,133.2 1104.7,134.2 1101.6,135.3 1098.4,136.4 1095.2,137.4 1092.0,138.5 1088.8,139.5 1085.6,140.6 1082.4,141.6 1079.3,142.7 1076.1,143.8 1072.9,144.9 1069.7,146.1 1066.5,147.3 1063.3,148.5 1060.2,149.8 1057.0,151.0 1053.8,152.3 1050.6,153.6 1047.4,154.9 1044.2,156.2 1041.1,157.5 1037.9,158.8 1034.7,160.1 1031.5,161.4 1028.3,162.7 1025.1,164.0 1022.0,165.3 1018.8,166.5 1015.6,167.8 1012.4,169.1 1009.2,170.3 1006.0,171.5 1002.8,172.7 999.7,173.8 996.5,174.8 993.3,175.8 990.1,176.8 986.9,177.8 983.7,178.6 980.5,179.4 977.4,180.2 974.2,181.0 971.0,181.8 967.8,182.7 964.6,183.7 961.4,184.8 958.2,186.1 955.0,187.5 951.9,189.0 948.7,190.6 945.5,192.3 942.3,194.0 939.1,195.9 935.9,197.8" fill="#300000" fill-opacity="0.05"/>
<polygon points="973.8,190.5 976.9,189.6 980.1,188.8 983.3,187.9 986.5,187.0 989.7,186.1 992.9,185.1 996.1,184.1 999.2,183.0 1002.4,181.8 1005.6,180.7 1008.8,179.5 1012.0,178.2 1015.2,176.9 1018.4,175.6 1021.5,174.3 1024.7,172.9 1027.9,171.6 1031.1,170.3 1034.3,169.0 1037.5,167.7 1040.6,166.3 1043.8,165.0 1047.0,163.7 1050.2,162.4 1053.4,161.0 1056.6,159.7 1059.7,158.4 1062.9,157.2 1066.1,155.9 1069.3,154.6 1072.5,153.4 1075.7,152.1 1078.8,151.0 1082.0,149.8 1085.2,148.7 1088.4,147.6 1091.6,146.6 1094.8,145.5 1097.9,144.4 1101.1,143.4 1104.3,142.3 1107.5,141.2 1110.7,140.2 1113.9,139.1 1117.0,138.0 1120.2,136.8 1123.4,135.6 1126.6,134.4 1129.8,133.2 1123.8,127.4 1120.7,128.6 1117.5,129.8 1114.3,130.9 1111.1,132.1 1107.9,133.2 1104.7,134.2 1101.6,135.3 1098.4,136.4 1095.2,137.4 1092.0,138.5 1088.8,139.5 1085.6,140.6 1082.4,141.6 1079.3,142.7 1076.1,143.8 1072.9,144.9 1069.7,146.1 1066.5,147.3 1063.3,148.5 1060.2,149.8 1057.0,151.0 1053.8,152.3 1050.6,153.6 1047.4,154.9 1044.2,156.2 1041.1,157.5 1037.9,158.8 1034.7,160.1 1031.5,161.4 1028.3,162.7 1025.1,164.0 1022.0,165.3 1018.8,166.5 1015.6,167.8 1012.4,169.1 1009.2,170.3 1006.0,171.5 1002.8,172.7 999.7,173.8 996.5,174.8 993.3,175.8 990.1,176.8 986.9,177.8 983.7,178.6 980.5,179.4 977.4,180.2 974.2,181.0 971.0,181.8 967.8,182.7" fill="#300000" fill-opacity="0.06"/>
<polygon points="932.8,193.9 936.0,192.0 939.2,190.1 942.4,188.3 945.6,186.7 948.8,185.1 951.9,183.6 955.1,182.2 958.3,180.9 961.5,179.7 964.7,178.8 967.9,177.9 971.1,177.2 974.2,176.4 977.4,175.6 980.6,174.9 983.8,174.1 987.0,173.2 990.2,172.2 993.4,171.2 996.6,170.2 999.7,169.2 1002.9,168.1 1006.1,166.9 1009.3,165.7 1012.5,164.5 1015.7,163.2 1018.9,162.0 1022.0,160.7 1025.2,159.4 1028.4,158.2 1031.6,156.9 1034.8,155.6 1038.0,154.3 1041.1,153.0 1044.3,151.7 1047.5,150.4 1050.7,149.1 1053.9,147.9 1057.1,146.6 1060.3,145.3 1063.4,144.1 1066.6,142.9 1069.8,141.8 1073.0,140.7 1076.2,139.6 1079.4,138.5 1082.5,137.5 1085.7,136.4 1088.9,135.4 1092.1,134.3 1095.3,133.3 1098.5,132.2 1101.6,131.2 1104.8,130.1 1108.0,129.0 1111.2,127.9 1114.4,126.7 1117.6,125.5 1120.7,124.3 1113.1,116.8 1110.0,118.0 1106.8,119.2 1103.6,120.3 1100.4,121.4 1097.2,122.5 1094.0,123.6 1090.9,124.6 1087.7,125.7 1084.5,126.7 1081.3,127.7 1078.1,128.8 1074.9,129.8 1071.7,130.9 1068.6,131.9 1065.4,133.0 1062.2,134.1 1059.0,135.2 1055.8,136.4 1052.6,137.6 1049.5,138.8 1046.3,140.1 1043.1,141.3 1039.9,142.6 1036.7,143.9 1033.5,145.1 1030.3,146.4 1027.2,147.7 1024.0,149.0 1020.8,150.2 1017.6,151.5 1014.4,152.7 1011.2,154.0 1008.0,155.2 1004.9,156.4 1001.7,157.6 998.5,158.7 995.3,159.8 992.1,160.8 988.9,161.7 985.7,162.6 982.6,163.5 979.4,164.3 976.2,165.2 973.0,165.8 969.8,166.4 966.6,167.1 963.4,167.8 960.2,168.6 957.1,169.3 953.9,170.3 950.7,171.4 947.5,172.7 944.3,174.1 941.1,175.6 937.9,177.2 934.7,178.9 931.6,180.7 928.4,182.6 925.2,184.5" fill="#ffc080" fill-opacity="0.10"/>
<polygon points="964.7,178.8 967.9,177.9 971.1,177.2 974.2,176.4 977.4,175.6 980.6,174.9 983.8,174.1 987.0,173.2 990.2,172.2 993.4,171.2 996.6,170.2 999.7,169.2 1002.9,168.1 1006.1,166.9 1009.3,165.7 1012.5,164.5 1015.7,163.2 1018.9,162.0 1022.0,160.7 1025.2,159.4 1028.4,158.2 1031.6,156.9 1034.8,155.6 1038.0,154.3 1041.1,153.0 1044.3,151.7 1047.5,150.4 1050.7,149.1 1053.9,147.9 1057.1,146.6 1060.3,145.3 1063.4,144.1 1066.6,142.9 1069.8,141.8 1073.0,140.7 1076.2,139.6 1079.4,138.5 1082.5,137.5 1085.7,136.4 1088.9,135.4 1092.1,134.3 1095.3,133.3 1098.5,132.2 1101.6,131.2 1104.8,130.1 1108.0,129.0 1111.2,127.9 1114.4,126.7 1117.6,125.5 1120.7,124.3 1113.1,116.8 1110.0,118.0 1106.8,119.2 1103.6,120.3 1100.4,121.4 1097.2,122.5 1094.0,123.6 1090.9,124.6 1087.7,125.7 1084.5,126.7 1081.3,127.7 1078.1,128.8 1074.9,129.8 1071.7,130.9 1068.6,131.9 1065.4,133.0 1062.2,134.1 1059.0,135.2 1055.8,136.4 1052.6,137.6 1049.5,138.8 1046.3,140.1 1043.1,141.3 1039.9,142.6 1036.7,143.9 1033.5,145.1 1030.3,146.4 1027.2,147.7 1024.0,149.0 1020.8,150.2 1017.6,151.5 1014.4,152.7 1011.2,154.0 1008.0,155.2 1004.9,156.4 1001.7,157.6 998.5,158.7 995.3,159.8 992.1,160.8 988.9,161.7 985.7,162.6 982.6,163.5 979.4,164.3 976.2,165.2 973.0,165.8 969.8,166.4 966.6,167.1 963.4,167.8 960.2,168.6 957.1,169.3" fill="#ffc080" fill-opacity="0.14"/>
<path d="M945.1,206.8L935.0,193.7M947.2,203.5L932.6,184.9M978.2,194.1L969.7,182.7M980.7,192.2L973.6,182.7M982.4,189.3L967.3,170.2M986.9,190.2L972.2,171.6M991.8,191.5L982.2,179.1M993.0,187.8L984.5,177.3M995.1,185.4L980.1,167.4M1001.3,188.1L993.9,179.0M1008.6,186.8L996.1,172.1M1010.5,179.0L1003.3,170.9M1016.7,181.2L1008.0,171.3M1025.2,180.9L1013.7,168.2M1026.9,177.8L1016.3,166.2M1030.3,176.7L1015.1,160.3M1035.0,177.0L1021.2,162.1M1034.6,171.7L1018.2,154.4M1037.5,170.1L1028.3,160.3M1040.1,168.1L1028.8,156.3M1054.1,168.9L1041.3,155.4M1054.3,164.4L1045.6,155.3M1061.7,158.1L1051.0,147.1M1070.2,162.5L1057.3,149.1" fill="none" stroke="#e8c060" stroke-opacity="0.75" stroke-width="0.55"/>
<path d="M952.4,204.5L938.8,186.8M956.9,204.8L942.0,185.0M962.2,200.0L950.1,184.0M963.2,195.5L950.2,178.7M968.3,196.9L959.7,185.3M968.6,191.6L959.6,179.9M971.3,189.8L958.2,173.1" fill="none" stroke="#f0d830" stroke-opacity="0.90" stroke-width="0.60"/>
<path d="M1070.6,153.7L1056.1,138.9M1076.0,154.8L1065.8,144.3M1079.3,153.7L1063.6,137.7M1084.5,154.6L1075.1,144.9M1083.3,149.0L1071.9,137.4M1090.6,152.1L1076.3,137.5M1092.6,149.8L1082.8,139.9M1097.3,150.3L1089.7,142.6M1095.4,144.0L1082.9,131.4M1098.6,142.9L1090.1,134.5M1108.3,148.4L1094.6,134.7M1108.7,144.6L1100.7,136.6M1109.2,140.8L1094.9,126.6M1118.0,145.3L1109.3,136.6M1114.5,137.6L1104.5,127.6M1126.5,140.8L1117.0,131.4M1127.5,137.5L1117.7,127.9M1128.5,134.1L1114.3,120.2" fill="none" stroke="#f4d8a0" stroke-opacity="0.75" stroke-width="0.55"/>
<path d="M824.7,320.9L800.8,297.0M827.9,316.7L804.0,292.8M831.1,312.6L807.2,288.7M834.3,308.6L810.4,284.7M837.5,304.8L813.6,280.7M840.7,301.0L816.8,276.9M843.9,297.4L820.0,273.2M847.1,293.9L823.1,269.6M850.2,290.6L826.3,266.1M853.4,287.3L829.5,262.6M856.6,284.2L832.7,259.3M859.8,281.1L835.9,256.0M863.0,278.1L839.1,252.8M866.2,275.2L842.3,249.7M869.4,272.3L845.5,246.6M872.6,269.5L848.7,243.4M875.8,266.7L851.9,240.4M879.0,264.0L855.1,237.3M882.1,261.3L858.2,234.3M885.3,258.7L861.4,231.3M888.5,256.1L864.6,228.5M891.7,253.5L867.8,225.7M894.9,251.1L871.0,223.0M898.1,248.7L874.2,220.3M901.3,246.3L877.4,217.7M904.5,244.1L880.6,215.0M907.6,241.9L883.8,212.4M910.8,239.7L886.9,209.8M914.0,237.7L890.1,207.3" fill="none" stroke="#000" stroke-opacity="0.50" stroke-width="0.35"/>
<path d="M917.2,235.7L893.3,204.8M920.4,233.7L896.5,202.5M923.6,231.8L899.7,200.3M926.8,230.1L902.9,198.2M930.0,228.3L906.1,196.2M933.1,226.6L909.3,194.2M936.3,224.8L912.4,192.2M939.5,223.0L915.6,190.3M942.7,221.1L918.8,188.4M945.9,219.1L922.0,186.4M949.1,217.1L925.2,184.5M952.3,215.2L928.4,182.6" fill="none" stroke="#000" stroke-opacity="0.60" stroke-width="0.45"/>
<path d="M955.4,213.4L931.6,180.7M958.6,211.7L934.7,178.9M961.8,210.1L937.9,177.2M965.0,208.6L941.1,175.6M968.2,207.1L944.3,174.1M971.4,205.7L947.5,172.7M974.6,204.4L950.7,171.4M977.7,203.2L953.9,170.3M980.9,202.1L957.1,169.3M984.1,201.0L960.2,168.6M987.3,200.0L963.4,167.8M990.5,199.0L966.6,167.1M993.7,197.9L969.8,166.4M996.9,196.7L973.0,165.8M1000.0,195.5L976.2,165.2M1003.2,194.2L979.4,164.3M1006.4,192.8L982.6,163.5M1009.6,191.5L985.7,162.6M1012.8,190.1L988.9,161.7M1016.0,188.6L992.1,160.8M1019.1,187.2L995.3,159.8M1022.3,185.7L998.5,158.7M1025.5,184.2L1001.7,157.6M1028.7,182.7L1004.9,156.4M1031.9,181.2L1008.0,155.2M1035.1,179.8L1011.2,154.0M1038.2,178.4L1014.4,152.7M1041.4,177.0L1017.6,151.5M1044.6,175.6L1020.8,150.2M1047.8,174.3L1024.0,149.0M1051.0,172.9L1027.2,147.7M1054.2,171.5L1030.3,146.4M1057.3,170.1L1033.5,145.1M1060.5,168.8L1036.7,143.9M1063.7,167.4L1039.9,142.6M1066.9,166.1L1043.1,141.3M1070.1,164.8L1046.3,140.1M1073.3,163.5L1049.5,138.8M1076.4,162.2L1052.6,137.6M1079.6,160.9L1055.8,136.4M1082.8,159.6L1059.0,135.2M1086.0,158.4L1062.2,134.1M1089.2,157.2L1065.4,133.0M1092.4,156.1L1068.6,131.9M1095.5,155.0L1071.7,130.9M1098.7,153.9L1074.9,129.8M1101.9,152.8L1078.1,128.8M1105.1,151.7L1081.3,127.7M1108.3,150.6L1084.5,126.7M1111.4,149.5L1087.7,125.7M1114.6,148.4L1090.9,124.6M1117.8,147.3L1094.0,123.6M1121.0,146.2L1097.2,122.5M1124.2,145.1L1100.4,121.4M1127.4,143.9L1103.6,120.3M1130.5,142.7L1106.8,119.2M1133.7,141.5L1110.0,118.0M1136.9,140.2L1113.1,116.8" fill="none" stroke="#000" stroke-opacity="0.60" stroke-width="0.50"/>
<path d="M972.6,188.9L957.5,169.9" fill="none" stroke="#000" stroke-opacity="0.80" stroke-width="1.00"/>
<path d="M800.8,297.0L804.0,292.8L807.2,288.7L810.4,284.7L813.6,280.7L816.8,276.9L820.0,273.2L823.1,269.6L826.3,266.1L829.5,262.6L832.7,259.3L835.9,256.0L839.1,252.8L842.3,249.7L845.5,246.6L848.7,243.4L851.9,240.4L855.1,237.3L858.2,234.3L861.4,231.3L864.6,228.5L867.8,225.7L871.0,223.0L874.2,220.3L877.4,217.7L880.6,215.0L883.8,212.4L886.9,209.8L890.1,207.3L893.3,204.8L896.5,202.5L899.7,200.3L902.9,198.2L906.1,196.2L909.3,194.2L912.4,192.2L915.6,190.3L918.8,188.4L922.0,186.4L925.2,184.5L928.4,182.6L931.6,180.7L934.7,178.9L937.9,177.2L941.1,175.6L944.3,174.1L947.5,172.7L950.7,171.4L953.9,170.3L957.1,169.3L960.2,168.6L963.4,167.8L966.6,167.1L969.8,166.4L973.0,165.8L976.2,165.2L979.4,164.3L982.6,163.5L985.7,162.6L988.9,161.7L992.1,160.8L995.3,159.8L998.5,158.7L1001.7,157.6L1004.9,156.4L1008.0,155.2L1011.2,154.0L1014.4,152.7L1017.6,151.5L1020.8,150.2L1024.0,149.0L1027.2,147.7L1030.3,146.4L1033.5,145.1L1036.7,143.9L1039.9,142.6L1043.1,141.3L1046.3,140.1L1049.5,138.8L1052.6,137.6L1055.8,136.4L1059.0,135.2L1062.2,134.1L1065.4,133.0L1068.6,131.9L1071.7,130.9L1074.9,129.8L1078.1,128.8L1081.3,127.7L1084.5,126.7L1087.7,125.7L1090.9,124.6L1094.0,123.6L1097.2,122.5L1100.4,121.4L1103.6,120.3L1106.8,119.2L1110.0,118.0L1113.1,116.8" fill="none" stroke="#000" stroke-opacity="0.65" stroke-width="0.45"/>
<path d="M824.7,320.9L827.9,316.7L831.1,312.6L834.3,308.6L837.5,304.8L840.7,301.0L843.9,297.4L847.1,293.9L850.2,290.6L853.4,287.3L856.6,284.2L859.8,281.1L863.0,278.1L866.2,275.2L869.4,272.3L872.6,269.5L875.8,266.7L879.0,264.0L882.1,261.3L885.3,258.7L888.5,256.1L891.7,253.5L894.9,251.1L898.1,248.7L901.3,246.3L904.5,244.1L907.6,241.9L910.8,239.7L914.0,237.7L917.2,235.7L920.4,233.7L923.6,231.8L926.8,230.1L930.0,228.3L933.1,226.6L936.3,224.8L939.5,223.0L942.7,221.1L945.9,219.1L949.1,217.1L952.3,215.2L955.4,213.4L958.6,211.7L961.8,210.1L965.0,208.6L968.2,207.1L971.4,205.7L974.6,204.4L977.7,203.2L980.9,202.1L984.1,201.0L987.3,200.0L990.5,199.0L993.7,197.9L996.9,196.7L1000.0,195.5L1003.2,194.2L1006.4,192.8L1009.6,191.5L1012.8,190.1L1016.0,188.6L1019.1,187.2L1022.3,185.7L1025.5,184.2L1028.7,182.7L1031.9,181.2L1035.1,179.8L1038.2,178.4L1041.4,177.0L1044.6,175.6L1047.8,174.3L1051.0,172.9L1054.2,171.5L1057.3,170.1L1060.5,168.8L1063.7,167.4L1066.9,166.1L1070.1,164.8L1073.3,163.5L1076.4,162.2L1079.6,160.9L1082.8,159.6L1086.0,158.4L1089.2,157.2L1092.4,156.1L1095.5,155.0L1098.7,153.9L1101.9,152.8L1105.1,151.7L1108.3,150.6L1111.4,149.5L1114.6,148.4L1117.8,147.3L1121.0,146.2L1124.2,145.1L1127.4,143.9L1130.5,142.7L1133.7,141.5L1136.9,140.2" fill="none" stroke="#000" stroke-opacity="0.85" stroke-width="0.85"/>
<path d="M1136.9,140.2L1113.1,116.8L1089.4,93.4L1065.6,69.9L1041.9,46.5L1018.1,23.0" fill="none" stroke="#0a0404" stroke-opacity=".9" stroke-width="1.2"/>
<g stroke="#1a1616" stroke-width=".9" fill="none">
<line x1="84.0" y1="104.0" x2="367.3" y2="157.9"/>
<line x1="367.3" y1="157.9" x2="522.8" y2="58.9"/>
<line x1="367.3" y1="157.9" x2="368.0" y2="333.4"/>
<line x1="84.0" y1="104.0" x2="84.0" y2="279.0"/>
<line x1="84.0" y1="279.0" x2="368.0" y2="333.4"/>
<line x1="368.0" y1="333.4" x2="522.8" y2="233.9"/>
<line x1="702.0" y1="47.5" x2="821.6" y2="164.3"/>
<line x1="821.6" y1="164.3" x2="1140.0" y2="121.2"/>
<line x1="821.6" y1="164.3" x2="821.5" y2="333.8"/>
<line x1="702.0" y1="47.5" x2="702.0" y2="215.0"/>
<line x1="702.0" y1="215.0" x2="821.5" y2="333.8"/>
<line x1="821.5" y1="333.8" x2="1140.8" y2="290.3"/>
</g>
<g stroke="#1c1818" stroke-width=".9" fill="none">
<line x1="84.0" y1="117.2" x2="77.5" y2="116.2"/>
<line x1="84.0" y1="136.0" x2="77.5" y2="135.0"/>
<line x1="84.0" y1="154.8" x2="77.5" y2="153.8"/>
<line x1="84.0" y1="173.5" x2="77.5" y2="172.5"/>
<line x1="84.0" y1="192.2" x2="77.5" y2="191.2"/>
<line x1="84.0" y1="211.0" x2="77.5" y2="210.0"/>
<line x1="84.0" y1="229.8" x2="77.5" y2="228.8"/>
<line x1="84.0" y1="248.5" x2="77.5" y2="247.5"/>
<line x1="84.0" y1="267.2" x2="77.5" y2="266.2"/>
<line x1="84.0" y1="107.7" x2="80.4" y2="107.1"/>
<line x1="84.0" y1="126.4" x2="80.4" y2="125.8"/>
<line x1="84.0" y1="145.2" x2="80.4" y2="144.6"/>
<line x1="84.0" y1="163.9" x2="80.4" y2="163.3"/>
<line x1="84.0" y1="182.7" x2="80.4" y2="182.1"/>
<line x1="84.0" y1="201.4" x2="80.4" y2="200.8"/>
<line x1="84.0" y1="220.2" x2="80.4" y2="219.6"/>
<line x1="84.0" y1="238.9" x2="80.4" y2="238.3"/>
<line x1="84.0" y1="257.7" x2="80.4" y2="257.1"/>
<line x1="84.0" y1="276.4" x2="80.4" y2="275.8"/>
<line x1="109.5" y1="283.9" x2="105.5" y2="285.9"/>
<line x1="138.5" y1="289.4" x2="134.5" y2="291.4"/>
<line x1="167.5" y1="295.0" x2="163.5" y2="297.0"/>
<line x1="196.5" y1="300.5" x2="192.5" y2="302.5"/>
<line x1="225.5" y1="306.1" x2="221.5" y2="308.1"/>
<line x1="254.5" y1="311.7" x2="250.5" y2="313.7"/>
<line x1="283.5" y1="317.2" x2="279.5" y2="319.2"/>
<line x1="312.5" y1="322.8" x2="308.5" y2="324.8"/>
<line x1="341.5" y1="328.3" x2="337.5" y2="330.3"/>
<line x1="95.0" y1="281.1" x2="92.6" y2="282.3"/>
<line x1="124.0" y1="286.7" x2="121.6" y2="287.9"/>
<line x1="153.0" y1="292.2" x2="150.6" y2="293.4"/>
<line x1="182.0" y1="297.8" x2="179.6" y2="299.0"/>
<line x1="211.0" y1="303.3" x2="208.6" y2="304.5"/>
<line x1="240.0" y1="308.9" x2="237.6" y2="310.1"/>
<line x1="269.0" y1="314.4" x2="266.6" y2="315.6"/>
<line x1="298.0" y1="320.0" x2="295.6" y2="321.2"/>
<line x1="327.0" y1="325.5" x2="324.6" y2="326.7"/>
<line x1="356.0" y1="331.1" x2="353.6" y2="332.3"/>
<line x1="368.0" y1="333.4" x2="374.0" y2="335.3"/>
<line x1="373.2" y1="330.1" x2="376.7" y2="331.2"/>
<line x1="378.3" y1="326.8" x2="381.8" y2="327.9"/>
<line x1="383.5" y1="323.4" x2="387.0" y2="324.6"/>
<line x1="388.6" y1="320.1" x2="392.1" y2="321.2"/>
<line x1="393.8" y1="316.8" x2="399.8" y2="318.7"/>
<line x1="399.0" y1="313.5" x2="402.5" y2="314.6"/>
<line x1="404.1" y1="310.2" x2="407.6" y2="311.3"/>
<line x1="409.3" y1="306.9" x2="412.8" y2="308.0"/>
<line x1="414.4" y1="303.6" x2="417.9" y2="304.7"/>
<line x1="419.6" y1="300.2" x2="425.6" y2="302.1"/>
<line x1="424.8" y1="296.9" x2="428.3" y2="298.0"/>
<line x1="429.9" y1="293.6" x2="433.4" y2="294.7"/>
<line x1="435.1" y1="290.3" x2="438.6" y2="291.4"/>
<line x1="440.2" y1="287.0" x2="443.7" y2="288.1"/>
<line x1="445.4" y1="283.6" x2="451.4" y2="285.5"/>
<line x1="450.6" y1="280.3" x2="454.1" y2="281.4"/>
<line x1="455.7" y1="277.0" x2="459.2" y2="278.1"/>
<line x1="460.9" y1="273.7" x2="464.4" y2="274.8"/>
<line x1="466.0" y1="270.4" x2="469.5" y2="271.5"/>
<line x1="471.2" y1="267.1" x2="477.2" y2="269.0"/>
<line x1="476.4" y1="263.8" x2="479.9" y2="264.9"/>
<line x1="481.5" y1="260.4" x2="485.0" y2="261.5"/>
<line x1="486.7" y1="257.1" x2="490.2" y2="258.2"/>
<line x1="491.8" y1="253.8" x2="495.3" y2="254.9"/>
<line x1="497.0" y1="250.5" x2="503.0" y2="252.4"/>
<line x1="502.2" y1="247.2" x2="505.7" y2="248.3"/>
<line x1="507.3" y1="243.9" x2="510.8" y2="245.0"/>
<line x1="512.5" y1="240.5" x2="516.0" y2="241.6"/>
<line x1="517.6" y1="237.2" x2="521.1" y2="238.3"/>
<line x1="522.8" y1="233.9" x2="528.8" y2="235.8"/>
<line x1="702.0" y1="47.5" x2="698.0" y2="43.8"/>
<line x1="702.0" y1="58.0" x2="699.6" y2="55.7"/>
<line x1="702.0" y1="68.4" x2="698.0" y2="64.7"/>
<line x1="702.0" y1="78.9" x2="699.6" y2="76.6"/>
<line x1="702.0" y1="89.4" x2="698.0" y2="85.6"/>
<line x1="702.0" y1="99.8" x2="699.6" y2="97.5"/>
<line x1="702.0" y1="110.3" x2="698.0" y2="106.6"/>
<line x1="702.0" y1="120.8" x2="699.6" y2="118.5"/>
<line x1="702.0" y1="131.3" x2="698.0" y2="127.5"/>
<line x1="702.0" y1="141.7" x2="699.6" y2="139.4"/>
<line x1="702.0" y1="152.2" x2="698.0" y2="148.4"/>
<line x1="702.0" y1="162.7" x2="699.6" y2="160.4"/>
<line x1="702.0" y1="173.1" x2="698.0" y2="169.4"/>
<line x1="702.0" y1="183.6" x2="699.6" y2="181.3"/>
<line x1="702.0" y1="194.1" x2="698.0" y2="190.3"/>
<line x1="702.0" y1="204.6" x2="699.6" y2="202.2"/>
<line x1="702.0" y1="215.0" x2="698.0" y2="211.3"/>
<line x1="702.0" y1="215.0" x2="696.4" y2="216.3"/>
<line x1="706.8" y1="219.8" x2="703.2" y2="220.6"/>
<line x1="711.6" y1="224.5" x2="708.0" y2="225.3"/>
<line x1="716.3" y1="229.2" x2="712.7" y2="230.1"/>
<line x1="721.1" y1="234.0" x2="717.5" y2="234.8"/>
<line x1="725.9" y1="238.8" x2="720.3" y2="240.1"/>
<line x1="730.7" y1="243.5" x2="727.1" y2="244.3"/>
<line x1="735.5" y1="248.2" x2="731.9" y2="249.1"/>
<line x1="740.2" y1="253.0" x2="736.6" y2="253.8"/>
<line x1="745.0" y1="257.8" x2="741.4" y2="258.6"/>
<line x1="749.8" y1="262.5" x2="744.2" y2="263.8"/>
<line x1="754.6" y1="267.2" x2="751.0" y2="268.1"/>
<line x1="759.4" y1="272.0" x2="755.8" y2="272.9"/>
<line x1="764.1" y1="276.8" x2="760.5" y2="277.6"/>
<line x1="768.9" y1="281.5" x2="765.3" y2="282.4"/>
<line x1="773.7" y1="286.2" x2="768.1" y2="287.6"/>
<line x1="778.5" y1="291.0" x2="774.9" y2="291.9"/>
<line x1="783.3" y1="295.8" x2="779.7" y2="296.6"/>
<line x1="788.0" y1="300.5" x2="784.4" y2="301.4"/>
<line x1="792.8" y1="305.2" x2="789.2" y2="306.1"/>
<line x1="797.6" y1="310.0" x2="792.0" y2="311.3"/>
<line x1="802.4" y1="314.8" x2="798.8" y2="315.6"/>
<line x1="807.2" y1="319.5" x2="803.6" y2="320.4"/>
<line x1="811.9" y1="324.2" x2="808.3" y2="325.1"/>
<line x1="816.7" y1="329.0" x2="813.1" y2="329.9"/>
<line x1="821.5" y1="333.8" x2="815.9" y2="335.1"/>
<line x1="821.5" y1="333.8" x2="825.5" y2="338.4"/>
<line x1="837.5" y1="331.6" x2="839.9" y2="334.4"/>
<line x1="853.4" y1="329.4" x2="857.4" y2="334.0"/>
<line x1="869.4" y1="327.2" x2="871.8" y2="330.0"/>
<line x1="885.4" y1="325.1" x2="889.4" y2="329.7"/>
<line x1="901.3" y1="322.9" x2="903.7" y2="325.7"/>
<line x1="917.3" y1="320.7" x2="921.3" y2="325.3"/>
<line x1="933.3" y1="318.5" x2="935.7" y2="321.3"/>
<line x1="949.2" y1="316.4" x2="953.2" y2="321.0"/>
<line x1="965.2" y1="314.2" x2="967.6" y2="317.0"/>
<line x1="981.1" y1="312.0" x2="985.1" y2="316.6"/>
<line x1="997.1" y1="309.9" x2="999.5" y2="312.7"/>
<line x1="1013.1" y1="307.7" x2="1017.1" y2="312.3"/>
<line x1="1029.0" y1="305.5" x2="1031.4" y2="308.3"/>
<line x1="1045.0" y1="303.3" x2="1049.0" y2="307.9"/>
<line x1="1061.0" y1="301.2" x2="1063.4" y2="304.0"/>
<line x1="1076.9" y1="299.0" x2="1080.9" y2="303.6"/>
<line x1="1092.9" y1="296.8" x2="1095.3" y2="299.6"/>
<line x1="1108.9" y1="294.6" x2="1112.9" y2="299.2"/>
<line x1="1124.8" y1="292.5" x2="1127.2" y2="295.3"/>
<line x1="1140.8" y1="290.3" x2="1144.8" y2="294.9"/>
</g>
<text class="s" x="74" y="122.3" text-anchor="end">410</text>
<text class="s" x="74" y="141.1" text-anchor="end">400</text>
<text class="s" x="74" y="159.8" text-anchor="end">390</text>
<text class="s" x="74" y="178.6" text-anchor="end">380</text>
<text class="s" x="74" y="197.3" text-anchor="end">370</text>
<text class="s" x="74" y="216.1" text-anchor="end">360</text>
<text class="s" x="74" y="234.8" text-anchor="end">350</text>
<text class="s" x="74" y="253.6" text-anchor="end">340</text>
<text class="s" x="74" y="272.4" text-anchor="end">330</text>
<text class="s" x="94.3" y="294.5" text-anchor="middle">0.1</text>
<text class="s" x="123.3" y="300.0" text-anchor="middle">0.2</text>
<text class="s" x="152.3" y="305.6" text-anchor="middle">0.3</text>
<text class="s" x="181.3" y="311.1" text-anchor="middle">0.4</text>
<text class="s" x="210.3" y="316.7" text-anchor="middle">0.5</text>
<text class="s" x="239.3" y="322.3" text-anchor="middle">0.6</text>
<text class="s" x="268.3" y="327.8" text-anchor="middle">0.7</text>
<text class="s" x="297.3" y="333.4" text-anchor="middle">0.8</text>
<text class="s" x="326.3" y="338.9" text-anchor="middle">0.9</text>
<text class="s" x="376.2" y="342.4">12</text>
<text class="s" x="402.0" y="325.8">11</text>
<text class="s" x="427.8" y="309.2">10</text>
<text class="s" x="453.6" y="292.6">9</text>
<text class="s" x="479.4" y="276.1">8</text>
<text class="s" x="505.2" y="259.5">7</text>
<text class="s" x="531.0" y="242.9">6</text>
<text class="s" x="695" y="49.5" text-anchor="end">410</text>
<text class="s" x="695" y="70.4" text-anchor="end">400</text>
<text class="s" x="695" y="91.3" text-anchor="end">390</text>
<text class="s" x="695" y="112.3" text-anchor="end">380</text>
<text class="s" x="695" y="133.2" text-anchor="end">370</text>
<text class="s" x="695" y="154.1" text-anchor="end">360</text>
<text class="s" x="695" y="175.1" text-anchor="end">350</text>
<text class="s" x="695" y="196.0" text-anchor="end">340</text>
<text class="s" x="695" y="217.0" text-anchor="end">330</text>
<text class="s" x="685.0" y="223.7" text-anchor="middle">60</text>
<text class="s" x="708.9" y="247.4" text-anchor="middle">50</text>
<text class="s" x="732.8" y="271.2" text-anchor="middle">40</text>
<text class="s" x="756.7" y="294.9" text-anchor="middle">30</text>
<text class="s" x="780.6" y="318.7" text-anchor="middle">20</text>
<text class="s" x="804.5" y="342.4" text-anchor="middle">10</text>
<text class="s" x="835.7" y="345.1" text-anchor="middle">1.0</text>
<text class="s" x="867.6" y="340.7" text-anchor="middle">0.9</text>
<text class="s" x="899.6" y="336.4" text-anchor="middle">0.8</text>
<text class="s" x="931.5" y="332.0" text-anchor="middle">0.7</text>
<text class="s" x="963.4" y="327.7" text-anchor="middle">0.6</text>
<text class="s" x="995.4" y="323.3" text-anchor="middle">0.5</text>
<text class="s" x="1027.3" y="319.0" text-anchor="middle">0.4</text>
<text class="s" x="1059.2" y="314.6" text-anchor="middle">0.3</text>
<text class="s" x="1091.1" y="310.3" text-anchor="middle">0.2</text>
<text class="s" x="1123.1" y="305.9" text-anchor="middle">0.1</text>
<text class="s" x="1155.0" y="301.6" text-anchor="middle">0.0</text>
<text class="m" font-size="18" transform="translate(33.2,203.6) rotate(-90)" textLength="38.4" lengthAdjust="spacingAndGlyphs">T<tspan font-style="normal">(</tspan>K<tspan font-style="normal">)</tspan></text>
<text class="m" font-size="18" transform="translate(660.8,126.5) rotate(-90)" textLength="38.6" lengthAdjust="spacingAndGlyphs">T<tspan font-style="normal">(</tspan>K<tspan font-style="normal">)</tspan></text>
<text class="m" font-size="18" x="152.8" y="326.7" textLength="42.3" lengthAdjust="spacingAndGlyphs">X<tspan class="r" font-style="normal" font-size="12.5" dy="3">1</tspan><tspan class="r" font-style="normal" dy="-3">,</tspan><tspan dx="2">Y</tspan><tspan class="r" font-style="normal" font-size="12.5" dy="3">1</tspan></text>
<text class="m" font-size="18" x="1008.0" y="337.3" textLength="42.3" lengthAdjust="spacingAndGlyphs">X<tspan class="r" font-style="normal" font-size="12.5" dy="3">1</tspan><tspan class="r" font-style="normal" dy="-3">,</tspan><tspan dx="2">Y</tspan><tspan class="r" font-style="normal" font-size="12.5" dy="3">1</tspan></text>
<text class="m" font-size="17" x="475.7" y="292" textLength="45.6" lengthAdjust="spacingAndGlyphs">P<tspan font-style="normal">(</tspan>bar<tspan font-style="normal">)</tspan></text>
<text class="m" font-size="18.5" x="713" y="282">K<tspan font-size="12.5" dy="3">r</tspan></text>
<text class="r" font-size="26.4"><tspan font-size="30.3" x="0.2" y="434.0">(</tspan><tspan font-size="26.4" x="11.6" y="434.0" textLength="13.1" lengthAdjust="spacingAndGlyphs">a</tspan><tspan font-size="30.3" x="24.7" y="434.0">)</tspan> <tspan font-size="26.4" x="49.2" y="434.0" textLength="103.2" lengthAdjust="spacingAndGlyphs">Pressure</tspan> <tspan font-size="26.4" x="166.8" y="434.0" textLength="64.8" lengthAdjust="spacingAndGlyphs">effect</tspan> <tspan font-size="26.4" x="246.2" y="434.0" textLength="31.2" lengthAdjust="spacingAndGlyphs">on</tspan> <tspan font-size="26.4" x="293.2" y="434.0" textLength="82.2" lengthAdjust="spacingAndGlyphs">bubble</tspan> <tspan font-size="26.4" x="389.2" y="434.0" textLength="45.8" lengthAdjust="spacingAndGlyphs">and</tspan> <tspan font-size="26.4" x="449.8" y="434.0" textLength="48.2" lengthAdjust="spacingAndGlyphs">dew</tspan> <tspan font-size="26.4" x="512.8" y="434.0" textLength="95.6" lengthAdjust="spacingAndGlyphs">reactive</tspan> <tspan font-size="26.4" x="0.2" y="469.3" textLength="95.4" lengthAdjust="spacingAndGlyphs">surfaces</tspan> <tspan font-size="30.3" x="105.4" y="469.3">(</tspan><tspan class="m" font-size="27.5" x="116.2" y="469.3" textLength="22.2" lengthAdjust="spacingAndGlyphs">K</tspan><tspan class="m" font-size="19.0" x="139.0" y="473.5" textLength="10.5" lengthAdjust="spacingAndGlyphs">r</tspan> <tspan font-size="26.4" x="157.8" y="469.3" textLength="21.4" lengthAdjust="spacingAndGlyphs">=</tspan> <tspan font-size="26.4" x="187.2" y="469.3" textLength="51.8" lengthAdjust="spacingAndGlyphs">49.0</tspan><tspan font-size="30.3" x="237.9" y="469.3">)</tspan><tspan font-size="26.4" x="248.0" y="469.3">.</tspan></text>
<text class="r" font-size="26.4"><tspan font-size="30.3" x="618.4" y="434.0">(</tspan><tspan font-size="26.4" x="629.3" y="434.0" textLength="13.9" lengthAdjust="spacingAndGlyphs">b</tspan><tspan font-size="30.3" x="643.7" y="434.0">)</tspan> <tspan font-size="26.4" x="665.2" y="434.0" textLength="112.4" lengthAdjust="spacingAndGlyphs">Chemical</tspan> <tspan font-size="26.4" x="783.6" y="434.0" textLength="138.0" lengthAdjust="spacingAndGlyphs">equilibrium</tspan> <tspan font-size="26.4" x="928.2" y="434.0" textLength="102.6" lengthAdjust="spacingAndGlyphs">constant</tspan> <tspan font-size="26.4" x="1036.8" y="434.0" textLength="65.0" lengthAdjust="spacingAndGlyphs">effect</tspan> <tspan font-size="26.4" x="1107.2" y="434.0" textLength="30.8" lengthAdjust="spacingAndGlyphs">on</tspan> <tspan font-size="26.4" x="1144.2" y="434.0" textLength="82.2" lengthAdjust="spacingAndGlyphs">bubble</tspan> <tspan font-size="26.4" x="618.2" y="469.3" textLength="45.4" lengthAdjust="spacingAndGlyphs">and</tspan> <tspan font-size="26.4" x="671.6" y="469.3" textLength="48.0" lengthAdjust="spacingAndGlyphs">dew</tspan> <tspan font-size="26.4" x="728.2" y="469.3" textLength="95.8" lengthAdjust="spacingAndGlyphs">reactive</tspan> <tspan font-size="26.4" x="831.8" y="469.3" textLength="96.5" lengthAdjust="spacingAndGlyphs">surfaces</tspan> <tspan font-size="30.3" x="937.0" y="469.3">(</tspan><tspan class="m" font-size="28.5" x="948.2" y="469.3" textLength="20.4" lengthAdjust="spacingAndGlyphs">P</tspan> <tspan font-size="26.4" x="976.4" y="469.3" textLength="19.9" lengthAdjust="spacingAndGlyphs">=</tspan> <tspan font-size="26.4" x="1005.6" y="469.3" textLength="14.0" lengthAdjust="spacingAndGlyphs">8</tspan> <tspan font-size="26.4" x="1028.2" y="469.3" textLength="49.8" lengthAdjust="spacingAndGlyphs">atm</tspan><tspan font-size="30.3" x="1077.1" y="469.3">)</tspan><tspan font-size="26.4" x="1086.2" y="469.3">.</tspan></text>

</svg>
</body></html>
